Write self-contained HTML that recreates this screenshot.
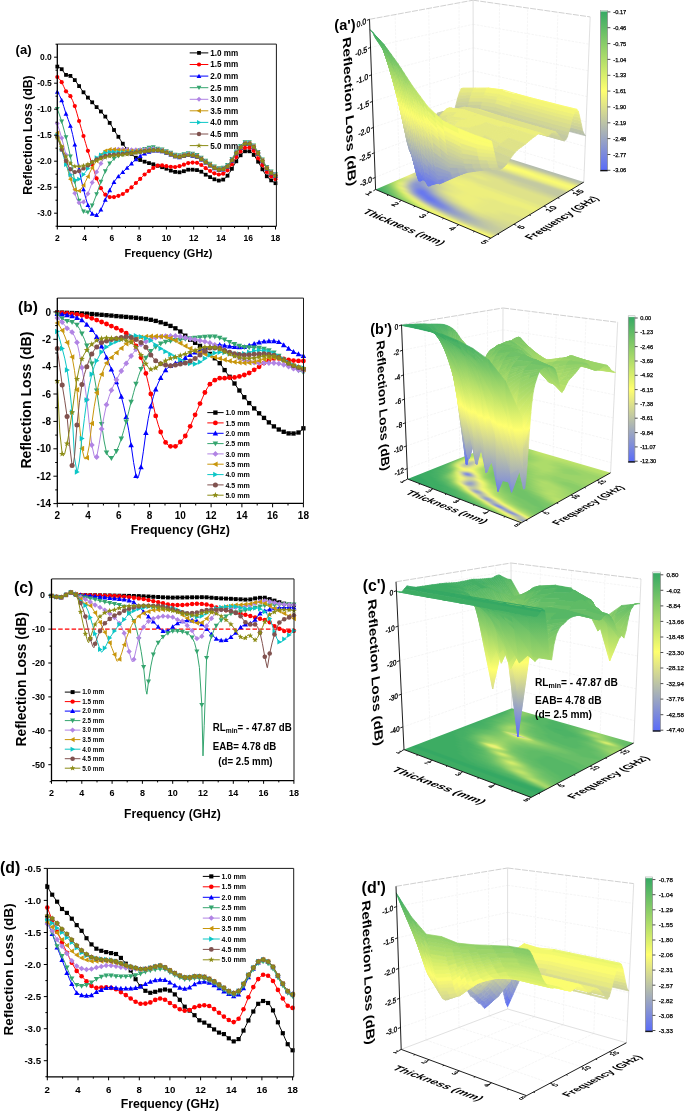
<!DOCTYPE html><html><head><meta charset="utf-8"><title>Reflection loss</title><style>html,body{margin:0;padding:0;background:#fff}#fig{position:relative;width:685px;height:1112px;overflow:hidden;background:#fff}.ly,.fl{position:absolute;left:0;top:0;display:block}.fl{transform-origin:0 0;overflow:hidden}.fl path{stroke:none!important}.c0{fill:#586afa;stroke:#586afa}.c1{fill:#5f70f4;stroke:#5f70f4}.c2{fill:#6677ee;stroke:#6677ee}.c3{fill:#6d7de8;stroke:#6d7de8}.c4{fill:#7483e2;stroke:#7483e2}.c5{fill:#7c8adc;stroke:#7c8adc}.c6{fill:#8390d6;stroke:#8390d6}.c7{fill:#8a96d0;stroke:#8a96d0}.c8{fill:#919dca;stroke:#919dca}.c9{fill:#98a3c4;stroke:#98a3c4}.c10{fill:#9fa9be;stroke:#9fa9be}.c11{fill:#a6b0b8;stroke:#a6b0b8}.c12{fill:#adb6b3;stroke:#adb6b3}.c13{fill:#b4bcad;stroke:#b4bcad}.c14{fill:#bbc3a7;stroke:#bbc3a7}.c15{fill:#c3c9a1;stroke:#c3c9a1}.c16{fill:#cacf9b;stroke:#cacf9b}.c17{fill:#d1d695;stroke:#d1d695}.c18{fill:#d8dc8f;stroke:#d8dc8f}.c19{fill:#dfe289;stroke:#dfe289}.c20{fill:#e6e983;stroke:#e6e983}.c21{fill:#edef7d;stroke:#edef7d}.c22{fill:#f4f577;stroke:#f4f577}.c23{fill:#fbfc71;stroke:#fbfc71}.c24{fill:#fbfd6e;stroke:#fbfd6e}.c25{fill:#f2f96d;stroke:#f2f96d}.c26{fill:#e9f66d;stroke:#e9f66d}.c27{fill:#e1f26d;stroke:#e1f26d}.c28{fill:#d8ee6c;stroke:#d8ee6c}.c29{fill:#cfeb6c;stroke:#cfeb6c}.c30{fill:#c7e76b;stroke:#c7e76b}.c31{fill:#bee36b;stroke:#bee36b}.c32{fill:#b6e06a;stroke:#b6e06a}.c33{fill:#addc6a;stroke:#addc6a}.c34{fill:#a4d86a;stroke:#a4d86a}.c35{fill:#9cd469;stroke:#9cd469}.c36{fill:#93d169;stroke:#93d169}.c37{fill:#8acd68;stroke:#8acd68}.c38{fill:#82c968;stroke:#82c968}.c39{fill:#79c667;stroke:#79c667}.c40{fill:#70c267;stroke:#70c267}.c41{fill:#68be67;stroke:#68be67}.c42{fill:#5fbb66;stroke:#5fbb66}.c43{fill:#57b766;stroke:#57b766}.c44{fill:#4eb365;stroke:#4eb365}.c45{fill:#45af65;stroke:#45af65}.c46{fill:#3dac64;stroke:#3dac64}.c47{fill:#34a864;stroke:#34a864}.v15_3{fill:url(#v15_3);stroke:url(#v15_3)}.v16_5{fill:url(#v16_5);stroke:url(#v16_5)}.v16_10{fill:url(#v16_10);stroke:url(#v16_10)}.v17_7{fill:url(#v17_7);stroke:url(#v17_7)}.v17_12{fill:url(#v17_12);stroke:url(#v17_12)}.v18_5{fill:url(#v18_5);stroke:url(#v18_5)}.v18_10{fill:url(#v18_10);stroke:url(#v18_10)}.v19_4{fill:url(#v19_4);stroke:url(#v19_4)}.v19_15{fill:url(#v19_15);stroke:url(#v19_15)}.v20_4{fill:url(#v20_4);stroke:url(#v20_4)}.v20_8{fill:url(#v20_8);stroke:url(#v20_8)}.v20_10{fill:url(#v20_10);stroke:url(#v20_10)}.v21_7{fill:url(#v21_7);stroke:url(#v21_7)}.v21_8{fill:url(#v21_8);stroke:url(#v21_8)}.v21_14{fill:url(#v21_14);stroke:url(#v21_14)}.v22_6{fill:url(#v22_6);stroke:url(#v22_6)}.v22_7{fill:url(#v22_7);stroke:url(#v22_7)}.v22_10{fill:url(#v22_10);stroke:url(#v22_10)}.v23_6{fill:url(#v23_6);stroke:url(#v23_6)}.v23_7{fill:url(#v23_7);stroke:url(#v23_7)}.v23_8{fill:url(#v23_8);stroke:url(#v23_8)}.v23_12{fill:url(#v23_12);stroke:url(#v23_12)}.v24_5{fill:url(#v24_5);stroke:url(#v24_5)}.v25_2{fill:url(#v25_2);stroke:url(#v25_2)}.v25_6{fill:url(#v25_6);stroke:url(#v25_6)}.v25_8{fill:url(#v25_8);stroke:url(#v25_8)}.v25_10{fill:url(#v25_10);stroke:url(#v25_10)}.v25_18{fill:url(#v25_18);stroke:url(#v25_18)}.v26_4{fill:url(#v26_4);stroke:url(#v26_4)}.v26_6{fill:url(#v26_6);stroke:url(#v26_6)}.v26_8{fill:url(#v26_8);stroke:url(#v26_8)}.v27_1{fill:url(#v27_1);stroke:url(#v27_1)}.v27_6{fill:url(#v27_6);stroke:url(#v27_6)}.v27_7{fill:url(#v27_7);stroke:url(#v27_7)}.v27_8{fill:url(#v27_8);stroke:url(#v27_8)}.v27_16{fill:url(#v27_16);stroke:url(#v27_16)}.v27_17{fill:url(#v27_17);stroke:url(#v27_17)}.v28_4{fill:url(#v28_4);stroke:url(#v28_4)}.v28_8{fill:url(#v28_8);stroke:url(#v28_8)}.v28_12{fill:url(#v28_12);stroke:url(#v28_12)}.v29_1{fill:url(#v29_1);stroke:url(#v29_1)}.v29_6{fill:url(#v29_6);stroke:url(#v29_6)}.v29_7{fill:url(#v29_7);stroke:url(#v29_7)}.v29_11{fill:url(#v29_11);stroke:url(#v29_11)}.v29_13{fill:url(#v29_13);stroke:url(#v29_13)}.v29_14{fill:url(#v29_14);stroke:url(#v29_14)}.v29_23{fill:url(#v29_23);stroke:url(#v29_23)}.v30_6{fill:url(#v30_6);stroke:url(#v30_6)}.v30_12{fill:url(#v30_12);stroke:url(#v30_12)}.v30_13{fill:url(#v30_13);stroke:url(#v30_13)}.v30_15{fill:url(#v30_15);stroke:url(#v30_15)}.v30_22{fill:url(#v30_22);stroke:url(#v30_22)}.v31_2{fill:url(#v31_2);stroke:url(#v31_2)}.v31_6{fill:url(#v31_6);stroke:url(#v31_6)}.v31_7{fill:url(#v31_7);stroke:url(#v31_7)}.v31_8{fill:url(#v31_8);stroke:url(#v31_8)}.v31_10{fill:url(#v31_10);stroke:url(#v31_10)}.v31_11{fill:url(#v31_11);stroke:url(#v31_11)}.v31_16{fill:url(#v31_16);stroke:url(#v31_16)}.v31_17{fill:url(#v31_17);stroke:url(#v31_17)}.v31_18{fill:url(#v31_18);stroke:url(#v31_18)}.v31_20{fill:url(#v31_20);stroke:url(#v31_20)}.v32_4{fill:url(#v32_4);stroke:url(#v32_4)}.v32_8{fill:url(#v32_8);stroke:url(#v32_8)}.v32_9{fill:url(#v32_9);stroke:url(#v32_9)}.v32_15{fill:url(#v32_15);stroke:url(#v32_15)}.v32_19{fill:url(#v32_19);stroke:url(#v32_19)}.v33_7{fill:url(#v33_7);stroke:url(#v33_7)}.v33_9{fill:url(#v33_9);stroke:url(#v33_9)}.v33_13{fill:url(#v33_13);stroke:url(#v33_13)}.v33_17{fill:url(#v33_17);stroke:url(#v33_17)}.v33_21{fill:url(#v33_21);stroke:url(#v33_21)}.v33_22{fill:url(#v33_22);stroke:url(#v33_22)}.v33_23{fill:url(#v33_23);stroke:url(#v33_23)}.v33_24{fill:url(#v33_24);stroke:url(#v33_24)}.v33_29{fill:url(#v33_29);stroke:url(#v33_29)}.v34_4{fill:url(#v34_4);stroke:url(#v34_4)}.v34_6{fill:url(#v34_6);stroke:url(#v34_6)}.v34_9{fill:url(#v34_9);stroke:url(#v34_9)}.v34_11{fill:url(#v34_11);stroke:url(#v34_11)}.v34_13{fill:url(#v34_13);stroke:url(#v34_13)}.v34_14{fill:url(#v34_14);stroke:url(#v34_14)}.v34_15{fill:url(#v34_15);stroke:url(#v34_15)}.v34_16{fill:url(#v34_16);stroke:url(#v34_16)}.v34_18{fill:url(#v34_18);stroke:url(#v34_18)}.v34_20{fill:url(#v34_20);stroke:url(#v34_20)}.v34_25{fill:url(#v34_25);stroke:url(#v34_25)}.v34_26{fill:url(#v34_26);stroke:url(#v34_26)}.v34_28{fill:url(#v34_28);stroke:url(#v34_28)}.v35_0{fill:url(#v35_0);stroke:url(#v35_0)}.v35_9{fill:url(#v35_9);stroke:url(#v35_9)}.v35_10{fill:url(#v35_10);stroke:url(#v35_10)}.v35_12{fill:url(#v35_12);stroke:url(#v35_12)}.v35_14{fill:url(#v35_14);stroke:url(#v35_14)}.v35_18{fill:url(#v35_18);stroke:url(#v35_18)}.v35_23{fill:url(#v35_23);stroke:url(#v35_23)}.v35_27{fill:url(#v35_27);stroke:url(#v35_27)}.v35_28{fill:url(#v35_28);stroke:url(#v35_28)}.v35_29{fill:url(#v35_29);stroke:url(#v35_29)}.v35_31{fill:url(#v35_31);stroke:url(#v35_31)}.v36_1{fill:url(#v36_1);stroke:url(#v36_1)}.v36_2{fill:url(#v36_2);stroke:url(#v36_2)}.v36_8{fill:url(#v36_8);stroke:url(#v36_8)}.v36_15{fill:url(#v36_15);stroke:url(#v36_15)}.v36_18{fill:url(#v36_18);stroke:url(#v36_18)}.v36_21{fill:url(#v36_21);stroke:url(#v36_21)}.v36_22{fill:url(#v36_22);stroke:url(#v36_22)}.v36_24{fill:url(#v36_24);stroke:url(#v36_24)}.v36_25{fill:url(#v36_25);stroke:url(#v36_25)}.v36_28{fill:url(#v36_28);stroke:url(#v36_28)}.v36_30{fill:url(#v36_30);stroke:url(#v36_30)}.v36_31{fill:url(#v36_31);stroke:url(#v36_31)}.v36_32{fill:url(#v36_32);stroke:url(#v36_32)}.v36_33{fill:url(#v36_33);stroke:url(#v36_33)}.v37_0{fill:url(#v37_0);stroke:url(#v37_0)}.v37_11{fill:url(#v37_11);stroke:url(#v37_11)}.v37_13{fill:url(#v37_13);stroke:url(#v37_13)}.v37_19{fill:url(#v37_19);stroke:url(#v37_19)}.v37_21{fill:url(#v37_21);stroke:url(#v37_21)}.v37_22{fill:url(#v37_22);stroke:url(#v37_22)}.v37_25{fill:url(#v37_25);stroke:url(#v37_25)}.v37_26{fill:url(#v37_26);stroke:url(#v37_26)}.v37_27{fill:url(#v37_27);stroke:url(#v37_27)}.v37_28{fill:url(#v37_28);stroke:url(#v37_28)}.v37_29{fill:url(#v37_29);stroke:url(#v37_29)}.v37_30{fill:url(#v37_30);stroke:url(#v37_30)}.v37_31{fill:url(#v37_31);stroke:url(#v37_31)}.v37_32{fill:url(#v37_32);stroke:url(#v37_32)}.v37_33{fill:url(#v37_33);stroke:url(#v37_33)}.v37_34{fill:url(#v37_34);stroke:url(#v37_34)}.v38_0{fill:url(#v38_0);stroke:url(#v38_0)}.v38_16{fill:url(#v38_16);stroke:url(#v38_16)}.v38_18{fill:url(#v38_18);stroke:url(#v38_18)}.v38_26{fill:url(#v38_26);stroke:url(#v38_26)}.v38_27{fill:url(#v38_27);stroke:url(#v38_27)}.v38_28{fill:url(#v38_28);stroke:url(#v38_28)}.v38_29{fill:url(#v38_29);stroke:url(#v38_29)}.v38_30{fill:url(#v38_30);stroke:url(#v38_30)}.v38_31{fill:url(#v38_31);stroke:url(#v38_31)}.v38_32{fill:url(#v38_32);stroke:url(#v38_32)}.v38_33{fill:url(#v38_33);stroke:url(#v38_33)}.v38_34{fill:url(#v38_34);stroke:url(#v38_34)}.v38_35{fill:url(#v38_35);stroke:url(#v38_35)}.v39_1{fill:url(#v39_1);stroke:url(#v39_1)}.v39_15{fill:url(#v39_15);stroke:url(#v39_15)}.v39_16{fill:url(#v39_16);stroke:url(#v39_16)}.v39_22{fill:url(#v39_22);stroke:url(#v39_22)}.v39_23{fill:url(#v39_23);stroke:url(#v39_23)}.v39_27{fill:url(#v39_27);stroke:url(#v39_27)}.v39_28{fill:url(#v39_28);stroke:url(#v39_28)}.v39_29{fill:url(#v39_29);stroke:url(#v39_29)}.v39_30{fill:url(#v39_30);stroke:url(#v39_30)}.v39_31{fill:url(#v39_31);stroke:url(#v39_31)}.v39_32{fill:url(#v39_32);stroke:url(#v39_32)}.v39_33{fill:url(#v39_33);stroke:url(#v39_33)}.v39_34{fill:url(#v39_34);stroke:url(#v39_34)}.v39_35{fill:url(#v39_35);stroke:url(#v39_35)}.v39_36{fill:url(#v39_36);stroke:url(#v39_36)}.v40_5{fill:url(#v40_5);stroke:url(#v40_5)}.v40_12{fill:url(#v40_12);stroke:url(#v40_12)}.v40_20{fill:url(#v40_20);stroke:url(#v40_20)}.v40_21{fill:url(#v40_21);stroke:url(#v40_21)}.v40_25{fill:url(#v40_25);stroke:url(#v40_25)}.v40_26{fill:url(#v40_26);stroke:url(#v40_26)}.v40_27{fill:url(#v40_27);stroke:url(#v40_27)}.v40_28{fill:url(#v40_28);stroke:url(#v40_28)}.v40_31{fill:url(#v40_31);stroke:url(#v40_31)}.v40_32{fill:url(#v40_32);stroke:url(#v40_32)}.v40_33{fill:url(#v40_33);stroke:url(#v40_33)}.v40_34{fill:url(#v40_34);stroke:url(#v40_34)}.v40_35{fill:url(#v40_35);stroke:url(#v40_35)}.v40_36{fill:url(#v40_36);stroke:url(#v40_36)}.v40_37{fill:url(#v40_37);stroke:url(#v40_37)}.v41_10{fill:url(#v41_10);stroke:url(#v41_10)}.v41_11{fill:url(#v41_11);stroke:url(#v41_11)}.v41_14{fill:url(#v41_14);stroke:url(#v41_14)}.v41_18{fill:url(#v41_18);stroke:url(#v41_18)}.v41_25{fill:url(#v41_25);stroke:url(#v41_25)}.v41_27{fill:url(#v41_27);stroke:url(#v41_27)}.v41_29{fill:url(#v41_29);stroke:url(#v41_29)}.v41_30{fill:url(#v41_30);stroke:url(#v41_30)}.v41_31{fill:url(#v41_31);stroke:url(#v41_31)}.v41_33{fill:url(#v41_33);stroke:url(#v41_33)}.v41_34{fill:url(#v41_34);stroke:url(#v41_34)}.v41_35{fill:url(#v41_35);stroke:url(#v41_35)}.v41_36{fill:url(#v41_36);stroke:url(#v41_36)}.v41_37{fill:url(#v41_37);stroke:url(#v41_37)}.v41_38{fill:url(#v41_38);stroke:url(#v41_38)}.v42_10{fill:url(#v42_10);stroke:url(#v42_10)}.v42_21{fill:url(#v42_21);stroke:url(#v42_21)}.v42_23{fill:url(#v42_23);stroke:url(#v42_23)}.v42_25{fill:url(#v42_25);stroke:url(#v42_25)}.v42_28{fill:url(#v42_28);stroke:url(#v42_28)}.v42_29{fill:url(#v42_29);stroke:url(#v42_29)}.v42_31{fill:url(#v42_31);stroke:url(#v42_31)}.v42_33{fill:url(#v42_33);stroke:url(#v42_33)}.v42_34{fill:url(#v42_34);stroke:url(#v42_34)}.v42_35{fill:url(#v42_35);stroke:url(#v42_35)}.v42_36{fill:url(#v42_36);stroke:url(#v42_36)}.v42_37{fill:url(#v42_37);stroke:url(#v42_37)}.v42_38{fill:url(#v42_38);stroke:url(#v42_38)}.v42_39{fill:url(#v42_39);stroke:url(#v42_39)}.v43_10{fill:url(#v43_10);stroke:url(#v43_10)}.v43_12{fill:url(#v43_12);stroke:url(#v43_12)}.v43_13{fill:url(#v43_13);stroke:url(#v43_13)}.v43_26{fill:url(#v43_26);stroke:url(#v43_26)}.v43_27{fill:url(#v43_27);stroke:url(#v43_27)}.v43_29{fill:url(#v43_29);stroke:url(#v43_29)}.v43_30{fill:url(#v43_30);stroke:url(#v43_30)}.v43_31{fill:url(#v43_31);stroke:url(#v43_31)}.v43_33{fill:url(#v43_33);stroke:url(#v43_33)}.v43_34{fill:url(#v43_34);stroke:url(#v43_34)}.v43_35{fill:url(#v43_35);stroke:url(#v43_35)}.v43_36{fill:url(#v43_36);stroke:url(#v43_36)}.v43_37{fill:url(#v43_37);stroke:url(#v43_37)}.v43_38{fill:url(#v43_38);stroke:url(#v43_38)}.v43_39{fill:url(#v43_39);stroke:url(#v43_39)}.v44_14{fill:url(#v44_14);stroke:url(#v44_14)}.v44_16{fill:url(#v44_16);stroke:url(#v44_16)}.v44_33{fill:url(#v44_33);stroke:url(#v44_33)}.v44_34{fill:url(#v44_34);stroke:url(#v44_34)}.v44_35{fill:url(#v44_35);stroke:url(#v44_35)}.v44_36{fill:url(#v44_36);stroke:url(#v44_36)}.v44_37{fill:url(#v44_37);stroke:url(#v44_37)}.v44_38{fill:url(#v44_38);stroke:url(#v44_38)}.v44_39{fill:url(#v44_39);stroke:url(#v44_39)}.v44_40{fill:url(#v44_40);stroke:url(#v44_40)}.v45_18{fill:url(#v45_18);stroke:url(#v45_18)}.v45_21{fill:url(#v45_21);stroke:url(#v45_21)}.v45_24{fill:url(#v45_24);stroke:url(#v45_24)}.v45_27{fill:url(#v45_27);stroke:url(#v45_27)}.v45_30{fill:url(#v45_30);stroke:url(#v45_30)}.v45_32{fill:url(#v45_32);stroke:url(#v45_32)}.v45_34{fill:url(#v45_34);stroke:url(#v45_34)}.v45_36{fill:url(#v45_36);stroke:url(#v45_36)}.v45_38{fill:url(#v45_38);stroke:url(#v45_38)}.v45_39{fill:url(#v45_39);stroke:url(#v45_39)}.v45_40{fill:url(#v45_40);stroke:url(#v45_40)}.v45_41{fill:url(#v45_41);stroke:url(#v45_41)}.v45_42{fill:url(#v45_42);stroke:url(#v45_42)}.v46_41{fill:url(#v46_41);stroke:url(#v46_41)}</style></head><body><div id="fig"><svg width="685" height="1112" viewBox="0 0 685 1112" class="ly"><path d="M370.5 47.4L473.1 24.3M473.1 24.3L589.1 44.2M371.5 74.8L473.2 47.8M473.2 47.8L588.1 70.7M372.5 101.4L473.2 70.8M473.2 70.8L587.1 96.6M373.4 127.4L473.3 93.3M473.3 93.3L586.1 121.8M374.3 152.8L473.3 115.3M473.3 115.3L585.2 146.4M375.2 177.5L473.3 136.9M473.3 136.9L584.2 170.5M498.5 155.2L499.5 4.0M525.2 163.6L527.7 8.0M553.6 172.6L557.9 12.3M399.5 179.2L395.1 14.6M431.0 165.6L428.7 8.4M459.8 153.2L459.0 2.8" stroke="#f1f1f1" stroke-width=".7" stroke-dasharray="2.5 1.2" fill="none"/>
<path d="M369.5 19.3L473.1 0.2M473.1 0.2L590.2 16.9" stroke="#c4c4c4" stroke-width=".8" stroke-dasharray="6 1.2" fill="none"/>
<path d="M473.3 147.3L473.1 0.2M583.8 182.1L590.2 16.9" stroke="#dcdcdc" stroke-width=".9" fill="none"/>
<path d="M402.5 350.2L502.9 329.8M502.9 329.8L616.5 347.1M403.5 374.9L502.9 351.0M502.9 351.0L615.4 371.2M404.5 399.1L502.8 371.9M502.8 371.9L614.3 394.8M405.4 422.8L502.7 392.4M502.7 392.4L613.2 417.9M406.3 446.0L502.6 412.5M502.6 412.5L612.1 440.5M407.2 468.6L502.6 432.2M502.6 432.2L611.1 462.7M527.0 448.4L528.8 311.2M553.1 456.0L556.4 314.7M580.9 464.1L586.0 318.4M429.0 470.5L424.6 321.0M459.8 458.2L457.6 315.5M487.9 447.1L487.5 310.6" stroke="#f1f1f1" stroke-width=".7" stroke-dasharray="2.5 1.2" fill="none"/>
<path d="M401.5 324.8L503.0 308.0M503.0 308.0L617.7 322.3" stroke="#c4c4c4" stroke-width=".8" stroke-dasharray="6 1.2" fill="none"/>
<path d="M502.5 441.3L503.0 308.0M610.6 472.8L617.7 322.3" stroke="#dcdcdc" stroke-width=".9" fill="none"/>
<path d="M396.4 590.7L511.0 570.7M511.0 570.7L640.6 587.7M398.1 626.1L511.2 601.2M511.2 601.2L639.1 622.3M399.8 660.6L511.4 630.9M511.4 630.9L637.6 656.0M401.4 694.2L511.5 660.1M511.5 660.1L636.1 688.8M402.9 726.9L511.7 688.6M511.7 688.6L634.7 720.8M539.4 716.2L540.3 566.6M568.9 724.6L571.6 570.5M600.2 733.5L605.1 574.6M430.4 739.5L424.4 577.2M465.2 726.2L461.6 571.1M497.0 714.0L495.3 565.6" stroke="#f1f1f1" stroke-width=".7" stroke-dasharray="2.5 1.2" fill="none"/>
<path d="M396.0 581.8L511.0 563.0M511.0 563.0L641.0 579.0" stroke="#c4c4c4" stroke-width=".8" stroke-dasharray="6 1.2" fill="none"/>
<path d="M511.8 708.4L511.0 563.0M633.7 743.0L641.0 579.0" stroke="#dcdcdc" stroke-width=".9" fill="none"/>
<path d="M396.7 906.5L507.6 885.3M507.6 885.3L632.8 903.3M397.7 937.8L507.6 912.3M507.6 912.3L631.4 933.9M398.7 968.4L507.6 938.7M507.6 938.7L630.0 963.7M399.6 998.3L507.6 964.6M507.6 964.6L628.7 992.9M400.5 1027.5L507.6 989.9M507.6 989.9L627.4 1021.4M534.6 1016.7L536.1 871.5M563.3 1024.8L566.5 875.3M593.8 1033.5L598.9 879.3M426.0 1040.0L422.2 882.0M459.0 1027.5L456.9 876.3M489.2 1016.0L488.4 871.1M429.2 1059.7L534.6 1016.7M459.3 1070.9L563.3 1024.8M491.6 1082.8L593.8 1033.5M426.0 1040.0L550.2 1083.2M459.0 1027.5L581.3 1066.7M489.2 1016.0L609.4 1051.8" stroke="#f1f1f1" stroke-width=".7" stroke-dasharray="2.5 1.2" fill="none"/>
<path d="M396.0 886.3L507.6 868.0M507.6 868.0L633.7 883.6" stroke="#c4c4c4" stroke-width=".8" stroke-dasharray="6 1.2" fill="none"/>
<path d="M507.6 1009.0L507.6 868.0M626.4 1042.8L633.7 883.6M401.2 1049.4L507.6 1009.0M507.6 1009.0L626.4 1042.8" stroke="#dcdcdc" stroke-width=".9" fill="none"/></svg><svg class="fl" width="200" height="64" viewBox="0 0 50 16" style="transform:matrix3d(0.88029,-0.08898,0,0.0008274,0.68296,0.21881,0,-0.0022760,0,0,1,0,375.600,189.500,0,1)"><filter id="fba" x="0" y="0" width="1" height="1"><feGaussianBlur stdDeviation="0.45 0.55"/></filter><g filter="url(#fba)" stroke="none"><path class="c1" d="M8 3.5h2v1h-2zM6 5.5h1v1h-1z"/><path class="c2" d="M7 3.5h1v1h-1zM7 4.5h1v1h-1zM7 5.5h1v1h-1z"/><path class="c3" d="M8 4.5h1v1h-1zM5 5.5h1v1h-1zM6 6.5h1v1h-1z"/><path class="c4" d="M10 3.5h1v1h-1zM6 4.5h1v1h-1zM5 6.5h1v1h-1zM5 7.5h1v1h-1z"/><path class="c5" d="M9 4.5h1v1h-1zM8 5.5h1v1h-1zM7 6.5h1v1h-1zM4 7.5h1v1h-1zM6 7.5h1v1h-1z"/><path class="c6" d="M11 1.5h3v1h-3zM9 2.5h3v1h-3zM6 3.5h1v1h-1zM4 6.5h1v1h-1zM5 8.5h1v1h-1z"/><path class="c7" d="M14 1.5h2v1h-2zM8 2.5h1v1h-1zM11 3.5h1v1h-1zM5 4.5h1v1h-1zM4 8.5h1v1h-1z"/><path class="c8" d="M10 1.5h1v1h-1zM16 1.5h1v1h-1zM12 2.5h1v1h-1zM10 4.5h1v1h-1zM4 5.5h1v1h-1zM6 8.5h1v1h-1zM4 9.5h1v1h-1z"/><path class="c9" d="M13 2.5h1v1h-1zM9 5.5h1v1h-1zM8 6.5h1v1h-1zM7 7.5h1v1h-1zM5 9.5h1v1h-1z"/><path class="c10" d="M9 1.5h1v1h-1zM17 1.5h1v1h-1zM7 2.5h1v1h-1zM14 2.5h1v1h-1zM12 3.5h1v1h-1zM3 7.5h1v1h-1zM3 8.5h1v1h-1zM3 9.5h1v1h-1zM4 10.5h2v1h-2z"/><path class="c11" d="M36 -2h2v2.5h-2zM49 -2h3v2.5h-3zM49 0.5h3v1h-3zM18 1.5h1v1h-1zM15 2.5h1v1h-1zM5 3.5h1v1h-1zM11 4.5h1v1h-1zM7 8.5h1v1h-1zM6 9.5h1v1h-1zM3 10.5h1v1h-1zM4 11.5h1v1h-1z"/><path class="c12" d="M35 -2h1v2.5h-1zM38 -2h1v2.5h-1zM48 -2h1v2.5h-1zM36 0.5h2v1h-2zM48 0.5h1v1h-1zM19 1.5h1v1h-1zM49 1.5h3v1h-3zM16 2.5h1v1h-1zM49 2.5h3v1h-3zM13 3.5h1v1h-1zM3 6.5h1v1h-1zM9 6.5h1v1h-1zM8 7.5h1v1h-1zM6 10.5h1v1h-1zM3 11.5h1v1h-1zM5 11.5h1v1h-1z"/><path class="c13" d="M33 -2h2v2.5h-2zM35 0.5h1v1h-1zM38 0.5h1v1h-1zM36 1.5h2v1h-2zM48 1.5h1v1h-1zM17 2.5h1v1h-1zM14 3.5h1v1h-1zM49 3.5h3v1h-3zM4 4.5h1v1h-1zM12 4.5h1v1h-1zM49 4.5h3v1h-3zM10 5.5h1v1h-1zM49 6.5h3v1h-3zM49 7.5h3v1h-3zM49 8.5h3v1h-3zM49 9.5h3v1h-3zM49 10.5h3v1h-3zM49 11.5h3v1h-3zM3 12.5h3v1h-3zM49 12.5h3v1h-3zM49 13.5h3v1h-3zM49 14.5h3v1h-3zM49 15.5h3v3.5h-3z"/><path class="c14" d="M26 -2h4v2.5h-4zM32 -2h1v2.5h-1zM39 -2h1v2.5h-1zM47 -2h1v2.5h-1zM16 0.5h2v1h-2zM34 0.5h1v1h-1zM39 0.5h1v1h-1zM47 0.5h1v1h-1zM8 1.5h1v1h-1zM20 1.5h1v1h-1zM35 1.5h1v1h-1zM38 1.5h1v1h-1zM6 2.5h1v1h-1zM36 2.5h3v1h-3zM48 2.5h1v1h-1zM15 3.5h1v1h-1zM48 3.5h1v1h-1zM48 4.5h1v1h-1zM49 5.5h3v1h-3zM48 7.5h1v1h-1zM8 8.5h1v1h-1zM48 8.5h1v1h-1zM2 9.5h1v1h-1zM7 9.5h1v1h-1zM48 9.5h1v1h-1zM2 10.5h1v1h-1zM48 10.5h1v1h-1zM2 11.5h1v1h-1zM6 11.5h1v1h-1zM48 11.5h1v1h-1zM48 12.5h1v1h-1zM3 13.5h2v1h-2zM48 13.5h1v1h-1zM48 14.5h1v1h-1zM48 15.5h1v3.5h-1z"/><path class="c15" d="M24 -2h2v2.5h-2zM30 -2h2v2.5h-2zM14 0.5h2v1h-2zM18 0.5h3v1h-3zM24 0.5h6v1h-6zM32 0.5h2v1h-2zM21 1.5h1v1h-1zM26 1.5h1v1h-1zM34 1.5h1v1h-1zM39 1.5h1v1h-1zM47 1.5h1v1h-1zM18 2.5h1v1h-1zM34 2.5h2v1h-2zM47 2.5h1v1h-1zM35 3.5h4v1h-4zM13 4.5h1v1h-1zM36 4.5h3v1h-3zM3 5.5h1v1h-1zM11 5.5h1v1h-1zM36 5.5h3v1h-3zM48 5.5h1v1h-1zM10 6.5h1v1h-1zM36 6.5h3v1h-3zM48 6.5h1v1h-1zM9 7.5h1v1h-1zM36 7.5h3v1h-3zM2 8.5h1v1h-1zM36 8.5h3v1h-3zM36 9.5h3v1h-3zM7 10.5h1v1h-1zM36 10.5h3v1h-3zM36 11.5h3v1h-3zM2 12.5h1v1h-1zM6 12.5h1v1h-1zM36 12.5h3v1h-3zM5 13.5h2v1h-2zM35 13.5h4v1h-4zM3 14.5h3v1h-3zM35 14.5h4v1h-4zM35 15.5h4v3.5h-4z"/><path class="c16" d="M21 -2h3v2.5h-3zM40 -2h1v2.5h-1zM46 -2h1v2.5h-1zM13 0.5h1v1h-1zM21 0.5h3v1h-3zM30 0.5h2v1h-2zM46 0.5h1v1h-1zM22 1.5h4v1h-4zM27 1.5h3v1h-3zM32 1.5h2v1h-2zM19 2.5h1v1h-1zM33 2.5h1v1h-1zM39 2.5h1v1h-1zM16 3.5h1v1h-1zM34 3.5h1v1h-1zM39 3.5h1v1h-1zM47 3.5h1v1h-1zM14 4.5h1v1h-1zM35 4.5h1v1h-1zM47 4.5h1v1h-1zM35 5.5h1v1h-1zM35 6.5h1v1h-1zM47 6.5h1v1h-1zM2 7.5h1v1h-1zM35 7.5h1v1h-1zM47 7.5h1v1h-1zM35 8.5h1v1h-1zM47 8.5h1v1h-1zM8 9.5h1v1h-1zM35 9.5h1v1h-1zM47 9.5h1v1h-1zM34 10.5h2v1h-2zM47 10.5h1v1h-1zM7 11.5h1v1h-1zM34 11.5h2v1h-2zM39 11.5h1v1h-1zM47 11.5h1v1h-1zM7 12.5h1v1h-1zM34 12.5h2v1h-2zM39 12.5h1v1h-1zM47 12.5h1v1h-1zM2 13.5h1v1h-1zM7 13.5h1v1h-1zM34 13.5h1v1h-1zM39 13.5h1v1h-1zM47 13.5h1v1h-1zM6 14.5h1v1h-1zM34 14.5h1v1h-1zM39 14.5h1v1h-1zM47 14.5h1v1h-1zM3 15.5h4v3.5h-4zM34 15.5h1v3.5h-1zM39 15.5h1v3.5h-1zM47 15.5h1v3.5h-1z"/><path class="c17" d="M19 -2h2v2.5h-2zM12 0.5h1v1h-1zM40 0.5h1v1h-1zM30 1.5h2v1h-2zM40 1.5h1v1h-1zM46 1.5h1v1h-1zM20 2.5h1v1h-1zM26 2.5h3v1h-3zM32 2.5h1v1h-1zM17 3.5h1v1h-1zM33 3.5h1v1h-1zM15 4.5h1v1h-1zM34 4.5h1v1h-1zM39 4.5h1v1h-1zM12 5.5h1v1h-1zM34 5.5h1v1h-1zM39 5.5h1v1h-1zM47 5.5h1v1h-1zM11 6.5h1v1h-1zM34 6.5h1v1h-1zM39 6.5h1v1h-1zM34 7.5h1v1h-1zM39 7.5h1v1h-1zM9 8.5h1v1h-1zM34 8.5h1v1h-1zM39 8.5h1v1h-1zM33 9.5h2v1h-2zM39 9.5h1v1h-1zM8 10.5h1v1h-1zM33 10.5h1v1h-1zM39 10.5h1v1h-1zM33 11.5h1v1h-1zM33 12.5h1v1h-1zM8 13.5h1v1h-1zM33 13.5h1v1h-1zM2 14.5h1v1h-1zM7 14.5h2v1h-2zM33 14.5h1v1h-1zM2 15.5h1v3.5h-1zM7 15.5h2v3.5h-2zM33 15.5h1v3.5h-1z"/><path class="c18" d="M18 -2h1v2.5h-1zM41 -2h1v2.5h-1zM45 -2h1v2.5h-1zM11 0.5h1v1h-1zM7 1.5h1v1h-1zM21 2.5h5v1h-5zM29 2.5h3v1h-3zM40 2.5h1v1h-1zM46 2.5h1v1h-1zM18 3.5h1v1h-1zM32 3.5h1v1h-1zM46 3.5h1v1h-1zM16 4.5h1v1h-1zM33 4.5h1v1h-1zM33 5.5h1v1h-1zM33 6.5h1v1h-1zM10 7.5h1v1h-1zM33 7.5h1v1h-1zM33 8.5h1v1h-1zM9 9.5h1v1h-1zM32 9.5h1v1h-1zM32 10.5h1v1h-1zM1 11.5h1v1h-1zM8 11.5h1v1h-1zM32 11.5h1v1h-1zM8 12.5h2v1h-2zM32 12.5h1v1h-1zM9 13.5h1v1h-1zM32 13.5h1v1h-1zM46 13.5h1v1h-1zM9 14.5h2v1h-2zM32 14.5h1v1h-1zM46 14.5h1v1h-1zM9 15.5h2v3.5h-2zM32 15.5h1v3.5h-1zM46 15.5h1v3.5h-1z"/><path class="c19" d="M17 -2h1v2.5h-1zM41 0.5h1v1h-1zM45 0.5h1v1h-1zM41 1.5h1v1h-1zM45 1.5h1v1h-1zM5 2.5h1v1h-1zM4 3.5h1v1h-1zM19 3.5h1v1h-1zM26 3.5h6v1h-6zM40 3.5h1v1h-1zM17 4.5h2v1h-2zM26 4.5h7v1h-7zM40 4.5h1v1h-1zM46 4.5h1v1h-1zM13 5.5h3v1h-3zM27 5.5h2v1h-2zM31 5.5h2v1h-2zM40 5.5h1v1h-1zM46 5.5h1v1h-1zM2 6.5h1v1h-1zM12 6.5h1v1h-1zM26 6.5h3v1h-3zM31 6.5h2v1h-2zM40 6.5h1v1h-1zM46 6.5h1v1h-1zM11 7.5h1v1h-1zM26 7.5h7v1h-7zM40 7.5h1v1h-1zM46 7.5h1v1h-1zM10 8.5h1v1h-1zM26 8.5h7v1h-7zM40 8.5h1v1h-1zM46 8.5h1v1h-1zM1 9.5h1v1h-1zM26 9.5h6v1h-6zM40 9.5h1v1h-1zM46 9.5h1v1h-1zM1 10.5h1v1h-1zM9 10.5h1v1h-1zM26 10.5h6v1h-6zM40 10.5h1v1h-1zM46 10.5h1v1h-1zM9 11.5h1v1h-1zM26 11.5h6v1h-6zM40 11.5h1v1h-1zM46 11.5h1v1h-1zM1 12.5h1v1h-1zM10 12.5h2v1h-2zM26 12.5h6v1h-6zM40 12.5h1v1h-1zM46 12.5h1v1h-1zM1 13.5h1v1h-1zM10 13.5h5v1h-5zM26 13.5h6v1h-6zM40 13.5h1v1h-1zM11 14.5h5v1h-5zM26 14.5h6v1h-6zM40 14.5h1v1h-1zM11 15.5h5v3.5h-5zM26 15.5h6v3.5h-6zM40 15.5h1v3.5h-1z"/><path class="c20" d="M16 -2h1v2.5h-1zM42 -2h3v2.5h-3zM10 0.5h1v1h-1zM42 0.5h1v1h-1zM41 2.5h1v1h-1zM45 2.5h1v1h-1zM20 3.5h2v1h-2zM23 3.5h3v1h-3zM3 4.5h1v1h-1zM19 4.5h1v1h-1zM24 4.5h2v1h-2zM16 5.5h3v1h-3zM25 5.5h2v1h-2zM29 5.5h2v1h-2zM13 6.5h5v1h-5zM25 6.5h1v1h-1zM29 6.5h2v1h-2zM12 7.5h1v1h-1zM24 7.5h2v1h-2zM11 8.5h1v1h-1zM24 8.5h2v1h-2zM10 9.5h1v1h-1zM17 9.5h1v1h-1zM24 9.5h2v1h-2zM10 10.5h10v1h-10zM24 10.5h2v1h-2zM10 11.5h10v1h-10zM24 11.5h2v1h-2zM12 12.5h8v1h-8zM24 12.5h2v1h-2zM15 13.5h6v1h-6zM24 13.5h2v1h-2zM1 14.5h1v1h-1zM16 14.5h5v1h-5zM24 14.5h2v1h-2zM1 15.5h1v3.5h-1zM16 15.5h5v3.5h-5zM24 15.5h2v3.5h-2z"/><path class="c21" d="M43 0.5h2v1h-2zM42 1.5h3v1h-3zM22 3.5h1v1h-1zM41 3.5h1v1h-1zM45 3.5h1v1h-1zM20 4.5h4v1h-4zM41 4.5h1v1h-1zM45 4.5h1v1h-1zM19 5.5h2v1h-2zM22 5.5h3v1h-3zM41 5.5h1v1h-1zM45 5.5h1v1h-1zM18 6.5h7v1h-7zM41 6.5h1v1h-1zM45 6.5h1v1h-1zM13 7.5h11v1h-11zM41 7.5h1v1h-1zM45 7.5h1v1h-1zM1 8.5h1v1h-1zM12 8.5h12v1h-12zM41 8.5h1v1h-1zM45 8.5h1v1h-1zM11 9.5h6v1h-6zM18 9.5h6v1h-6zM41 9.5h1v1h-1zM45 9.5h1v1h-1zM20 10.5h4v1h-4zM41 10.5h1v1h-1zM45 10.5h1v1h-1zM20 11.5h4v1h-4zM41 11.5h1v1h-1zM45 11.5h1v1h-1zM20 12.5h4v1h-4zM41 12.5h1v1h-1zM45 12.5h1v1h-1zM21 13.5h3v1h-3zM41 13.5h1v1h-1zM45 13.5h1v1h-1zM21 14.5h3v1h-3zM41 14.5h1v1h-1zM45 14.5h1v1h-1zM21 15.5h3v3.5h-3zM41 15.5h1v3.5h-1zM45 15.5h1v3.5h-1z"/><path class="c22" d="M15 -2h1v2.5h-1zM9 0.5h1v1h-1zM42 2.5h3v1h-3zM42 3.5h1v1h-1zM44 3.5h1v1h-1zM2 5.5h1v1h-1zM21 5.5h1v1h-1zM1 7.5h1v1h-1zM42 8.5h1v1h-1zM42 9.5h1v1h-1zM42 10.5h1v1h-1zM44 10.5h1v1h-1zM42 11.5h1v1h-1zM44 11.5h1v1h-1zM42 12.5h1v1h-1zM44 12.5h1v1h-1zM42 13.5h1v1h-1zM44 13.5h1v1h-1zM42 14.5h1v1h-1zM44 14.5h1v1h-1zM42 15.5h1v3.5h-1zM44 15.5h1v3.5h-1z"/><path class="c23" d="M6 1.5h1v1h-1zM43 3.5h1v1h-1zM42 4.5h3v1h-3zM42 5.5h3v1h-3zM42 6.5h3v1h-3zM42 7.5h3v1h-3zM43 8.5h2v1h-2zM43 9.5h2v1h-2zM43 10.5h1v1h-1zM-2 11.5h3v1h-3zM43 11.5h1v1h-1zM-2 12.5h3v1h-3zM43 12.5h1v1h-1zM-2 13.5h3v1h-3zM43 13.5h1v1h-1zM-2 14.5h3v1h-3zM43 14.5h1v1h-1zM-2 15.5h3v3.5h-3zM43 15.5h1v3.5h-1z"/><path class="c24" d="M14 -2h1v2.5h-1zM8 0.5h1v1h-1zM-2 9.5h3v1h-3zM-2 10.5h3v1h-3z"/><path class="c25" d="M4 2.5h1v1h-1zM1 6.5h1v1h-1zM-2 8.5h3v1h-3z"/><path class="c26" d="M13 -2h1v2.5h-1zM3 3.5h1v1h-1zM2 4.5h1v1h-1z"/><path class="c27" d="M7 0.5h1v1h-1zM5 1.5h1v1h-1zM1 5.5h1v1h-1zM-2 7.5h3v1h-3z"/><path class="c28" d="M12 -2h1v2.5h-1z"/><path class="c29" d="M-2 6.5h3v1h-3z"/><path class="c30" d="M11 -2h1v2.5h-1zM6 0.5h1v1h-1zM2 3.5h1v1h-1z"/><path class="c31" d="M3 2.5h1v1h-1zM1 4.5h1v1h-1z"/><path class="c32" d="M10 -2h1v2.5h-1zM4 1.5h1v1h-1zM-2 5.5h3v1h-3z"/><path class="c33" d="M9 -2h1v2.5h-1z"/><path class="c34" d="M5 0.5h1v1h-1zM2 2.5h1v1h-1zM1 3.5h1v1h-1z"/><path class="c35" d="M8 -2h1v2.5h-1zM-2 4.5h3v1h-3z"/><path class="c36" d="M7 -2h1v2.5h-1zM3 1.5h1v1h-1z"/><path class="c37" d="M4 0.5h1v1h-1zM1 2.5h1v1h-1z"/><path class="c38" d="M6 -2h1v2.5h-1zM2 1.5h1v1h-1zM-2 3.5h3v1h-3z"/><path class="c40" d="M5 -2h1v2.5h-1zM3 0.5h1v1h-1zM-2 2.5h3v1h-3z"/><path class="c41" d="M2 0.5h1v1h-1zM1 1.5h1v1h-1z"/><path class="c42" d="M4 -2h1v2.5h-1z"/><path class="c43" d="M3 -2h1v2.5h-1zM1 0.5h1v1h-1zM-2 1.5h3v1h-3z"/><path class="c44" d="M2 -2h1v2.5h-1z"/><path class="c45" d="M1 -2h1v2.5h-1zM-2 0.5h3v1h-3z"/><path class="c47" d="M-2 -2h3v2.5h-3z"/></g></svg>
<svg class="fl" width="400" height="128" viewBox="0 0 100 32" style="transform:matrix3d(0.44772,0.09045,0,0.0004187,0.31896,-0.22877,0,-0.0010921,0,0,1,0,407.600,479.000,0,1)"><filter id="fbb" x="0" y="0" width="1" height="1"><feGaussianBlur stdDeviation="0.5 0.6"/></filter><g filter="url(#fbb)" stroke="none"><path class="c1" d="M32 7.5h1v1h-1z"/><path class="c2" d="M33 7.5h1v1h-1z"/><path class="c3" d="M31 7.5h1v1h-1zM7 23.5h2v1h-2z"/><path class="c4" d="M6 27.5h1v1h-1z"/><path class="c5" d="M7 24.5h1v1h-1z"/><path class="c6" d="M34 7.5h1v1h-1zM21 11.5h2v1h-2zM15 15.5h1v1h-1zM11 19.5h1v1h-1zM6 26.5h1v1h-1zM5 27.5h1v1h-1z"/><path class="c7" d="M32 8.5h1v1h-1zM20 11.5h1v1h-1zM23 11.5h1v1h-1zM10 19.5h1v1h-1zM12 19.5h1v1h-1zM8 22.5h1v1h-1zM8 24.5h1v1h-1zM7 25.5h1v1h-1zM2 31.5h1v3.5h-1z"/><path class="c8" d="M30 7.5h1v1h-1zM31 8.5h1v1h-1zM14 15.5h1v1h-1zM16 15.5h1v1h-1zM6 28.5h1v1h-1z"/><path class="c9" d="M46 3.5h2v1h-2zM33 8.5h1v1h-1zM19 11.5h1v1h-1zM24 11.5h1v1h-1zM10 20.5h2v1h-2zM7 22.5h1v1h-1zM9 22.5h1v1h-1zM9 23.5h1v1h-1zM6 25.5h1v1h-1zM7 26.5h1v1h-1zM5 28.5h1v1h-1zM1 31.5h1v3.5h-1zM3 31.5h1v3.5h-1z"/><path class="c10" d="M44 3.5h2v1h-2zM48 3.5h2v1h-2zM32 6.5h2v1h-2zM15 16.5h1v1h-1zM12 18.5h1v1h-1zM9 21.5h1v1h-1zM5 26.5h1v1h-1z"/><path class="c11" d="M43 3.5h1v1h-1zM50 3.5h1v1h-1zM35 7.5h1v1h-1zM30 8.5h1v1h-1zM25 11.5h1v1h-1zM20 12.5h3v1h-3zM15 14.5h1v1h-1zM14 16.5h1v1h-1zM11 18.5h1v1h-1zM9 19.5h1v1h-1zM9 20.5h1v1h-1zM10 21.5h1v1h-1zM6 24.5h1v1h-1zM8 25.5h1v1h-1zM7 27.5h1v1h-1zM5 29.5h1v1h-1zM2 30.5h1v1h-1z"/><path class="c12" d="M51 3.5h1v1h-1zM31 6.5h1v1h-1zM29 7.5h1v1h-1zM34 8.5h1v1h-1zM22 10.5h1v1h-1zM19 12.5h1v1h-1zM23 12.5h1v1h-1zM16 14.5h1v1h-1zM13 15.5h1v1h-1zM17 15.5h1v1h-1zM13 16.5h1v1h-1zM16 16.5h1v1h-1zM12 20.5h1v1h-1zM8 21.5h1v1h-1zM3 30.5h1v1h-1zM4 31.5h1v3.5h-1z"/><path class="c13" d="M92 -2h6v2.5h-6zM42 3.5h1v1h-1zM52 3.5h1v1h-1zM34 6.5h1v1h-1zM21 10.5h1v1h-1zM23 10.5h2v1h-2zM18 11.5h1v1h-1zM26 11.5h1v1h-1zM12 17.5h3v1h-3zM10 18.5h1v1h-1zM13 18.5h1v1h-1zM13 19.5h1v1h-1zM11 21.5h1v1h-1zM10 22.5h1v1h-1zM6 23.5h1v1h-1zM9 24.5h1v1h-1zM4 29.5h1v1h-1zM6 29.5h1v1h-1zM4 30.5h1v1h-1z"/><path class="c14" d="M89 -2h3v2.5h-3zM98 -2h4v2.5h-4zM41 3.5h1v1h-1zM53 3.5h1v1h-1zM29 8.5h1v1h-1zM31 9.5h2v1h-2zM20 10.5h1v1h-1zM25 10.5h1v1h-1zM18 12.5h1v1h-1zM24 12.5h1v1h-1zM19 13.5h1v1h-1zM14 14.5h1v1h-1zM17 14.5h1v1h-1zM15 17.5h1v1h-1zM10 23.5h1v1h-1zM5 25.5h1v1h-1zM4 27.5h1v1h-1zM4 28.5h1v1h-1zM3 29.5h1v1h-1zM1 30.5h1v1h-1zM5 30.5h1v1h-1z"/><path class="c15" d="M87 -2h2v2.5h-2zM44 4.5h5v1h-5zM36 7.5h1v1h-1zM30 9.5h1v1h-1zM19 10.5h1v1h-1zM26 10.5h1v1h-1zM27 11.5h1v1h-1zM25 12.5h1v1h-1zM16 13.5h3v1h-3zM20 13.5h2v1h-2zM18 14.5h1v1h-1zM7 21.5h1v1h-1zM8 26.5h1v1h-1zM7 28.5h1v1h-1z"/><path class="c16" d="M85 -2h2v2.5h-2zM54 3.5h1v1h-1zM43 4.5h1v1h-1zM49 4.5h1v1h-1zM30 6.5h1v1h-1zM35 6.5h1v1h-1zM28 7.5h1v1h-1zM28 8.5h1v1h-1zM29 9.5h1v1h-1zM33 9.5h1v1h-1zM27 10.5h1v1h-1zM22 13.5h1v1h-1zM18 15.5h1v1h-1zM12 16.5h1v1h-1zM17 16.5h1v1h-1zM11 17.5h1v1h-1zM14 18.5h1v1h-1zM8 20.5h1v1h-1zM12 21.5h1v1h-1zM11 22.5h1v1h-1zM2 29.5h1v1h-1z"/><path class="c17" d="M84 -2h1v2.5h-1zM40 3.5h1v1h-1zM55 3.5h1v1h-1zM42 4.5h1v1h-1zM50 4.5h2v1h-2zM35 8.5h1v1h-1zM26 9.5h3v1h-3zM28 10.5h1v1h-1zM17 12.5h1v1h-1zM26 12.5h1v1h-1zM15 13.5h1v1h-1zM23 13.5h1v1h-1zM19 14.5h1v1h-1zM16 17.5h1v1h-1zM9 18.5h1v1h-1zM13 20.5h1v1h-1zM9 25.5h1v1h-1zM3 28.5h1v1h-1zM6 30.5h1v1h-1zM5 31.5h1v3.5h-1z"/><path class="c18" d="M82 -2h2v2.5h-2zM93 0.5h6v1h-6zM45 2.5h5v1h-5zM41 4.5h1v1h-1zM52 4.5h1v1h-1zM27 8.5h1v1h-1zM22 9.5h4v1h-4zM29 10.5h1v1h-1zM17 11.5h1v1h-1zM28 11.5h1v1h-1zM13 14.5h1v1h-1zM20 14.5h1v1h-1zM10 17.5h1v1h-1zM14 19.5h1v1h-1zM6 22.5h1v1h-1zM10 24.5h1v1h-1zM4 26.5h1v1h-1z"/><path class="c19" d="M81 -2h1v2.5h-1zM89 0.5h4v1h-4zM99 0.5h3v1h-3zM43 2.5h2v1h-2zM50 2.5h2v1h-2zM39 3.5h1v1h-1zM56 3.5h1v1h-1zM40 4.5h1v1h-1zM53 4.5h1v1h-1zM32 5.5h3v1h-3zM29 6.5h1v1h-1zM36 6.5h1v1h-1zM27 7.5h1v1h-1zM37 7.5h1v1h-1zM21 9.5h1v1h-1zM34 9.5h1v1h-1zM18 10.5h1v1h-1zM30 10.5h1v1h-1zM16 12.5h1v1h-1zM27 12.5h1v1h-1zM24 13.5h1v1h-1zM12 15.5h1v1h-1zM15 18.5h1v1h-1zM5 24.5h1v1h-1zM8 27.5h1v1h-1zM1 29.5h1v1h-1zM7 29.5h1v1h-1z"/><path class="c20" d="M79 -2h2v2.5h-2zM86 0.5h3v1h-3zM42 2.5h1v1h-1zM52 2.5h1v1h-1zM31 5.5h1v1h-1zM26 8.5h1v1h-1zM36 8.5h1v1h-1zM20 9.5h1v1h-1zM31 10.5h1v1h-1zM29 11.5h1v1h-1zM14 13.5h1v1h-1zM25 13.5h1v1h-1zM21 14.5h1v1h-1zM19 15.5h1v1h-1zM11 16.5h1v1h-1zM18 16.5h1v1h-1zM17 17.5h1v1h-1zM12 22.5h1v1h-1zM11 23.5h1v1h-1zM3 27.5h1v1h-1zM2 28.5h1v1h-1zM-2 31.5h3v3.5h-3z"/><path class="c21" d="M78 -2h1v2.5h-1zM83 0.5h3v1h-3zM53 2.5h1v1h-1zM57 3.5h1v1h-1zM39 4.5h1v1h-1zM54 4.5h1v1h-1zM35 5.5h1v1h-1zM41 5.5h8v1h-8zM37 6.5h1v1h-1zM25 8.5h1v1h-1zM32 10.5h1v1h-1zM22 14.5h1v1h-1zM16 18.5h1v1h-1zM8 19.5h1v1h-1zM14 20.5h1v1h-1zM13 21.5h1v1h-1zM4 25.5h1v1h-1zM10 25.5h1v1h-1zM9 26.5h1v1h-1zM8 28.5h1v1h-1zM6 31.5h1v3.5h-1z"/><path class="c22" d="M77 -2h1v2.5h-1zM81 0.5h2v1h-2zM41 2.5h1v1h-1zM54 2.5h1v1h-1zM58 3.5h1v1h-1zM38 4.5h1v1h-1zM55 4.5h1v1h-1zM36 5.5h5v1h-5zM49 5.5h2v1h-2zM28 6.5h1v1h-1zM38 6.5h1v1h-1zM26 7.5h1v1h-1zM38 7.5h1v1h-1zM24 8.5h1v1h-1zM19 9.5h1v1h-1zM35 9.5h1v1h-1zM15 12.5h1v1h-1zM28 12.5h1v1h-1zM26 13.5h1v1h-1zM23 14.5h1v1h-1zM20 15.5h1v1h-1zM9 17.5h1v1h-1zM7 20.5h1v1h-1z"/><path class="c23" d="M76 -2h1v2.5h-1zM78 0.5h3v1h-3zM93 1.5h6v1h-6zM55 2.5h1v1h-1zM38 3.5h1v1h-1zM56 4.5h1v1h-1zM51 5.5h1v1h-1zM39 6.5h1v1h-1zM23 8.5h1v1h-1zM37 8.5h1v1h-1zM17 10.5h1v1h-1zM33 10.5h1v1h-1zM16 11.5h1v1h-1zM30 11.5h1v1h-1zM13 13.5h1v1h-1zM19 16.5h1v1h-1zM18 17.5h1v1h-1zM15 19.5h1v1h-1zM6 21.5h1v1h-1zM5 23.5h1v1h-1zM11 24.5h1v1h-1zM3 26.5h1v1h-1zM-2 30.5h3v1h-3zM7 30.5h1v1h-1z"/><path class="c24" d="M75 -2h1v2.5h-1zM76 0.5h2v1h-2zM88 1.5h5v1h-5zM99 1.5h3v1h-3zM40 2.5h1v1h-1zM56 2.5h1v1h-1zM59 3.5h1v1h-1zM37 4.5h1v1h-1zM30 5.5h1v1h-1zM52 5.5h1v1h-1zM40 6.5h1v1h-1zM25 7.5h1v1h-1zM39 7.5h1v1h-1zM22 8.5h1v1h-1zM29 12.5h1v1h-1zM27 13.5h1v1h-1zM12 14.5h1v1h-1zM24 14.5h1v1h-1zM21 15.5h1v1h-1zM10 16.5h1v1h-1zM17 18.5h1v1h-1zM14 21.5h1v1h-1zM13 22.5h1v1h-1zM12 23.5h1v1h-1zM2 27.5h1v1h-1zM1 28.5h1v1h-1zM8 29.5h1v1h-1z"/><path class="c25" d="M74 -2h1v2.5h-1zM75 0.5h1v1h-1zM80 1.5h8v1h-8zM57 2.5h1v1h-1zM60 3.5h1v1h-1zM36 4.5h1v1h-1zM57 4.5h1v1h-1zM53 5.5h1v1h-1zM27 6.5h1v1h-1zM41 6.5h2v1h-2zM21 8.5h1v1h-1zM18 9.5h1v1h-1zM36 9.5h1v1h-1zM34 10.5h1v1h-1zM14 12.5h1v1h-1zM28 13.5h1v1h-1zM25 14.5h1v1h-1zM11 15.5h1v1h-1zM20 16.5h1v1h-1zM8 18.5h1v1h-1zM15 20.5h1v1h-1zM4 24.5h1v1h-1zM11 25.5h1v1h-1zM10 26.5h1v1h-1zM9 27.5h1v1h-1z"/><path class="c26" d="M73 -2h1v2.5h-1zM73 0.5h2v1h-2zM45 1.5h7v1h-7zM75 1.5h5v1h-5zM39 2.5h1v1h-1zM58 2.5h1v1h-1zM37 3.5h1v1h-1zM61 3.5h1v1h-1zM34 4.5h2v1h-2zM58 4.5h1v1h-1zM29 5.5h1v1h-1zM54 5.5h1v1h-1zM43 6.5h3v1h-3zM24 7.5h1v1h-1zM40 7.5h1v1h-1zM38 8.5h1v1h-1zM31 11.5h1v1h-1zM30 12.5h1v1h-1zM26 14.5h1v1h-1zM22 15.5h1v1h-1zM19 17.5h1v1h-1zM16 19.5h1v1h-1zM5 22.5h1v1h-1zM3 25.5h1v1h-1zM7 31.5h1v3.5h-1z"/><path class="c27" d="M71 -2h2v2.5h-2zM72 0.5h1v1h-1zM43 1.5h2v1h-2zM52 1.5h3v1h-3zM73 1.5h2v1h-2zM59 2.5h1v1h-1zM62 3.5h1v1h-1zM33 4.5h1v1h-1zM59 4.5h1v1h-1zM55 5.5h2v1h-2zM26 6.5h1v1h-1zM46 6.5h4v1h-4zM20 8.5h1v1h-1zM37 9.5h1v1h-1zM16 10.5h1v1h-1zM15 11.5h1v1h-1zM29 13.5h1v1h-1zM23 15.5h1v1h-1zM21 16.5h1v1h-1zM18 18.5h1v1h-1zM12 24.5h1v1h-1zM2 26.5h1v1h-1zM9 28.5h1v1h-1zM-2 29.5h3v1h-3zM8 30.5h1v1h-1z"/><path class="c28" d="M70 -2h1v2.5h-1zM70 0.5h2v1h-2zM42 1.5h1v1h-1zM55 1.5h1v1h-1zM71 1.5h2v1h-2zM38 2.5h1v1h-1zM60 2.5h1v1h-1zM71 2.5h11v1h-11zM94 2.5h8v1h-8zM63 3.5h3v1h-3zM32 4.5h1v1h-1zM60 4.5h1v1h-1zM28 5.5h1v1h-1zM57 5.5h1v1h-1zM50 6.5h2v1h-2zM23 7.5h1v1h-1zM41 7.5h1v1h-1zM39 8.5h1v1h-1zM17 9.5h1v1h-1zM35 10.5h1v1h-1zM32 11.5h1v1h-1zM31 12.5h1v1h-1zM12 13.5h1v1h-1zM11 14.5h1v1h-1zM27 14.5h1v1h-1zM9 16.5h1v1h-1zM22 16.5h1v1h-1zM20 17.5h1v1h-1zM7 19.5h1v1h-1zM6 20.5h1v1h-1zM16 20.5h1v1h-1zM15 21.5h1v1h-1zM14 22.5h1v1h-1zM13 23.5h1v1h-1zM11 26.5h1v1h-1zM10 27.5h1v1h-1z"/><path class="c29" d="M69 -2h1v2.5h-1zM69 0.5h1v1h-1zM41 1.5h1v1h-1zM56 1.5h2v1h-2zM68 1.5h3v1h-3zM61 2.5h3v1h-3zM66 2.5h5v1h-5zM82 2.5h12v1h-12zM36 3.5h1v1h-1zM66 3.5h10v1h-10zM31 4.5h1v1h-1zM61 4.5h1v1h-1zM58 5.5h1v1h-1zM25 6.5h1v1h-1zM52 6.5h1v1h-1zM42 7.5h1v1h-1zM19 8.5h1v1h-1zM40 8.5h1v1h-1zM38 9.5h1v1h-1zM13 12.5h1v1h-1zM30 13.5h1v1h-1zM28 14.5h1v1h-1zM10 15.5h1v1h-1zM24 15.5h1v1h-1zM23 16.5h1v1h-1zM8 17.5h1v1h-1zM21 17.5h1v1h-1zM19 18.5h1v1h-1zM17 19.5h1v1h-1zM5 21.5h1v1h-1zM4 23.5h1v1h-1zM12 25.5h1v1h-1zM1 27.5h1v1h-1zM9 29.5h1v1h-1z"/><path class="c30" d="M68 -2h1v2.5h-1zM68 0.5h1v1h-1zM58 1.5h2v1h-2zM66 1.5h2v1h-2zM37 2.5h1v1h-1zM64 2.5h2v1h-2zM76 3.5h3v1h-3zM62 4.5h2v1h-2zM27 5.5h1v1h-1zM59 5.5h1v1h-1zM24 6.5h1v1h-1zM53 6.5h2v1h-2zM22 7.5h1v1h-1zM43 7.5h1v1h-1zM41 8.5h1v1h-1zM15 10.5h1v1h-1zM36 10.5h1v1h-1zM33 11.5h1v1h-1zM99 11.5h3v1h-3zM32 12.5h1v1h-1zM99 12.5h3v1h-3zM99 13.5h3v1h-3zM25 15.5h1v1h-1zM22 17.5h1v1h-1zM20 18.5h1v1h-1zM17 20.5h1v1h-1zM16 21.5h1v1h-1zM15 22.5h1v1h-1zM3 24.5h1v1h-1zM13 24.5h1v1h-1zM2 25.5h1v1h-1zM-2 28.5h3v1h-3zM10 28.5h1v1h-1zM8 31.5h1v3.5h-1z"/><path class="c31" d="M67 -2h1v2.5h-1zM66 0.5h2v1h-2zM40 1.5h1v1h-1zM60 1.5h6v1h-6zM35 3.5h1v1h-1zM79 3.5h3v1h-3zM64 4.5h13v1h-13zM60 5.5h1v1h-1zM55 6.5h1v1h-1zM44 7.5h1v1h-1zM18 8.5h1v1h-1zM42 8.5h1v1h-1zM16 9.5h1v1h-1zM39 9.5h1v1h-1zM99 10.5h3v1h-3zM14 11.5h1v1h-1zM96 11.5h3v1h-3zM96 12.5h3v1h-3zM31 13.5h1v1h-1zM96 13.5h3v1h-3zM29 14.5h1v1h-1zM95 14.5h7v1h-7zM26 15.5h1v1h-1zM95 15.5h7v1h-7zM24 16.5h1v1h-1zM96 16.5h6v1h-6zM23 17.5h1v1h-1zM96 17.5h6v1h-6zM7 18.5h1v1h-1zM97 18.5h5v1h-5zM18 19.5h1v1h-1zM98 19.5h4v1h-4zM98 20.5h4v1h-4zM98 21.5h4v1h-4zM4 22.5h1v1h-1zM98 22.5h4v1h-4zM14 23.5h1v1h-1zM99 23.5h3v1h-3zM98 24.5h4v1h-4zM13 25.5h1v1h-1zM98 25.5h4v1h-4zM1 26.5h1v1h-1zM12 26.5h1v1h-1zM98 26.5h4v1h-4zM11 27.5h1v1h-1zM98 27.5h4v1h-4zM98 28.5h4v1h-4zM10 29.5h1v1h-1zM98 29.5h4v1h-4zM9 30.5h1v1h-1zM98 30.5h4v1h-4zM37 31.5h3v3.5h-3zM99 31.5h3v3.5h-3z"/><path class="c32" d="M66 -2h1v2.5h-1zM64 0.5h2v1h-2zM39 1.5h1v1h-1zM82 3.5h2v1h-2zM30 4.5h1v1h-1zM77 4.5h3v1h-3zM26 5.5h1v1h-1zM61 5.5h2v1h-2zM23 6.5h1v1h-1zM56 6.5h2v1h-2zM21 7.5h1v1h-1zM45 7.5h2v1h-2zM43 8.5h1v1h-1zM40 9.5h1v1h-1zM37 10.5h1v1h-1zM96 10.5h3v1h-3zM34 11.5h1v1h-1zM94 11.5h2v1h-2zM12 12.5h1v1h-1zM33 12.5h1v1h-1zM94 12.5h2v1h-2zM11 13.5h1v1h-1zM32 13.5h1v1h-1zM93 13.5h3v1h-3zM10 14.5h1v1h-1zM30 14.5h1v1h-1zM92 14.5h3v1h-3zM27 15.5h1v1h-1zM90 15.5h5v1h-5zM25 16.5h1v1h-1zM92 16.5h4v1h-4zM24 17.5h1v1h-1zM93 17.5h3v1h-3zM21 18.5h2v1h-2zM94 18.5h3v1h-3zM19 19.5h1v1h-1zM94 19.5h4v1h-4zM5 20.5h1v1h-1zM18 20.5h1v1h-1zM95 20.5h3v1h-3zM17 21.5h1v1h-1zM95 21.5h3v1h-3zM16 22.5h1v1h-1zM95 22.5h3v1h-3zM55 23.5h1v1h-1zM95 23.5h4v1h-4zM14 24.5h1v1h-1zM95 24.5h3v1h-3zM95 25.5h3v1h-3zM95 26.5h3v1h-3zM42 27.5h8v1h-8zM94 27.5h4v1h-4zM11 28.5h1v1h-1zM42 28.5h4v1h-4zM94 28.5h4v1h-4zM39 29.5h3v1h-3zM94 29.5h4v1h-4zM37 30.5h5v1h-5zM94 30.5h4v1h-4zM36 31.5h1v3.5h-1zM40 31.5h2v3.5h-2zM94 31.5h5v3.5h-5z"/><path class="c33" d="M65 -2h1v2.5h-1zM51 0.5h13v1h-13zM36 2.5h1v1h-1zM34 3.5h1v1h-1zM84 3.5h2v1h-2zM95 3.5h7v1h-7zM29 4.5h1v1h-1zM80 4.5h2v1h-2zM25 5.5h1v1h-1zM63 5.5h14v1h-14zM22 6.5h1v1h-1zM58 6.5h2v1h-2zM20 7.5h1v1h-1zM47 7.5h4v1h-4zM17 8.5h1v1h-1zM44 8.5h1v1h-1zM41 9.5h1v1h-1zM96 9.5h6v1h-6zM38 10.5h1v1h-1zM94 10.5h2v1h-2zM92 11.5h2v1h-2zM34 12.5h1v1h-1zM92 12.5h2v1h-2zM90 13.5h3v1h-3zM88 14.5h4v1h-4zM9 15.5h1v1h-1zM28 15.5h1v1h-1zM76 15.5h14v1h-14zM8 16.5h1v1h-1zM26 16.5h1v1h-1zM75 16.5h17v1h-17zM25 17.5h1v1h-1zM74 17.5h19v1h-19zM23 18.5h1v1h-1zM72 18.5h12v1h-12zM91 18.5h3v1h-3zM6 19.5h1v1h-1zM20 19.5h1v1h-1zM69 19.5h14v1h-14zM92 19.5h2v1h-2zM19 20.5h1v1h-1zM73 20.5h4v1h-4zM92 20.5h3v1h-3zM4 21.5h1v1h-1zM18 21.5h1v1h-1zM92 21.5h3v1h-3zM55 22.5h2v1h-2zM92 22.5h3v1h-3zM3 23.5h1v1h-1zM15 23.5h1v1h-1zM50 23.5h5v1h-5zM56 23.5h3v1h-3zM93 23.5h2v1h-2zM2 24.5h1v1h-1zM49 24.5h9v1h-9zM92 24.5h3v1h-3zM14 25.5h1v1h-1zM46 25.5h11v1h-11zM92 25.5h3v1h-3zM13 26.5h1v1h-1zM42 26.5h14v1h-14zM92 26.5h3v1h-3zM12 27.5h1v1h-1zM40 27.5h2v1h-2zM50 27.5h5v1h-5zM92 27.5h2v1h-2zM39 28.5h3v1h-3zM46 28.5h6v1h-6zM92 28.5h2v1h-2zM11 29.5h1v1h-1zM37 29.5h2v1h-2zM42 29.5h7v1h-7zM92 29.5h2v1h-2zM10 30.5h1v1h-1zM36 30.5h1v1h-1zM42 30.5h4v1h-4zM92 30.5h2v1h-2zM9 31.5h1v3.5h-1zM35 31.5h1v3.5h-1zM42 31.5h2v3.5h-2zM92 31.5h2v3.5h-2z"/><path class="c34" d="M63 -2h2v2.5h-2zM47 0.5h4v1h-4zM38 1.5h1v1h-1zM86 3.5h9v1h-9zM82 4.5h3v1h-3zM94 4.5h8v1h-8zM24 5.5h1v1h-1zM77 5.5h3v1h-3zM97 5.5h5v1h-5zM60 6.5h2v1h-2zM99 6.5h3v1h-3zM51 7.5h2v1h-2zM45 8.5h4v1h-4zM97 8.5h5v1h-5zM15 9.5h1v1h-1zM42 9.5h2v1h-2zM94 9.5h2v1h-2zM14 10.5h1v1h-1zM39 10.5h1v1h-1zM92 10.5h2v1h-2zM13 11.5h1v1h-1zM35 11.5h1v1h-1zM90 11.5h2v1h-2zM89 12.5h3v1h-3zM33 13.5h1v1h-1zM86 13.5h4v1h-4zM31 14.5h1v1h-1zM76 14.5h12v1h-12zM29 15.5h1v1h-1zM73 15.5h3v1h-3zM27 16.5h2v1h-2zM71 16.5h4v1h-4zM7 17.5h1v1h-1zM26 17.5h1v1h-1zM70 17.5h4v1h-4zM24 18.5h1v1h-1zM67 18.5h5v1h-5zM84 18.5h7v1h-7zM21 19.5h1v1h-1zM63 19.5h6v1h-6zM83 19.5h9v1h-9zM20 20.5h1v1h-1zM65 20.5h8v1h-8zM77 20.5h8v1h-8zM88 20.5h4v1h-4zM55 21.5h4v1h-4zM69 21.5h10v1h-10zM89 21.5h3v1h-3zM3 22.5h1v1h-1zM17 22.5h1v1h-1zM51 22.5h4v1h-4zM57 22.5h3v1h-3zM90 22.5h2v1h-2zM16 23.5h1v1h-1zM48 23.5h2v1h-2zM59 23.5h2v1h-2zM90 23.5h3v1h-3zM15 24.5h1v1h-1zM46 24.5h3v1h-3zM58 24.5h2v1h-2zM90 24.5h2v1h-2zM1 25.5h1v1h-1zM42 25.5h4v1h-4zM57 25.5h2v1h-2zM90 25.5h2v1h-2zM40 26.5h2v1h-2zM56 26.5h2v1h-2zM90 26.5h2v1h-2zM-2 27.5h3v1h-3zM39 27.5h1v1h-1zM55 27.5h2v1h-2zM89 27.5h3v1h-3zM12 28.5h1v1h-1zM37 28.5h2v1h-2zM52 28.5h4v1h-4zM89 28.5h3v1h-3zM36 29.5h1v1h-1zM49 29.5h5v1h-5zM76 29.5h1v1h-1zM89 29.5h3v1h-3zM35 30.5h1v1h-1zM46 30.5h5v1h-5zM74 30.5h7v1h-7zM89 30.5h3v1h-3zM34 31.5h1v3.5h-1zM44 31.5h5v3.5h-5zM73 31.5h10v3.5h-10zM89 31.5h3v3.5h-3z"/><path class="c35" d="M62 -2h1v2.5h-1zM44 0.5h3v1h-3zM37 1.5h1v1h-1zM35 2.5h1v1h-1zM33 3.5h1v1h-1zM28 4.5h1v1h-1zM85 4.5h9v1h-9zM23 5.5h1v1h-1zM80 5.5h3v1h-3zM93 5.5h4v1h-4zM21 6.5h1v1h-1zM62 6.5h3v1h-3zM66 6.5h11v1h-11zM95 6.5h4v1h-4zM19 7.5h1v1h-1zM53 7.5h2v1h-2zM97 7.5h5v1h-5zM16 8.5h1v1h-1zM49 8.5h3v1h-3zM94 8.5h3v1h-3zM44 9.5h2v1h-2zM92 9.5h2v1h-2zM40 10.5h2v1h-2zM90 10.5h2v1h-2zM36 11.5h1v1h-1zM88 11.5h2v1h-2zM11 12.5h1v1h-1zM35 12.5h1v1h-1zM85 12.5h4v1h-4zM10 13.5h1v1h-1zM34 13.5h1v1h-1zM75 13.5h11v1h-11zM9 14.5h1v1h-1zM32 14.5h1v1h-1zM72 14.5h4v1h-4zM30 15.5h1v1h-1zM70 15.5h3v1h-3zM29 16.5h1v1h-1zM68 16.5h3v1h-3zM27 17.5h1v1h-1zM66 17.5h4v1h-4zM6 18.5h1v1h-1zM25 18.5h1v1h-1zM63 18.5h4v1h-4zM22 19.5h2v1h-2zM59 19.5h4v1h-4zM4 20.5h1v1h-1zM21 20.5h1v1h-1zM55 20.5h10v1h-10zM85 20.5h3v1h-3zM19 21.5h2v1h-2zM51 21.5h4v1h-4zM59 21.5h10v1h-10zM79 21.5h10v1h-10zM18 22.5h1v1h-1zM48 22.5h3v1h-3zM60 22.5h21v1h-21zM86 22.5h4v1h-4zM2 23.5h1v1h-1zM17 23.5h1v1h-1zM45 23.5h3v1h-3zM61 23.5h3v1h-3zM70 23.5h7v1h-7zM88 23.5h2v1h-2zM16 24.5h1v1h-1zM43 24.5h3v1h-3zM60 24.5h2v1h-2zM70 24.5h8v1h-8zM87 24.5h3v1h-3zM15 25.5h1v1h-1zM40 25.5h2v1h-2zM59 25.5h2v1h-2zM70 25.5h9v1h-9zM86 25.5h4v1h-4zM14 26.5h1v1h-1zM39 26.5h1v1h-1zM58 26.5h2v1h-2zM71 26.5h10v1h-10zM85 26.5h5v1h-5zM13 27.5h1v1h-1zM37 27.5h2v1h-2zM57 27.5h2v1h-2zM71 27.5h18v1h-18zM13 28.5h1v1h-1zM36 28.5h1v1h-1zM56 28.5h2v1h-2zM70 28.5h19v1h-19zM12 29.5h1v1h-1zM35 29.5h1v1h-1zM54 29.5h3v1h-3zM70 29.5h6v1h-6zM77 29.5h12v1h-12zM11 30.5h1v1h-1zM34 30.5h1v1h-1zM51 30.5h4v1h-4zM69 30.5h5v1h-5zM81 30.5h8v1h-8zM10 31.5h1v3.5h-1zM49 31.5h4v3.5h-4zM69 31.5h4v3.5h-4zM83 31.5h6v3.5h-6z"/><path class="c36" d="M60 -2h2v2.5h-2zM42 0.5h2v1h-2zM34 2.5h1v1h-1zM27 4.5h1v1h-1zM22 5.5h1v1h-1zM83 5.5h10v1h-10zM20 6.5h1v1h-1zM65 6.5h1v1h-1zM77 6.5h4v1h-4zM93 6.5h2v1h-2zM55 7.5h4v1h-4zM95 7.5h2v1h-2zM52 8.5h3v1h-3zM93 8.5h1v1h-1zM14 9.5h1v1h-1zM46 9.5h5v1h-5zM90 9.5h2v1h-2zM13 10.5h1v1h-1zM42 10.5h2v1h-2zM88 10.5h2v1h-2zM12 11.5h1v1h-1zM37 11.5h2v1h-2zM85 11.5h3v1h-3zM36 12.5h1v1h-1zM75 12.5h10v1h-10zM35 13.5h1v1h-1zM72 13.5h3v1h-3zM33 14.5h1v1h-1zM69 14.5h3v1h-3zM31 15.5h1v1h-1zM68 15.5h2v1h-2zM30 16.5h1v1h-1zM65 16.5h3v1h-3zM28 17.5h2v1h-2zM62 17.5h4v1h-4zM26 18.5h2v1h-2zM58 18.5h5v1h-5zM5 19.5h1v1h-1zM24 19.5h1v1h-1zM55 19.5h4v1h-4zM22 20.5h2v1h-2zM52 20.5h3v1h-3zM3 21.5h1v1h-1zM21 21.5h2v1h-2zM49 21.5h2v1h-2zM19 22.5h2v1h-2zM45 22.5h3v1h-3zM81 22.5h5v1h-5zM18 23.5h1v1h-1zM43 23.5h2v1h-2zM64 23.5h6v1h-6zM77 23.5h11v1h-11zM1 24.5h1v1h-1zM17 24.5h1v1h-1zM40 24.5h3v1h-3zM62 24.5h8v1h-8zM78 24.5h9v1h-9zM16 25.5h1v1h-1zM39 25.5h1v1h-1zM61 25.5h9v1h-9zM79 25.5h7v1h-7zM-2 26.5h3v1h-3zM15 26.5h1v1h-1zM37 26.5h2v1h-2zM60 26.5h2v1h-2zM66 26.5h5v1h-5zM81 26.5h4v1h-4zM14 27.5h1v1h-1zM59 27.5h2v1h-2zM67 27.5h4v1h-4zM14 28.5h1v1h-1zM35 28.5h1v1h-1zM58 28.5h3v1h-3zM67 28.5h3v1h-3zM13 29.5h1v1h-1zM34 29.5h1v1h-1zM57 29.5h3v1h-3zM67 29.5h3v1h-3zM12 30.5h1v1h-1zM33 30.5h1v1h-1zM55 30.5h3v1h-3zM66 30.5h3v1h-3zM11 31.5h1v3.5h-1zM33 31.5h1v3.5h-1zM53 31.5h4v3.5h-4zM66 31.5h3v3.5h-3z"/><path class="c37" d="M58 -2h2v2.5h-2zM40 0.5h2v1h-2zM36 1.5h1v1h-1zM32 3.5h1v1h-1zM26 4.5h1v1h-1zM21 5.5h1v1h-1zM19 6.5h1v1h-1zM81 6.5h5v1h-5zM90 6.5h3v1h-3zM18 7.5h1v1h-1zM59 7.5h4v1h-4zM69 7.5h8v1h-8zM93 7.5h2v1h-2zM15 8.5h1v1h-1zM55 8.5h5v1h-5zM72 8.5h6v1h-6zM90 8.5h3v1h-3zM51 9.5h4v1h-4zM73 9.5h6v1h-6zM86 9.5h4v1h-4zM44 10.5h4v1h-4zM73 10.5h15v1h-15zM39 11.5h2v1h-2zM74 11.5h11v1h-11zM10 12.5h1v1h-1zM37 12.5h2v1h-2zM71 12.5h4v1h-4zM36 13.5h2v1h-2zM69 13.5h3v1h-3zM34 14.5h2v1h-2zM67 14.5h2v1h-2zM8 15.5h1v1h-1zM32 15.5h1v1h-1zM65 15.5h3v1h-3zM7 16.5h1v1h-1zM31 16.5h1v1h-1zM62 16.5h3v1h-3zM6 17.5h1v1h-1zM30 17.5h1v1h-1zM57 17.5h5v1h-5zM5 18.5h1v1h-1zM28 18.5h1v1h-1zM54 18.5h4v1h-4zM25 19.5h2v1h-2zM52 19.5h3v1h-3zM24 20.5h2v1h-2zM49 20.5h3v1h-3zM23 21.5h2v1h-2zM46 21.5h3v1h-3zM2 22.5h1v1h-1zM21 22.5h2v1h-2zM42 22.5h3v1h-3zM19 23.5h2v1h-2zM40 23.5h3v1h-3zM18 24.5h2v1h-2zM39 24.5h1v1h-1zM-2 25.5h3v1h-3zM17 25.5h2v1h-2zM37 25.5h2v1h-2zM16 26.5h1v1h-1zM36 26.5h1v1h-1zM62 26.5h4v1h-4zM15 27.5h1v1h-1zM36 27.5h1v1h-1zM61 27.5h6v1h-6zM15 28.5h1v1h-1zM34 28.5h1v1h-1zM61 28.5h6v1h-6zM14 29.5h1v1h-1zM33 29.5h1v1h-1zM60 29.5h7v1h-7zM13 30.5h1v1h-1zM32 30.5h1v1h-1zM58 30.5h8v1h-8zM12 31.5h1v3.5h-1zM32 31.5h1v3.5h-1zM57 31.5h9v3.5h-9z"/><path class="c38" d="M56 -2h2v2.5h-2zM39 0.5h1v1h-1zM35 1.5h1v1h-1zM33 2.5h1v1h-1zM31 3.5h1v1h-1zM24 4.5h2v1h-2zM20 5.5h1v1h-1zM86 6.5h4v1h-4zM17 7.5h1v1h-1zM63 7.5h6v1h-6zM77 7.5h5v1h-5zM90 7.5h3v1h-3zM60 8.5h12v1h-12zM78 8.5h12v1h-12zM13 9.5h1v1h-1zM55 9.5h6v1h-6zM68 9.5h5v1h-5zM79 9.5h7v1h-7zM12 10.5h1v1h-1zM48 10.5h6v1h-6zM69 10.5h4v1h-4zM41 11.5h3v1h-3zM70 11.5h4v1h-4zM39 12.5h3v1h-3zM68 12.5h3v1h-3zM9 13.5h1v1h-1zM38 13.5h2v1h-2zM66 13.5h3v1h-3zM36 14.5h2v1h-2zM63 14.5h4v1h-4zM33 15.5h2v1h-2zM61 15.5h4v1h-4zM32 16.5h2v1h-2zM56 16.5h6v1h-6zM31 17.5h2v1h-2zM52 17.5h5v1h-5zM29 18.5h2v1h-2zM51 18.5h3v1h-3zM4 19.5h1v1h-1zM27 19.5h2v1h-2zM49 19.5h3v1h-3zM3 20.5h1v1h-1zM26 20.5h2v1h-2zM46 20.5h3v1h-3zM2 21.5h1v1h-1zM25 21.5h2v1h-2zM42 21.5h4v1h-4zM23 22.5h3v1h-3zM40 22.5h2v1h-2zM1 23.5h1v1h-1zM21 23.5h2v1h-2zM39 23.5h1v1h-1zM20 24.5h2v1h-2zM37 24.5h2v1h-2zM19 25.5h2v1h-2zM36 25.5h1v1h-1zM17 26.5h3v1h-3zM35 26.5h1v1h-1zM16 27.5h2v1h-2zM34 27.5h2v1h-2zM16 28.5h1v1h-1zM33 28.5h1v1h-1zM15 29.5h2v1h-2zM31 29.5h2v1h-2zM14 30.5h2v1h-2zM31 30.5h1v1h-1zM13 31.5h2v3.5h-2zM30 31.5h2v3.5h-2z"/><path class="c39" d="M53 -2h3v2.5h-3zM38 0.5h1v1h-1zM34 1.5h1v1h-1zM32 2.5h1v1h-1zM23 4.5h1v1h-1zM19 5.5h1v1h-1zM18 6.5h1v1h-1zM16 7.5h1v1h-1zM82 7.5h8v1h-8zM14 8.5h1v1h-1zM61 9.5h7v1h-7zM54 10.5h15v1h-15zM11 11.5h1v1h-1zM44 11.5h9v1h-9zM67 11.5h3v1h-3zM42 12.5h10v1h-10zM64 12.5h4v1h-4zM40 13.5h5v1h-5zM55 13.5h11v1h-11zM8 14.5h1v1h-1zM38 14.5h3v1h-3zM54 14.5h9v1h-9zM7 15.5h1v1h-1zM35 15.5h3v1h-3zM54 15.5h7v1h-7zM6 16.5h1v1h-1zM34 16.5h4v1h-4zM51 16.5h5v1h-5zM5 17.5h1v1h-1zM33 17.5h3v1h-3zM49 17.5h3v1h-3zM4 18.5h1v1h-1zM31 18.5h3v1h-3zM47 18.5h4v1h-4zM3 19.5h1v1h-1zM29 19.5h3v1h-3zM47 19.5h2v1h-2zM28 20.5h3v1h-3zM41 20.5h5v1h-5zM27 21.5h3v1h-3zM38 21.5h4v1h-4zM1 22.5h1v1h-1zM26 22.5h2v1h-2zM37 22.5h3v1h-3zM23 23.5h4v1h-4zM37 23.5h2v1h-2zM-2 24.5h3v1h-3zM22 24.5h4v1h-4zM35 24.5h2v1h-2zM21 25.5h5v1h-5zM33 25.5h3v1h-3zM20 26.5h5v1h-5zM32 26.5h3v1h-3zM18 27.5h6v1h-6zM31 27.5h3v1h-3zM17 28.5h6v1h-6zM30 28.5h3v1h-3zM17 29.5h6v1h-6zM28 29.5h3v1h-3zM16 30.5h4v1h-4zM26 30.5h5v1h-5zM15 31.5h3v3.5h-3zM25 31.5h5v3.5h-5z"/><path class="c40" d="M52 -2h1v2.5h-1zM37 0.5h1v1h-1zM33 1.5h1v1h-1zM31 2.5h1v1h-1zM29 3.5h2v1h-2zM21 4.5h2v1h-2zM18 5.5h1v1h-1zM17 6.5h1v1h-1zM13 8.5h1v1h-1zM12 9.5h1v1h-1zM11 10.5h1v1h-1zM10 11.5h1v1h-1zM53 11.5h14v1h-14zM9 12.5h1v1h-1zM52 12.5h12v1h-12zM8 13.5h1v1h-1zM45 13.5h10v1h-10zM7 14.5h1v1h-1zM41 14.5h13v1h-13zM38 15.5h16v1h-16zM5 16.5h1v1h-1zM38 16.5h13v1h-13zM4 17.5h1v1h-1zM36 17.5h13v1h-13zM3 18.5h1v1h-1zM34 18.5h13v1h-13zM32 19.5h15v1h-15zM2 20.5h1v1h-1zM31 20.5h10v1h-10zM1 21.5h1v1h-1zM30 21.5h8v1h-8zM28 22.5h9v1h-9zM-2 23.5h3v1h-3zM27 23.5h10v1h-10zM26 24.5h9v1h-9zM26 25.5h7v1h-7zM25 26.5h7v1h-7zM24 27.5h7v1h-7zM23 28.5h7v1h-7zM23 29.5h5v1h-5zM20 30.5h6v1h-6zM18 31.5h7v3.5h-7z"/><path class="c41" d="M50 -2h2v2.5h-2zM36 0.5h1v1h-1zM32 1.5h1v1h-1zM30 2.5h1v1h-1zM27 3.5h2v1h-2zM20 4.5h1v1h-1zM17 5.5h1v1h-1zM16 6.5h1v1h-1zM15 7.5h1v1h-1zM12 8.5h1v1h-1zM11 9.5h1v1h-1zM10 10.5h1v1h-1zM8 12.5h1v1h-1zM6 15.5h1v1h-1zM4 16.5h1v1h-1zM3 17.5h1v1h-1zM2 19.5h1v1h-1zM1 20.5h1v1h-1zM-2 22.5h3v1h-3z"/><path class="c42" d="M48 -2h2v2.5h-2zM34 0.5h2v1h-2zM30 1.5h2v1h-2zM27 2.5h3v1h-3zM24 3.5h3v1h-3zM18 4.5h2v1h-2zM16 5.5h1v1h-1zM14 6.5h2v1h-2zM13 7.5h2v1h-2zM11 8.5h1v1h-1zM10 9.5h1v1h-1zM9 10.5h1v1h-1zM9 11.5h1v1h-1zM6 13.5h2v1h-2zM5 14.5h2v1h-2zM4 15.5h2v1h-2zM3 16.5h1v1h-1zM2 17.5h1v1h-1zM2 18.5h1v1h-1zM1 19.5h1v1h-1zM-2 21.5h3v1h-3z"/><path class="c43" d="M45 -2h3v2.5h-3zM32 0.5h2v1h-2zM27 1.5h3v1h-3zM23 2.5h4v1h-4zM20 3.5h4v1h-4zM16 4.5h2v1h-2zM14 5.5h2v1h-2zM13 6.5h1v1h-1zM12 7.5h1v1h-1zM10 8.5h1v1h-1zM9 9.5h1v1h-1zM8 10.5h1v1h-1zM8 11.5h1v1h-1zM6 12.5h2v1h-2zM4 13.5h2v1h-2zM3 14.5h2v1h-2zM3 15.5h1v1h-1zM2 16.5h1v1h-1zM1 17.5h1v1h-1zM1 18.5h1v1h-1zM-2 19.5h3v1h-3zM-2 20.5h3v1h-3z"/><path class="c44" d="M40 -2h5v2.5h-5zM28 0.5h4v1h-4zM22 1.5h5v1h-5zM19 2.5h4v1h-4zM17 3.5h3v1h-3zM14 4.5h2v1h-2zM12 5.5h2v1h-2zM11 6.5h2v1h-2zM10 7.5h2v1h-2zM9 8.5h1v1h-1zM8 9.5h1v1h-1zM6 10.5h2v1h-2zM4 11.5h4v1h-4zM3 12.5h3v1h-3zM2 13.5h2v1h-2zM2 14.5h1v1h-1zM1 15.5h2v1h-2zM1 16.5h1v1h-1zM-2 17.5h3v1h-3zM-2 18.5h3v1h-3z"/><path class="c45" d="M30 -2h10v2.5h-10zM20 0.5h8v1h-8zM16 1.5h6v1h-6zM14 2.5h5v1h-5zM13 3.5h4v1h-4zM11 4.5h3v1h-3zM10 5.5h2v1h-2zM8 6.5h3v1h-3zM8 7.5h2v1h-2zM5 8.5h4v1h-4zM3 9.5h5v1h-5zM2 10.5h4v1h-4zM1 11.5h3v1h-3zM1 12.5h2v1h-2zM1 13.5h1v1h-1zM-2 14.5h4v1h-4zM-2 15.5h3v1h-3zM-2 16.5h3v1h-3z"/><path class="c46" d="M12 -2h18v2.5h-18zM9 0.5h11v1h-11zM8 1.5h8v1h-8zM7 2.5h7v1h-7zM6 3.5h7v1h-7zM4 4.5h7v1h-7zM2 5.5h8v1h-8zM1 6.5h7v1h-7zM-2 7.5h10v1h-10zM-2 8.5h7v1h-7zM-2 9.5h5v1h-5zM-2 10.5h4v1h-4zM-2 11.5h3v1h-3zM-2 12.5h3v1h-3zM-2 13.5h3v1h-3z"/><path class="c47" d="M-2 -2h14v2.5h-14zM-2 0.5h11v1h-11zM-2 1.5h10v1h-10zM-2 2.5h9v1h-9zM-2 3.5h8v1h-8zM-2 4.5h6v1h-6zM-2 5.5h4v1h-4zM-2 6.5h3v1h-3z"/></g></svg>
<svg class="fl" width="400" height="128" viewBox="0 0 100 32" style="transform:matrix3d(0.47444,0.18063,0,0.0004005,0.41247,-0.49813,0,-0.0010930,0,0,1,0,404.000,749.600,0,1)"><filter id="fbc" x="0" y="0" width="1" height="1"><feGaussianBlur stdDeviation="0.5 0.6"/></filter><g filter="url(#fbc)" stroke="none"><path class="c0" d="M62 11.5h1v1h-1z"/><path class="c9" d="M62 10.5h1v1h-1zM62 12.5h1v1h-1z"/><path class="c17" d="M62 13.5h1v1h-1z"/><path class="c18" d="M39 11.5h1v1h-1z"/><path class="c19" d="M62 9.5h1v1h-1z"/><path class="c21" d="M61 11.5h1v1h-1z"/><path class="c22" d="M38 11.5h1v1h-1z"/><path class="c23" d="M63 11.5h1v1h-1zM39 12.5h1v1h-1z"/><path class="c24" d="M39 10.5h1v1h-1zM40 11.5h1v1h-1z"/><path class="c25" d="M61 12.5h1v1h-1z"/><path class="c26" d="M61 10.5h1v1h-1zM63 10.5h1v1h-1zM38 12.5h1v1h-1zM63 12.5h1v1h-1zM62 14.5h1v1h-1z"/><path class="c27" d="M38 10.5h1v1h-1zM33 15.5h1v1h-1zM27 19.5h1v1h-1zM88 27.5h2v1h-2z"/><path class="c28" d="M62 8.5h1v1h-1zM40 10.5h1v1h-1zM37 11.5h1v1h-1zM41 11.5h1v1h-1zM60 11.5h1v1h-1zM40 12.5h1v1h-1zM39 13.5h1v1h-1zM61 13.5h1v1h-1zM26 19.5h1v1h-1z"/><path class="c29" d="M39 9.5h1v1h-1zM32 15.5h1v1h-1zM34 15.5h1v1h-1zM28 19.5h1v1h-1z"/><path class="c30" d="M61 9.5h1v1h-1zM63 9.5h1v1h-1zM42 11.5h1v1h-1zM64 11.5h1v1h-1zM37 12.5h1v1h-1zM60 12.5h1v1h-1zM38 13.5h1v1h-1zM63 13.5h1v1h-1zM33 14.5h1v1h-1zM33 16.5h1v1h-1zM27 18.5h1v1h-1zM25 19.5h1v1h-1zM26 20.5h2v1h-2zM20 23.5h2v1h-2zM88 26.5h2v1h-2zM87 27.5h1v1h-1zM88 28.5h2v1h-2z"/><path class="c31" d="M37 10.5h1v1h-1zM41 10.5h1v1h-1zM60 10.5h1v1h-1zM59 11.5h1v1h-1zM41 12.5h1v1h-1zM40 13.5h1v1h-1zM60 13.5h1v1h-1zM34 14.5h1v1h-1zM61 14.5h1v1h-1zM31 15.5h1v1h-1zM32 16.5h1v1h-1zM26 18.5h1v1h-1zM28 18.5h1v1h-1zM29 19.5h1v1h-1zM25 20.5h1v1h-1zM28 20.5h1v1h-1zM17 27.5h1v1h-1zM90 27.5h1v1h-1z"/><path class="c32" d="M38 9.5h1v1h-1zM40 9.5h1v1h-1zM42 10.5h1v1h-1zM64 10.5h1v1h-1zM36 11.5h1v1h-1zM43 11.5h1v1h-1zM59 12.5h1v1h-1zM64 12.5h1v1h-1zM37 13.5h1v1h-1zM32 14.5h1v1h-1zM60 14.5h1v1h-1zM31 16.5h1v1h-1zM34 16.5h1v1h-1zM29 18.5h1v1h-1zM24 19.5h1v1h-1zM24 20.5h1v1h-1zM26 21.5h2v1h-2zM20 22.5h3v1h-3zM19 23.5h1v1h-1zM22 23.5h1v1h-1zM19 24.5h3v1h-3zM17 26.5h1v1h-1zM16 27.5h1v1h-1zM87 28.5h1v1h-1z"/><path class="c33" d="M69 7.5h4v1h-4zM63 8.5h1v1h-1zM41 9.5h1v1h-1zM60 9.5h1v1h-1zM64 9.5h1v1h-1zM43 10.5h1v1h-1zM59 10.5h1v1h-1zM44 11.5h1v1h-1zM58 11.5h1v1h-1zM65 11.5h1v1h-1zM36 12.5h1v1h-1zM42 12.5h1v1h-1zM33 13.5h2v1h-2zM36 13.5h1v1h-1zM59 13.5h1v1h-1zM35 14.5h1v1h-1zM39 14.5h1v1h-1zM59 14.5h1v1h-1zM63 14.5h1v1h-1zM35 15.5h1v1h-1zM27 17.5h2v1h-2zM31 17.5h3v1h-3zM25 18.5h1v1h-1zM30 18.5h1v1h-1zM23 19.5h1v1h-1zM30 19.5h1v1h-1zM23 20.5h1v1h-1zM29 20.5h1v1h-1zM21 21.5h5v1h-5zM28 21.5h1v1h-1zM19 22.5h1v1h-1zM23 22.5h1v1h-1zM23 23.5h1v1h-1zM93 23.5h3v1h-3zM22 24.5h1v1h-1zM19 25.5h2v1h-2zM89 25.5h1v1h-1zM18 26.5h1v1h-1zM87 26.5h1v1h-1zM90 26.5h1v1h-1zM18 27.5h1v1h-1zM16 28.5h2v1h-2zM88 29.5h1v1h-1zM15 30.5h1v1h-1zM15 31.5h1v3.5h-1z"/><path class="c34" d="M67 7.5h2v1h-2zM73 7.5h2v1h-2zM61 8.5h1v1h-1zM42 9.5h1v1h-1zM65 9.5h1v1h-1zM44 10.5h2v1h-2zM65 10.5h1v1h-1zM45 11.5h1v1h-1zM57 11.5h1v1h-1zM43 12.5h1v1h-1zM58 12.5h1v1h-1zM35 13.5h1v1h-1zM41 13.5h1v1h-1zM58 13.5h1v1h-1zM64 13.5h1v1h-1zM31 14.5h1v1h-1zM36 14.5h3v1h-3zM30 15.5h1v1h-1zM59 15.5h3v1h-3zM30 16.5h1v1h-1zM35 16.5h1v1h-1zM26 17.5h1v1h-1zM29 17.5h2v1h-2zM34 17.5h1v1h-1zM24 18.5h1v1h-1zM31 18.5h1v1h-1zM22 20.5h1v1h-1zM20 21.5h1v1h-1zM24 22.5h3v1h-3zM18 23.5h1v1h-1zM24 23.5h1v1h-1zM96 23.5h2v1h-2zM18 24.5h1v1h-1zM93 24.5h2v1h-2zM17 25.5h2v1h-2zM21 25.5h1v1h-1zM88 25.5h1v1h-1zM16 26.5h1v1h-1zM19 26.5h1v1h-1zM91 26.5h1v1h-1zM86 27.5h1v1h-1zM91 27.5h1v1h-1zM15 28.5h1v1h-1zM90 28.5h1v1h-1zM15 29.5h3v1h-3zM87 29.5h1v1h-1zM89 29.5h1v1h-1zM16 30.5h1v1h-1zM14 31.5h1v3.5h-1zM78 31.5h3v3.5h-3zM82 31.5h3v3.5h-3z"/><path class="c35" d="M70 6.5h2v1h-2zM65 7.5h2v1h-2zM75 7.5h1v1h-1zM39 8.5h1v1h-1zM45 8.5h1v1h-1zM64 8.5h9v1h-9zM37 9.5h1v1h-1zM43 9.5h4v1h-4zM59 9.5h1v1h-1zM66 9.5h2v1h-2zM36 10.5h1v1h-1zM46 10.5h2v1h-2zM58 10.5h1v1h-1zM66 10.5h1v1h-1zM35 11.5h1v1h-1zM46 11.5h3v1h-3zM55 11.5h2v1h-2zM66 11.5h1v1h-1zM35 12.5h1v1h-1zM44 12.5h2v1h-2zM57 12.5h1v1h-1zM65 12.5h1v1h-1zM32 13.5h1v1h-1zM42 13.5h1v1h-1zM57 13.5h1v1h-1zM40 14.5h1v1h-1zM58 14.5h1v1h-1zM36 15.5h1v1h-1zM58 15.5h1v1h-1zM62 15.5h1v1h-1zM28 16.5h2v1h-2zM59 16.5h3v1h-3zM25 17.5h1v1h-1zM23 18.5h1v1h-1zM32 18.5h2v1h-2zM22 19.5h1v1h-1zM31 19.5h1v1h-1zM21 20.5h1v1h-1zM30 20.5h1v1h-1zM19 21.5h1v1h-1zM29 21.5h1v1h-1zM27 22.5h1v1h-1zM93 22.5h3v1h-3zM25 23.5h1v1h-1zM92 23.5h1v1h-1zM98 23.5h1v1h-1zM17 24.5h1v1h-1zM23 24.5h1v1h-1zM92 24.5h1v1h-1zM95 24.5h2v1h-2zM22 25.5h1v1h-1zM90 25.5h4v1h-4zM20 26.5h1v1h-1zM15 27.5h1v1h-1zM19 27.5h1v1h-1zM18 28.5h1v1h-1zM86 28.5h1v1h-1zM86 29.5h1v1h-1zM14 30.5h1v1h-1zM78 30.5h3v1h-3zM82 30.5h4v1h-4zM16 31.5h1v3.5h-1zM76 31.5h2v3.5h-2zM81 31.5h1v3.5h-1zM85 31.5h1v3.5h-1z"/><path class="c36" d="M94 3.5h8v1h-8zM67 6.5h3v1h-3zM72 6.5h3v1h-3zM45 7.5h4v1h-4zM64 7.5h1v1h-1zM76 7.5h1v1h-1zM38 8.5h1v1h-1zM40 8.5h5v1h-5zM46 8.5h3v1h-3zM60 8.5h1v1h-1zM73 8.5h2v1h-2zM47 9.5h3v1h-3zM58 9.5h1v1h-1zM68 9.5h3v1h-3zM48 10.5h10v1h-10zM67 10.5h1v1h-1zM49 11.5h6v1h-6zM33 12.5h2v1h-2zM46 12.5h2v1h-2zM54 12.5h3v1h-3zM31 13.5h1v1h-1zM43 13.5h1v1h-1zM56 13.5h1v1h-1zM65 13.5h1v1h-1zM30 14.5h1v1h-1zM41 14.5h1v1h-1zM57 14.5h1v1h-1zM64 14.5h1v1h-1zM29 15.5h1v1h-1zM37 15.5h1v1h-1zM57 15.5h1v1h-1zM27 16.5h1v1h-1zM36 16.5h1v1h-1zM58 16.5h1v1h-1zM62 16.5h1v1h-1zM24 17.5h1v1h-1zM35 17.5h1v1h-1zM59 17.5h3v1h-3zM21 19.5h1v1h-1zM20 20.5h1v1h-1zM31 20.5h1v1h-1zM30 21.5h1v1h-1zM18 22.5h1v1h-1zM28 22.5h1v1h-1zM96 22.5h3v1h-3zM17 23.5h1v1h-1zM26 23.5h1v1h-1zM99 23.5h3v1h-3zM24 24.5h1v1h-1zM91 24.5h1v1h-1zM97 24.5h2v1h-2zM16 25.5h1v1h-1zM23 25.5h1v1h-1zM87 25.5h1v1h-1zM94 25.5h2v1h-2zM15 26.5h1v1h-1zM21 26.5h1v1h-1zM86 26.5h1v1h-1zM92 26.5h1v1h-1zM85 27.5h1v1h-1zM92 27.5h1v1h-1zM19 28.5h1v1h-1zM85 28.5h1v1h-1zM91 28.5h1v1h-1zM14 29.5h1v1h-1zM18 29.5h1v1h-1zM79 29.5h7v1h-7zM90 29.5h1v1h-1zM17 30.5h1v1h-1zM77 30.5h1v1h-1zM81 30.5h1v1h-1zM86 30.5h3v1h-3zM13 31.5h1v3.5h-1zM86 31.5h1v3.5h-1z"/><path class="c37" d="M92 3.5h2v1h-2zM65 6.5h2v1h-2zM75 6.5h2v1h-2zM44 7.5h1v1h-1zM49 7.5h2v1h-2zM63 7.5h1v1h-1zM77 7.5h2v1h-2zM49 8.5h3v1h-3zM59 8.5h1v1h-1zM75 8.5h2v1h-2zM36 9.5h1v1h-1zM50 9.5h8v1h-8zM71 9.5h3v1h-3zM35 10.5h1v1h-1zM68 10.5h2v1h-2zM67 11.5h1v1h-1zM48 12.5h6v1h-6zM66 12.5h1v1h-1zM44 13.5h3v1h-3zM52 13.5h4v1h-4zM42 14.5h1v1h-1zM55 14.5h2v1h-2zM56 15.5h1v1h-1zM63 15.5h1v1h-1zM26 16.5h1v1h-1zM57 16.5h1v1h-1zM63 16.5h1v1h-1zM23 17.5h1v1h-1zM58 17.5h1v1h-1zM62 17.5h1v1h-1zM22 18.5h1v1h-1zM34 18.5h1v1h-1zM59 18.5h3v1h-3zM32 19.5h1v1h-1zM19 20.5h1v1h-1zM18 21.5h1v1h-1zM93 21.5h5v1h-5zM29 22.5h1v1h-1zM92 22.5h1v1h-1zM99 22.5h3v1h-3zM27 23.5h1v1h-1zM91 23.5h1v1h-1zM16 24.5h1v1h-1zM25 24.5h2v1h-2zM89 24.5h2v1h-2zM99 24.5h3v1h-3zM24 25.5h1v1h-1zM96 25.5h2v1h-2zM22 26.5h1v1h-1zM93 26.5h2v1h-2zM20 27.5h1v1h-1zM14 28.5h1v1h-1zM79 28.5h6v1h-6zM92 28.5h1v1h-1zM19 29.5h1v1h-1zM78 29.5h1v1h-1zM91 29.5h1v1h-1zM18 30.5h1v1h-1zM76 30.5h1v1h-1zM89 30.5h1v1h-1zM17 31.5h1v3.5h-1zM74 31.5h2v3.5h-2z"/><path class="c38" d="M94 2.5h8v1h-8zM90 3.5h2v1h-2zM92 4.5h10v1h-10zM67 5.5h10v1h-10zM45 6.5h5v1h-5zM64 6.5h1v1h-1zM77 6.5h3v1h-3zM42 7.5h2v1h-2zM51 7.5h2v1h-2zM61 7.5h2v1h-2zM79 7.5h4v1h-4zM37 8.5h1v1h-1zM52 8.5h7v1h-7zM77 8.5h2v1h-2zM74 9.5h2v1h-2zM70 10.5h2v1h-2zM34 11.5h1v1h-1zM68 11.5h1v1h-1zM32 12.5h1v1h-1zM67 12.5h1v1h-1zM30 13.5h1v1h-1zM47 13.5h5v1h-5zM66 13.5h1v1h-1zM29 14.5h1v1h-1zM43 14.5h2v1h-2zM51 14.5h4v1h-4zM65 14.5h1v1h-1zM28 15.5h1v1h-1zM38 15.5h2v1h-2zM55 15.5h1v1h-1zM64 15.5h1v1h-1zM24 16.5h2v1h-2zM37 16.5h2v1h-2zM55 16.5h2v1h-2zM64 16.5h1v1h-1zM22 17.5h1v1h-1zM36 17.5h1v1h-1zM56 17.5h2v1h-2zM63 17.5h1v1h-1zM21 18.5h1v1h-1zM35 18.5h1v1h-1zM57 18.5h2v1h-2zM62 18.5h1v1h-1zM20 19.5h1v1h-1zM33 19.5h1v1h-1zM59 19.5h3v1h-3zM32 20.5h1v1h-1zM31 21.5h1v1h-1zM92 21.5h1v1h-1zM98 21.5h4v1h-4zM17 22.5h1v1h-1zM30 22.5h1v1h-1zM91 22.5h1v1h-1zM28 23.5h1v1h-1zM27 24.5h1v1h-1zM88 24.5h1v1h-1zM15 25.5h1v1h-1zM25 25.5h2v1h-2zM86 25.5h1v1h-1zM98 25.5h4v1h-4zM23 26.5h2v1h-2zM85 26.5h1v1h-1zM95 26.5h3v1h-3zM21 27.5h1v1h-1zM80 27.5h5v1h-5zM93 27.5h1v1h-1zM20 28.5h2v1h-2zM78 28.5h1v1h-1zM20 29.5h1v1h-1zM76 29.5h2v1h-2zM13 30.5h1v1h-1zM74 30.5h2v1h-2zM90 30.5h1v1h-1zM73 31.5h1v3.5h-1zM87 31.5h1v3.5h-1z"/><path class="c39" d="M91 2.5h3v1h-3zM86 3.5h4v1h-4zM89 4.5h3v1h-3zM65 5.5h2v1h-2zM77 5.5h7v1h-7zM95 5.5h7v1h-7zM43 6.5h2v1h-2zM50 6.5h2v1h-2zM62 6.5h2v1h-2zM80 6.5h4v1h-4zM41 7.5h1v1h-1zM53 7.5h8v1h-8zM83 7.5h1v1h-1zM79 8.5h4v1h-4zM35 9.5h1v1h-1zM76 9.5h3v1h-3zM34 10.5h1v1h-1zM72 10.5h3v1h-3zM33 11.5h1v1h-1zM69 11.5h2v1h-2zM31 12.5h1v1h-1zM68 12.5h2v1h-2zM67 13.5h1v1h-1zM28 14.5h1v1h-1zM45 14.5h6v1h-6zM66 14.5h1v1h-1zM26 15.5h2v1h-2zM40 15.5h2v1h-2zM51 15.5h4v1h-4zM65 15.5h1v1h-1zM23 16.5h1v1h-1zM39 16.5h1v1h-1zM53 16.5h2v1h-2zM21 17.5h1v1h-1zM37 17.5h2v1h-2zM54 17.5h2v1h-2zM64 17.5h1v1h-1zM20 18.5h1v1h-1zM36 18.5h1v1h-1zM55 18.5h2v1h-2zM63 18.5h2v1h-2zM19 19.5h1v1h-1zM34 19.5h1v1h-1zM56 19.5h3v1h-3zM62 19.5h2v1h-2zM18 20.5h1v1h-1zM33 20.5h1v1h-1zM57 20.5h6v1h-6zM94 20.5h8v1h-8zM17 21.5h1v1h-1zM32 21.5h1v1h-1zM58 21.5h5v1h-5zM31 22.5h1v1h-1zM60 22.5h1v1h-1zM16 23.5h1v1h-1zM29 23.5h1v1h-1zM90 23.5h1v1h-1zM15 24.5h1v1h-1zM28 24.5h1v1h-1zM87 24.5h1v1h-1zM27 25.5h1v1h-1zM85 25.5h1v1h-1zM25 26.5h1v1h-1zM80 26.5h5v1h-5zM98 26.5h4v1h-4zM14 27.5h1v1h-1zM22 27.5h2v1h-2zM79 27.5h1v1h-1zM94 27.5h3v1h-3zM22 28.5h1v1h-1zM77 28.5h1v1h-1zM93 28.5h1v1h-1zM13 29.5h1v1h-1zM21 29.5h1v1h-1zM75 29.5h1v1h-1zM92 29.5h1v1h-1zM19 30.5h2v1h-2zM73 30.5h1v1h-1zM91 30.5h1v1h-1zM18 31.5h1v3.5h-1zM71 31.5h2v3.5h-2zM88 31.5h1v3.5h-1z"/><path class="c40" d="M94 1.5h8v1h-8zM89 2.5h2v1h-2zM80 3.5h6v1h-6zM68 4.5h21v1h-21zM44 5.5h7v1h-7zM63 5.5h2v1h-2zM84 5.5h11v1h-11zM41 6.5h2v1h-2zM52 6.5h10v1h-10zM84 6.5h2v1h-2zM39 7.5h2v1h-2zM84 7.5h1v1h-1zM36 8.5h1v1h-1zM83 8.5h2v1h-2zM79 9.5h4v1h-4zM75 10.5h3v1h-3zM71 11.5h2v1h-2zM30 12.5h1v1h-1zM70 12.5h2v1h-2zM28 13.5h2v1h-2zM68 13.5h2v1h-2zM26 14.5h2v1h-2zM67 14.5h1v1h-1zM25 15.5h1v1h-1zM42 15.5h9v1h-9zM66 15.5h1v1h-1zM22 16.5h1v1h-1zM40 16.5h5v1h-5zM49 16.5h4v1h-4zM65 16.5h2v1h-2zM20 17.5h1v1h-1zM39 17.5h2v1h-2zM52 17.5h2v1h-2zM65 17.5h1v1h-1zM19 18.5h1v1h-1zM37 18.5h2v1h-2zM53 18.5h2v1h-2zM65 18.5h1v1h-1zM35 19.5h2v1h-2zM54 19.5h2v1h-2zM64 19.5h1v1h-1zM97 19.5h5v1h-5zM17 20.5h1v1h-1zM34 20.5h2v1h-2zM55 20.5h2v1h-2zM63 20.5h2v1h-2zM92 20.5h2v1h-2zM33 21.5h1v1h-1zM55 21.5h3v1h-3zM63 21.5h1v1h-1zM91 21.5h1v1h-1zM16 22.5h1v1h-1zM32 22.5h1v1h-1zM56 22.5h4v1h-4zM61 22.5h3v1h-3zM90 22.5h1v1h-1zM30 23.5h1v1h-1zM58 23.5h5v1h-5zM89 23.5h1v1h-1zM29 24.5h2v1h-2zM58 24.5h4v1h-4zM86 24.5h1v1h-1zM28 25.5h2v1h-2zM80 25.5h5v1h-5zM14 26.5h1v1h-1zM26 26.5h3v1h-3zM78 26.5h2v1h-2zM24 27.5h2v1h-2zM77 27.5h2v1h-2zM97 27.5h5v1h-5zM13 28.5h1v1h-1zM23 28.5h2v1h-2zM75 28.5h2v1h-2zM94 28.5h5v1h-5zM22 29.5h2v1h-2zM72 29.5h3v1h-3zM93 29.5h2v1h-2zM21 30.5h1v1h-1zM70 30.5h3v1h-3zM92 30.5h1v1h-1zM12 31.5h1v3.5h-1zM19 31.5h2v3.5h-2zM58 31.5h2v3.5h-2zM69 31.5h2v3.5h-2zM89 31.5h1v3.5h-1z"/><path class="c41" d="M91 1.5h3v1h-3zM81 2.5h8v1h-8zM74 3.5h6v1h-6zM65 4.5h3v1h-3zM42 5.5h2v1h-2zM51 5.5h12v1h-12zM40 6.5h1v1h-1zM86 6.5h16v1h-16zM38 7.5h1v1h-1zM85 7.5h2v1h-2zM35 8.5h1v1h-1zM85 8.5h1v1h-1zM34 9.5h1v1h-1zM83 9.5h2v1h-2zM33 10.5h1v1h-1zM78 10.5h5v1h-5zM32 11.5h1v1h-1zM73 11.5h5v1h-5zM29 12.5h1v1h-1zM72 12.5h3v1h-3zM27 13.5h1v1h-1zM70 13.5h3v1h-3zM24 14.5h2v1h-2zM68 14.5h3v1h-3zM23 15.5h2v1h-2zM67 15.5h1v1h-1zM20 16.5h2v1h-2zM45 16.5h4v1h-4zM67 16.5h1v1h-1zM19 17.5h1v1h-1zM41 17.5h11v1h-11zM66 17.5h2v1h-2zM18 18.5h1v1h-1zM39 18.5h5v1h-5zM50 18.5h3v1h-3zM66 18.5h1v1h-1zM96 18.5h6v1h-6zM18 19.5h1v1h-1zM37 19.5h3v1h-3zM52 19.5h2v1h-2zM65 19.5h1v1h-1zM94 19.5h3v1h-3zM36 20.5h2v1h-2zM52 20.5h3v1h-3zM65 20.5h1v1h-1zM91 20.5h1v1h-1zM16 21.5h1v1h-1zM34 21.5h3v1h-3zM53 21.5h2v1h-2zM64 21.5h2v1h-2zM90 21.5h1v1h-1zM15 22.5h1v1h-1zM33 22.5h2v1h-2zM53 22.5h3v1h-3zM64 22.5h1v1h-1zM89 22.5h1v1h-1zM15 23.5h1v1h-1zM31 23.5h2v1h-2zM54 23.5h4v1h-4zM63 23.5h2v1h-2zM88 23.5h1v1h-1zM31 24.5h1v1h-1zM53 24.5h5v1h-5zM62 24.5h3v1h-3zM80 24.5h6v1h-6zM14 25.5h1v1h-1zM30 25.5h2v1h-2zM53 25.5h11v1h-11zM78 25.5h2v1h-2zM29 26.5h2v1h-2zM53 26.5h10v1h-10zM76 26.5h2v1h-2zM13 27.5h1v1h-1zM26 27.5h3v1h-3zM53 27.5h8v1h-8zM75 27.5h2v1h-2zM25 28.5h3v1h-3zM53 28.5h9v1h-9zM70 28.5h5v1h-5zM99 28.5h3v1h-3zM12 29.5h1v1h-1zM24 29.5h3v1h-3zM52 29.5h11v1h-11zM68 29.5h4v1h-4zM95 29.5h7v1h-7zM12 30.5h1v1h-1zM22 30.5h3v1h-3zM52 30.5h12v1h-12zM67 30.5h3v1h-3zM93 30.5h9v1h-9zM21 31.5h2v3.5h-2zM51 31.5h7v3.5h-7zM60 31.5h9v3.5h-9zM90 31.5h2v3.5h-2z"/><path class="c42" d="M93 0.5h9v1h-9zM85 1.5h6v1h-6zM73 2.5h8v1h-8zM69 3.5h5v1h-5zM44 4.5h14v1h-14zM61 4.5h4v1h-4zM40 5.5h2v1h-2zM38 6.5h2v1h-2zM37 7.5h1v1h-1zM87 7.5h5v1h-5zM34 8.5h1v1h-1zM86 8.5h4v1h-4zM33 9.5h1v1h-1zM85 9.5h3v1h-3zM31 10.5h2v1h-2zM83 10.5h3v1h-3zM31 11.5h1v1h-1zM78 11.5h6v1h-6zM27 12.5h2v1h-2zM75 12.5h7v1h-7zM24 13.5h3v1h-3zM73 13.5h7v1h-7zM22 14.5h2v1h-2zM71 14.5h7v1h-7zM21 15.5h2v1h-2zM68 15.5h6v1h-6zM19 16.5h1v1h-1zM68 16.5h4v1h-4zM99 16.5h3v1h-3zM18 17.5h1v1h-1zM68 17.5h3v1h-3zM95 17.5h7v1h-7zM17 18.5h1v1h-1zM44 18.5h6v1h-6zM67 18.5h3v1h-3zM93 18.5h3v1h-3zM17 19.5h1v1h-1zM40 19.5h12v1h-12zM66 19.5h4v1h-4zM92 19.5h2v1h-2zM16 20.5h1v1h-1zM38 20.5h14v1h-14zM66 20.5h3v1h-3zM90 20.5h1v1h-1zM15 21.5h1v1h-1zM37 21.5h16v1h-16zM66 21.5h3v1h-3zM88 21.5h2v1h-2zM35 22.5h4v1h-4zM49 22.5h4v1h-4zM65 22.5h4v1h-4zM87 22.5h2v1h-2zM33 23.5h4v1h-4zM50 23.5h4v1h-4zM65 23.5h3v1h-3zM79 23.5h5v1h-5zM85 23.5h3v1h-3zM14 24.5h1v1h-1zM32 24.5h4v1h-4zM49 24.5h4v1h-4zM65 24.5h4v1h-4zM76 24.5h4v1h-4zM13 25.5h1v1h-1zM32 25.5h3v1h-3zM49 25.5h4v1h-4zM64 25.5h14v1h-14zM13 26.5h1v1h-1zM31 26.5h3v1h-3zM48 26.5h5v1h-5zM63 26.5h13v1h-13zM29 27.5h4v1h-4zM48 27.5h5v1h-5zM61 27.5h14v1h-14zM12 28.5h1v1h-1zM28 28.5h4v1h-4zM48 28.5h5v1h-5zM62 28.5h8v1h-8zM27 29.5h4v1h-4zM47 29.5h5v1h-5zM63 29.5h5v1h-5zM25 30.5h4v1h-4zM46 30.5h6v1h-6zM64 30.5h3v1h-3zM23 31.5h5v3.5h-5zM45 31.5h6v3.5h-6zM92 31.5h10v3.5h-10z"/><path class="c43" d="M99 -2h3v2.5h-3zM90 0.5h3v1h-3zM73 1.5h12v1h-12zM67 2.5h6v1h-6zM48 3.5h8v1h-8zM64 3.5h5v1h-5zM40 4.5h4v1h-4zM58 4.5h3v1h-3zM37 5.5h3v1h-3zM36 6.5h2v1h-2zM35 7.5h2v1h-2zM92 7.5h10v1h-10zM33 8.5h1v1h-1zM90 8.5h12v1h-12zM31 9.5h2v1h-2zM88 9.5h14v1h-14zM30 10.5h1v1h-1zM86 10.5h16v1h-16zM27 11.5h4v1h-4zM84 11.5h10v1h-10zM23 12.5h4v1h-4zM82 12.5h5v1h-5zM21 13.5h3v1h-3zM80 13.5h5v1h-5zM99 13.5h3v1h-3zM19 14.5h3v1h-3zM78 14.5h6v1h-6zM97 14.5h5v1h-5zM18 15.5h3v1h-3zM74 15.5h9v1h-9zM97 15.5h5v1h-5zM17 16.5h2v1h-2zM72 16.5h10v1h-10zM93 16.5h6v1h-6zM16 17.5h2v1h-2zM71 17.5h11v1h-11zM91 17.5h4v1h-4zM16 18.5h1v1h-1zM70 18.5h11v1h-11zM90 18.5h3v1h-3zM15 19.5h2v1h-2zM70 19.5h8v1h-8zM89 19.5h3v1h-3zM14 20.5h2v1h-2zM69 20.5h14v1h-14zM87 20.5h3v1h-3zM14 21.5h1v1h-1zM69 21.5h19v1h-19zM14 22.5h1v1h-1zM39 22.5h10v1h-10zM69 22.5h18v1h-18zM14 23.5h1v1h-1zM37 23.5h13v1h-13zM68 23.5h11v1h-11zM84 23.5h1v1h-1zM13 24.5h1v1h-1zM36 24.5h13v1h-13zM69 24.5h7v1h-7zM35 25.5h14v1h-14zM12 26.5h1v1h-1zM34 26.5h14v1h-14zM12 27.5h1v1h-1zM33 27.5h15v1h-15zM32 28.5h16v1h-16zM31 29.5h16v1h-16zM29 30.5h17v1h-17zM11 31.5h1v3.5h-1zM28 31.5h17v3.5h-17z"/><path class="c44" d="M93 -2h6v2.5h-6zM70 0.5h20v1h-20zM49 1.5h6v1h-6zM65 1.5h8v1h-8zM45 2.5h22v1h-22zM42 3.5h6v1h-6zM56 3.5h8v1h-8zM37 4.5h3v1h-3zM35 5.5h2v1h-2zM34 6.5h2v1h-2zM33 7.5h2v1h-2zM30 8.5h3v1h-3zM26 9.5h5v1h-5zM23 10.5h7v1h-7zM21 11.5h6v1h-6zM94 11.5h8v1h-8zM18 12.5h5v1h-5zM87 12.5h15v1h-15zM17 13.5h4v1h-4zM85 13.5h14v1h-14zM16 14.5h3v1h-3zM84 14.5h13v1h-13zM15 15.5h3v1h-3zM83 15.5h4v1h-4zM89 15.5h8v1h-8zM15 16.5h2v1h-2zM82 16.5h11v1h-11zM14 17.5h2v1h-2zM82 17.5h9v1h-9zM13 18.5h3v1h-3zM81 18.5h9v1h-9zM13 19.5h2v1h-2zM78 19.5h11v1h-11zM13 20.5h1v1h-1zM83 20.5h4v1h-4zM12 21.5h2v1h-2zM12 22.5h2v1h-2zM12 23.5h2v1h-2zM12 24.5h1v1h-1zM12 25.5h1v1h-1zM11 28.5h1v1h-1zM11 29.5h1v1h-1zM11 30.5h1v1h-1z"/><path class="c45" d="M66 -2h20v2.5h-20zM88 -2h5v2.5h-5zM41 0.5h29v1h-29zM38 1.5h11v1h-11zM55 1.5h10v1h-10zM36 2.5h9v1h-9zM34 3.5h8v1h-8zM31 4.5h6v1h-6zM28 5.5h7v1h-7zM25 6.5h9v1h-9zM23 7.5h10v1h-10zM20 8.5h10v1h-10zM17 9.5h9v1h-9zM16 10.5h7v1h-7zM15 11.5h6v1h-6zM14 12.5h4v1h-4zM13 13.5h4v1h-4zM13 14.5h3v1h-3zM12 15.5h3v1h-3zM87 15.5h2v1h-2zM12 16.5h3v1h-3zM12 17.5h2v1h-2zM12 18.5h1v1h-1zM12 19.5h1v1h-1zM11 20.5h2v1h-2zM11 21.5h1v1h-1zM11 22.5h1v1h-1zM11 23.5h1v1h-1zM11 24.5h1v1h-1zM11 25.5h1v1h-1zM11 26.5h1v1h-1zM11 27.5h1v1h-1z"/><path class="c46" d="M-2 -2h8v2.5h-8zM10 -2h56v2.5h-56zM86 -2h2v2.5h-2zM-2 0.5h8v1h-8zM10 0.5h31v1h-31zM-2 1.5h8v1h-8zM10 1.5h28v1h-28zM-2 2.5h8v1h-8zM10 2.5h26v1h-26zM-2 3.5h8v1h-8zM10 3.5h24v1h-24zM-2 4.5h8v1h-8zM10 4.5h21v1h-21zM-2 5.5h8v1h-8zM10 5.5h18v1h-18zM-2 6.5h8v1h-8zM10 6.5h15v1h-15zM-2 7.5h8v1h-8zM10 7.5h13v1h-13zM-2 8.5h8v1h-8zM10 8.5h10v1h-10zM-2 9.5h8v1h-8zM10 9.5h7v1h-7zM-2 10.5h8v1h-8zM10 10.5h6v1h-6zM-2 11.5h8v1h-8zM10 11.5h5v1h-5zM-2 12.5h8v1h-8zM10 12.5h4v1h-4zM-2 13.5h8v1h-8zM10 13.5h3v1h-3zM-2 14.5h8v1h-8zM10 14.5h3v1h-3zM-2 15.5h8v1h-8zM10 15.5h2v1h-2zM-2 16.5h8v1h-8zM10 16.5h2v1h-2zM-2 17.5h8v1h-8zM10 17.5h2v1h-2zM-2 18.5h8v1h-8zM10 18.5h2v1h-2zM-2 19.5h8v1h-8zM10 19.5h2v1h-2zM-2 20.5h8v1h-8zM10 20.5h1v1h-1zM-2 21.5h8v1h-8zM10 21.5h1v1h-1zM-2 22.5h8v1h-8zM10 22.5h1v1h-1zM-2 23.5h8v1h-8zM10 23.5h1v1h-1zM-2 24.5h8v1h-8zM10 24.5h1v1h-1zM-2 25.5h8v1h-8zM10 25.5h1v1h-1zM-2 26.5h8v1h-8zM10 26.5h1v1h-1zM-2 27.5h8v1h-8zM10 27.5h1v1h-1zM-2 28.5h8v1h-8zM10 28.5h1v1h-1zM-2 29.5h8v1h-8zM10 29.5h1v1h-1zM-2 30.5h8v1h-8zM10 30.5h1v1h-1zM-2 31.5h8v3.5h-8zM10 31.5h1v3.5h-1z"/><path class="c47" d="M6 -2h4v2.5h-4zM6 0.5h4v1h-4zM6 1.5h4v1h-4zM6 2.5h4v1h-4zM6 3.5h4v1h-4zM6 4.5h4v1h-4zM6 5.5h4v1h-4zM6 6.5h4v1h-4zM6 7.5h4v1h-4zM6 8.5h4v1h-4zM6 9.5h4v1h-4zM6 10.5h4v1h-4zM6 11.5h4v1h-4zM6 12.5h4v1h-4zM6 13.5h4v1h-4zM6 14.5h4v1h-4zM6 15.5h4v1h-4zM6 16.5h4v1h-4zM6 17.5h4v1h-4zM6 18.5h4v1h-4zM6 19.5h4v1h-4zM6 20.5h4v1h-4zM6 21.5h4v1h-4zM6 22.5h4v1h-4zM6 23.5h4v1h-4zM6 24.5h4v1h-4zM6 25.5h4v1h-4zM6 26.5h4v1h-4zM6 27.5h4v1h-4zM6 28.5h4v1h-4zM6 29.5h4v1h-4zM6 30.5h4v1h-4zM6 31.5h4v3.5h-4z"/></g></svg>
<svg width="685" height="1112" viewBox="0 0 685 1112" class="ly"><defs><linearGradient id="v15_3" x1="0" y1="0" x2="0" y2="1"><stop stop-color="#c3c9a1"/><stop offset="1" stop-color="#6d7de8"/></linearGradient><linearGradient id="v16_5" x1="0" y1="0" x2="0" y2="1"><stop stop-color="#cacf9b"/><stop offset="1" stop-color="#7c8adc"/></linearGradient><linearGradient id="v16_10" x1="0" y1="0" x2="0" y2="1"><stop stop-color="#cacf9b"/><stop offset="1" stop-color="#9fa9be"/></linearGradient><linearGradient id="v17_7" x1="0" y1="0" x2="0" y2="1"><stop stop-color="#d1d695"/><stop offset="1" stop-color="#8a96d0"/></linearGradient><linearGradient id="v17_12" x1="0" y1="0" x2="0" y2="1"><stop stop-color="#d1d695"/><stop offset="1" stop-color="#adb6b3"/></linearGradient><linearGradient id="v18_5" x1="0" y1="0" x2="0" y2="1"><stop stop-color="#d8dc8f"/><stop offset="1" stop-color="#7c8adc"/></linearGradient><linearGradient id="v18_10" x1="0" y1="0" x2="0" y2="1"><stop stop-color="#d8dc8f"/><stop offset="1" stop-color="#9fa9be"/></linearGradient><linearGradient id="v19_4" x1="0" y1="0" x2="0" y2="1"><stop stop-color="#dfe289"/><stop offset="1" stop-color="#7483e2"/></linearGradient><linearGradient id="v19_15" x1="0" y1="0" x2="0" y2="1"><stop stop-color="#dfe289"/><stop offset="1" stop-color="#c3c9a1"/></linearGradient><linearGradient id="v20_4" x1="0" y1="0" x2="0" y2="1"><stop stop-color="#e6e983"/><stop offset="1" stop-color="#7483e2"/></linearGradient><linearGradient id="v20_8" x1="0" y1="0" x2="0" y2="1"><stop stop-color="#e6e983"/><stop offset="1" stop-color="#919dca"/></linearGradient><linearGradient id="v20_10" x1="0" y1="0" x2="0" y2="1"><stop stop-color="#e6e983"/><stop offset="1" stop-color="#9fa9be"/></linearGradient><linearGradient id="v21_7" x1="0" y1="0" x2="0" y2="1"><stop stop-color="#edef7d"/><stop offset="1" stop-color="#8a96d0"/></linearGradient><linearGradient id="v21_8" x1="0" y1="0" x2="0" y2="1"><stop stop-color="#edef7d"/><stop offset="1" stop-color="#919dca"/></linearGradient><linearGradient id="v21_14" x1="0" y1="0" x2="0" y2="1"><stop stop-color="#edef7d"/><stop offset="1" stop-color="#bbc3a7"/></linearGradient><linearGradient id="v22_6" x1="0" y1="0" x2="0" y2="1"><stop stop-color="#f4f577"/><stop offset="1" stop-color="#8390d6"/></linearGradient><linearGradient id="v22_7" x1="0" y1="0" x2="0" y2="1"><stop stop-color="#f4f577"/><stop offset="1" stop-color="#8a96d0"/></linearGradient><linearGradient id="v22_10" x1="0" y1="0" x2="0" y2="1"><stop stop-color="#f4f577"/><stop offset="1" stop-color="#9fa9be"/></linearGradient><linearGradient id="v23_6" x1="0" y1="0" x2="0" y2="1"><stop stop-color="#fbfc71"/><stop offset="1" stop-color="#8390d6"/></linearGradient><linearGradient id="v23_7" x1="0" y1="0" x2="0" y2="1"><stop stop-color="#fbfc71"/><stop offset="1" stop-color="#8a96d0"/></linearGradient><linearGradient id="v23_8" x1="0" y1="0" x2="0" y2="1"><stop stop-color="#fbfc71"/><stop offset="1" stop-color="#919dca"/></linearGradient><linearGradient id="v23_12" x1="0" y1="0" x2="0" y2="1"><stop stop-color="#fbfc71"/><stop offset="1" stop-color="#adb6b3"/></linearGradient><linearGradient id="v24_5" x1="0" y1="0" x2="0" y2="1"><stop stop-color="#fbfd6e"/><stop offset="0.03" stop-color="#ffff6e"/><stop offset="1" stop-color="#7c8adc"/></linearGradient><linearGradient id="v25_2" x1="0" y1="0" x2="0" y2="1"><stop stop-color="#f2f96d"/><stop offset="0.07" stop-color="#ffff6e"/><stop offset="1" stop-color="#6677ee"/></linearGradient><linearGradient id="v25_6" x1="0" y1="0" x2="0" y2="1"><stop stop-color="#f2f96d"/><stop offset="0.08" stop-color="#ffff6e"/><stop offset="1" stop-color="#8390d6"/></linearGradient><linearGradient id="v25_8" x1="0" y1="0" x2="0" y2="1"><stop stop-color="#f2f96d"/><stop offset="0.09" stop-color="#ffff6e"/><stop offset="1" stop-color="#919dca"/></linearGradient><linearGradient id="v25_10" x1="0" y1="0" x2="0" y2="1"><stop stop-color="#f2f96d"/><stop offset="0.10" stop-color="#ffff6e"/><stop offset="1" stop-color="#9fa9be"/></linearGradient><linearGradient id="v25_18" x1="0" y1="0" x2="0" y2="1"><stop stop-color="#f2f96d"/><stop offset="0.21" stop-color="#ffff6e"/><stop offset="1" stop-color="#d8dc8f"/></linearGradient><linearGradient id="v26_4" x1="0" y1="0" x2="0" y2="1"><stop stop-color="#e9f66d"/><stop offset="0.11" stop-color="#ffff6e"/><stop offset="1" stop-color="#7483e2"/></linearGradient><linearGradient id="v26_6" x1="0" y1="0" x2="0" y2="1"><stop stop-color="#e9f66d"/><stop offset="0.12" stop-color="#ffff6e"/><stop offset="1" stop-color="#8390d6"/></linearGradient><linearGradient id="v26_8" x1="0" y1="0" x2="0" y2="1"><stop stop-color="#e9f66d"/><stop offset="0.14" stop-color="#ffff6e"/><stop offset="1" stop-color="#919dca"/></linearGradient><linearGradient id="v27_1" x1="0" y1="0" x2="0" y2="1"><stop stop-color="#e1f26d"/><stop offset="0.13" stop-color="#ffff6e"/><stop offset="1" stop-color="#5f70f4"/></linearGradient><linearGradient id="v27_6" x1="0" y1="0" x2="0" y2="1"><stop stop-color="#e1f26d"/><stop offset="0.17" stop-color="#ffff6e"/><stop offset="1" stop-color="#8390d6"/></linearGradient><linearGradient id="v27_7" x1="0" y1="0" x2="0" y2="1"><stop stop-color="#e1f26d"/><stop offset="0.17" stop-color="#ffff6e"/><stop offset="1" stop-color="#8a96d0"/></linearGradient><linearGradient id="v27_8" x1="0" y1="0" x2="0" y2="1"><stop stop-color="#e1f26d"/><stop offset="0.18" stop-color="#ffff6e"/><stop offset="1" stop-color="#919dca"/></linearGradient><linearGradient id="v27_16" x1="0" y1="0" x2="0" y2="1"><stop stop-color="#e1f26d"/><stop offset="0.32" stop-color="#ffff6e"/><stop offset="1" stop-color="#cacf9b"/></linearGradient><linearGradient id="v27_17" x1="0" y1="0" x2="0" y2="1"><stop stop-color="#e1f26d"/><stop offset="0.35" stop-color="#ffff6e"/><stop offset="1" stop-color="#d1d695"/></linearGradient><linearGradient id="v28_4" x1="0" y1="0" x2="0" y2="1"><stop stop-color="#d8ee6c"/><stop offset="0.19" stop-color="#ffff6e"/><stop offset="1" stop-color="#7483e2"/></linearGradient><linearGradient id="v28_8" x1="0" y1="0" x2="0" y2="1"><stop stop-color="#d8ee6c"/><stop offset="0.23" stop-color="#ffff6e"/><stop offset="1" stop-color="#919dca"/></linearGradient><linearGradient id="v28_12" x1="0" y1="0" x2="0" y2="1"><stop stop-color="#d8ee6c"/><stop offset="0.28" stop-color="#ffff6e"/><stop offset="1" stop-color="#adb6b3"/></linearGradient><linearGradient id="v29_1" x1="0" y1="0" x2="0" y2="1"><stop stop-color="#cfeb6c"/><stop offset="0.20" stop-color="#ffff6e"/><stop offset="1" stop-color="#5f70f4"/></linearGradient><linearGradient id="v29_6" x1="0" y1="0" x2="0" y2="1"><stop stop-color="#cfeb6c"/><stop offset="0.24" stop-color="#ffff6e"/><stop offset="1" stop-color="#8390d6"/></linearGradient><linearGradient id="v29_7" x1="0" y1="0" x2="0" y2="1"><stop stop-color="#cfeb6c"/><stop offset="0.25" stop-color="#ffff6e"/><stop offset="1" stop-color="#8a96d0"/></linearGradient><linearGradient id="v29_11" x1="0" y1="0" x2="0" y2="1"><stop stop-color="#cfeb6c"/><stop offset="0.31" stop-color="#ffff6e"/><stop offset="1" stop-color="#a6b0b8"/></linearGradient><linearGradient id="v29_13" x1="0" y1="0" x2="0" y2="1"><stop stop-color="#cfeb6c"/><stop offset="0.34" stop-color="#ffff6e"/><stop offset="1" stop-color="#b4bcad"/></linearGradient><linearGradient id="v29_14" x1="0" y1="0" x2="0" y2="1"><stop stop-color="#cfeb6c"/><stop offset="0.37" stop-color="#ffff6e"/><stop offset="1" stop-color="#bbc3a7"/></linearGradient><linearGradient id="v29_23" x1="0" y1="0" x2="0" y2="1"><stop stop-color="#cfeb6c"/><stop offset="0.92" stop-color="#ffff6e"/><stop offset="1" stop-color="#fbfc71"/></linearGradient><linearGradient id="v30_6" x1="0" y1="0" x2="0" y2="1"><stop stop-color="#c7e76b"/><stop offset="0.27" stop-color="#ffff6e"/><stop offset="1" stop-color="#8390d6"/></linearGradient><linearGradient id="v30_12" x1="0" y1="0" x2="0" y2="1"><stop stop-color="#c7e76b"/><stop offset="0.36" stop-color="#ffff6e"/><stop offset="1" stop-color="#adb6b3"/></linearGradient><linearGradient id="v30_13" x1="0" y1="0" x2="0" y2="1"><stop stop-color="#c7e76b"/><stop offset="0.38" stop-color="#ffff6e"/><stop offset="1" stop-color="#b4bcad"/></linearGradient><linearGradient id="v30_15" x1="0" y1="0" x2="0" y2="1"><stop stop-color="#c7e76b"/><stop offset="0.43" stop-color="#ffff6e"/><stop offset="1" stop-color="#c3c9a1"/></linearGradient><linearGradient id="v30_22" x1="0" y1="0" x2="0" y2="1"><stop stop-color="#c7e76b"/><stop offset="0.81" stop-color="#ffff6e"/><stop offset="1" stop-color="#f4f577"/></linearGradient><linearGradient id="v31_2" x1="0" y1="0" x2="0" y2="1"><stop stop-color="#bee36b"/><stop offset="0.26" stop-color="#ffff6e"/><stop offset="1" stop-color="#6677ee"/></linearGradient><linearGradient id="v31_6" x1="0" y1="0" x2="0" y2="1"><stop stop-color="#bee36b"/><stop offset="0.30" stop-color="#ffff6e"/><stop offset="1" stop-color="#8390d6"/></linearGradient><linearGradient id="v31_7" x1="0" y1="0" x2="0" y2="1"><stop stop-color="#bee36b"/><stop offset="0.31" stop-color="#ffff6e"/><stop offset="1" stop-color="#8a96d0"/></linearGradient><linearGradient id="v31_8" x1="0" y1="0" x2="0" y2="1"><stop stop-color="#bee36b"/><stop offset="0.33" stop-color="#ffff6e"/><stop offset="1" stop-color="#919dca"/></linearGradient><linearGradient id="v31_10" x1="0" y1="0" x2="0" y2="1"><stop stop-color="#bee36b"/><stop offset="0.36" stop-color="#ffff6e"/><stop offset="1" stop-color="#9fa9be"/></linearGradient><linearGradient id="v31_11" x1="0" y1="0" x2="0" y2="1"><stop stop-color="#bee36b"/><stop offset="0.38" stop-color="#ffff6e"/><stop offset="1" stop-color="#a6b0b8"/></linearGradient><linearGradient id="v31_16" x1="0" y1="0" x2="0" y2="1"><stop stop-color="#bee36b"/><stop offset="0.50" stop-color="#ffff6e"/><stop offset="1" stop-color="#cacf9b"/></linearGradient><linearGradient id="v31_17" x1="0" y1="0" x2="0" y2="1"><stop stop-color="#bee36b"/><stop offset="0.54" stop-color="#ffff6e"/><stop offset="1" stop-color="#d1d695"/></linearGradient><linearGradient id="v31_18" x1="0" y1="0" x2="0" y2="1"><stop stop-color="#bee36b"/><stop offset="0.58" stop-color="#ffff6e"/><stop offset="1" stop-color="#d8dc8f"/></linearGradient><linearGradient id="v31_20" x1="0" y1="0" x2="0" y2="1"><stop stop-color="#bee36b"/><stop offset="0.68" stop-color="#ffff6e"/><stop offset="1" stop-color="#e6e983"/></linearGradient><linearGradient id="v32_4" x1="0" y1="0" x2="0" y2="1"><stop stop-color="#b6e06a"/><stop offset="0.30" stop-color="#ffff6e"/><stop offset="1" stop-color="#7483e2"/></linearGradient><linearGradient id="v32_8" x1="0" y1="0" x2="0" y2="1"><stop stop-color="#b6e06a"/><stop offset="0.35" stop-color="#ffff6e"/><stop offset="1" stop-color="#919dca"/></linearGradient><linearGradient id="v32_9" x1="0" y1="0" x2="0" y2="1"><stop stop-color="#b6e06a"/><stop offset="0.37" stop-color="#ffff6e"/><stop offset="1" stop-color="#98a3c4"/></linearGradient><linearGradient id="v32_15" x1="0" y1="0" x2="0" y2="1"><stop stop-color="#b6e06a"/><stop offset="0.50" stop-color="#ffff6e"/><stop offset="1" stop-color="#c3c9a1"/></linearGradient><linearGradient id="v32_19" x1="0" y1="0" x2="0" y2="1"><stop stop-color="#b6e06a"/><stop offset="0.65" stop-color="#ffff6e"/><stop offset="1" stop-color="#dfe289"/></linearGradient><linearGradient id="v33_7" x1="0" y1="0" x2="0" y2="1"><stop stop-color="#addc6a"/><stop offset="0.37" stop-color="#ffff6e"/><stop offset="1" stop-color="#8a96d0"/></linearGradient><linearGradient id="v33_9" x1="0" y1="0" x2="0" y2="1"><stop stop-color="#addc6a"/><stop offset="0.40" stop-color="#ffff6e"/><stop offset="1" stop-color="#98a3c4"/></linearGradient><linearGradient id="v33_13" x1="0" y1="0" x2="0" y2="1"><stop stop-color="#addc6a"/><stop offset="0.47" stop-color="#ffff6e"/><stop offset="1" stop-color="#b4bcad"/></linearGradient><linearGradient id="v33_17" x1="0" y1="0" x2="0" y2="1"><stop stop-color="#addc6a"/><stop offset="0.59" stop-color="#ffff6e"/><stop offset="1" stop-color="#d1d695"/></linearGradient><linearGradient id="v33_21" x1="0" y1="0" x2="0" y2="1"><stop stop-color="#addc6a"/><stop offset="0.79" stop-color="#ffff6e"/><stop offset="1" stop-color="#edef7d"/></linearGradient><linearGradient id="v33_22" x1="0" y1="0" x2="0" y2="1"><stop stop-color="#addc6a"/><stop offset="0.86" stop-color="#ffff6e"/><stop offset="1" stop-color="#f4f577"/></linearGradient><linearGradient id="v33_23" x1="0" y1="0" x2="0" y2="1"><stop stop-color="#addc6a"/><stop offset="0.95" stop-color="#ffff6e"/><stop offset="1" stop-color="#fbfc71"/></linearGradient><linearGradient id="v33_24" x1="0" y1="0" x2="0" y2="1"><stop stop-color="#addc6a"/><stop offset="1" stop-color="#fbfd6e"/></linearGradient><linearGradient id="v33_29" x1="0" y1="0" x2="0" y2="1"><stop stop-color="#addc6a"/><stop offset="1" stop-color="#cfeb6c"/></linearGradient><linearGradient id="v34_4" x1="0" y1="0" x2="0" y2="1"><stop stop-color="#a4d86a"/><stop offset="0.35" stop-color="#ffff6e"/><stop offset="1" stop-color="#7483e2"/></linearGradient><linearGradient id="v34_6" x1="0" y1="0" x2="0" y2="1"><stop stop-color="#a4d86a"/><stop offset="0.38" stop-color="#ffff6e"/><stop offset="1" stop-color="#8390d6"/></linearGradient><linearGradient id="v34_9" x1="0" y1="0" x2="0" y2="1"><stop stop-color="#a4d86a"/><stop offset="0.42" stop-color="#ffff6e"/><stop offset="1" stop-color="#98a3c4"/></linearGradient><linearGradient id="v34_11" x1="0" y1="0" x2="0" y2="1"><stop stop-color="#a4d86a"/><stop offset="0.46" stop-color="#ffff6e"/><stop offset="1" stop-color="#a6b0b8"/></linearGradient><linearGradient id="v34_13" x1="0" y1="0" x2="0" y2="1"><stop stop-color="#a4d86a"/><stop offset="0.50" stop-color="#ffff6e"/><stop offset="1" stop-color="#b4bcad"/></linearGradient><linearGradient id="v34_14" x1="0" y1="0" x2="0" y2="1"><stop stop-color="#a4d86a"/><stop offset="0.53" stop-color="#ffff6e"/><stop offset="1" stop-color="#bbc3a7"/></linearGradient><linearGradient id="v34_15" x1="0" y1="0" x2="0" y2="1"><stop stop-color="#a4d86a"/><stop offset="0.55" stop-color="#ffff6e"/><stop offset="1" stop-color="#c3c9a1"/></linearGradient><linearGradient id="v34_16" x1="0" y1="0" x2="0" y2="1"><stop stop-color="#a4d86a"/><stop offset="0.58" stop-color="#ffff6e"/><stop offset="1" stop-color="#cacf9b"/></linearGradient><linearGradient id="v34_18" x1="0" y1="0" x2="0" y2="1"><stop stop-color="#a4d86a"/><stop offset="0.66" stop-color="#ffff6e"/><stop offset="1" stop-color="#d8dc8f"/></linearGradient><linearGradient id="v34_20" x1="0" y1="0" x2="0" y2="1"><stop stop-color="#a4d86a"/><stop offset="0.75" stop-color="#ffff6e"/><stop offset="1" stop-color="#e6e983"/></linearGradient><linearGradient id="v34_25" x1="0" y1="0" x2="0" y2="1"><stop stop-color="#a4d86a"/><stop offset="1" stop-color="#f2f96d"/></linearGradient><linearGradient id="v34_26" x1="0" y1="0" x2="0" y2="1"><stop stop-color="#a4d86a"/><stop offset="1" stop-color="#e9f66d"/></linearGradient><linearGradient id="v34_28" x1="0" y1="0" x2="0" y2="1"><stop stop-color="#a4d86a"/><stop offset="1" stop-color="#d8ee6c"/></linearGradient><linearGradient id="v35_0" x1="0" y1="0" x2="0" y2="1"><stop stop-color="#9cd469"/><stop offset="0.33" stop-color="#ffff6e"/><stop offset="1" stop-color="#586afa"/></linearGradient><linearGradient id="v35_9" x1="0" y1="0" x2="0" y2="1"><stop stop-color="#9cd469"/><stop offset="0.44" stop-color="#ffff6e"/><stop offset="1" stop-color="#98a3c4"/></linearGradient><linearGradient id="v35_10" x1="0" y1="0" x2="0" y2="1"><stop stop-color="#9cd469"/><stop offset="0.46" stop-color="#ffff6e"/><stop offset="1" stop-color="#9fa9be"/></linearGradient><linearGradient id="v35_12" x1="0" y1="0" x2="0" y2="1"><stop stop-color="#9cd469"/><stop offset="0.50" stop-color="#ffff6e"/><stop offset="1" stop-color="#adb6b3"/></linearGradient><linearGradient id="v35_14" x1="0" y1="0" x2="0" y2="1"><stop stop-color="#9cd469"/><stop offset="0.55" stop-color="#ffff6e"/><stop offset="1" stop-color="#bbc3a7"/></linearGradient><linearGradient id="v35_18" x1="0" y1="0" x2="0" y2="1"><stop stop-color="#9cd469"/><stop offset="0.68" stop-color="#ffff6e"/><stop offset="1" stop-color="#d8dc8f"/></linearGradient><linearGradient id="v35_23" x1="0" y1="0" x2="0" y2="1"><stop stop-color="#9cd469"/><stop offset="0.96" stop-color="#ffff6e"/><stop offset="1" stop-color="#fbfc71"/></linearGradient><linearGradient id="v35_27" x1="0" y1="0" x2="0" y2="1"><stop stop-color="#9cd469"/><stop offset="1" stop-color="#e1f26d"/></linearGradient><linearGradient id="v35_28" x1="0" y1="0" x2="0" y2="1"><stop stop-color="#9cd469"/><stop offset="1" stop-color="#d8ee6c"/></linearGradient><linearGradient id="v35_29" x1="0" y1="0" x2="0" y2="1"><stop stop-color="#9cd469"/><stop offset="1" stop-color="#cfeb6c"/></linearGradient><linearGradient id="v35_31" x1="0" y1="0" x2="0" y2="1"><stop stop-color="#9cd469"/><stop offset="1" stop-color="#bee36b"/></linearGradient><linearGradient id="v36_1" x1="0" y1="0" x2="0" y2="1"><stop stop-color="#93d169"/><stop offset="0.36" stop-color="#ffff6e"/><stop offset="1" stop-color="#5f70f4"/></linearGradient><linearGradient id="v36_2" x1="0" y1="0" x2="0" y2="1"><stop stop-color="#93d169"/><stop offset="0.37" stop-color="#ffff6e"/><stop offset="1" stop-color="#6677ee"/></linearGradient><linearGradient id="v36_8" x1="0" y1="0" x2="0" y2="1"><stop stop-color="#93d169"/><stop offset="0.45" stop-color="#ffff6e"/><stop offset="1" stop-color="#919dca"/></linearGradient><linearGradient id="v36_15" x1="0" y1="0" x2="0" y2="1"><stop stop-color="#93d169"/><stop offset="0.60" stop-color="#ffff6e"/><stop offset="1" stop-color="#c3c9a1"/></linearGradient><linearGradient id="v36_18" x1="0" y1="0" x2="0" y2="1"><stop stop-color="#93d169"/><stop offset="0.69" stop-color="#ffff6e"/><stop offset="1" stop-color="#d8dc8f"/></linearGradient><linearGradient id="v36_21" x1="0" y1="0" x2="0" y2="1"><stop stop-color="#93d169"/><stop offset="0.83" stop-color="#ffff6e"/><stop offset="1" stop-color="#edef7d"/></linearGradient><linearGradient id="v36_22" x1="0" y1="0" x2="0" y2="1"><stop stop-color="#93d169"/><stop offset="0.89" stop-color="#ffff6e"/><stop offset="1" stop-color="#f4f577"/></linearGradient><linearGradient id="v36_24" x1="0" y1="0" x2="0" y2="1"><stop stop-color="#93d169"/><stop offset="1" stop-color="#fbfd6e"/></linearGradient><linearGradient id="v36_25" x1="0" y1="0" x2="0" y2="1"><stop stop-color="#93d169"/><stop offset="1" stop-color="#f2f96d"/></linearGradient><linearGradient id="v36_28" x1="0" y1="0" x2="0" y2="1"><stop stop-color="#93d169"/><stop offset="1" stop-color="#d8ee6c"/></linearGradient><linearGradient id="v36_30" x1="0" y1="0" x2="0" y2="1"><stop stop-color="#93d169"/><stop offset="1" stop-color="#c7e76b"/></linearGradient><linearGradient id="v36_31" x1="0" y1="0" x2="0" y2="1"><stop stop-color="#93d169"/><stop offset="1" stop-color="#bee36b"/></linearGradient><linearGradient id="v36_32" x1="0" y1="0" x2="0" y2="1"><stop stop-color="#93d169"/><stop offset="1" stop-color="#b6e06a"/></linearGradient><linearGradient id="v36_33" x1="0" y1="0" x2="0" y2="1"><stop stop-color="#93d169"/><stop offset="1" stop-color="#addc6a"/></linearGradient><linearGradient id="v37_0" x1="0" y1="0" x2="0" y2="1"><stop stop-color="#8acd68"/><stop offset="0.36" stop-color="#ffff6e"/><stop offset="1" stop-color="#586afa"/></linearGradient><linearGradient id="v37_11" x1="0" y1="0" x2="0" y2="1"><stop stop-color="#8acd68"/><stop offset="0.52" stop-color="#ffff6e"/><stop offset="1" stop-color="#a6b0b8"/></linearGradient><linearGradient id="v37_13" x1="0" y1="0" x2="0" y2="1"><stop stop-color="#8acd68"/><stop offset="0.56" stop-color="#ffff6e"/><stop offset="1" stop-color="#b4bcad"/></linearGradient><linearGradient id="v37_19" x1="0" y1="0" x2="0" y2="1"><stop stop-color="#8acd68"/><stop offset="0.75" stop-color="#ffff6e"/><stop offset="1" stop-color="#dfe289"/></linearGradient><linearGradient id="v37_21" x1="0" y1="0" x2="0" y2="1"><stop stop-color="#8acd68"/><stop offset="0.84" stop-color="#ffff6e"/><stop offset="1" stop-color="#edef7d"/></linearGradient><linearGradient id="v37_22" x1="0" y1="0" x2="0" y2="1"><stop stop-color="#8acd68"/><stop offset="0.90" stop-color="#ffff6e"/><stop offset="1" stop-color="#f4f577"/></linearGradient><linearGradient id="v37_25" x1="0" y1="0" x2="0" y2="1"><stop stop-color="#8acd68"/><stop offset="1" stop-color="#f2f96d"/></linearGradient><linearGradient id="v37_26" x1="0" y1="0" x2="0" y2="1"><stop stop-color="#8acd68"/><stop offset="1" stop-color="#e9f66d"/></linearGradient><linearGradient id="v37_27" x1="0" y1="0" x2="0" y2="1"><stop stop-color="#8acd68"/><stop offset="1" stop-color="#e1f26d"/></linearGradient><linearGradient id="v37_28" x1="0" y1="0" x2="0" y2="1"><stop stop-color="#8acd68"/><stop offset="1" stop-color="#d8ee6c"/></linearGradient><linearGradient id="v37_29" x1="0" y1="0" x2="0" y2="1"><stop stop-color="#8acd68"/><stop offset="1" stop-color="#cfeb6c"/></linearGradient><linearGradient id="v37_30" x1="0" y1="0" x2="0" y2="1"><stop stop-color="#8acd68"/><stop offset="1" stop-color="#c7e76b"/></linearGradient><linearGradient id="v37_31" x1="0" y1="0" x2="0" y2="1"><stop stop-color="#8acd68"/><stop offset="1" stop-color="#bee36b"/></linearGradient><linearGradient id="v37_32" x1="0" y1="0" x2="0" y2="1"><stop stop-color="#8acd68"/><stop offset="1" stop-color="#b6e06a"/></linearGradient><linearGradient id="v37_33" x1="0" y1="0" x2="0" y2="1"><stop stop-color="#8acd68"/><stop offset="1" stop-color="#addc6a"/></linearGradient><linearGradient id="v37_34" x1="0" y1="0" x2="0" y2="1"><stop stop-color="#8acd68"/><stop offset="1" stop-color="#a4d86a"/></linearGradient><linearGradient id="v38_0" x1="0" y1="0" x2="0" y2="1"><stop stop-color="#82c968"/><stop offset="0.38" stop-color="#ffff6e"/><stop offset="1" stop-color="#586afa"/></linearGradient><linearGradient id="v38_16" x1="0" y1="0" x2="0" y2="1"><stop stop-color="#82c968"/><stop offset="0.66" stop-color="#ffff6e"/><stop offset="1" stop-color="#cacf9b"/></linearGradient><linearGradient id="v38_18" x1="0" y1="0" x2="0" y2="1"><stop stop-color="#82c968"/><stop offset="0.72" stop-color="#ffff6e"/><stop offset="1" stop-color="#d8dc8f"/></linearGradient><linearGradient id="v38_26" x1="0" y1="0" x2="0" y2="1"><stop stop-color="#82c968"/><stop offset="1" stop-color="#e9f66d"/></linearGradient><linearGradient id="v38_27" x1="0" y1="0" x2="0" y2="1"><stop stop-color="#82c968"/><stop offset="1" stop-color="#e1f26d"/></linearGradient><linearGradient id="v38_28" x1="0" y1="0" x2="0" y2="1"><stop stop-color="#82c968"/><stop offset="1" stop-color="#d8ee6c"/></linearGradient><linearGradient id="v38_29" x1="0" y1="0" x2="0" y2="1"><stop stop-color="#82c968"/><stop offset="1" stop-color="#cfeb6c"/></linearGradient><linearGradient id="v38_30" x1="0" y1="0" x2="0" y2="1"><stop stop-color="#82c968"/><stop offset="1" stop-color="#c7e76b"/></linearGradient><linearGradient id="v38_31" x1="0" y1="0" x2="0" y2="1"><stop stop-color="#82c968"/><stop offset="1" stop-color="#bee36b"/></linearGradient><linearGradient id="v38_32" x1="0" y1="0" x2="0" y2="1"><stop stop-color="#82c968"/><stop offset="1" stop-color="#b6e06a"/></linearGradient><linearGradient id="v38_33" x1="0" y1="0" x2="0" y2="1"><stop stop-color="#82c968"/><stop offset="1" stop-color="#addc6a"/></linearGradient><linearGradient id="v38_34" x1="0" y1="0" x2="0" y2="1"><stop stop-color="#82c968"/><stop offset="1" stop-color="#a4d86a"/></linearGradient><linearGradient id="v38_35" x1="0" y1="0" x2="0" y2="1"><stop stop-color="#82c968"/><stop offset="1" stop-color="#9cd469"/></linearGradient><linearGradient id="v39_1" x1="0" y1="0" x2="0" y2="1"><stop stop-color="#79c667"/><stop offset="0.41" stop-color="#ffff6e"/><stop offset="1" stop-color="#5f70f4"/></linearGradient><linearGradient id="v39_15" x1="0" y1="0" x2="0" y2="1"><stop stop-color="#79c667"/><stop offset="0.65" stop-color="#ffff6e"/><stop offset="1" stop-color="#c3c9a1"/></linearGradient><linearGradient id="v39_16" x1="0" y1="0" x2="0" y2="1"><stop stop-color="#79c667"/><stop offset="0.67" stop-color="#ffff6e"/><stop offset="1" stop-color="#cacf9b"/></linearGradient><linearGradient id="v39_22" x1="0" y1="0" x2="0" y2="1"><stop stop-color="#79c667"/><stop offset="0.91" stop-color="#ffff6e"/><stop offset="1" stop-color="#f4f577"/></linearGradient><linearGradient id="v39_23" x1="0" y1="0" x2="0" y2="1"><stop stop-color="#79c667"/><stop offset="0.97" stop-color="#ffff6e"/><stop offset="1" stop-color="#fbfc71"/></linearGradient><linearGradient id="v39_27" x1="0" y1="0" x2="0" y2="1"><stop stop-color="#79c667"/><stop offset="1" stop-color="#e1f26d"/></linearGradient><linearGradient id="v39_28" x1="0" y1="0" x2="0" y2="1"><stop stop-color="#79c667"/><stop offset="1" stop-color="#d8ee6c"/></linearGradient><linearGradient id="v39_29" x1="0" y1="0" x2="0" y2="1"><stop stop-color="#79c667"/><stop offset="1" stop-color="#cfeb6c"/></linearGradient><linearGradient id="v39_30" x1="0" y1="0" x2="0" y2="1"><stop stop-color="#79c667"/><stop offset="1" stop-color="#c7e76b"/></linearGradient><linearGradient id="v39_31" x1="0" y1="0" x2="0" y2="1"><stop stop-color="#79c667"/><stop offset="1" stop-color="#bee36b"/></linearGradient><linearGradient id="v39_32" x1="0" y1="0" x2="0" y2="1"><stop stop-color="#79c667"/><stop offset="1" stop-color="#b6e06a"/></linearGradient><linearGradient id="v39_33" x1="0" y1="0" x2="0" y2="1"><stop stop-color="#79c667"/><stop offset="1" stop-color="#addc6a"/></linearGradient><linearGradient id="v39_34" x1="0" y1="0" x2="0" y2="1"><stop stop-color="#79c667"/><stop offset="1" stop-color="#a4d86a"/></linearGradient><linearGradient id="v39_35" x1="0" y1="0" x2="0" y2="1"><stop stop-color="#79c667"/><stop offset="1" stop-color="#9cd469"/></linearGradient><linearGradient id="v39_36" x1="0" y1="0" x2="0" y2="1"><stop stop-color="#79c667"/><stop offset="1" stop-color="#93d169"/></linearGradient><linearGradient id="v40_5" x1="0" y1="0" x2="0" y2="1"><stop stop-color="#70c267"/><stop offset="0.47" stop-color="#ffff6e"/><stop offset="1" stop-color="#7c8adc"/></linearGradient><linearGradient id="v40_12" x1="0" y1="0" x2="0" y2="1"><stop stop-color="#70c267"/><stop offset="0.59" stop-color="#ffff6e"/><stop offset="1" stop-color="#adb6b3"/></linearGradient><linearGradient id="v40_20" x1="0" y1="0" x2="0" y2="1"><stop stop-color="#70c267"/><stop offset="0.82" stop-color="#ffff6e"/><stop offset="1" stop-color="#e6e983"/></linearGradient><linearGradient id="v40_21" x1="0" y1="0" x2="0" y2="1"><stop stop-color="#70c267"/><stop offset="0.87" stop-color="#ffff6e"/><stop offset="1" stop-color="#edef7d"/></linearGradient><linearGradient id="v40_25" x1="0" y1="0" x2="0" y2="1"><stop stop-color="#70c267"/><stop offset="1" stop-color="#f2f96d"/></linearGradient><linearGradient id="v40_26" x1="0" y1="0" x2="0" y2="1"><stop stop-color="#70c267"/><stop offset="1" stop-color="#e9f66d"/></linearGradient><linearGradient id="v40_27" x1="0" y1="0" x2="0" y2="1"><stop stop-color="#70c267"/><stop offset="1" stop-color="#e1f26d"/></linearGradient><linearGradient id="v40_28" x1="0" y1="0" x2="0" y2="1"><stop stop-color="#70c267"/><stop offset="1" stop-color="#d8ee6c"/></linearGradient><linearGradient id="v40_31" x1="0" y1="0" x2="0" y2="1"><stop stop-color="#70c267"/><stop offset="1" stop-color="#bee36b"/></linearGradient><linearGradient id="v40_32" x1="0" y1="0" x2="0" y2="1"><stop stop-color="#70c267"/><stop offset="1" stop-color="#b6e06a"/></linearGradient><linearGradient id="v40_33" x1="0" y1="0" x2="0" y2="1"><stop stop-color="#70c267"/><stop offset="1" stop-color="#addc6a"/></linearGradient><linearGradient id="v40_34" x1="0" y1="0" x2="0" y2="1"><stop stop-color="#70c267"/><stop offset="1" stop-color="#a4d86a"/></linearGradient><linearGradient id="v40_35" x1="0" y1="0" x2="0" y2="1"><stop stop-color="#70c267"/><stop offset="1" stop-color="#9cd469"/></linearGradient><linearGradient id="v40_36" x1="0" y1="0" x2="0" y2="1"><stop stop-color="#70c267"/><stop offset="1" stop-color="#93d169"/></linearGradient><linearGradient id="v40_37" x1="0" y1="0" x2="0" y2="1"><stop stop-color="#70c267"/><stop offset="1" stop-color="#8acd68"/></linearGradient><linearGradient id="v41_10" x1="0" y1="0" x2="0" y2="1"><stop stop-color="#68be67"/><stop offset="0.56" stop-color="#ffff6e"/><stop offset="1" stop-color="#9fa9be"/></linearGradient><linearGradient id="v41_11" x1="0" y1="0" x2="0" y2="1"><stop stop-color="#68be67"/><stop offset="0.58" stop-color="#ffff6e"/><stop offset="1" stop-color="#a6b0b8"/></linearGradient><linearGradient id="v41_14" x1="0" y1="0" x2="0" y2="1"><stop stop-color="#68be67"/><stop offset="0.65" stop-color="#ffff6e"/><stop offset="1" stop-color="#bbc3a7"/></linearGradient><linearGradient id="v41_18" x1="0" y1="0" x2="0" y2="1"><stop stop-color="#68be67"/><stop offset="0.76" stop-color="#ffff6e"/><stop offset="1" stop-color="#d8dc8f"/></linearGradient><linearGradient id="v41_25" x1="0" y1="0" x2="0" y2="1"><stop stop-color="#68be67"/><stop offset="1" stop-color="#f2f96d"/></linearGradient><linearGradient id="v41_27" x1="0" y1="0" x2="0" y2="1"><stop stop-color="#68be67"/><stop offset="1" stop-color="#e1f26d"/></linearGradient><linearGradient id="v41_29" x1="0" y1="0" x2="0" y2="1"><stop stop-color="#68be67"/><stop offset="1" stop-color="#cfeb6c"/></linearGradient><linearGradient id="v41_30" x1="0" y1="0" x2="0" y2="1"><stop stop-color="#68be67"/><stop offset="1" stop-color="#c7e76b"/></linearGradient><linearGradient id="v41_31" x1="0" y1="0" x2="0" y2="1"><stop stop-color="#68be67"/><stop offset="1" stop-color="#bee36b"/></linearGradient><linearGradient id="v41_33" x1="0" y1="0" x2="0" y2="1"><stop stop-color="#68be67"/><stop offset="1" stop-color="#addc6a"/></linearGradient><linearGradient id="v41_34" x1="0" y1="0" x2="0" y2="1"><stop stop-color="#68be67"/><stop offset="1" stop-color="#a4d86a"/></linearGradient><linearGradient id="v41_35" x1="0" y1="0" x2="0" y2="1"><stop stop-color="#68be67"/><stop offset="1" stop-color="#9cd469"/></linearGradient><linearGradient id="v41_36" x1="0" y1="0" x2="0" y2="1"><stop stop-color="#68be67"/><stop offset="1" stop-color="#93d169"/></linearGradient><linearGradient id="v41_37" x1="0" y1="0" x2="0" y2="1"><stop stop-color="#68be67"/><stop offset="1" stop-color="#8acd68"/></linearGradient><linearGradient id="v41_38" x1="0" y1="0" x2="0" y2="1"><stop stop-color="#68be67"/><stop offset="1" stop-color="#82c968"/></linearGradient><linearGradient id="v42_10" x1="0" y1="0" x2="0" y2="1"><stop stop-color="#5fbb66"/><stop offset="0.58" stop-color="#ffff6e"/><stop offset="1" stop-color="#9fa9be"/></linearGradient><linearGradient id="v42_21" x1="0" y1="0" x2="0" y2="1"><stop stop-color="#5fbb66"/><stop offset="0.88" stop-color="#ffff6e"/><stop offset="1" stop-color="#edef7d"/></linearGradient><linearGradient id="v42_23" x1="0" y1="0" x2="0" y2="1"><stop stop-color="#5fbb66"/><stop offset="0.97" stop-color="#ffff6e"/><stop offset="1" stop-color="#fbfc71"/></linearGradient><linearGradient id="v42_25" x1="0" y1="0" x2="0" y2="1"><stop stop-color="#5fbb66"/><stop offset="1" stop-color="#f2f96d"/></linearGradient><linearGradient id="v42_28" x1="0" y1="0" x2="0" y2="1"><stop stop-color="#5fbb66"/><stop offset="1" stop-color="#d8ee6c"/></linearGradient><linearGradient id="v42_29" x1="0" y1="0" x2="0" y2="1"><stop stop-color="#5fbb66"/><stop offset="1" stop-color="#cfeb6c"/></linearGradient><linearGradient id="v42_31" x1="0" y1="0" x2="0" y2="1"><stop stop-color="#5fbb66"/><stop offset="1" stop-color="#bee36b"/></linearGradient><linearGradient id="v42_33" x1="0" y1="0" x2="0" y2="1"><stop stop-color="#5fbb66"/><stop offset="1" stop-color="#addc6a"/></linearGradient><linearGradient id="v42_34" x1="0" y1="0" x2="0" y2="1"><stop stop-color="#5fbb66"/><stop offset="1" stop-color="#a4d86a"/></linearGradient><linearGradient id="v42_35" x1="0" y1="0" x2="0" y2="1"><stop stop-color="#5fbb66"/><stop offset="1" stop-color="#9cd469"/></linearGradient><linearGradient id="v42_36" x1="0" y1="0" x2="0" y2="1"><stop stop-color="#5fbb66"/><stop offset="1" stop-color="#93d169"/></linearGradient><linearGradient id="v42_37" x1="0" y1="0" x2="0" y2="1"><stop stop-color="#5fbb66"/><stop offset="1" stop-color="#8acd68"/></linearGradient><linearGradient id="v42_38" x1="0" y1="0" x2="0" y2="1"><stop stop-color="#5fbb66"/><stop offset="1" stop-color="#82c968"/></linearGradient><linearGradient id="v42_39" x1="0" y1="0" x2="0" y2="1"><stop stop-color="#5fbb66"/><stop offset="1" stop-color="#79c667"/></linearGradient><linearGradient id="v43_10" x1="0" y1="0" x2="0" y2="1"><stop stop-color="#57b766"/><stop offset="0.59" stop-color="#ffff6e"/><stop offset="1" stop-color="#9fa9be"/></linearGradient><linearGradient id="v43_12" x1="0" y1="0" x2="0" y2="1"><stop stop-color="#57b766"/><stop offset="0.63" stop-color="#ffff6e"/><stop offset="1" stop-color="#adb6b3"/></linearGradient><linearGradient id="v43_13" x1="0" y1="0" x2="0" y2="1"><stop stop-color="#57b766"/><stop offset="0.65" stop-color="#ffff6e"/><stop offset="1" stop-color="#b4bcad"/></linearGradient><linearGradient id="v43_26" x1="0" y1="0" x2="0" y2="1"><stop stop-color="#57b766"/><stop offset="1" stop-color="#e9f66d"/></linearGradient><linearGradient id="v43_27" x1="0" y1="0" x2="0" y2="1"><stop stop-color="#57b766"/><stop offset="1" stop-color="#e1f26d"/></linearGradient><linearGradient id="v43_29" x1="0" y1="0" x2="0" y2="1"><stop stop-color="#57b766"/><stop offset="1" stop-color="#cfeb6c"/></linearGradient><linearGradient id="v43_30" x1="0" y1="0" x2="0" y2="1"><stop stop-color="#57b766"/><stop offset="1" stop-color="#c7e76b"/></linearGradient><linearGradient id="v43_31" x1="0" y1="0" x2="0" y2="1"><stop stop-color="#57b766"/><stop offset="1" stop-color="#bee36b"/></linearGradient><linearGradient id="v43_33" x1="0" y1="0" x2="0" y2="1"><stop stop-color="#57b766"/><stop offset="1" stop-color="#addc6a"/></linearGradient><linearGradient id="v43_34" x1="0" y1="0" x2="0" y2="1"><stop stop-color="#57b766"/><stop offset="1" stop-color="#a4d86a"/></linearGradient><linearGradient id="v43_35" x1="0" y1="0" x2="0" y2="1"><stop stop-color="#57b766"/><stop offset="1" stop-color="#9cd469"/></linearGradient><linearGradient id="v43_36" x1="0" y1="0" x2="0" y2="1"><stop stop-color="#57b766"/><stop offset="1" stop-color="#93d169"/></linearGradient><linearGradient id="v43_37" x1="0" y1="0" x2="0" y2="1"><stop stop-color="#57b766"/><stop offset="1" stop-color="#8acd68"/></linearGradient><linearGradient id="v43_38" x1="0" y1="0" x2="0" y2="1"><stop stop-color="#57b766"/><stop offset="1" stop-color="#82c968"/></linearGradient><linearGradient id="v43_39" x1="0" y1="0" x2="0" y2="1"><stop stop-color="#57b766"/><stop offset="1" stop-color="#79c667"/></linearGradient><linearGradient id="v44_14" x1="0" y1="0" x2="0" y2="1"><stop stop-color="#4eb365"/><stop offset="0.68" stop-color="#ffff6e"/><stop offset="1" stop-color="#bbc3a7"/></linearGradient><linearGradient id="v44_16" x1="0" y1="0" x2="0" y2="1"><stop stop-color="#4eb365"/><stop offset="0.73" stop-color="#ffff6e"/><stop offset="1" stop-color="#cacf9b"/></linearGradient><linearGradient id="v44_33" x1="0" y1="0" x2="0" y2="1"><stop stop-color="#4eb365"/><stop offset="1" stop-color="#addc6a"/></linearGradient><linearGradient id="v44_34" x1="0" y1="0" x2="0" y2="1"><stop stop-color="#4eb365"/><stop offset="1" stop-color="#a4d86a"/></linearGradient><linearGradient id="v44_35" x1="0" y1="0" x2="0" y2="1"><stop stop-color="#4eb365"/><stop offset="1" stop-color="#9cd469"/></linearGradient><linearGradient id="v44_36" x1="0" y1="0" x2="0" y2="1"><stop stop-color="#4eb365"/><stop offset="1" stop-color="#93d169"/></linearGradient><linearGradient id="v44_37" x1="0" y1="0" x2="0" y2="1"><stop stop-color="#4eb365"/><stop offset="1" stop-color="#8acd68"/></linearGradient><linearGradient id="v44_38" x1="0" y1="0" x2="0" y2="1"><stop stop-color="#4eb365"/><stop offset="1" stop-color="#82c968"/></linearGradient><linearGradient id="v44_39" x1="0" y1="0" x2="0" y2="1"><stop stop-color="#4eb365"/><stop offset="1" stop-color="#79c667"/></linearGradient><linearGradient id="v44_40" x1="0" y1="0" x2="0" y2="1"><stop stop-color="#4eb365"/><stop offset="1" stop-color="#70c267"/></linearGradient><linearGradient id="v45_18" x1="0" y1="0" x2="0" y2="1"><stop stop-color="#45af65"/><stop offset="0.80" stop-color="#ffff6e"/><stop offset="1" stop-color="#d8dc8f"/></linearGradient><linearGradient id="v45_21" x1="0" y1="0" x2="0" y2="1"><stop stop-color="#45af65"/><stop offset="0.90" stop-color="#ffff6e"/><stop offset="1" stop-color="#edef7d"/></linearGradient><linearGradient id="v45_24" x1="0" y1="0" x2="0" y2="1"><stop stop-color="#45af65"/><stop offset="1" stop-color="#fbfd6e"/></linearGradient><linearGradient id="v45_27" x1="0" y1="0" x2="0" y2="1"><stop stop-color="#45af65"/><stop offset="1" stop-color="#e1f26d"/></linearGradient><linearGradient id="v45_30" x1="0" y1="0" x2="0" y2="1"><stop stop-color="#45af65"/><stop offset="1" stop-color="#c7e76b"/></linearGradient><linearGradient id="v45_32" x1="0" y1="0" x2="0" y2="1"><stop stop-color="#45af65"/><stop offset="1" stop-color="#b6e06a"/></linearGradient><linearGradient id="v45_34" x1="0" y1="0" x2="0" y2="1"><stop stop-color="#45af65"/><stop offset="1" stop-color="#a4d86a"/></linearGradient><linearGradient id="v45_36" x1="0" y1="0" x2="0" y2="1"><stop stop-color="#45af65"/><stop offset="1" stop-color="#93d169"/></linearGradient><linearGradient id="v45_38" x1="0" y1="0" x2="0" y2="1"><stop stop-color="#45af65"/><stop offset="1" stop-color="#82c968"/></linearGradient><linearGradient id="v45_39" x1="0" y1="0" x2="0" y2="1"><stop stop-color="#45af65"/><stop offset="1" stop-color="#79c667"/></linearGradient><linearGradient id="v45_40" x1="0" y1="0" x2="0" y2="1"><stop stop-color="#45af65"/><stop offset="1" stop-color="#70c267"/></linearGradient><linearGradient id="v45_41" x1="0" y1="0" x2="0" y2="1"><stop stop-color="#45af65"/><stop offset="1" stop-color="#68be67"/></linearGradient><linearGradient id="v45_42" x1="0" y1="0" x2="0" y2="1"><stop stop-color="#45af65"/><stop offset="1" stop-color="#5fbb66"/></linearGradient><linearGradient id="v46_41" x1="0" y1="0" x2="0" y2="1"><stop stop-color="#3dac64"/><stop offset="1" stop-color="#68be67"/></linearGradient></defs><defs><filter id="bls" x="-2%" y="-2%" width="104%" height="104%"><feGaussianBlur stdDeviation="0.65"/></filter></defs>
<g id="qa"><g filter="url(#bls)"><g stroke-width=".7" stroke-linejoin="round"><path class="c11" d="M471.6 110.2l12.5 0 1.7 1.8-12.5 0z"/><path class="c13" d="M469.8 107.4l12.6-.3 1.7 3.1-12.5 0z"/><path class="c14" d="M469 104.7l12.6-.3 .8 2.7-12.6 .3z"/><path class="c15" d="M468.1 102l12.6-.2 .9 2.6-12.6 .3z"/><path class="c16" d="M467.2 99l12.6 .1 .9 2.7-12.6 .2z"/><path class="c17" d="M466.3 96.1l12.7 .3 .8 2.7-12.6-.1z"/><path class="c18" d="M465.4 93.4l12.7 0 .9 3-12.7-.3z"/><path class="c19" d="M464.5 90.8l12.7-.4 .9 3-12.7 0z"/><path class="c20" d="M462.7 88.2l12.7 0 1.8 2.2-12.7 .4z"/><path class="c21" d="M460.8 88.8l13 .1 1.8-.7-13 0z"/><path class="c20" d="M459.2 92.9l12.7-.1 1.8-3.9-12.7-.1z"/><path class="c19" d="M458.3 95.9l12.7-.3 .9-2.8-12.7 .1z"/><path class="c18" d="M457.4 98.8l12.7-.4 .9-2.8-12.7 .3z"/><path class="c17" d="M456.5 102.4l12.7-.4 .9-3.6-12.7 .4z"/><path class="c16" d="M455.6 106l12.7-.5 .9-3.5-12.7 .4z"/><path class="c15" d="M454.7 109.3l6.4-.4 .9-3.1-6.4 .2z"/><path class="c14" d="M453.9 112.7l6.3-.6 .9-3.2-6.4 .4z"/><path class="c15" d="M461.1 108.9l6.3-.4 .9-3-6.3 .3z"/><path class="c14" d="M460.2 112.1l6.3-.6 .9-3-6.3 .4z"/><path class="c13" d="M452.1 116.8l6.3-.8 1.8-3.9-6.3 .6zM458.4 116l6.3-.8 1.8-3.7-6.3 .6z"/><path class="c12" d="M450.2 118.3l6.4-.9 1.8-1.4-6.3 .8z"/><path class="c13" d="M456.6 117.4l6.3-.9 1.8-1.3-6.3 .8z"/><path class="c12" d="M448.4 117.8l6.3-.8 1.9 .4-6.4 .9z"/><path class="c13" d="M454.7 117l6.3-.8 1.9 .3-6.3 .9z"/><path class="c12" d="M446.5 116.6l6.3-.9 1.9 1.3-6.3 .8z"/><path class="c13" d="M452.8 115.7l6.4-.9 1.8 1.4-6.3 .8zM444.6 115.1l6.4-1 1.8 1.6-6.3 .9z"/><path class="c14" d="M451 114.1l6.3-1.1 1.9 1.8-6.4 .9zM442.7 113.2l6.4-1.2 1.9 2.1-6.4 1z"/><path class="c15" d="M449.1 112l6.3-1.2 1.9 2.2-6.3 1.1zM440.8 112.4l6.3-1.4 2 1-6.4 1.2z"/><path class="c16" d="M447.1 111l6.4-1.5 1.9 1.3-6.3 1.2z"/><path class="c15" d="M438.9 112.7l6.3-1.4 1.9-.3-6.3 1.4z"/><path class="c16" d="M445.2 111.3l6.4-1.4 1.9-.4-6.4 1.5z"/><path class="c15" d="M437 113.4l6.3-1.1 1.9-1-6.3 1.4z"/><path class="c16" d="M443.3 112.3l6.4-1.2 1.9-1.2-6.4 1.4z"/><path class="c15" d="M435.1 115.4l6.3-1.1 1.9-2-6.3 1.1z"/><path class="c16" d="M441.4 114.3l6.4-1 1.9-2.2-6.4 1.2z"/><path class="c14" d="M433.1 117.1l6.4-.9 1.9-1.9-6.3 1.1z"/><path class="c15" d="M439.5 116.2l6.3-.9 2-2-6.4 1z"/><path class="c14" d="M431.2 117.5l6.4-.4 1.9-.9-6.4 .9z"/><path class="c15" d="M437.6 117.1l6.3-.3 1.9-1.5-6.3 .9zM429.2 116.9l12.7 .4 2-.5-12.7 .7zM427.2 115.9l12.8 1.6 1.9-.2-12.7-.4zM425.1 115.2l13 2.2 2 .1-13-1.6z"/><path class="c16" d="M423 114.6l13.1 3.9 2-1.1-13-2.2zM421 114l13.1 7.3 2-2.8-13.1-3.9zM419.1 113.6l6.5 5.7 2-1.7-6.5-3.6z"/><path class="c15" d="M425.6 119.3l6.4 5.6 2-3.7-6.4-3.6z"/><path class="c16" d="M417 113l4.4 5.3 2-.9-4.3-3.8z"/><path class="c15" d="M421.4 118.3l4.3 5.3 2-2.4-4.3-3.8z"/><path class="c14" d="M425.7 123.6l4.4 5.3 1.9-4-4.3-3.7z"/><path class="c17" d="M414.9 112.1l3.3 5.4 2.1-.5-3.3-4z"/><path class="c15" d="M418.2 117.5l3.3 5.4 2-2-3.2-3.9z"/><path class="c14" d="M421.5 122.9l3.3 5.4 2-3.4-3.3-4z"/><path class="c13" d="M424.8 128.3l3.3 5.4 2-4.8-3.3-4z"/><path class="c17" d="M412.8 110.7l2.7 5.5 2.1 .2-2.7-4.3z"/><path class="c16" d="M415.5 116.2l2.6 5.6 2.1-1.1-2.6-4.3z"/><path class="c15" d="M418.1 121.8l2.7 5.5 2-2.2-2.6-4.4z"/><path class="c13" d="M420.8 127.3l2.7 5.6 2-3.5-2.7-4.3z"/><path class="c12" d="M423.5 132.9l2.6 5.5 2-4.7-2.6-4.3z"/><path class="c18" d="M410.7 107.8l2.7 7.1 2.1 1.3-2.7-5.5z"/><path class="c16" d="M413.4 114.9l2.7 7.1 2-.2-2.6-5.6z"/><path class="c14" d="M416.1 122l2.6 7.1 2.1-1.8-2.7-5.5z"/><path class="c12" d="M418.7 129.1l2.7 7.1 2.1-3.3-2.7-5.6z"/><path class="c11" d="M421.4 136.2l2.7 7.1 2-4.9-2.6-5.5z"/><path class="c19" d="M408.5 104.3l2.7 8.6 2.2 2-2.7-7.1z"/><path class="c17" d="M411.2 112.9l2.7 8.6 2.2 .5-2.7-7.1z"/><path class="c14" d="M413.9 121.5l2.8 8.6 2-1-2.6-7.1z"/><path class="c12" d="M416.7 130.1l2.7 8.6 2-2.5-2.7-7.1z"/><path class="c10" d="M419.4 138.7l2.7 8.6 2-4-2.7-7.1z"/><path class="c20" d="M407.4 101.9l2.7 9.4 1.1 1.6-2.7-8.6z"/><path class="c21" d="M406.2 99.4l2.8 10.4 1.1 1.5-2.7-9.4z"/><path class="c17" d="M410.1 111.3l2.8 9.5 1 .7-2.7-8.6z"/><path class="c18" d="M409 109.8l2.8 10.3 1.1 .7-2.8-9.5z"/><path class="c15" d="M412.9 120.8l2.7 9.4 1.1-.1-2.8-8.6zM411.8 120.1l2.8 10.3 1-.2-2.7-9.4z"/><path class="c12" d="M415.6 130.2l2.8 9.5 1-1-2.7-8.6zM414.6 130.4l2.7 10.3 1.1-1-2.8-9.5z"/><path class="c9" d="M418.4 139.7l2.7 9.5 1-1.9-2.7-8.6zM417.3 140.7l2.8 10.3 1-1.8-2.7-9.5z"/><path class="c22" d="M405.1 96.4l2.8 11.2 1.1 2.2-2.8-10.4z"/><path class="c23" d="M404 93.4l2.8 12 1.1 2.2-2.8-11.2z"/><path class="c18" d="M407.9 107.6l2.8 11.2 1.1 1.3-2.8-10.3z"/><path class="c19" d="M406.8 105.4l2.8 12.1 1.1 1.3-2.8-11.2z"/><path class="c15" d="M410.7 118.8l2.8 11.1 1.1 .5-2.8-10.3zM409.6 117.5l2.8 12 1.1 .4-2.8-11.1z"/><path class="c12" d="M413.5 129.9l2.8 11.2 1-.4-2.7-10.3zM412.4 129.5l2.8 12 1.1-.4-2.8-11.2z"/><path class="c8" d="M416.3 141.1l2.8 11.2 1-1.3-2.8-10.3zM415.2 141.5l2.8 12.1 1.1-1.3-2.8-11.2z"/><path class="c24" d="M402.8 90.4l2.8 12.9 1.2 2.1-2.8-12zM401.6 87.5l2.9 13.6 1.1 2.2-2.8-12.9z"/><path class="c20" d="M405.6 103.3l2.9 12.8 1.1 1.4-2.8-12.1zM404.5 101.1l2.9 13.6 1.1 1.4-2.9-12.8z"/><path class="c16" d="M408.5 116.1l2.8 12.8 1.1 .6-2.8-12zM407.4 114.7l2.8 13.7 1.1 .5-2.8-12.8z"/><path class="c12" d="M411.3 128.9l2.9 12.9 1-.3-2.8-12zM410.2 128.4l2.9 13.6 1.1-.2-2.9-12.9z"/><path class="c8" d="M414.2 141.8l2.8 12.8 1-1-2.8-12.1zM413.1 142l2.9 13.6 1-1-2.8-12.8z"/><path class="c25" d="M400.5 84.3l2.9 14.4 1.1 2.4-2.9-13.6z"/><path class="c26" d="M399.3 81.1l2.9 15.1 1.2 2.5-2.9-14.4z"/><path class="c21" d="M403.4 98.7l2.8 14.3 1.2 1.7-2.9-13.6z"/><path class="c22" d="M402.2 96.2l2.9 15.1 1.1 1.7-2.8-14.3z"/><path class="c17" d="M406.2 113l2.9 14.4 1.1 1-2.8-13.7zM405.1 111.3l2.9 15 1.1 1.1-2.9-14.4z"/><path class="c12" d="M409.1 127.4l2.9 14.3 1.1 .3-2.9-13.6z"/><path class="c13" d="M408 126.3l2.9 15.1 1.1 .3-2.9-14.3z"/><path class="c8" d="M412 141.7l2.9 14.4 1.1-.5-2.9-13.6zM410.9 141.4l2.9 15.1 1.1-.4-2.9-14.4z"/><path class="c27" d="M398.1 78.3l2.9 15.5 1.2 2.4-2.9-15.1z"/><path class="c28" d="M396.9 75.5l3 15.9 1.1 2.4-2.9-15.5z"/><path class="c23" d="M401 93.8l3 15.5 1.1 2-2.9-15.1zM399.9 91.4l2.9 16 1.2 1.9-3-15.5z"/><path class="c18" d="M404 109.3l2.9 15.5 1.1 1.5-2.9-15z"/><path class="c19" d="M402.8 107.4l3 15.9 1.1 1.5-2.9-15.5z"/><path class="c13" d="M406.9 124.8l2.9 15.5 1.1 1.1-2.9-15.1z"/><path class="c14" d="M405.8 123.3l2.9 15.9 1.1 1.1-2.9-15.5z"/><path class="c9" d="M409.8 140.3l3 15.5 1 .7-2.9-15.1zM408.7 139.2l3 16 1.1 .6-3-15.5z"/><path class="c29" d="M395.8 73.3l2.9 15.8 1.2 2.3-3-15.9z"/><path class="c30" d="M394.6 71l2.9 15.8 1.2 2.3-2.9-15.8z"/><path class="c24" d="M398.7 89.1l3 15.9 1.1 2.4-2.9-16z"/><path class="c25" d="M397.5 86.8l3 15.8 1.2 2.4-3-15.9z"/><path class="c19" d="M401.7 105l2.9 15.8 1.2 2.5-3-15.9z"/><path class="c20" d="M400.5 102.6l3 15.7 1.1 2.5-2.9-15.8z"/><path class="c15" d="M404.6 120.8l3 15.9 1.1 2.5-2.9-15.9z"/><path class="c16" d="M403.5 118.3l2.9 15.8 1.2 2.6-3-15.9z"/><path class="c10" d="M407.6 136.7l2.9 15.8 1.2 2.7-3-16z"/><path class="c11" d="M406.4 134.1l3 15.8 1.1 2.6-2.9-15.8z"/><path class="c31" d="M393.4 69.1l3 15.3 1.1 2.4-2.9-15.8z"/><path class="c32" d="M392.2 67.2l3 14.8 1.2 2.4-3-15.3z"/><path class="c26" d="M396.4 84.4l2.9 15.3 1.2 2.9-3-15.8z"/><path class="c27" d="M395.2 82l2.9 14.8 1.2 2.9-2.9-15.3z"/><path class="c21" d="M399.3 99.7l3 15.3 1.2 3.3-3-15.7z"/><path class="c22" d="M398.1 96.8l3 14.8 1.2 3.4-3-15.3z"/><path class="c17" d="M402.3 115l2.9 15.3 1.2 3.8-2.9-15.8z"/><path class="c18" d="M401.1 111.6l3 14.9 1.1 3.8-2.9-15.3z"/><path class="c12" d="M405.2 130.3l3 15.3 1.2 4.3-3-15.8z"/><path class="c13" d="M404.1 126.5l2.9 14.8 1.2 4.3-3-15.3z"/><path class="c32" d="M391.4 65.7l3 14.3 .8 2-3-14.8z"/><path class="c33" d="M390.6 64.3l3 13.7 .8 2-3-14.3zM389.8 62.8l3 13.2 .8 2-3-13.7z"/><path class="c28" d="M394.4 80l2.9 14.3 .8 2.5-2.9-14.8z"/><path class="c29" d="M393.6 78l2.9 13.8 .8 2.5-2.9-14.3zM392.8 76l2.9 13.2 .8 2.6-2.9-13.8z"/><path class="c23" d="M397.3 94.3l3 14.3 .8 3-3-14.8z"/><path class="c24" d="M396.5 91.8l3 13.7 .8 3.1-3-14.3z"/><path class="c25" d="M395.7 89.2l2.9 13.2 .9 3.1-3-13.7z"/><path class="c19" d="M400.3 108.6l2.9 14.3 .9 3.6-3-14.9z"/><path class="c20" d="M399.5 105.5l2.9 13.8 .8 3.6-2.9-14.3z"/><path class="c21" d="M398.6 102.4l3 13.3 .8 3.6-2.9-13.8z"/><path class="c15" d="M403.2 122.9l3 14.2 .8 4.2-2.9-14.8z"/><path class="c16" d="M402.4 119.3l3 13.7 .8 4.1-3-14.2z"/><path class="c17" d="M401.6 115.7l2.9 13.2 .9 4.1-3-13.7z"/><path class="c34" d="M389 61.4l3 12.6 .8 2-3-13.2z"/><path class="c35" d="M388.2 60l2.9 12 .9 2-3-12.6zM387.4 58.6l2.9 11.4 .8 2-2.9-12z"/><path class="c30" d="M392 74l2.9 12.7 .8 2.5-2.9-13.2z"/><path class="c31" d="M391.1 72l3 12.1 .8 2.6-2.9-12.7z"/><path class="c32" d="M390.3 70l2.9 11.5 .9 2.6-3-12.1z"/><path class="c26" d="M394.9 86.7l2.9 12.6 .8 3.1-2.9-13.2z"/><path class="c27" d="M394.1 84.1l2.9 12.1 .8 3.1-2.9-12.6z"/><path class="c28" d="M393.2 81.5l2.9 11.5 .9 3.2-2.9-12.1z"/><path class="c23" d="M397.8 99.3l2.9 12.6 .9 3.8-3-13.3z"/><path class="c24" d="M397 96.2l2.9 12 .8 3.7-2.9-12.6z"/><path class="c25" d="M396.1 93l3 11.5 .8 3.7-2.9-12z"/><path class="c19" d="M400.7 111.9l3 12.7 .8 4.3-2.9-13.2z"/><path class="c20" d="M399.9 108.2l2.9 12.1 .9 4.3-3-12.7z"/><path class="c21" d="M399.1 104.5l2.9 11.5 .8 4.3-2.9-12.1z"/><path class="c36" d="M386.6 56.9l2.9 10.9 .8 2.2-2.9-11.4zM385.8 55.3l2.9 10.3 .8 2.2-2.9-10.9z"/><path class="c37" d="M385 53.7l2.8 9.6 .9 2.3-2.9-10.3z"/><path class="c33" d="M389.5 67.8l2.9 10.9 .8 2.8-2.9-11.5zM388.7 65.6l2.9 10.2 .8 2.9-2.9-10.9z"/><path class="c34" d="M387.8 63.3l2.9 9.7 .9 2.8-2.9-10.2z"/><path class="c29" d="M392.4 78.7l2.9 10.9 .8 3.4-2.9-11.5z"/><path class="c30" d="M391.6 75.8l2.8 10.3 .9 3.5-2.9-10.9z"/><path class="c31" d="M390.7 73l2.9 9.6 .8 3.5-2.8-10.3z"/><path class="c26" d="M395.3 89.6l2.9 10.8 .9 4.1-3-11.5z"/><path class="c27" d="M394.4 86.1l2.9 10.3 .9 4-2.9-10.8z"/><path class="c29" d="M393.6 82.6l2.9 9.7 .8 4.1-2.9-10.3z"/><path class="c23" d="M398.2 100.4l2.9 10.9 .9 4.7-2.9-11.5z"/><path class="c24" d="M397.3 96.4l2.9 10.2 .9 4.7-2.9-10.9z"/><path class="c26" d="M396.5 92.3l2.8 9.7 .9 4.6-2.9-10.2z"/><path class="c38" d="M384.1 51.7l2.9 9.1 .8 2.5-2.8-9.6z"/><path class="c39" d="M383.3 49.7l2.8 8.5 .9 2.6-2.9-9.1zM382.5 47.7l2.8 8 .8 2.5-2.8-8.5z"/><path class="c35" d="M387 60.8l2.9 9.1 .8 3.1-2.9-9.7z"/><path class="c36" d="M386.1 58.2l2.9 8.5 .9 3.2-2.9-9.1z"/><path class="c37" d="M385.3 55.7l2.8 7.9 .9 3.1-2.9-8.5z"/><path class="c33" d="M389.9 69.9l2.8 9 .9 3.7-2.9-9.6z"/><path class="c34" d="M389 66.7l2.8 8.5 .9 3.7-2.8-9z"/><path class="c35" d="M388.1 63.6l2.9 7.9 .8 3.7-2.8-8.5z"/><path class="c30" d="M392.7 78.9l2.9 9.1 .9 4.3-2.9-9.7z"/><path class="c31" d="M391.8 75.2l2.9 8.5 .9 4.3-2.9-9.1z"/><path class="c32" d="M391 71.5l2.8 7.9 .9 4.3-2.9-8.5z"/><path class="c27" d="M395.6 88l2.8 9.1 .9 4.9-2.8-9.7z"/><path class="c29" d="M394.7 83.7l2.9 8.5 .8 4.9-2.8-9.1z"/><path class="c30" d="M393.8 79.4l2.9 8 .9 4.8-2.9-8.5z"/><path class="c40" d="M381.6 45.8l2.8 7.3 .9 2.6-2.8-8z"/><path class="c41" d="M380.8 43.9l2.8 6.7 .8 2.5-2.8-7.3zM379.9 42l2.8 6.1 .9 2.5-2.8-6.7z"/><path class="c38" d="M384.4 53.1l2.9 7.4 .8 3.1-2.8-7.9z"/><path class="c39" d="M383.6 50.6l2.8 6.7 .9 3.2-2.9-7.4z"/><path class="c40" d="M382.7 48.1l2.8 6.1 .9 3.1-2.8-6.7z"/><path class="c36" d="M387.3 60.5l2.8 7.3 .9 3.7-2.9-7.9z"/><path class="c37" d="M386.4 57.3l2.8 6.7 .9 3.8-2.8-7.3z"/><path class="c38" d="M385.5 54.2l2.8 6.1 .9 3.7-2.8-6.7z"/><path class="c34" d="M390.1 67.8l2.8 7.3 .9 4.3-2.8-7.9z"/><path class="c35" d="M389.2 64l2.8 6.8 .9 4.3-2.8-7.3z"/><path class="c36" d="M388.3 60.3l2.8 6.1 .9 4.4-2.8-6.8z"/><path class="c32" d="M392.9 75.1l2.8 7.3 1 5-2.9-8z"/><path class="c33" d="M392 70.8l2.8 6.7 .9 4.9-2.8-7.3z"/><path class="c35" d="M391.1 66.4l2.8 6.1 .9 5-2.8-6.7z"/><path class="c42" d="M378.7 40l2.8 5.6 1.2 2.5-2.8-6.1z"/><path class="c43" d="M377.4 38.1l2.8 4.9 1.3 2.6-2.8-5.6z"/><path class="c41" d="M381.5 45.6l2.7 5.5 1.3 3.1-2.8-6.1z"/><path class="c42" d="M380.2 43l2.8 5 1.2 3.1-2.7-5.5z"/><path class="c39" d="M384.2 51.1l2.8 5.5 1.3 3.7-2.8-6.1z"/><path class="c40" d="M383 48l2.7 4.9 1.3 3.7-2.8-5.5z"/><path class="c38" d="M387 56.6l2.8 5.5 1.3 4.3-2.8-6.1z"/><path class="c39" d="M385.7 52.9l2.8 4.9 1.3 4.3-2.8-5.5z"/><path class="c36" d="M389.8 62.1l2.8 5.6 1.3 4.8-2.8-6.1z"/><path class="c37" d="M388.5 57.8l2.8 5 1.3 4.9-2.8-5.6z"/><path class="c43" d="M375 37.5l3.5 5.1 2.4 1.7-3.5-6.2z"/><path class="c42" d="M378.5 42.6l3.4 5.2 2.5 2.6-3.5-6.1z"/><path class="c40" d="M381.9 47.8l3.4 5.1 2.5 3.7-3.4-6.2z"/><path class="c39" d="M385.3 52.9l3.5 5.2 2.5 4.7-3.5-6.2z"/><path class="c44" d="M373.7 34.7l3.4 4.7 1.4 3.2-3.5-5.1z"/><path class="c45" d="M372.4 31.9l3.4 4.2 1.3 3.3-3.4-4.7z"/><path class="c43" d="M377.1 39.4l3.5 4.7 1.3 3.7-3.4-5.2z"/><path class="c44" d="M375.8 36.1l3.5 4.3 1.3 3.7-3.5-4.7z"/><path class="c42" d="M380.6 44.1l3.4 4.7 1.3 4.1-3.4-5.1z"/><path class="c43" d="M379.3 40.4l3.4 4.2 1.3 4.2-3.4-4.7z"/><path class="c40" d="M384 48.8l3.5 4.7 1.3 4.6-3.5-5.2z"/><path class="c42" d="M382.7 44.6l3.4 4.3 1.4 4.6-3.5-4.7z"/><path class="c46" d="M371.1 30.7l4.6 5.2 1.3 1.6-4.6-5.6zM369.9 29.5l4.5 4.8 1.3 1.6-4.6-5.2z"/><path class="c44" d="M375.7 35.9l4.6 5.2 1.2 2.1-4.5-5.7z"/><path class="c45" d="M374.4 34.3l4.6 4.7 1.3 2.1-4.6-5.2z"/><path class="c43" d="M380.3 41.1l4.5 5.2 1.3 2.6-4.6-5.7z"/><path class="c44" d="M379 39l4.5 4.8 1.3 2.5-4.5-5.2z"/><path class="c13" d="M484.1 110.2l13 .8 1.7 1.8-13-.8z"/><path class="c14" d="M482.4 107.1l13 .6 1.7 3.3-13-.8z"/><path class="c15" d="M481.6 104.4l13 .3 .8 3-13-.6z"/><path class="c16" d="M480.7 101.8l13-.1 .9 3-13-.3z"/><path class="c17" d="M479.8 99.1l13.1-.4 .8 3-13 .1z"/><path class="c18" d="M479 96.4l13-.7 .9 3-13.1 .4z"/><path class="c19" d="M478.1 93.4l13.1-.3 .8 2.6-13 .7z"/><path class="c21" d="M477.2 90.4l13.1 0 .9 2.7-13.1 .3z"/><path class="c22" d="M475.4 88.2l13.2-.1 1.7 2.3-13.1 0zM473.5 88.9l13.4-.1 1.8-.7-13.4 .1z"/><path class="c21" d="M471.9 92.8l13.1-.1 1.8-3.9-13.1 .1z"/><path class="c20" d="M471 95.6l13.1 0 .9-2.9-13.1 .1zM470.1 98.4l13.1 0 .9-2.8-13.1 0z"/><path class="c19" d="M469.2 102l13.1 .1 .9-3.7-13.1 0z"/><path class="c17" d="M468.3 105.5l13.1 .3 .9-3.7-13.1-.1z"/><path class="c16" d="M467.4 108.5l13.1 .4 .9-3.1-13.1-.3z"/><path class="c15" d="M466.5 111.5l13.1 .5 .9-3.1-13.1-.4z"/><path class="c14" d="M464.7 115.2l13.1 0 1.8-3.2-13.1-.5zM462.9 116.5l13.1-.3 1.8-1-13.1 0zM461 116.2l13.1-.9 1.9 .9-13.1 .3zM459.2 114.8l6.5-.5 1.9 1.5-6.6 .4z"/><path class="c15" d="M465.7 114.3l6.6-.6 1.8 1.6-6.5 .5zM457.3 113l6.6-.7 1.8 2-6.5 .5z"/><path class="c16" d="M463.9 112.3l6.5-.6 1.9 2-6.6 .6zM455.4 110.8l6.6-.7 1.9 2.2-6.6 .7z"/><path class="c17" d="M462 110.1l6.5-.6 1.9 2.2-6.5 .6zM453.5 109.5l6.6-.9 1.9 1.5-6.6 .7z"/><path class="c18" d="M460.1 108.6l6.5-.9 1.9 1.8-6.5 .6z"/><path class="c17" d="M451.6 109.9l6.6-1.3 1.9 0-6.6 .9z"/><path class="c18" d="M458.2 108.6l6.5-1.3 1.9 .4-6.5 .9z"/><path class="c17" d="M449.7 111.1l6.6-1.8 1.9-.7-6.6 1.3z"/><path class="c18" d="M456.3 109.3l6.5-1.9 1.9-.1-6.5 1.3z"/><path class="c17" d="M447.8 113.3l6.5-2.2 2-1.8-6.6 1.8z"/><path class="c18" d="M454.3 111.1l6.6-2.1 1.9-1.6-6.5 1.9z"/><path class="c17" d="M445.8 115.3l6.6-2.3 1.9-1.9-6.5 2.2z"/><path class="c18" d="M452.4 113l6.6-2.3 1.9-1.7-6.6 2.1z"/><path class="c16" d="M443.9 116.8l4.4-2 1.9-1-4.4 1.5z"/><path class="c17" d="M448.3 114.8l4.4-2 1.9-.5-4.4 1.5z"/><path class="c18" d="M452.7 112.8l4.3-2 2-.1-4.4 1.6z"/><path class="c16" d="M441.9 117.3l4.4-2.5 2 0-4.4 2z"/><path class="c17" d="M446.3 114.8l4.4-2.5 2 .5-4.4 2z"/><path class="c18" d="M450.7 112.3l4.4-2.5 1.9 1-4.3 2z"/><path class="c16" d="M440 117.5l4.3-2.9 2 .2-4.4 2.5z"/><path class="c18" d="M444.3 114.6l4.4-2.9 2 .6-4.4 2.5z"/><path class="c19" d="M448.7 111.7l4.4-2.9 2 1-4.4 2.5z"/><path class="c17" d="M438 117.4l4.4-3.1 1.9 .3-4.3 2.9z"/><path class="c18" d="M442.4 114.3l4.3-3.1 2 .5-4.4 2.9z"/><path class="c19" d="M446.7 111.2l4.4-3.1 2 .7-4.4 2.9z"/><path class="c17" d="M436 118.5l4.4-3.5 2-.7-4.4 3.1z"/><path class="c18" d="M440.4 115l4.3-3.5 2-.3-4.3 3.1z"/><path class="c20" d="M444.7 111.5l4.4-3.5 2 .1-4.4 3.1z"/><path class="c16" d="M434 121.2l3.3-3.1 2-2.2-3.3 2.6z"/><path class="c17" d="M437.3 118.1l3.3-3.1 1.9-1.8-3.2 2.7z"/><path class="c19" d="M440.6 115l3.2-3.2 2-1.2-3.3 2.6z"/><path class="c20" d="M443.8 111.8l3.3-3.1 2-.7-3.3 2.6z"/><path class="c15" d="M432 124.9l3.3-3.5 2-3.3-3.3 3.1z"/><path class="c17" d="M435.3 121.4l3.3-3.6 2-2.8-3.3 3.1z"/><path class="c18" d="M438.6 117.8l3.2-3.6 2-2.4-3.2 3.2z"/><path class="c20" d="M441.8 114.2l3.3-3.6 2-1.9-3.3 3.1z"/><path class="c14" d="M430.1 128.9l2.6-3.2 1.9-3.6-2.6 2.8z"/><path class="c16" d="M432.7 125.7l2.6-3.2 2-3.3-2.7 2.9z"/><path class="c17" d="M435.3 122.5l2.6-3.1 2-3.1-2.6 2.9z"/><path class="c18" d="M437.9 119.4l2.6-3.2 2-2.7-2.6 2.8z"/><path class="c19" d="M440.5 116.2l2.6-3.2 2-2.4-2.6 2.9z"/><path class="c13" d="M428.1 133.7l2.6-3.5 2-4.5-2.6 3.2z"/><path class="c14" d="M430.7 130.2l2.6-3.5 2-4.2-2.6 3.2z"/><path class="c16" d="M433.3 126.7l2.6-3.5 2-3.8-2.6 3.1z"/><path class="c17" d="M435.9 123.2l2.6-3.5 2-3.5-2.6 3.2z"/><path class="c19" d="M438.5 119.7l2.6-3.5 2-3.2-2.6 3.2z"/><path class="c12" d="M426.1 138.4l2.6-3.6 2-4.6-2.6 3.5z"/><path class="c13" d="M428.7 134.8l2.6-3.7 2-4.4-2.6 3.5z"/><path class="c15" d="M431.3 131.1l2.6-3.6 2-4.3-2.6 3.5z"/><path class="c16" d="M433.9 127.5l2.5-3.6 2.1-4.2-2.6 3.5z"/><path class="c18" d="M436.4 123.9l2.6-3.7 2.1-4-2.6 3.5z"/><path class="c10" d="M424.1 143.3l2.6-3.7 2-4.8-2.6 3.6z"/><path class="c12" d="M426.7 139.6l2.6-3.7 2-4.8-2.6 3.7z"/><path class="c13" d="M429.3 135.9l2.6-3.6 2-4.8-2.6 3.6z"/><path class="c15" d="M431.9 132.3l2.5-3.7 2-4.7-2.5 3.6z"/><path class="c16" d="M434.4 128.6l2.6-3.7 2-4.7-2.6 3.7z"/><path class="c9" d="M422.1 147.3l2.6-3.5 2-4.2-2.6 3.7z"/><path class="c11" d="M424.7 143.8l2.6-3.5 2-4.4-2.6 3.7z"/><path class="c12" d="M427.3 140.3l2.5-3.4 2.1-4.6-2.6 3.6z"/><path class="c14" d="M429.8 136.9l2.6-3.5 2-4.8-2.5 3.7z"/><path class="c15" d="M432.4 133.4l2.6-3.5 2-5-2.6 3.7z"/><path class="c8" d="M420.1 151l2.6-3.2 2-4-2.6 3.5z"/><path class="c10" d="M422.7 147.8l2.5-3.3 2.1-4.2-2.6 3.5z"/><path class="c11" d="M425.2 144.5l2.6-3.2 2-4.4-2.5 3.4z"/><path class="c12" d="M427.8 141.3l2.6-3.2 2-4.7-2.6 3.5z"/><path class="c14" d="M430.4 138.1l2.6-3.3 2-4.9-2.6 3.5z"/><path class="c7" d="M418 153.6l2.6-2.8 2.1-3-2.6 3.2z"/><path class="c9" d="M420.6 150.8l2.6-2.8 2-3.5-2.5 3.3z"/><path class="c10" d="M423.2 148l2.6-2.8 2-3.9-2.6 3.2z"/><path class="c11" d="M425.8 145.2l2.6-2.8 2-4.3-2.6 3.2z"/><path class="c13" d="M428.4 142.4l2.5-2.8 2.1-4.8-2.6 3.3z"/><path class="c7" d="M417 154.6l3.2-3 1.1-1.5-3.3 3.5zM416 155.6l3.2-2.4 1-1.6-3.2 3z"/><path class="c8" d="M420.2 151.6l3.3-2.9 1-2.1-3.2 3.5zM419.2 153.2l3.2-2.4 1.1-2.1-3.3 2.9z"/><path class="c10" d="M423.5 148.7l3.2-3 1-2.6-3.2 3.5z"/><path class="c9" d="M422.4 150.8l3.3-2.4 1-2.7-3.2 3z"/><path class="c11" d="M426.7 145.7l3.2-2.9 1-3.2-3.2 3.5zM425.7 148.4l3.2-2.4 1-3.2-3.2 2.9z"/><path class="c7" d="M414.9 156.1l4.3-2 1.1-1.7-4.3 3.2z"/><path class="c6" d="M413.8 156.5l4.4-.6 1-1.8-4.3 2z"/><path class="c8" d="M419.2 154.1l4.4-1.9 1-3-4.3 3.2z"/><path class="c7" d="M418.2 155.9l4.4-.6 1-3.1-4.4 1.9z"/><path class="c9" d="M423.6 152.2l4.3-1.9 1-4.3-4.3 3.2z"/><path class="c8" d="M422.6 155.3l4.3-.6 1-4.4-4.3 1.9z"/><path class="c7" d="M412.8 155.8l6.6 1.9 1-2.1-6.6 .9z"/><path class="c6" d="M411.7 155.2l6.6 4.7 1.1-2.2-6.6-1.9z"/><path class="c7" d="M419.4 157.7l6.5 1.9 1-4.9-6.5 .9z"/><path class="c6" d="M418.3 159.9l6.7 4.7 .9-5-6.5-1.9z"/><path class="c7" d="M410.5 152.5l2.7 3.5 1.1 1-2.6-1.8z"/><path class="c8" d="M409.4 149.9l2.7 5 1.1 1.1-2.7-3.5z"/><path class="c6" d="M413.2 156l2.7 3.4 1.1-.5-2.7-1.9z"/><path class="c7" d="M412.1 154.9l2.7 5 1.1-.5-2.7-3.4z"/><path class="c6" d="M415.9 159.4l2.7 3.4 1-2-2.6-1.9zM414.8 159.9l2.8 5 1-2.1-2.7-3.4z"/><path class="c5" d="M418.6 162.8l2.7 3.5 1-3.6-2.7-1.9zM417.6 164.9l2.7 5 1-3.6-2.7-3.5zM421.3 166.3l2.7 3.4 1-5.1-2.7-1.9z"/><path class="c3" d="M420.3 169.9l2.7 5 1-5.2-2.7-3.4z"/><path class="c9" d="M408.2 145.6l2.8 6.4 1.1 2.9-2.7-5z"/><path class="c10" d="M407 141.3l2.8 7.9 1.2 2.8-2.8-6.4z"/><path class="c7" d="M411 152l2.7 6.5 1.1 1.4-2.7-5z"/><path class="c8" d="M409.8 149.2l2.8 8 1.1 1.3-2.7-6.5z"/><path class="c6" d="M413.7 158.5l2.8 6.5 1.1-.1-2.8-5zM412.6 157.2l2.8 7.9 1.1-.1-2.8-6.5z"/><path class="c4" d="M416.5 165l2.7 6.4 1.1-1.5-2.7-5zM415.4 165.1l2.8 7.9 1-1.6-2.7-6.4z"/><path class="c2" d="M419.2 171.4l2.8 6.5 1-3-2.7-5zM418.2 173l2.8 8 1-3.1-2.8-6.5z"/><path class="c11" d="M406.2 137.1l2.8 8.8 .8 3.3-2.8-7.9z"/><path class="c13" d="M405.4 133l2.8 9.6 .8 3.3-2.8-8.8z"/><path class="c14" d="M404.5 128.9l2.9 10.3 .8 3.4-2.8-9.6z"/><path class="c9" d="M409 145.9l2.8 8.7 .8 2.6-2.8-8z"/><path class="c10" d="M408.2 142.6l2.8 9.5 .8 2.5-2.8-8.7z"/><path class="c11" d="M407.4 139.2l2.8 10.4 .8 2.5-2.8-9.5z"/><path class="c7" d="M411.8 154.6l2.8 8.8 .8 1.7-2.8-7.9zM411 152.1l2.8 9.6 .8 1.7-2.8-8.8z"/><path class="c8" d="M410.2 149.6l2.9 10.4 .7 1.7-2.8-9.6z"/><path class="c4" d="M414.6 163.4l2.8 8.7 .8 .9-2.8-7.9z"/><path class="c5" d="M413.8 161.7l2.9 9.5 .7 .9-2.8-8.7zM413.1 160l2.8 10.3 .8 .9-2.9-9.5z"/><path class="c2" d="M417.4 172.1l2.8 8.8 .8 .1-2.8-8zM416.7 171.2l2.8 9.6 .7 .1-2.8-8.8zM415.9 170.3l2.9 10.4 .7 .1-2.8-9.6z"/><path class="c15" d="M403.7 124.6l2.8 10.7 .9 3.9-2.9-10.3z"/><path class="c17" d="M402.8 120.3l2.9 11.1 .8 3.9-2.8-10.7z"/><path class="c18" d="M402 116l2.9 11.5 .8 3.9-2.9-11.1z"/><path class="c12" d="M406.5 135.3l2.9 10.8 .8 3.5-2.8-10.4z"/><path class="c13" d="M405.7 131.4l2.9 11.1 .8 3.6-2.9-10.8z"/><path class="c15" d="M404.9 127.5l2.9 11.5 .8 3.5-2.9-11.1z"/><path class="c9" d="M409.4 146.1l2.9 10.7 .8 3.2-2.9-10.4z"/><path class="c10" d="M408.6 142.5l2.9 11.1 .8 3.2-2.9-10.7z"/><path class="c11" d="M407.8 139l2.9 11.5 .8 3.1-2.9-11.1z"/><path class="c6" d="M412.3 156.8l2.8 10.7 .8 2.8-2.8-10.3z"/><path class="c7" d="M411.5 153.6l2.9 11.1 .7 2.8-2.8-10.7z"/><path class="c8" d="M410.7 150.5l2.9 11.5 .8 2.7-2.9-11.1z"/><path class="c3" d="M415.1 167.5l2.9 10.8 .8 2.4-2.9-10.4z"/><path class="c4" d="M414.4 164.7l2.8 11.2 .8 2.4-2.9-10.8z"/><path class="c5" d="M413.6 162l2.9 11.5 .7 2.4-2.8-11.2z"/><path class="c19" d="M401.3 112.5l2.9 11.5 .7 3.5-2.9-11.5z"/><path class="c21" d="M400.7 109l2.9 11.4 .6 3.6-2.9-11.5z"/><path class="c22" d="M400 105.5l2.9 11.4 .7 3.5-2.9-11.4z"/><path class="c23" d="M399.3 102l3 11.4 .6 3.5-2.9-11.4z"/><path class="c16" d="M404.2 124l2.9 11.4 .7 3.6-2.9-11.5z"/><path class="c17" d="M403.6 120.4l2.9 11.5 .6 3.5-2.9-11.4z"/><path class="c18" d="M402.9 116.9l2.9 11.5 .7 3.5-2.9-11.5z"/><path class="c20" d="M402.3 113.4l2.9 11.4 .6 3.6-2.9-11.5z"/><path class="c13" d="M407.1 135.4l2.9 11.5 .7 3.6-2.9-11.5z"/><path class="c14" d="M406.5 131.9l2.9 11.5 .6 3.5-2.9-11.5z"/><path class="c15" d="M405.8 128.4l2.9 11.4 .7 3.6-2.9-11.5z"/><path class="c16" d="M405.2 124.8l2.9 11.5 .6 3.5-2.9-11.4z"/><path class="c9" d="M410 146.9l2.9 11.5 .7 3.6-2.9-11.5z"/><path class="c10" d="M409.4 143.4l2.9 11.4 .6 3.6-2.9-11.5z"/><path class="c12" d="M408.7 139.8l3 11.5 .6 3.5-2.9-11.4z"/><path class="c13" d="M408.1 136.3l2.9 11.4 .7 3.6-3-11.5z"/><path class="c6" d="M412.9 158.4l2.9 11.5 .7 3.6-2.9-11.5z"/><path class="c7" d="M412.3 154.8l2.9 11.5 .6 3.6-2.9-11.5z"/><path class="c8" d="M411.7 151.3l2.9 11.4 .6 3.6-2.9-11.5z"/><path class="c10" d="M411 147.7l3 11.4 .6 3.6-2.9-11.4z"/><path class="c24" d="M398.7 98.3l2.9 11.2 .7 3.9-3-11.4z"/><path class="c25" d="M398 94.7l2.9 11 .7 3.8-2.9-11.2z"/><path class="c26" d="M397.3 91l3 10.8 .6 3.9-2.9-11z"/><path class="c28" d="M396.7 87.4l2.9 10.6 .7 3.8-3-10.8z"/><path class="c21" d="M401.6 109.5l2.9 11.3 .7 4-2.9-11.4z"/><path class="c22" d="M400.9 105.7l3 11 .6 4.1-2.9-11.3z"/><path class="c23" d="M400.3 101.8l2.9 10.9 .7 4-3-11z"/><path class="c25" d="M399.6 98l2.9 10.6 .7 4.1-2.9-10.9z"/><path class="c17" d="M404.5 120.8l2.9 11.2 .7 4.3-2.9-11.5z"/><path class="c19" d="M403.9 116.7l2.9 11.1 .6 4.2-2.9-11.2z"/><path class="c20" d="M403.2 112.7l2.9 10.8 .7 4.3-2.9-11.1z"/><path class="c22" d="M402.5 108.6l3 10.7 .6 4.2-2.9-10.8z"/><path class="c14" d="M407.4 132l3 11.3 .6 4.4-2.9-11.4z"/><path class="c16" d="M406.8 127.8l2.9 11 .7 4.5-3-11.3z"/><path class="c17" d="M406.1 123.5l2.9 10.9 .7 4.4-2.9-11z"/><path class="c18" d="M405.5 119.3l2.9 10.6 .6 4.5-2.9-10.9z"/><path class="c11" d="M410.4 143.3l2.9 11.2 .7 4.6-3-11.4z"/><path class="c12" d="M409.7 138.8l2.9 11.1 .7 4.6-2.9-11.2z"/><path class="c14" d="M409 134.4l3 10.8 .6 4.7-2.9-11.1z"/><path class="c15" d="M408.4 129.9l2.9 10.7 .7 4.6-3-10.8z"/><path class="c29" d="M396.1 84.4l2.9 10.3 .6 3.3-2.9-10.6z"/><path class="c30" d="M395.6 81.4l2.9 9.9 .5 3.4-2.9-10.3z"/><path class="c31" d="M395 78.5l2.9 9.5 .6 3.3-2.9-9.9z"/><path class="c32" d="M394.5 75.5l2.9 9.1 .5 3.4-2.9-9.5z"/><path class="c33" d="M393.9 72.5l2.9 8.8 .6 3.3-2.9-9.1z"/><path class="c26" d="M399 94.7l3 10.2 .5 3.7-2.9-10.6z"/><path class="c27" d="M398.5 91.3l2.9 9.9 .6 3.7-3-10.2z"/><path class="c28" d="M397.9 88l3 9.5 .5 3.7-2.9-9.9z"/><path class="c29" d="M397.4 84.6l2.9 9.1 .6 3.8-3-9.5z"/><path class="c30" d="M396.8 81.3l2.9 8.7 .6 3.7-2.9-9.1z"/><path class="c23" d="M402 104.9l2.9 10.3 .6 4.1-3-10.7z"/><path class="c24" d="M401.4 101.2l2.9 9.9 .6 4.1-2.9-10.3z"/><path class="c25" d="M400.9 97.5l2.9 9.5 .5 4.1-2.9-9.9z"/><path class="c27" d="M400.3 93.7l2.9 9.2 .6 4.1-2.9-9.5z"/><path class="c28" d="M399.7 90l3 8.8 .5 4.1-2.9-9.2z"/><path class="c20" d="M404.9 115.2l2.9 10.3 .6 4.4-2.9-10.6z"/><path class="c21" d="M404.3 111.1l3 9.9 .5 4.5-2.9-10.3z"/><path class="c23" d="M403.8 107l2.9 9.5 .6 4.5-3-9.9z"/><path class="c24" d="M403.2 102.9l2.9 9.1 .6 4.5-2.9-9.5z"/><path class="c25" d="M402.7 98.8l2.9 8.7 .5 4.5-2.9-9.1z"/><path class="c17" d="M407.8 125.5l2.9 10.2 .6 4.9-2.9-10.7z"/><path class="c18" d="M407.3 121l2.9 9.8 .5 4.9-2.9-10.2z"/><path class="c20" d="M406.7 116.5l2.9 9.5 .6 4.8-2.9-9.8z"/><path class="c21" d="M406.1 112l2.9 9.1 .6 4.9-2.9-9.5z"/><path class="c23" d="M405.6 107.5l2.9 8.7 .5 4.9-2.9-9.1z"/><path class="c34" d="M393.3 70.1l2.9 8.3 .6 2.9-2.9-8.8z"/><path class="c35" d="M392.6 67.7l2.9 7.8 .7 2.9-2.9-8.3zM392 65.2l2.8 7.4 .7 2.9-2.9-7.8z"/><path class="c36" d="M391.3 62.8l2.9 6.9 .6 2.9-2.8-7.4z"/><path class="c31" d="M396.2 78.4l2.9 8.3 .6 3.3-2.9-8.7z"/><path class="c32" d="M395.5 75.5l2.9 7.9 .7 3.3-2.9-8.3z"/><path class="c33" d="M394.8 72.6l2.9 7.4 .7 3.4-2.9-7.9z"/><path class="c34" d="M394.2 69.7l2.9 7 .6 3.3-2.9-7.4z"/><path class="c29" d="M399.1 86.7l2.9 8.3 .7 3.8-3-8.8z"/><path class="c30" d="M398.4 83.4l2.9 7.8 .7 3.8-2.9-8.3z"/><path class="c31" d="M397.7 80l2.9 7.5 .7 3.7-2.9-7.8z"/><path class="c32" d="M397.1 76.7l2.9 7 .6 3.8-2.9-7.5z"/><path class="c27" d="M402 95l2.9 8.3 .7 4.2-2.9-8.7z"/><path class="c28" d="M401.3 91.2l2.9 7.9 .7 4.2-2.9-8.3z"/><path class="c29" d="M400.6 87.5l2.9 7.4 .7 4.2-2.9-7.9z"/><path class="c30" d="M400 83.7l2.8 7 .7 4.2-2.9-7.4z"/><path class="c24" d="M404.9 103.3l2.9 8.3 .7 4.6-2.9-8.7z"/><path class="c26" d="M404.2 99.1l2.9 7.8 .7 4.7-2.9-8.3z"/><path class="c27" d="M403.5 94.9l2.9 7.4 .7 4.6-2.9-7.8z"/><path class="c29" d="M402.8 90.7l2.9 6.9 .7 4.7-2.9-7.4z"/><path class="c37" d="M390.5 61.2l2.8 6.5 .9 2-2.9-6.9z"/><path class="c38" d="M389.6 59.7l2.9 5.9 .8 2.1-2.8-6.5zM388.8 58.1l2.8 5.5 .9 2-2.9-5.9z"/><path class="c35" d="M393.3 67.7l2.9 6.5 .9 2.5-2.9-7z"/><path class="c36" d="M392.5 65.6l2.9 6 .8 2.6-2.9-6.5z"/><path class="c37" d="M391.6 63.6l2.9 5.5 .9 2.5-2.9-6z"/><path class="c33" d="M396.2 74.2l2.9 6.4 .9 3.1-2.9-7z"/><path class="c34" d="M395.4 71.6l2.8 6 .9 3-2.9-6.4z"/><path class="c35" d="M394.5 69.1l2.9 5.5 .8 3-2.8-6z"/><path class="c32" d="M399.1 80.6l2.9 6.5 .8 3.6-2.8-7z"/><path class="c33" d="M398.2 77.6l2.9 6 .9 3.5-2.9-6.5z"/><path class="c34" d="M397.4 74.6l2.8 5.4 .9 3.6-2.9-6z"/><path class="c30" d="M402 87.1l2.8 6.5 .9 4-2.9-6.9z"/><path class="c31" d="M401.1 83.6l2.9 6 .8 4-2.8-6.5z"/><path class="c32" d="M400.2 80l2.9 5.5 .9 4.1-2.9-6z"/><path class="c39" d="M387.9 55l2.9 5.2 .8 3.4-2.8-5.5z"/><path class="c40" d="M387 52l2.9 4.8 .9 3.4-2.9-5.2z"/><path class="c41" d="M386.1 48.9l2.9 4.6 .9 3.3-2.9-4.8z"/><path class="c38" d="M390.8 60.2l2.8 5.2 .9 3.7-2.9-5.5z"/><path class="c39" d="M389.9 56.8l2.8 4.9 .9 3.7-2.8-5.2z"/><path class="c40" d="M389 53.5l2.8 4.6 .9 3.6-2.8-4.9z"/><path class="c36" d="M393.6 65.4l2.9 5.2 .9 4-2.9-5.5z"/><path class="c37" d="M392.7 61.7l2.9 4.9 .9 4-2.9-5.2z"/><path class="c39" d="M391.8 58.1l2.9 4.5 .9 4-2.9-4.9z"/><path class="c35" d="M396.5 70.6l2.8 5.2 .9 4.2-2.8-5.4z"/><path class="c36" d="M395.6 66.6l2.8 4.9 .9 4.3-2.8-5.2z"/><path class="c37" d="M394.7 62.6l2.8 4.6 .9 4.3-2.8-4.9z"/><path class="c33" d="M399.3 75.8l2.9 5.2 .9 4.5-2.9-5.5z"/><path class="c35" d="M398.4 71.5l2.9 4.9 .9 4.6-2.9-5.2z"/><path class="c36" d="M397.5 67.2l2.9 4.6 .9 4.6-2.9-4.9z"/><path class="c42" d="M384.8 46.3l3.6 5.3 1.3 3-3.6-5.7z"/><path class="c43" d="M383.5 43.8l3.6 4.9 1.3 2.9-3.6-5.3z"/><path class="c40" d="M388.4 51.6l3.5 5.3 1.3 3.4-3.5-5.7z"/><path class="c41" d="M387.1 48.7l3.5 4.8 1.3 3.4-3.5-5.3z"/><path class="c39" d="M391.9 56.9l3.6 5.3 1.3 3.9-3.6-5.8z"/><path class="c40" d="M390.6 53.5l3.6 4.9 1.3 3.8-3.6-5.3z"/><path class="c38" d="M395.5 62.2l3.5 5.3 1.4 4.3-3.6-5.7z"/><path class="c39" d="M394.2 58.4l3.5 4.9 1.3 4.2-3.5-5.3z"/><path class="c13" d="M497.1 111l13.4 1.9 1.6 1.9-13.3-2z"/><path class="c14" d="M495.4 107.7l13.4 1.9 1.7 3.3-13.4-1.9z"/><path class="c16" d="M494.6 104.7l13.4 1.9 .8 3-13.4-1.9z"/><path class="c17" d="M493.7 101.7l13.5 1.8 .8 3.1-13.4-1.9z"/><path class="c18" d="M492.9 98.7l13.5 1.8 .8 3-13.5-1.8z"/><path class="c19" d="M492 95.7l13.5 1.7 .9 3.1-13.5-1.8z"/><path class="c20" d="M491.2 93.1l13.5 1.6 .8 2.7-13.5-1.7z"/><path class="c21" d="M490.3 90.4l13.6 1.7 .8 2.6-13.5-1.6z"/><path class="c22" d="M488.6 88.1l13.5 1.7 1.8 2.3-13.6-1.7z"/><path class="c23" d="M486.6 88.7l13.9 1.7 1.8-.6-13.9-1.7z"/><path class="c22" d="M485 92.7l13.6 1.7 1.8-4-13.6-1.6z"/><path class="c21" d="M484.1 95.6l13.6 1.7 .9-2.9-13.6-1.7z"/><path class="c20" d="M483.2 98.4l13.6 1.8 .9-2.9-13.6-1.7z"/><path class="c19" d="M482.3 102.1l13.6 1.9 .9-3.8-13.6-1.8z"/><path class="c18" d="M481.4 105.8l13.5 1.9 1-3.7-13.6-1.9z"/><path class="c17" d="M480.5 108.9l13.5 2 .9-3.2-13.5-1.9z"/><path class="c16" d="M479.6 112l13.5 2 .9-3.1-13.5-2z"/><path class="c15" d="M477.8 115.2l13.5 2.1 1.8-3.3-13.5-2zM475.8 116.2l13.8 2.2 1.8-1.1-13.8-2.2zM474 115.3l13.8 2.2 1.8 .9-13.8-2.2z"/><path class="c16" d="M472.3 113.7l13.5 2.1 1.9 1.7-13.6-2.2z"/><path class="c17" d="M470.4 111.7l13.6 2 1.8 2.1-13.5-2.1z"/><path class="c18" d="M468.5 109.5l13.7 2.1 1.8 2.1-13.6-2zM466.6 107.7l13.7 2 1.9 1.9-13.7-2.1z"/><path class="c19" d="M464.6 107.2l13.9 2.1 1.9 .5-13.9-2.1zM462.7 107.4l13.9 2.1 1.9-.2-13.9-2.1zM460.8 109l13.9 2.1 1.9-1.6-13.9-2.1zM458.8 110.7l14 2.2 1.9-1.8-13.9-2.2zM456.9 110.8l14 2.2 1.9-.1-14-2.2zM454.9 109.8l14 2.1 2 1.1-14-2.2z"/><path class="c20" d="M453 108.8l14 2.2 1.9 1-14-2.2zM451 108.1l14 2.1 2 .8-14-2.2z"/><path class="c21" d="M449 108l14 2.2 2 0-14-2.1zM446.9 108.7l14.1 .7 2 .8-14-2.2zM445.1 110.6l13.7 0 2-1.3-13.7-.6zM443.1 113l13.7-.4 2-2-13.7 0z"/><path class="c20" d="M441.1 116.2l6.8-.8 2-2.6-6.8 .2zM447.9 115.4l6.9-.8 2-2-6.9 .2z"/><path class="c19" d="M439 120.2l6.9-1.6 2-3.2-6.8 .8z"/><path class="c20" d="M445.9 118.6l6.8-1.7 2.1-2.3-6.9 .8z"/><path class="c18" d="M437 124.9l4.6-2 2-3.8-4.6 1.1z"/><path class="c19" d="M441.6 122.9l4.5-2 2.1-2.9-4.6 1.1z"/><path class="c20" d="M446.1 120.9l4.6-2.1 2-1.9-4.5 1.1z"/><path class="c16" d="M435 129.9l4.5-3.1 2.1-3.9-4.6 2z"/><path class="c18" d="M439.5 126.8l4.6-3.1 2-2.8-4.5 2z"/><path class="c19" d="M444.1 123.7l4.5-3.2 2.1-1.7-4.6 2.1z"/><path class="c15" d="M433 134.8l3.4-3.1 2-4.1-3.4 2.3z"/><path class="c16" d="M436.4 131.7l3.3-3.2 2.1-3.3-3.4 2.4z"/><path class="c18" d="M439.7 128.5l3.4-3.2 2.1-2.4-3.4 2.3z"/><path class="c19" d="M443.1 125.3l3.4-3.1 2.1-1.7-3.4 2.4z"/><path class="c14" d="M430.9 139.6l3.4-3.8 2.1-4.1-3.4 3.1z"/><path class="c15" d="M434.3 135.8l3.4-3.9 2-3.4-3.3 3.2z"/><path class="c17" d="M437.7 131.9l3.4-3.9 2-2.7-3.4 3.2z"/><path class="c18" d="M441.1 128l3.3-3.8 2.1-2-3.4 3.1z"/><path class="c13" d="M429.9 142.8l2.7-3.4 1-2.9-2.7 3.1z"/><path class="c12" d="M428.9 146l2.7-3.7 1-2.9-2.7 3.4z"/><path class="c14" d="M432.6 139.4l2.7-3.3 1-2.6-2.7 3z"/><path class="c13" d="M431.6 142.3l2.7-3.6 1-2.6-2.7 3.3z"/><path class="c15" d="M435.3 136.1l2.7-3.4 1-2.3-2.7 3.1zM434.3 138.7l2.7-3.7 1-2.3-2.7 3.4z"/><path class="c17" d="M438 132.7l2.7-3.4 1-2-2.7 3.1z"/><path class="c16" d="M437 135l2.7-3.6 1-2.1-2.7 3.4z"/><path class="c18" d="M440.7 129.3l2.7-3.3 1-1.8-2.7 3.1zM439.7 131.4l2.7-3.7 1-1.7-2.7 3.3z"/><path class="c11" d="M427.9 150.3l2.7-3.9 1-4.1-2.7 3.7z"/><path class="c10" d="M426.9 154.7l2.7-4.3 1-4-2.7 3.9z"/><path class="c12" d="M430.6 146.4l2.7-4 1-3.7-2.7 3.6z"/><path class="c11" d="M429.6 150.4l2.7-4.3 1-3.7-2.7 4z"/><path class="c14" d="M433.3 142.4l2.7-4 1-3.4-2.7 3.7z"/><path class="c13" d="M432.3 146.1l2.6-4.3 1.1-3.4-2.7 4z"/><path class="c15" d="M436 138.4l2.6-3.9 1.1-3.1-2.7 3.6z"/><path class="c14" d="M434.9 141.8l2.7-4.3 1-3-2.6 3.9z"/><path class="c17" d="M438.6 134.5l2.7-4 1.1-2.8-2.7 3.7z"/><path class="c16" d="M437.6 137.5l2.7-4.2 1-2.8-2.7 4z"/><path class="c8" d="M425.9 159.6l2.7-4.4 1-4.8-2.7 4.3z"/><path class="c7" d="M425 164.6l2.6-4.5 1-4.9-2.7 4.4z"/><path class="c10" d="M428.6 155.2l2.7-4.4 1-4.7-2.7 4.3z"/><path class="c9" d="M427.6 160.1l2.7-4.6 1-4.7-2.7 4.4z"/><path class="c12" d="M431.3 150.8l2.6-4.4 1-4.6-2.6 4.3z"/><path class="c10" d="M430.3 155.5l2.6-4.5 1-4.6-2.6 4.4z"/><path class="c13" d="M433.9 146.4l2.7-4.4 1-4.5-2.7 4.3z"/><path class="c12" d="M432.9 151l2.7-4.6 1-4.4-2.7 4.4z"/><path class="c15" d="M436.6 142l2.7-4.4 1-4.3-2.7 4.2z"/><path class="c14" d="M435.6 146.4l2.6-4.5 1.1-4.3-2.7 4.4z"/><path class="c6" d="M424.3 168l2.7-4.5 .6-3.4-2.6 4.5z"/><path class="c5" d="M423.7 171.4l2.6-4.4 .7-3.5-2.7 4.5z"/><path class="c3" d="M423 174.9l2.6-4.4 .7-3.5-2.6 4.4z"/><path class="c7" d="M427 163.5l2.6-4.4 .7-3.6-2.7 4.6z"/><path class="c6" d="M426.3 167l2.7-4.4 .6-3.5-2.6 4.4z"/><path class="c5" d="M425.6 170.5l2.7-4.3 .7-3.6-2.7 4.4z"/><path class="c9" d="M429.6 159.1l2.7-4.5 .6-3.6-2.6 4.5z"/><path class="c8" d="M429 162.6l2.6-4.4 .7-3.6-2.7 4.5z"/><path class="c7" d="M428.3 166.2l2.6-4.4 .7-3.6-2.6 4.4z"/><path class="c11" d="M432.3 154.6l2.6-4.5 .7-3.7-2.7 4.6z"/><path class="c10" d="M431.6 158.2l2.7-4.4 .6-3.7-2.6 4.5z"/><path class="c9" d="M430.9 161.8l2.7-4.3 .7-3.7-2.7 4.4z"/><path class="c13" d="M434.9 150.1l2.7-4.5 .6-3.7-2.6 4.5z"/><path class="c12" d="M434.3 153.8l2.6-4.4 .7-3.8-2.7 4.5z"/><path class="c10" d="M433.6 157.5l2.6-4.4 .7-3.7-2.6 4.4z"/><path class="c3" d="M422.3 176.9l2.7-3.9 .6-2.5-2.6 4.4z"/><path class="c2" d="M421.6 178.9l2.7-3.4 .7-2.5-2.7 3.9z"/><path class="c1" d="M421 181l2.6-3 .7-2.5-2.7 3.4z"/><path class="c4" d="M425 173l2.6-3.9 .7-2.9-2.7 4.3zM424.3 175.5l2.6-3.5 .7-2.9-2.6 3.9z"/><path class="c3" d="M423.6 178l2.7-3 .6-3-2.6 3.5z"/><path class="c6" d="M427.6 169.1l2.7-3.9 .6-3.4-2.6 4.4z"/><path class="c5" d="M426.9 172l2.7-3.4 .7-3.4-2.7 3.9z"/><path class="c4" d="M426.3 175l2.6-3 .7-3.4-2.7 3.4z"/><path class="c8" d="M430.3 165.2l2.6-3.9 .7-3.8-2.7 4.3z"/><path class="c7" d="M429.6 168.6l2.7-3.4 .6-3.9-2.6 3.9z"/><path class="c6" d="M428.9 172l2.7-3 .7-3.8-2.7 3.4z"/><path class="c9" d="M432.9 161.3l2.7-3.9 .6-4.3-2.6 4.4z"/><path class="c8" d="M432.3 165.2l2.6-3.5 .7-4.3-2.7 3.9z"/><path class="c7" d="M431.6 169l2.7-3 .6-4.3-2.6 3.5z"/><path class="c1" d="M420.2 180.9l2.7-2.2 .7-.7-2.6 3zM419.5 180.8l2.7-1.4 .7-.7-2.7 2.2zM418.8 180.7l2.7-.5 .7-.8-2.7 1.4z"/><path class="c2" d="M422.9 178.7l2.7-2.2 .7-1.5-2.7 3zM422.2 179.4l2.7-1.3 .7-1.6-2.7 2.2zM421.5 180.2l2.7-.6 .7-1.5-2.7 1.3z"/><path class="c3" d="M425.6 176.5l2.7-2.2 .6-2.3-2.6 3zM424.9 178.1l2.7-1.4 .7-2.4-2.7 2.2z"/><path class="c2" d="M424.2 179.6l2.7-.5 .7-2.4-2.7 1.4z"/><path class="c5" d="M428.3 174.3l2.6-2.1 .7-3.2-2.7 3z"/><path class="c4" d="M427.6 176.7l2.6-1.4 .7-3.1-2.6 2.1z"/><path class="c3" d="M426.9 179.1l2.7-.6 .6-3.2-2.6 1.4z"/><path class="c6" d="M430.9 172.2l2.7-2.2 .7-4-2.7 3z"/><path class="c5" d="M430.2 175.3l2.7-1.3 .7-4-2.7 2.2z"/><path class="c4" d="M429.6 178.5l2.7-.5 .6-4-2.7 1.3z"/><path class="c2" d="M417.6 177.1l6.8 2.4 1.1-.2-6.7 1.4z"/><path class="c3" d="M416.5 173.5l6.8 6.1 1.1-.1-6.8-2.4zM424.4 179.5l6.8 2.3 1.1-3.8-6.8 1.3z"/><path class="c2" d="M423.3 179.6l6.9 6.1 1-3.9-6.8-2.3z"/><path class="c4" d="M415.8 169.9l2.8 3.2 .6 2.8-2.7-2.4z"/><path class="c5" d="M415.2 166.3l2.8 3.9 .6 2.9-2.8-3.2z"/><path class="c6" d="M414.6 162.7l2.8 4.6 .6 2.9-2.8-3.9z"/><path class="c7" d="M414 159.1l2.8 5.4 .6 2.8-2.8-4.6z"/><path class="c3" d="M418.6 173.1l2.8 3.1 .6 2.2-2.8-2.5z"/><path class="c4" d="M418 170.2l2.8 3.9 .6 2.1-2.8-3.1z"/><path class="c5" d="M417.4 167.3l2.8 4.7 .6 2.1-2.8-3.9z"/><path class="c6" d="M416.8 164.5l2.8 5.3 .6 2.2-2.8-4.7z"/><path class="c3" d="M421.4 176.2l2.7 3.2 .6 1.4-2.7-2.4zM420.8 174.1l2.8 3.9 .5 1.4-2.7-3.2z"/><path class="c4" d="M420.2 172l2.8 4.6 .6 1.4-2.8-3.9z"/><path class="c5" d="M419.6 169.8l2.8 5.4 .6 1.4-2.8-4.6z"/><path class="c2" d="M424.1 179.4l2.8 3.2 .6 .7-2.8-2.5z"/><path class="c3" d="M423.6 178l2.7 3.9 .6 .7-2.8-3.2zM423 176.6l2.8 4.6 .5 .7-2.7-3.9zM422.4 175.2l2.8 5.3 .6 .7-2.8-4.6z"/><path class="c2" d="M426.9 182.6l2.8 3.2 .5-.1-2.7-2.4zM426.3 181.9l2.8 3.9 .6 0-2.8-3.2zM425.8 181.2l2.8 4.6 .5 0-2.8-3.9zM425.2 180.5l2.8 5.4 .6-.1-2.8-4.6z"/><path class="c8" d="M413.3 154.5l2.8 5.8 .7 4.2-2.8-5.4z"/><path class="c10" d="M412.6 149.9l2.9 6.2 .6 4.2-2.8-5.8z"/><path class="c11" d="M412 145.2l2.8 6.7 .7 4.2-2.9-6.2z"/><path class="c13" d="M411.3 140.6l2.9 7.1 .6 4.2-2.8-6.7z"/><path class="c7" d="M416.1 160.3l2.9 5.8 .6 3.7-2.8-5.3z"/><path class="c8" d="M415.5 156.1l2.8 6.3 .7 3.7-2.9-5.8z"/><path class="c10" d="M414.8 151.9l2.9 6.7 .6 3.8-2.8-6.3z"/><path class="c11" d="M414.2 147.7l2.9 7.2 .6 3.7-2.9-6.7z"/><path class="c6" d="M419 166.1l2.8 5.8 .6 3.3-2.8-5.4z"/><path class="c7" d="M418.3 162.4l2.9 6.2 .6 3.3-2.8-5.8z"/><path class="c8" d="M417.7 158.6l2.8 6.7 .7 3.3-2.9-6.2z"/><path class="c9" d="M417.1 154.9l2.8 7.1 .6 3.3-2.8-6.7z"/><path class="c4" d="M421.8 171.9l2.8 5.8 .6 2.8-2.8-5.3z"/><path class="c5" d="M421.2 168.6l2.8 6.3 .6 2.8-2.8-5.8z"/><path class="c6" d="M420.5 165.3l2.9 6.7 .6 2.9-2.8-6.3z"/><path class="c7" d="M419.9 162l2.9 7.2 .6 2.8-2.9-6.7z"/><path class="c3" d="M424.6 177.7l2.8 5.8 .6 2.4-2.8-5.4z"/><path class="c4" d="M424 174.9l2.8 6.2 .6 2.4-2.8-5.8zM423.4 172l2.9 6.7 .5 2.4-2.8-6.2z"/><path class="c5" d="M422.8 169.2l2.9 7.2 .6 2.3-2.9-6.7z"/><path class="c14" d="M410.7 135.7l2.9 7.4 .6 4.6-2.9-7.1z"/><path class="c16" d="M410.2 130.8l2.9 7.7 .5 4.6-2.9-7.4z"/><path class="c17" d="M409.6 126l2.9 7.9 .6 4.6-2.9-7.7z"/><path class="c19" d="M409 121.1l3 8.2 .5 4.6-2.9-7.9z"/><path class="c21" d="M408.5 116.2l2.9 8.5 .6 4.6-3-8.2z"/><path class="c12" d="M413.6 143.1l2.9 7.5 .6 4.3-2.9-7.2z"/><path class="c14" d="M413.1 138.5l2.9 7.7 .5 4.4-2.9-7.5z"/><path class="c15" d="M412.5 133.9l2.9 8 .6 4.3-2.9-7.7z"/><path class="c17" d="M412 129.3l2.9 8.2 .5 4.4-2.9-8z"/><path class="c18" d="M411.4 124.7l2.9 8.5 .6 4.3-2.9-8.2z"/><path class="c10" d="M416.5 150.6l2.9 7.4 .5 4-2.8-7.1z"/><path class="c12" d="M416 146.2l2.9 7.7 .5 4.1-2.9-7.4z"/><path class="c13" d="M415.4 141.9l2.9 7.9 .6 4.1-2.9-7.7z"/><path class="c15" d="M414.9 137.5l2.9 8.2 .5 4.1-2.9-7.9z"/><path class="c16" d="M414.3 133.2l3 8.5 .5 4-2.9-8.2z"/><path class="c8" d="M419.4 158l2.9 7.4 .5 3.8-2.9-7.2z"/><path class="c10" d="M418.9 153.9l2.8 7.7 .6 3.8-2.9-7.4z"/><path class="c11" d="M418.3 149.8l2.9 8 .5 3.8-2.8-7.7z"/><path class="c12" d="M417.8 145.7l2.9 8.3 .5 3.8-2.9-8z"/><path class="c14" d="M417.3 141.7l2.9 8.4 .5 3.9-2.9-8.3z"/><path class="c6" d="M422.3 165.4l2.9 7.4 .5 3.6-2.9-7.2z"/><path class="c8" d="M421.7 161.6l2.9 7.7 .6 3.5-2.9-7.4z"/><path class="c9" d="M421.2 157.8l2.9 7.9 .5 3.6-2.9-7.7z"/><path class="c10" d="M420.7 154l2.9 8.2 .5 3.5-2.9-7.9z"/><path class="c11" d="M420.2 150.1l2.9 8.5 .5 3.6-2.9-8.2z"/><path class="c22" d="M407.9 112.5l3 8.2 .5 4-2.9-8.5z"/><path class="c23" d="M407.4 108.8l2.9 8 .6 3.9-3-8.2z"/><path class="c24" d="M406.8 105.1l3 7.7 .5 4-2.9-8z"/><path class="c26" d="M406.3 101.4l2.9 7.4 .6 4-3-7.7z"/><path class="c27" d="M405.7 97.6l3 7.3 .5 3.9-2.9-7.4z"/><path class="c20" d="M410.9 120.7l2.9 8.3 .5 4.2-2.9-8.5z"/><path class="c21" d="M410.3 116.8l2.9 8 .6 4.2-2.9-8.3z"/><path class="c22" d="M409.8 112.8l2.9 7.7 .5 4.3-2.9-8z"/><path class="c23" d="M409.2 108.8l2.9 7.5 .6 4.2-2.9-7.7z"/><path class="c25" d="M408.7 104.9l2.9 7.2 .5 4.2-2.9-7.5z"/><path class="c17" d="M413.8 129l2.9 8.2 .6 4.5-3-8.5z"/><path class="c19" d="M413.2 124.8l3 7.9 .5 4.5-2.9-8.2z"/><path class="c20" d="M412.7 120.5l2.9 7.8 .6 4.4-3-7.9z"/><path class="c21" d="M412.1 116.3l3 7.5 .5 4.5-2.9-7.8z"/><path class="c23" d="M411.6 112.1l2.9 7.2 .6 4.5-3-7.5z"/><path class="c15" d="M416.7 137.2l2.9 8.2 .6 4.7-2.9-8.4z"/><path class="c16" d="M416.2 132.7l2.9 8 .5 4.7-2.9-8.2z"/><path class="c18" d="M415.6 128.3l2.9 7.7 .6 4.7-2.9-8z"/><path class="c19" d="M415.1 123.8l2.9 7.5 .5 4.7-2.9-7.7z"/><path class="c21" d="M414.5 119.3l2.9 7.3 .6 4.7-2.9-7.5z"/><path class="c13" d="M419.6 145.4l3 8.3 .5 4.9-2.9-8.5z"/><path class="c14" d="M419.1 140.7l2.9 8 .6 5-3-8.3z"/><path class="c16" d="M418.5 136l3 7.7 .5 5-2.9-8z"/><path class="c17" d="M418 131.3l2.9 7.5 .6 4.9-3-7.7z"/><path class="c19" d="M417.4 126.6l3 7.2 .5 5-2.9-7.5z"/><path class="c28" d="M405.1 94.6l2.9 6.9 .7 3.4-3-7.3z"/><path class="c29" d="M404.4 91.6l2.9 6.5 .7 3.4-2.9-6.9z"/><path class="c30" d="M403.7 88.6l3 6.1 .6 3.4-2.9-6.5z"/><path class="c31" d="M403.1 85.5l2.9 5.8 .7 3.4-3-6.1z"/><path class="c26" d="M408 101.5l2.9 6.9 .7 3.7-2.9-7.2z"/><path class="c27" d="M407.3 98.1l3 6.5 .6 3.8-2.9-6.9z"/><path class="c28" d="M406.7 94.7l2.9 6.2 .7 3.7-3-6.5z"/><path class="c29" d="M406 91.3l2.9 5.9 .7 3.7-2.9-6.2z"/><path class="c24" d="M410.9 108.4l2.9 6.9 .7 4-2.9-7.2z"/><path class="c25" d="M410.3 104.6l2.9 6.6 .6 4.1-2.9-6.9z"/><path class="c27" d="M409.6 100.9l2.9 6.2 .7 4.1-2.9-6.6z"/><path class="c28" d="M408.9 97.2l2.9 5.8 .7 4.1-2.9-6.2z"/><path class="c22" d="M413.8 115.3l3 6.8 .6 4.5-2.9-7.3z"/><path class="c24" d="M413.2 111.2l2.9 6.5 .7 4.4-3-6.8z"/><path class="c25" d="M412.5 107.1l2.9 6.1 .7 4.5-2.9-6.5z"/><path class="c26" d="M411.8 103l3 5.8 .6 4.4-2.9-6.1z"/><path class="c20" d="M416.8 122.1l2.9 6.9 .7 4.8-3-7.2z"/><path class="c22" d="M416.1 117.7l2.9 6.5 .7 4.8-2.9-6.9z"/><path class="c23" d="M415.4 113.2l3 6.2 .6 4.8-2.9-6.5z"/><path class="c25" d="M414.8 108.8l2.9 5.8 .7 4.8-3-6.2z"/><path class="c32" d="M402.4 82.1l2.9 5.7 .7 3.5-2.9-5.8z"/><path class="c33" d="M401.7 78.7l2.9 5.6 .7 3.5-2.9-5.7z"/><path class="c34" d="M401 75.2l3 5.5 .6 3.6-2.9-5.6z"/><path class="c35" d="M400.4 71.8l2.9 5.4 .7 3.5-3-5.5z"/><path class="c30" d="M405.3 87.8l2.9 5.7 .7 3.7-2.9-5.9z"/><path class="c32" d="M404.6 84.3l3 5.5 .6 3.7-2.9-5.7z"/><path class="c33" d="M404 80.7l2.9 5.5 .7 3.6-3-5.5z"/><path class="c34" d="M403.3 77.2l2.9 5.3 .7 3.7-2.9-5.5z"/><path class="c29" d="M408.2 93.5l3 5.7 .6 3.8-2.9-5.8z"/><path class="c30" d="M407.6 89.8l2.9 5.6 .7 3.8-3-5.7z"/><path class="c31" d="M406.9 86.2l2.9 5.5 .7 3.7-2.9-5.6z"/><path class="c32" d="M406.2 82.5l2.9 5.4 .7 3.8-2.9-5.5z"/><path class="c28" d="M411.2 99.2l2.9 5.7 .7 3.9-3-5.8z"/><path class="c29" d="M410.5 95.4l2.9 5.6 .7 3.9-2.9-5.7z"/><path class="c30" d="M409.8 91.7l3 5.4 .6 3.9-2.9-5.6z"/><path class="c31" d="M409.1 87.9l3 5.4 .7 3.8-3-5.4z"/><path class="c26" d="M414.1 104.9l2.9 5.7 .7 4-2.9-5.8z"/><path class="c27" d="M413.4 101l2.9 5.6 .7 4-2.9-5.7z"/><path class="c28" d="M412.8 97.1l2.9 5.5 .6 4-2.9-5.6z"/><path class="c30" d="M412.1 93.3l2.9 5.3 .7 4-2.9-5.5z"/><path class="c36" d="M399.5 69l2.9 5 .9 3.2-2.9-5.4z"/><path class="c37" d="M398.6 66.1l2.9 4.8 .9 3.1-2.9-5z"/><path class="c38" d="M397.7 63.3l3 4.5 .8 3.1-2.9-4.8z"/><path class="c35" d="M402.4 74l2.9 5.1 .9 3.4-2.9-5.3z"/><path class="c36" d="M401.5 70.9l3 4.8 .8 3.4-2.9-5.1z"/><path class="c37" d="M400.7 67.8l2.9 4.5 .9 3.4-3-4.8z"/><path class="c34" d="M405.3 79.1l3 5.1 .8 3.7-2.9-5.4z"/><path class="c35" d="M404.5 75.7l2.9 4.8 .9 3.7-3-5.1z"/><path class="c36" d="M403.6 72.3l2.9 4.5 .9 3.7-2.9-4.8z"/><path class="c32" d="M408.3 84.2l2.9 5.1 .9 4-3-5.4z"/><path class="c33" d="M407.4 80.5l2.9 4.7 .9 4.1-2.9-5.1z"/><path class="c35" d="M406.5 76.8l2.9 4.4 .9 4-2.9-4.7z"/><path class="c31" d="M411.2 89.3l2.9 5 .9 4.3-2.9-5.3z"/><path class="c32" d="M410.3 85.2l2.9 4.8 .9 4.3-2.9-5z"/><path class="c33" d="M409.4 81.2l3 4.5 .8 4.3-2.9-4.8z"/><path class="c13" d="M510.3 112.9l14.1 4.4 1.6 1.9-14-4.5z"/><path class="c15" d="M508.8 109.6l13.9 4.3 1.6 3.4-13.8-4.4z"/><path class="c16" d="M508 106.6l13.9 4.2 .8 3.1-13.9-4.3z"/><path class="c17" d="M507.2 103.5l13.9 4.3 .8 3-13.9-4.2z"/><path class="c18" d="M506.4 100.5l13.9 4.2 .8 3.1-13.9-4.3z"/><path class="c19" d="M505.5 97.4l14 4.2 .8 3.1-13.9-4.2z"/><path class="c21" d="M504.7 94.7l13.9 4.2 .9 2.7-14-4.2z"/><path class="c22" d="M503.9 92.1l13.9 4.1 .8 2.7-13.9-4.2z"/><path class="c23" d="M502 89.7l14.3 4.2 1.7 2.4-14.3-4.3zM500.2 90.4l14.3 4.2 1.8-.7-14.3-4.2z"/><path class="c22" d="M498.6 94.4l14 4.3 1.8-4.2-14-4.1z"/><path class="c21" d="M497.7 97.3l14 4.3 .9-2.9-14-4.3zM496.8 100.2l14 4.3 .9-2.9-14-4.3z"/><path class="c20" d="M495.9 104l13.9 4.3 1-3.8-14-4.3z"/><path class="c18" d="M494.9 107.7l14 4.5 .9-3.9-13.9-4.3z"/><path class="c17" d="M494 110.9l14 4.4 .9-3.1-14-4.5z"/><path class="c16" d="M493.1 114l14 4.5 .9-3.2-14-4.4zM491.1 117.3l14.3 4.7 1.8-3.4-14.2-4.7z"/><path class="c15" d="M489.3 118.4l14.3 4.7 1.8-1.2-14.2-4.7zM487.5 117.4l14.3 4.7 1.8 1-14.3-4.8z"/><path class="c16" d="M485.7 115.8l14.3 4.7 1.8 1.7-14.3-4.8z"/><path class="c17" d="M483.9 113.7l14.3 4.7 1.8 2.1-14.3-4.7z"/><path class="c18" d="M482 111.5l14.4 4.7 1.8 2.2-14.3-4.7z"/><path class="c19" d="M480.1 109.7l14.4 4.7 1.9 1.8-14.4-4.7zM478.3 109.3l14.4 4.7 1.8 .4-14.4-4.7z"/><path class="c20" d="M476.4 109.5l14.4 4.7 1.9-.2-14.4-4.8z"/><path class="c19" d="M474.4 111l14.5 4.8 1.9-1.6-14.4-4.8zM472.5 112.9l14.4 4.8 2-1.9-14.4-4.8zM470.6 112.9l14.4 4.8 2-.1-14.5-4.8zM468.6 111.9l14.5 4.8 1.9 1-14.4-4.8z"/><path class="c20" d="M466.7 110.9l14.5 4.9 1.9 .9-14.5-4.8z"/><path class="c21" d="M464.7 110.2l14.5 4.8 2 .8-14.5-4.9zM462.7 110.1l14.5 4.9 2 0-14.5-4.8zM460.7 109.3l14.5 5.7 2 0-14.5-4.9zM458.7 110.6l14.5 5.4 2-1-14.5-5.7zM456.7 112.6l14.5 4.6 2-1.2-14.5-5.5zM454.6 114.6l14.6 3.7 2-1.2-14.5-4.6zM452.6 116.9l14.5 2.2 2.1-.8-14.6-3.7z"/><path class="c20" d="M450.5 118.8l14.6 1.1 2.1-.8-14.6-2.2zM448.6 120.5l14.3-.2 2-.5-14.2-1zM446.5 122.2l7.2-.7 2-1.1-7.1 .1z"/><path class="c21" d="M453.7 121.5l7.1-.6 2.1-.6-7.2 .1z"/><path class="c20" d="M444.4 124.2l7.2-1.2 2.1-1.5-7.2 .7zM451.6 123l7.1-1.3 2.1-.8-7.1 .6z"/><path class="c19" d="M442.4 127.7l7.1-2.2 2.1-2.5-7.2 1.2z"/><path class="c20" d="M449.5 125.5l7.1-2.2 2.1-1.6-7.1 1.3z"/><path class="c18" d="M440.3 133.3l4.7-2.4 2.1-4.6-4.7 1.4z"/><path class="c19" d="M445 130.9l4.7-2.3 2.1-3.8-4.7 1.5z"/><path class="c20" d="M449.7 128.6l4.8-2.3 2.1-3-4.8 1.5z"/><path class="c17" d="M439.3 137.6l4.7-2.9 1-3.8-4.7 2.4z"/><path class="c15" d="M438.2 141.9l4.8-3.4 1-3.8-4.7 2.9z"/><path class="c18" d="M444 134.7l4.7-2.9 1-3.2-4.7 2.3z"/><path class="c17" d="M443 138.5l4.7-3.5 1-3.2-4.7 2.9z"/><path class="c19" d="M448.7 131.8l4.7-2.9 1.1-2.6-4.8 2.3z"/><path class="c18" d="M447.7 135l4.7-3.4 1-2.7-4.7 2.9z"/><path class="c14" d="M437.6 145.6l3.5-2.8 .7-3.5-3.6 2.6z"/><path class="c13" d="M436.9 149.4l3.5-3.1 .7-3.5-3.5 2.8z"/><path class="c12" d="M436.2 153.1l3.5-3.4 .7-3.4-3.5 3.1z"/><path class="c15" d="M441.1 142.8l3.5-2.8 .7-3.2-3.5 2.5z"/><path class="c14" d="M440.4 146.3l3.5-3.1 .7-3.2-3.5 2.8z"/><path class="c13" d="M439.7 149.7l3.6-3.3 .6-3.2-3.5 3.1z"/><path class="c17" d="M444.6 140l3.6-2.9 .6-2.9-3.5 2.6z"/><path class="c16" d="M443.9 143.2l3.6-3.2 .7-2.9-3.6 2.9z"/><path class="c15" d="M443.3 146.4l3.5-3.4 .7-3-3.6 3.2z"/><path class="c18" d="M448.2 137.1l3.5-2.8 .7-2.7-3.6 2.6z"/><path class="c17" d="M447.5 140l3.5-3.1 .7-2.6-3.5 2.8z"/><path class="c16" d="M446.8 143l3.5-3.4 .7-2.7-3.5 3.1z"/><path class="c11" d="M435.6 157.4l2.8-2.9 .6-4.1-2.8 2.7z"/><path class="c10" d="M434.9 161.7l2.8-3.1 .7-4.1-2.8 2.9z"/><path class="c8" d="M434.3 166l2.7-3.4 .7-4-2.8 3.1z"/><path class="c12" d="M438.4 154.5l2.8-2.9 .7-3.9-2.9 2.7z"/><path class="c11" d="M437.7 158.6l2.8-3.2 .7-3.8-2.8 2.9z"/><path class="c10" d="M437 162.6l2.8-3.3 .7-3.9-2.8 3.2z"/><path class="c13" d="M441.2 151.6l2.8-3 .7-3.6-2.8 2.7z"/><path class="c12" d="M440.5 155.4l2.8-3.1 .7-3.7-2.8 3z"/><path class="c11" d="M439.8 159.3l2.8-3.4 .7-3.6-2.8 3.1z"/><path class="c14" d="M444 148.6l2.8-2.9 .7-3.4-2.8 2.7z"/><path class="c13" d="M443.3 152.3l2.8-3.2 .7-3.4-2.8 2.9z"/><path class="c12" d="M442.6 155.9l2.8-3.3 .7-3.5-2.8 3.2z"/><path class="c15" d="M446.8 145.7l2.8-2.9 .7-3.2-2.8 2.7zM446.1 149.1l2.8-3.1 .7-3.2-2.8 2.9z"/><path class="c14" d="M445.4 152.6l2.8-3.4 .7-3.2-2.8 3.1z"/><path class="c7" d="M433.6 170l2.8-3.4 .6-4-2.7 3.4z"/><path class="c6" d="M432.9 174l2.8-3.5 .7-3.9-2.8 3.4z"/><path class="c5" d="M432.3 178l2.7-3.5 .7-4-2.8 3.5z"/><path class="c8" d="M436.4 166.6l2.8-3.4 .6-3.9-2.8 3.3z"/><path class="c7" d="M435.7 170.5l2.8-3.4 .7-3.9-2.8 3.4z"/><path class="c6" d="M435 174.5l2.8-3.5 .7-3.9-2.8 3.4z"/><path class="c10" d="M439.2 163.2l2.8-3.4 .6-3.9-2.8 3.4z"/><path class="c9" d="M438.5 167.1l2.8-3.4 .7-3.9-2.8 3.4z"/><path class="c8" d="M437.8 171l2.8-3.4 .7-3.9-2.8 3.4z"/><path class="c11" d="M442 159.8l2.7-3.4 .7-3.8-2.8 3.3z"/><path class="c10" d="M441.3 163.7l2.8-3.5 .6-3.8-2.7 3.4z"/><path class="c9" d="M440.6 167.6l2.8-3.5 .7-3.9-2.8 3.5z"/><path class="c13" d="M444.7 156.4l2.8-3.4 .7-3.8-2.8 3.4z"/><path class="c11" d="M444.1 160.2l2.7-3.4 .7-3.8-2.8 3.4z"/><path class="c10" d="M443.4 164.1l2.8-3.5 .6-3.8-2.7 3.4z"/><path class="c4" d="M431.6 180.6l2.8-3.2 .6-2.9-2.7 3.5z"/><path class="c3" d="M430.9 183.1l2.8-2.8 .7-2.9-2.8 3.2z"/><path class="c2" d="M430.2 185.7l2.8-2.6 .7-2.8-2.8 2.8z"/><path class="c5" d="M434.4 177.4l2.7-3.2 .7-3.2-2.8 3.5z"/><path class="c4" d="M433.7 180.3l2.8-2.9 .6-3.2-2.7 3.2z"/><path class="c3" d="M433 183.1l2.8-2.6 .7-3.1-2.8 2.9z"/><path class="c7" d="M437.1 174.2l2.8-3.2 .7-3.4-2.8 3.4z"/><path class="c6" d="M436.5 177.4l2.7-2.9 .7-3.5-2.8 3.2z"/><path class="c5" d="M435.8 180.5l2.7-2.6 .7-3.4-2.7 2.9z"/><path class="c8" d="M439.9 171l2.8-3.2 .7-3.7-2.8 3.5z"/><path class="c7" d="M439.2 174.5l2.8-2.9 .7-3.8-2.8 3.2z"/><path class="c6" d="M438.5 177.9l2.8-2.6 .7-3.7-2.8 2.9z"/><path class="c9" d="M442.7 167.8l2.8-3.1 .7-4.1-2.8 3.5z"/><path class="c8" d="M442 171.6l2.8-2.9 .7-4-2.8 3.1z"/><path class="c7" d="M441.3 175.3l2.8-2.6 .7-4-2.8 2.9z"/><path class="c2" d="M429.1 185.8l3.5-2.1 1.1-1.2-3.5 3.2zM428 185.9l3.5-1 1.1-1.2-3.5 2.1z"/><path class="c3" d="M432.6 183.7l3.5-2.1 1.1-2.4-3.5 3.3zM431.5 184.9l3.5-1 1.1-2.3-3.5 2.1z"/><path class="c5" d="M436.1 181.6l3.5-2.2 1-3.4-3.4 3.2z"/><path class="c4" d="M435 183.9l3.5-1 1.1-3.5-3.5 2.2z"/><path class="c6" d="M439.6 179.4l3.5-2.1 1-4.6-3.5 3.3z"/><path class="c5" d="M438.5 182.9l3.5-1 1.1-4.6-3.5 2.1z"/><path class="c3" d="M427.2 182.7l7.1-.1 .7 1.3-7 2zM426.5 179.5l7 1.8 .8 1.3-7.1 .1z"/><path class="c4" d="M425.7 176.4l7.1 3.7 .7 1.2-7-1.8zM434.3 182.6l7-.1 .7-.6-7 2zM433.5 181.3l7.1 1.9 .7-.7-7 .1zM432.8 180.1l7 3.7 .8-.6-7.1-1.9z"/><path class="c5" d="M425 171.9l4.8 3.3 .6 3.6-4.7-2.4z"/><path class="c7" d="M424.4 167.5l4.8 4 .6 3.7-4.8-3.3z"/><path class="c8" d="M423.7 163.1l4.8 4.7 .7 3.7-4.8-4z"/><path class="c10" d="M423.1 158.6l4.8 5.5 .6 3.7-4.8-4.7z"/><path class="c5" d="M429.8 175.2l4.7 3.2 .6 2.9-4.7-2.5z"/><path class="c6" d="M429.2 171.5l4.7 4 .6 2.9-4.7-3.2z"/><path class="c7" d="M428.5 167.8l4.8 4.8 .6 2.9-4.7-4z"/><path class="c8" d="M427.9 164.1l4.8 5.6 .6 2.9-4.8-4.8z"/><path class="c5" d="M434.5 178.4l4.8 3.3 .5 2.1-4.7-2.5z"/><path class="c6" d="M433.9 175.5l4.8 4 .6 2.2-4.8-3.3z"/><path class="c7" d="M433.3 172.6l4.8 4.8 .6 2.1-4.8-4zM432.7 169.7l4.8 5.5 .6 2.2-4.8-4.8z"/><path class="c11" d="M422.6 153.7l3.6 4.5 .5 4.6-3.6-4.2z"/><path class="c13" d="M422 148.7l3.6 4.9 .6 4.6-3.6-4.5z"/><path class="c14" d="M421.5 143.7l3.6 5.3 .5 4.6-3.6-4.9z"/><path class="c16" d="M420.9 138.8l3.7 5.5 .5 4.7-3.6-5.3z"/><path class="c17" d="M420.4 133.8l3.6 5.9 .6 4.6-3.7-5.5z"/><path class="c10" d="M426.2 158.2l3.6 4.5 .5 4.2-3.6-4.1z"/><path class="c12" d="M425.6 153.6l3.7 4.8 .5 4.3-3.6-4.5z"/><path class="c13" d="M425.1 149l3.6 5.2 .6 4.2-3.7-4.8z"/><path class="c14" d="M424.6 144.3l3.6 5.6 .5 4.3-3.6-5.2z"/><path class="c16" d="M424 139.7l3.7 6 .5 4.2-3.6-5.6z"/><path class="c9" d="M429.8 162.7l3.6 4.5 .5 3.9-3.6-4.2z"/><path class="c11" d="M429.3 158.4l3.6 4.9 .5 3.9-3.6-4.5z"/><path class="c12" d="M428.7 154.2l3.7 5.2 .5 3.9-3.6-4.9z"/><path class="c13" d="M428.2 149.9l3.7 5.6 .5 3.9-3.7-5.2z"/><path class="c14" d="M427.7 145.7l3.7 5.9 .5 3.9-3.7-5.6z"/><path class="c8" d="M433.4 167.2l3.6 4.5 .5 3.5-3.6-4.1z"/><path class="c9" d="M432.9 163.3l3.6 4.8 .5 3.6-3.6-4.5z"/><path class="c11" d="M432.4 159.4l3.6 5.2 .5 3.5-3.6-4.8z"/><path class="c12" d="M431.9 155.5l3.6 5.6 .5 3.5-3.6-5.2z"/><path class="c13" d="M431.4 151.6l3.6 5.9 .5 3.6-3.6-5.6z"/><path class="c19" d="M419.7 129l3.7 5.9 .6 4.8-3.6-5.9z"/><path class="c20" d="M419 124.2l3.7 5.8 .7 4.9-3.7-5.9z"/><path class="c22" d="M418.4 119.4l3.6 5.8 .7 4.8-3.7-5.8z"/><path class="c23" d="M417.7 114.6l3.7 5.8 .6 4.8-3.6-5.8z"/><path class="c17" d="M423.4 134.9l3.6 5.9 .7 4.9-3.7-6z"/><path class="c19" d="M422.7 130l3.7 5.9 .6 4.9-3.6-5.9z"/><path class="c20" d="M422 125.2l3.7 5.8 .7 4.9-3.7-5.9z"/><path class="c22" d="M421.4 120.4l3.7 5.7 .6 4.9-3.7-5.8z"/><path class="c16" d="M427 140.8l3.7 5.9 .7 4.9-3.7-5.9z"/><path class="c17" d="M426.4 135.9l3.7 5.8 .6 5-3.7-5.9z"/><path class="c19" d="M425.7 131l3.7 5.8 .7 4.9-3.7-5.8z"/><path class="c21" d="M425.1 126.1l3.7 5.8 .6 4.9-3.7-5.8z"/><path class="c14" d="M430.7 146.7l3.7 5.9 .6 4.9-3.6-5.9z"/><path class="c16" d="M430.1 141.7l3.6 5.9 .7 5-3.7-5.9z"/><path class="c18" d="M429.4 136.8l3.7 5.8 .6 5-3.6-5.9z"/><path class="c19" d="M428.8 131.9l3.7 5.7 .6 5-3.7-5.8z"/><path class="c25" d="M417 110.6l3.7 5.7 .7 4.1-3.7-5.8z"/><path class="c26" d="M416.3 106.6l3.8 5.7 .6 4-3.7-5.7z"/><path class="c27" d="M415.7 102.6l3.7 5.6 .7 4.1-3.8-5.7z"/><path class="c28" d="M415 98.6l3.7 5.6 .7 4-3.7-5.6z"/><path class="c23" d="M420.7 116.3l3.7 5.7 .7 4.1-3.7-5.7z"/><path class="c25" d="M420.1 112.3l3.7 5.6 .6 4.1-3.7-5.7z"/><path class="c26" d="M419.4 108.2l3.7 5.6 .7 4.1-3.7-5.6z"/><path class="c27" d="M418.7 104.2l3.7 5.5 .7 4.1-3.7-5.6z"/><path class="c22" d="M424.4 122l3.7 5.7 .7 4.2-3.7-5.8z"/><path class="c23" d="M423.8 117.9l3.7 5.7 .6 4.1-3.7-5.7z"/><path class="c24" d="M423.1 113.8l3.7 5.6 .7 4.2-3.7-5.7z"/><path class="c26" d="M422.4 109.7l3.8 5.6 .6 4.1-3.7-5.6z"/><path class="c21" d="M428.1 127.7l3.7 5.7 .7 4.2-3.7-5.7z"/><path class="c22" d="M427.5 123.6l3.7 5.6 .6 4.2-3.7-5.7z"/><path class="c23" d="M426.8 119.4l3.7 5.6 .7 4.2-3.7-5.6z"/><path class="c24" d="M426.2 115.3l3.7 5.5 .6 4.2-3.7-5.6z"/><path class="c30" d="M414.1 94.3l3.7 5.4 .9 4.5-3.7-5.6z"/><path class="c31" d="M413.2 90l3.8 5.2 .8 4.5-3.7-5.4z"/><path class="c32" d="M412.4 85.7l3.7 5.1 .9 4.4-3.8-5.2z"/><path class="c28" d="M417.8 99.7l3.8 5.4 .8 4.6-3.7-5.5z"/><path class="c30" d="M417 95.2l3.7 5.3 .9 4.6-3.8-5.4z"/><path class="c31" d="M416.1 90.8l3.7 5 .9 4.7-3.7-5.3z"/><path class="c27" d="M421.6 105.1l3.7 5.4 .9 4.8-3.8-5.6z"/><path class="c29" d="M420.7 100.5l3.7 5.2 .9 4.8-3.7-5.4z"/><path class="c30" d="M419.8 95.8l3.8 5.1 .8 4.8-3.7-5.2z"/><path class="c26" d="M425.3 110.5l3.7 5.3 .9 5-3.7-5.5z"/><path class="c27" d="M424.4 105.7l3.8 5.2 .8 4.9-3.7-5.3z"/><path class="c29" d="M423.6 100.9l3.7 5 .9 5-3.8-5.2z"/><path class="c13" d="M524.1 117.2l14.6 4.2 1.5 1.9-14.4-4.2z"/><path class="c14" d="M522.7 113.9l14.2 4.1 1.6 3.4-14.2-4.1z"/><path class="c16" d="M521.9 110.8l14.3 4.1 .7 3.1-14.2-4.1z"/><path class="c17" d="M521.1 107.8l14.3 4 .8 3.1-14.3-4.1z"/><path class="c18" d="M520.3 104.7l14.3 4 .8 3.1-14.3-4z"/><path class="c19" d="M519.5 101.6l14.3 4 .8 3.1-14.3-4z"/><path class="c20" d="M518.6 98.9l14.4 3.9 .8 2.8-14.3-4z"/><path class="c21" d="M517.8 96.2l14.4 3.9 .8 2.7-14.4-3.9z"/><path class="c22" d="M516 93.8l14.7 4 1.7 2.3-14.7-3.9z"/><path class="c23" d="M514.2 94.5l14.8 4 1.7-.7-14.7-4z"/><path class="c22" d="M512.4 98.7l14.8 4 1.8-4.3-14.7-3.9z"/><path class="c21" d="M511.7 101.6l14.4 4 1-3-14.5-3.9z"/><path class="c20" d="M510.8 104.5l14.4 4.1 .9-3-14.4-4z"/><path class="c19" d="M509.8 108.3l14.5 4.2 .9-3.9-14.4-4.1z"/><path class="c18" d="M508.9 112.2l14.4 4.1 1-3.8-14.5-4.2z"/><path class="c17" d="M508 115.3l14.4 4.3 .9-3.3-14.4-4.1z"/><path class="c16" d="M507.1 118.5l14.4 4.3 .9-3.2-14.4-4.3z"/><path class="c15" d="M505.1 121.9l14.7 4.4 1.8-3.5-14.7-4.3zM503.3 123l14.7 4.5 1.8-1.2-14.7-4.5zM501.5 122.1l14.8 4.4 1.7 1-14.7-4.5z"/><path class="c16" d="M499.7 120.4l14.8 4.5 1.8 1.7-14.8-4.5z"/><path class="c17" d="M497.9 118.3l14.8 4.5 1.8 2.1-14.8-4.5z"/><path class="c18" d="M496.1 116.1l14.8 4.5 1.8 2.2-14.8-4.5zM494.2 114.3l14.9 4.4 1.8 1.9-14.8-4.5z"/><path class="c19" d="M492.4 113.9l14.8 4.4 1.9 .4-14.9-4.4zM490.5 114.1l14.9 4.5 1.8-.3-14.8-4.4zM488.6 115.7l14.9 4.6 1.9-1.7-14.9-4.5zM486.7 117.6l14.9 4.6 1.9-2-14.9-4.5zM484.7 117.6l15 4.6 1.9-.1-14.9-4.5zM482.8 116.6l15 4.6 1.9 1-15-4.6z"/><path class="c20" d="M480.9 115.7l15 4.6 1.9 .9-15-4.6zM478.9 114.9l15 4.6 1.9 .8-14.9-4.6z"/><path class="c21" d="M476.9 114.9l15.1 4.6 1.9 0-15-4.6zM474.9 114.9l15.1 5.3 2-.7-15.1-4.6zM472.9 115.9l15.1 5.3 2-1-15-5.3zM470.9 117.1l15.1 5.3 2-1.2-15-5.3zM468.9 118.2l15.1 5.3 2-1.1-15.1-5.4zM466.9 119l15 5.5 2.1-1-15.1-5.3zM464.8 119.8l15.1 5.5 2-.9-15-5.4zM462.7 120.2l15.1 5.7 2.1-.6-15.1-5.5zM460.6 120.9l15.2 5.6 2-.6-15.1-5.7zM458.5 121.7l15.2 5.3 2.1-.6-15.1-5.6zM456.4 123.3l15.2 4 2.1-.3-15.1-5.3zM454.3 126.3l15.2 1.9 2.1-.9-15.1-4z"/><path class="c20" d="M452.4 131.6l7.4-.6 2.1-3.8-7.4-.9zM459.8 131l7.4-.7 2.1-2.2-7.4-.9z"/><path class="c19" d="M451.3 135.6l7.4-1.4 1.1-3.2-7.4 .6z"/><path class="c18" d="M450.3 139.6l7.4-2.2 1-3.2-7.4 1.4z"/><path class="c20" d="M458.7 134.2l7.4-1.4 1.1-2.5-7.4 .7z"/><path class="c19" d="M457.7 137.4l7.4-2.1 1-2.5-7.4 1.4z"/><path class="c16" d="M449.2 144.4l5-1.8 1-4.4-4.9 1.4z"/><path class="c15" d="M448.2 149.2l4.9-2.2 1.1-4.4-5 1.8z"/><path class="c17" d="M454.2 142.6l4.9-1.9 1-4-4.9 1.5z"/><path class="c16" d="M453.1 147l4.9-2.2 1.1-4.1-4.9 1.9z"/><path class="c18" d="M459.1 140.7l4.9-1.8 1.1-3.6-5 1.4z"/><path class="c17" d="M458 144.8l4.9-2.3 1.1-3.6-4.9 1.8z"/><path class="c14" d="M447.5 153l4.9-2.6 .7-3.4-4.9 2.2z"/><path class="c13" d="M446.8 156.8l4.9-2.9 .7-3.5-4.9 2.6z"/><path class="c12" d="M446.2 160.6l4.8-3.3 .7-3.4-4.9 2.9z"/><path class="c15" d="M452.4 150.4l4.9-2.6 .7-3-4.9 2.2z"/><path class="c14" d="M451.7 153.9l4.9-3 .7-3.1-4.9 2.6z"/><path class="c13" d="M451 157.3l4.9-3.3 .7-3.1-4.9 3z"/><path class="c16" d="M457.3 147.8l4.9-2.5 .7-2.8-4.9 2.3zM456.6 150.9l4.9-2.9 .7-2.7-4.9 2.5z"/><path class="c15" d="M455.9 154l4.9-3.3 .7-2.7-4.9 2.9z"/><path class="c11" d="M445.5 164.7l3.6-2.7 .7-3.9-3.6 2.5z"/><path class="c9" d="M444.8 168.7l3.6-2.8 .7-3.9-3.6 2.7z"/><path class="c8" d="M444.1 172.7l3.6-3 .7-3.8-3.6 2.8z"/><path class="c12" d="M449.1 162l3.7-2.6 .7-3.7-3.7 2.4z"/><path class="c11" d="M448.4 165.9l3.7-2.9 .7-3.6-3.7 2.6z"/><path class="c10" d="M447.7 169.7l3.7-3 .7-3.7-3.7 2.9z"/><path class="c13" d="M452.8 159.4l3.6-2.7 .8-3.5-3.7 2.5z"/><path class="c12" d="M452.1 163l3.6-2.8 .7-3.5-3.6 2.7z"/><path class="c11" d="M451.4 166.7l3.6-3 .7-3.5-3.6 2.8z"/><path class="c14" d="M456.4 156.7l3.7-2.6 .7-3.4-3.6 2.5z"/><path class="c13" d="M455.7 160.2l3.7-2.8 .7-3.3-3.7 2.6z"/><path class="c12" d="M455 163.7l3.7-3 .7-3.3-3.7 2.8z"/><path class="c7" d="M443.1 177.3l3.6-2.9 1-4.7-3.6 3z"/><path class="c6" d="M442 181.9l3.7-2.8 1-4.7-3.6 2.9z"/><path class="c8" d="M446.7 174.4l3.6-2.9 1.1-4.8-3.7 3z"/><path class="c7" d="M445.7 179.1l3.6-2.8 1-4.8-3.6 2.9z"/><path class="c10" d="M450.3 171.5l3.7-2.9 1-4.9-3.6 3z"/><path class="c8" d="M449.3 176.3l3.6-2.8 1.1-4.9-3.7 2.9z"/><path class="c11" d="M454 168.6l3.6-2.9 1.1-5-3.7 3z"/><path class="c10" d="M452.9 173.5l3.7-2.9 1-4.9-3.6 2.9z"/><path class="c5" d="M440.9 182.8l3.7-2.2 1.1-1.5-3.7 2.8zM439.8 183.8l3.7-1.6 1.1-1.6-3.7 2.2z"/><path class="c6" d="M444.6 180.6l3.6-2.2 1.1-2.1-3.6 2.8zM443.5 182.2l3.6-1.7 1.1-2.1-3.6 2.2z"/><path class="c7" d="M448.2 178.4l3.7-2.2 1-2.7-3.6 2.8zM447.1 180.5l3.7-1.6 1.1-2.7-3.7 2.2z"/><path class="c9" d="M451.9 176.2l3.6-2.2 1.1-3.4-3.7 2.9z"/><path class="c8" d="M450.8 178.9l3.6-1.6 1.1-3.3-3.6 2.2z"/><path class="c5" d="M438.7 179.5l4.9-.8 1.1 2.9-4.9 2.2z"/><path class="c7" d="M437.5 175.2l4.9 .7 1.2 2.8-4.9 .8zM443.6 178.7l4.8-.7 1.2 1.5-4.9 2.1zM442.4 175.9l4.9 .6 1.1 1.5-4.8 .7z"/><path class="c8" d="M448.4 178l4.9-.8 1.1 .1-4.8 2.2zM447.3 176.5l4.9 .6 1.1 .1-4.9 .8zM436.9 170.8l14.7 3.9 .6 2.4-14.7-1.9z"/><path class="c9" d="M436.3 166.4l14.8 5.8 .5 2.5-14.7-3.9z"/><path class="c11" d="M435.7 162l14.8 7.8 .6 2.4-14.8-5.8z"/><path class="c12" d="M435 157.5l14.9 9.8 .6 2.5-14.8-7.8z"/><path class="c13" d="M434.4 152.6l7.4 5.3 .7 4.5-7.5-4.9z"/><path class="c15" d="M433.7 147.6l7.5 5.7 .6 4.6-7.4-5.3z"/><path class="c16" d="M433.1 142.6l7.5 6.2 .6 4.5-7.5-5.7z"/><path class="c18" d="M432.5 137.6l7.5 6.7 .6 4.5-7.5-6.2z"/><path class="c13" d="M441.8 157.9l7.5 5.3 .6 4.1-7.4-4.9z"/><path class="c14" d="M441.2 153.3l7.5 5.8 .6 4.1-7.5-5.3z"/><path class="c15" d="M440.6 148.8l7.5 6.2 .6 4.1-7.5-5.8z"/><path class="c17" d="M440 144.3l7.5 6.6 .6 4.1-7.5-6.2z"/><path class="c19" d="M431.8 133.4l7.5 6.8 .7 4.1-7.5-6.7z"/><path class="c21" d="M431.2 129.2l7.5 6.9 .6 4.1-7.5-6.8z"/><path class="c22" d="M430.5 125l7.6 7 .6 4.1-7.5-6.9z"/><path class="c23" d="M429.9 120.8l7.6 7.1 .6 4.1-7.6-7z"/><path class="c18" d="M439.3 140.2l7.6 6.7 .6 4-7.5-6.6z"/><path class="c19" d="M438.7 136.1l7.6 6.8 .6 4-7.6-6.7z"/><path class="c21" d="M438.1 132l7.6 7 .6 3.9-7.6-6.8z"/><path class="c22" d="M437.5 127.9l7.5 7.1 .7 4-7.6-7z"/><path class="c25" d="M429 115.8l7.6 7.2 .9 4.9-7.6-7.1z"/><path class="c26" d="M428.2 110.9l7.6 7.2 .8 4.9-7.6-7.2z"/><path class="c28" d="M427.3 105.9l7.6 7.4 .9 4.8-7.6-7.2z"/><path class="c23" d="M436.6 123l7.6 7.2 .8 4.8-7.5-7.1z"/><path class="c25" d="M435.8 118.1l7.6 7.3 .8 4.8-7.6-7.2z"/><path class="c26" d="M434.9 113.3l7.7 7.3 .8 4.8-7.6-7.3z"/><path class="c13" d="M538.4 121.3l14.9 4.2 1.6 1.9-14.9-4.2z"/><path class="c14" d="M536.9 118l14.8 4.1 1.5 3.4-14.7-4.1z"/><path class="c16" d="M536.2 114.9l14.7 4 .8 3.2-14.8-4.1z"/><path class="c17" d="M535.4 111.8l14.8 4 .7 3.1-14.7-4z"/><path class="c18" d="M534.6 108.7l14.8 3.9 .8 3.2-14.8-4z"/><path class="c19" d="M533.8 105.6l14.9 3.9 .7 3.1-14.8-3.9z"/><path class="c20" d="M533 102.8l14.9 3.9 .8 2.8-14.9-3.9z"/><path class="c21" d="M532.2 100.1l14.9 3.8 .8 2.8-14.9-3.9z"/><path class="c22" d="M530.4 97.7l15.3 3.9 1.6 2.4-15.2-4z"/><path class="c23" d="M528.7 98.4l15.3 3.9 1.7-.7-15.3-3.9z"/><path class="c22" d="M526.9 102.6l15.2 4 1.9-4.3-15.3-4z"/><path class="c21" d="M526.1 105.6l15 4 .9-3.1-14.9-3.9z"/><path class="c20" d="M525.2 108.6l15 4 .9-3-15-4z"/><path class="c19" d="M524.3 112.5l14.9 4.1 1-4-15-4z"/><path class="c18" d="M523.3 116.3l15 4.2 .9-3.9-14.9-4.1z"/><path class="c17" d="M522.4 119.6l14.9 4.2 1-3.3-15-4.2z"/><path class="c16" d="M521.5 122.8l14.9 4.3 .9-3.3-14.9-4.2z"/><path class="c15" d="M519.5 126.2l15.2 4.5 1.8-3.6-15.1-4.3zM517.7 127.4l15.2 4.5 1.8-1.3-15.2-4.4zM516 126.5l15.2 4.4 1.7 .9-15.2-4.4z"/><path class="c16" d="M514.2 124.8l15.3 4.5 1.7 1.6-15.2-4.4zM512.4 122.7l15.3 4.4 1.8 2.2-15.3-4.5z"/><path class="c17" d="M510.6 120.5l15.4 4.4 1.7 2.3-15.3-4.5z"/><path class="c18" d="M508.8 118.6l15.4 4.5 1.7 1.8-15.3-4.4z"/><path class="c19" d="M507 118.2l15.3 4.5 1.9 .4-15.4-4.4zM505.1 118.5l15.4 4.5 1.8-.3-15.3-4.5zM503.2 120.2l15.4 4.5 1.9-1.8-15.4-4.4zM501.3 122.1l15.4 4.5 1.9-2-15.4-4.5zM499.4 122.1l15.4 4.6 1.9-.1-15.4-4.6zM497.5 121.1l15.5 4.6 1.8 1-15.4-4.6z"/><path class="c20" d="M495.6 120.2l15.5 4.6 1.9 .9-15.5-4.6zM493.6 119.4l15.6 4.6 1.9 .8-15.5-4.6z"/><path class="c21" d="M491.7 119.4l15.5 4.6 2 0-15.6-4.6zM489.7 120.1l15.6 4.7 1.9-.8-15.5-4.6zM487.7 121.1l15.6 4.9 2-1.2-15.6-4.7zM485.7 122.3l15.6 5.2 2-1.5-15.6-4.9z"/><path class="c20" d="M483.7 123.4l15.6 5.4 2-1.3-15.6-5.2zM481.7 124.3l15.6 5.8 2-1.3-15.6-5.4zM479.6 125.2l15.6 6 2.1-1.1-15.6-5.8zM477.6 125.8l15.6 6.5 2-1.1-15.6-6zM475.5 126.3l15.6 6.9 2.1-1-15.6-6.4zM473.4 126.9l15.7 7.1 2-.8-15.6-6.9zM471.3 127.2l15.7 7.5 2.1-.8-15.7-7zM469.2 128.1l15.7 7.5 2.1-.9-15.7-7.5zM467.1 130.3l15.7 7.1 2.1-1.8-15.7-7.6zM464.9 135.3l15.7 4.9 2.2-2.8-15.7-7.2z"/><path class="c19" d="M464 138.9l15.4 3.3 1.1-2.1-15.4-4.8z"/><path class="c18" d="M462.9 142.5l15.5 1.7 1-2-15.4-3.3z"/><path class="c17" d="M461.9 146.6l7.7 .3 1-3.5-7.7-.9z"/><path class="c16" d="M460.8 150.7l7.7-.2 1.1-3.6-7.7-.3z"/><path class="c18" d="M469.6 146.9l7.7 .4 1.1-3.1-7.8-.8z"/><path class="c17" d="M468.5 150.5l7.7-.2 1.1-3-7.7-.4z"/><path class="c15" d="M459.8 155.7l7.6-.8 1.1-4.4-7.7 .2z"/><path class="c14" d="M458.7 160.7l7.7-1.5 1-4.3-7.6 .8z"/><path class="c16" d="M467.4 154.9l7.7-.9 1.1-3.7-7.7 .2z"/><path class="c15" d="M466.4 159.2l7.6-1.4 1.1-3.8-7.7 .9z"/><path class="c12" d="M457.6 165.7l5.1-1.5 1.1-4.5-5.1 1z"/><path class="c11" d="M456.6 170.6l5.1-1.9 1-4.5-5.1 1.5z"/><path class="c13" d="M462.7 164.2l5.1-1.5 1.1-4-5.1 1z"/><path class="c12" d="M461.7 168.7l5.1-2 1-4-5.1 1.5z"/><path class="c14" d="M467.8 162.7l5.1-1.4 1.1-3.5-5.1 .9z"/><path class="c13" d="M466.8 166.7l5.1-1.9 1-3.5-5.1 1.4z"/><path class="c10" d="M455.5 174l5.1-2.1 1.1-3.2-5.1 1.9z"/><path class="c9" d="M454.4 177.3l5.1-2.2 1.1-3.2-5.1 2.1z"/><path class="c11" d="M460.6 171.9l5.1-2.1 1.1-3.1-5.1 2z"/><path class="c10" d="M459.5 175.1l5.1-2.2 1.1-3.1-5.1 2.1z"/><path class="c12" d="M465.7 169.8l5.1-2 1.1-3-5.1 1.9z"/><path class="c11" d="M464.6 172.9l5.1-2.1 1.1-3-5.1 2z"/><path class="c9" d="M452.2 177.1l5.1-1.6 2.2-.4-5.1 2.2z"/><path class="c10" d="M457.3 175.5l5.1-1.6 2.2-1-5.1 2.2z"/><path class="c11" d="M462.4 173.9l5.1-1.6 2.2-1.5-5.1 2.1z"/><path class="c10" d="M451.4 173.9l7.7-1.5 .7 2.3-7.6 2.4z"/><path class="c11" d="M450.7 170.6l7.6-.5 .8 2.3-7.7 1.5zM449.9 167.3l7.7 .5 .7 2.3-7.6 .5zM459.1 172.4l7.6-1.4 .8 1.3-7.7 2.4z"/><path class="c12" d="M458.3 170.1l7.7-.5 .7 1.4-7.6 1.4zM457.6 167.8l7.7 .4 .7 1.4-7.7 .5z"/><path class="c13" d="M449.3 163.2l15.4 2.6 .6 2.4-15.4-.9z"/><path class="c14" d="M448.7 159.1l15.4 4.2 .6 2.5-15.4-2.6z"/><path class="c15" d="M448.1 155l15.4 5.9 .6 2.4-15.4-4.2z"/><path class="c16" d="M447.5 150.9l15.5 7.5 .5 2.5-15.4-5.9z"/><path class="c17" d="M446.9 146.9l15.5 7.6 .6 3.9-15.5-7.5z"/><path class="c18" d="M446.3 142.9l15.5 7.8 .6 3.8-15.5-7.6z"/><path class="c19" d="M445.7 139l15.5 7.8 .6 3.9-15.5-7.8z"/><path class="c21" d="M445 135l15.6 7.9 .6 3.9-15.5-7.8z"/><path class="c22" d="M444.2 130.2l15.6 7.9 .8 4.8-15.6-7.9z"/><path class="c23" d="M443.4 125.4l15.7 7.8 .7 4.9-15.6-7.9z"/><path class="c25" d="M442.6 120.6l15.7 7.8 .8 4.8-15.7-7.8z"/><path class="c13" d="M553.1 125.4l15.4 4.3 1.5 1.9-15.4-4.3z"/><path class="c14" d="M551.7 122.1l15.2 4.2 1.5 3.4-15.2-4.2z"/><path class="c16" d="M550.9 118.9l15.3 4.2 .7 3.2-15.2-4.2z"/><path class="c17" d="M550.2 115.8l15.3 4.1 .7 3.2-15.3-4.2z"/><path class="c18" d="M549.4 112.6l15.3 4.1 .8 3.2-15.3-4.1z"/><path class="c19" d="M548.7 109.5l15.3 4 .7 3.2-15.3-4.1z"/><path class="c20" d="M547.9 106.7l15.4 4 .7 2.8-15.3-4z"/><path class="c21" d="M547.1 103.9l15.5 4 .7 2.8-15.4-4z"/><path class="c22" d="M545.4 101.5l15.7 4 1.6 2.4-15.7-4z"/><path class="c23" d="M543.7 102.2l15.7 4.1 1.7-.7-15.7-4.1z"/><path class="c22" d="M541.9 106.5l15.7 4.2 1.8-4.4-15.7-4.1z"/><path class="c21" d="M541.1 109.6l15.4 4.1 1-3.1-15.5-4.1z"/><path class="c20" d="M540.2 112.6l15.4 4.2 .9-3.1-15.4-4.1z"/><path class="c19" d="M539.2 116.6l15.4 4.2 1-4-15.4-4.2z"/><path class="c18" d="M538.3 120.5l15.4 4.3 .9-4-15.4-4.2z"/><path class="c17" d="M537.3 123.8l15.4 4.4 1-3.4-15.4-4.3z"/><path class="c16" d="M536.4 127.1l15.4 4.4 .9-3.3-15.4-4.4z"/><path class="c15" d="M534.4 130.6l15.7 4.6 1.8-3.6-15.6-4.6zM532.7 131.8l15.7 4.6 1.7-1.3-15.7-4.6zM530.9 130.8l15.8 4.7 1.7 .9-15.7-4.6z"/><path class="c16" d="M529.2 129.2l15.8 4.6 1.7 1.7-15.8-4.6zM527.4 127.1l15.8 4.6 1.7 2.1-15.7-4.6z"/><path class="c17" d="M525.7 124.8l15.8 4.6 1.7 2.3-15.8-4.6z"/><path class="c18" d="M523.9 123l15.9 4.6 1.7 1.9-15.8-4.6z"/><path class="c19" d="M522.1 122.6l15.9 4.6 1.8 .4-15.9-4.6zM520.2 122.9l15.9 4.6 1.9-.3-15.9-4.6zM518.3 124.6l16 4.7 1.9-1.8-16-4.7zM516.4 126.5l16 4.8 1.9-2.1-16-4.6zM514.5 126.6l16 4.8 1.9-.2-16-4.7zM512.7 125.6l16 4.8 1.8 1-16-4.8z"/><path class="c20" d="M510.8 124.7l16 4.7 1.9 1-16-4.8zM508.9 124l16 4.7 1.9 .7-16-4.7z"/><path class="c21" d="M506.9 123.9l16.1 4.8 1.9 0-16-4.8zM505 124.7l16.1 4.9 1.9-.9-16.1-4.8zM503 125.9l16.1 4.9 2-1.2-16.1-4.9z"/><path class="c20" d="M501 127.4l16.1 4.9 2-1.6-16.1-4.8zM499 128.7l16.1 5.1 2.1-1.5-16.2-4.9zM497 130l16.1 5.3 2.1-1.5-16.2-5.1zM494.9 131.1l16.2 5.7 2.1-1.5-16.2-5.3zM492.9 132.2l16.2 6.1 2-1.5-16.1-5.7zM490.9 133.1l16.1 6.6 2.1-1.5-16.2-6.1zM488.8 133.8l16.2 7.2 2.1-1.4-16.2-6.5zM486.7 134.6l16.2 7.8 2.1-1.4-16.2-7.2zM484.6 135.5l16.2 8.4 2.1-1.5-16.2-7.8z"/><path class="c19" d="M482.5 137.3l16.2 8.3 2.1-1.7-16.2-8.5zM480.5 140.1l16 8.2 2.1-2.8-16-8.1z"/><path class="c18" d="M478.4 144.2l15.9 6.9 2.2-2.8-16-8.2z"/><path class="c17" d="M476.2 150.3l16 4.7 2.1-3.9-15.9-6.9zM475.1 154l16 3.2 1.1-2.2-16-4.7z"/><path class="c16" d="M474 157.8l16 1.5 1.1-2.1-16-3.2z"/><path class="c15" d="M472.9 161.3l8 .1 1.1-2.9-8-.7z"/><path class="c14" d="M471.9 164.8l7.9-.5 1.1-2.9-8-.1z"/><path class="c15" d="M480.9 161.4l8 .2 1.1-2.3-8-.8zM479.8 164.3l8-.5 1.1-2.2-8-.2z"/><path class="c13" d="M469.7 170.8l8-1.6 2.1-4.9-7.9 .5z"/><path class="c14" d="M477.7 169.2l7.9-1.5 2.2-3.9-8 .5z"/><path class="c12" d="M467.5 172.3l8-1.2 2.2-1.9-8 1.6z"/><path class="c13" d="M475.5 171.1l8-1.2 2.1-2.2-7.9 1.5zM465.3 168.2l8-.2 2.2 3.1-8 1.2z"/><path class="c14" d="M473.3 168l8-.2 2.2 2.1-8 1.2zM464.1 163.3l8 .2 1.2 4.5-8 .2z"/><path class="c16" d="M463 158.4l8 .7 1.1 4.4-8-.2z"/><path class="c15" d="M472.1 163.5l8.1 .3 1.1 4-8 .2z"/><path class="c16" d="M471 159.1l8.1 .6 1.1 4.1-8.1-.3z"/><path class="c17" d="M462.2 153.2l16.1 2.7 .8 3.8-16.1-1.3z"/><path class="c19" d="M461.4 148.1l16.2 3.9 .7 3.9-16.1-2.7z"/><path class="c20" d="M460.6 142.9l16.2 5.3 .8 3.8-16.2-3.9z"/><path class="c22" d="M459.8 138.1l16.3 5.7 .7 4.4-16.2-5.3z"/><path class="c23" d="M459.1 133.2l16.2 6.2 .8 4.4-16.3-5.7z"/><path class="c24" d="M458.3 128.4l16.3 6.6 .7 4.4-16.2-6.2z"/><path class="c13" d="M568.2 129.6l16 4.3 1.5 1.9-15.9-4.2z"/><path class="c14" d="M566.9 126.3l15.7 4.1 1.5 3.5-15.7-4.2z"/><path class="c16" d="M566.2 123.1l15.8 4.1 .6 3.2-15.7-4.1z"/><path class="c17" d="M565.5 119.9l15.8 4 .7 3.3-15.8-4.1z"/><path class="c18" d="M564.7 116.7l15.9 4 .7 3.2-15.8-4z"/><path class="c19" d="M564 113.5l15.9 4 .7 3.2-15.9-4z"/><path class="c20" d="M563.3 110.7l15.9 3.9 .7 2.9-15.9-4z"/><path class="c21" d="M562.6 107.9l15.9 3.9 .7 2.8-15.9-3.9z"/><path class="c22" d="M560.8 105.5l16.3 3.9 1.5 2.5-16.2-4z"/><path class="c23" d="M559.1 106.2l16.3 4 1.7-.8-16.3-3.9z"/><path class="c22" d="M557.3 110.6l16.3 4.1 1.8-4.5-16.3-4z"/><path class="c21" d="M556.5 113.7l16 4.1 1-3.2-16-4z"/><path class="c20" d="M555.6 116.8l16 4.1 .9-3.1-16-4.1z"/><path class="c19" d="M554.6 120.8l16 4.2 1-4.1-16-4.1z"/><path class="c18" d="M553.7 124.8l16 4.3 .9-4.1-16-4.2z"/><path class="c17" d="M552.7 128.2l16 4.3 1-3.4-16-4.3z"/><path class="c16" d="M551.8 131.5l15.9 4.4 1-3.4-16-4.3z"/><path class="c15" d="M549.8 135.1l16.3 4.5 1.8-3.7-16.2-4.4zM548.1 136.3l16.2 4.6 1.8-1.3-16.3-4.6zM546.4 135.4l16.3 4.6 1.6 .9-16.2-4.6z"/><path class="c16" d="M544.7 133.7l16.3 4.6 1.7 1.7-16.3-4.6zM543 131.6l16.3 4.5 1.7 2.2-16.3-4.6z"/><path class="c17" d="M541.2 129.4l16.5 4.5 1.6 2.3-16.4-4.6z"/><path class="c18" d="M539.5 127.5l16.4 4.5 1.7 1.9-16.4-4.5z"/><path class="c19" d="M537.7 127.1l16.5 4.6 1.7 .3-16.4-4.5zM535.9 127.4l16.5 4.6 1.8-.3-16.5-4.6zM534 129.2l16.5 4.6 1.9-1.8-16.5-4.6zM532.1 131.2l16.5 4.6 1.9-2-16.5-4.7zM530.3 131.3l16.5 4.7 1.9-.2-16.6-4.7zM528.4 130.3l16.6 4.7 1.8 1-16.5-4.7z"/><path class="c20" d="M526.5 129.3l16.7 4.7 1.8 1-16.6-4.7zM524.7 128.6l16.6 4.7 1.9 .7-16.7-4.7z"/><path class="c21" d="M522.7 128.6l16.7 4.8 1.9-.1-16.6-4.7zM520.8 129.5l16.7 5 1.9-1.2-16.7-4.7zM518.8 130.7l16.8 5.2 1.9-1.4-16.7-5z"/><path class="c20" d="M516.9 132.2l16.7 5.2 2-1.5-16.8-5.3zM514.9 133.7l16.7 5.2 2-1.6-16.7-5.1zM512.9 135.2l16.7 5.4 2-1.7-16.7-5.2zM510.8 136.7l16.8 5.6 2-1.7-16.7-5.4zM508.8 138.2l16.8 5.8 2-1.7-16.7-5.6z"/><path class="c19" d="M506.8 139.6l16.8 5.9 2-1.6-16.8-5.8zM504.7 140.9l16.8 6.1 2.1-1.5-16.8-6zM502.6 142.3l16.9 6.1 2-1.5-16.8-6zM500.6 143.8l16.8 6.3 2.1-1.7-16.8-6.1zM498.5 145.5l16.8 6.8 2.1-2.2-16.8-6.4z"/><path class="c18" d="M496.3 148.3l16.9 6.5 2.1-2.6-16.8-6.7zM494.2 151.1l16.9 6.6 2.1-2.9-16.8-6.5z"/><path class="c17" d="M492 155l16.9 5.6 2.2-2.9-16.9-6.6zM489.9 159.3l16.9 4.7 2.2-3.4-16.9-5.7z"/><path class="c16" d="M487.7 163.8l16.9 2.7 2.2-2.6-16.9-4.6z"/><path class="c15" d="M485.6 167.7l16.7 .6 2.2-1.8-16.7-2.7z"/><path class="c14" d="M483.5 169.9l8.3-.3 2.2-1.6-8.4-.3z"/><path class="c15" d="M491.8 169.6l8.3-.2 2.2-1.1-8.3-.3zM481.3 167.8l8.3-.3 2.2 2.1-8.3 .3z"/><path class="c16" d="M489.6 167.5l8.4-.3 2.1 2.2-8.3 .2zM480.2 163.8l8.3 0 1.1 3.7-8.3 .3z"/><path class="c17" d="M479.1 159.7l8.3 .4 1.1 3.7-8.3 0zM488.5 163.8l8.4 .1 1.1 3.3-8.4 .3z"/><path class="c18" d="M487.4 160.1l8.4 .4 1.1 3.4-8.4-.1z"/><path class="c19" d="M478.3 155.9l16.8 1.3 .7 3.3-16.7-.8z"/><path class="c20" d="M477.6 152l16.8 1.9 .7 3.3-16.8-1.3z"/><path class="c21" d="M476.8 148.2l16.9 2.4 .7 3.3-16.8-1.9z"/><path class="c22" d="M476.1 143.8l16.9 3.6 .7 3.2-16.9-2.4z"/><path class="c23" d="M475.3 139.4l16.9 4.8 .8 3.2-16.9-3.6z"/><path class="c24" d="M474.6 135l16.9 6 .7 3.2-16.9-4.8z"/></g></g>
<path d="M369.5 19.3L375.6 189.5M375.6 189.5L490.8 238.2M490.8 238.2L583.8 182.1M369.5 19.3L366.9 20.4M370.5 47.4L368.0 48.5M371.5 74.8L369.0 75.9M372.5 101.4L369.9 102.5M373.4 127.4L370.9 128.5M374.3 152.8L371.8 153.9M375.2 177.5L372.6 178.6M375.6 189.5L373.4 190.8M401.4 200.4L399.2 201.8M429.1 212.1L426.9 213.5M458.8 224.7L456.6 226.0M490.8 238.2L488.6 239.5M388.3 194.9L387.0 195.7M415.0 206.2L413.7 207.0M443.7 218.3L442.4 219.1M474.5 231.3L473.2 232.1M513.9 224.3L516.3 225.3M544.0 206.1L546.4 207.2M571.2 189.7L573.6 190.7M497.6 234.1L499.0 234.7M529.4 215.0L530.7 215.6M557.9 197.7L559.3 198.3" stroke="#111" stroke-width=".95" fill="none"/>
<text font-family="Liberation Sans, sans-serif" stroke="#000" stroke-width=".45" font-size="10" text-anchor="end" transform="matrix(0.680 -0.294 0.029 0.818 366.3 23.7)">0.0</text>
<text font-family="Liberation Sans, sans-serif" stroke="#000" stroke-width=".45" font-size="10" text-anchor="end" transform="matrix(0.680 -0.294 0.029 0.818 367.3 51.8)">-0.5</text>
<text font-family="Liberation Sans, sans-serif" stroke="#000" stroke-width=".45" font-size="10" text-anchor="end" transform="matrix(0.680 -0.294 0.029 0.818 368.3 79.1)">-1.0</text>
<text font-family="Liberation Sans, sans-serif" stroke="#000" stroke-width=".45" font-size="10" text-anchor="end" transform="matrix(0.680 -0.294 0.029 0.818 369.3 105.8)">-1.5</text>
<text font-family="Liberation Sans, sans-serif" stroke="#000" stroke-width=".45" font-size="10" text-anchor="end" transform="matrix(0.680 -0.294 0.029 0.818 370.2 131.8)">-2.0</text>
<text font-family="Liberation Sans, sans-serif" stroke="#000" stroke-width=".45" font-size="10" text-anchor="end" transform="matrix(0.680 -0.294 0.029 0.818 371.1 157.1)">-2.5</text>
<text font-family="Liberation Sans, sans-serif" stroke="#000" stroke-width=".45" font-size="10" text-anchor="end" transform="matrix(0.680 -0.294 0.029 0.818 372.0 181.9)">-3.0</text>
<text font-family="Liberation Sans, sans-serif" stroke="#000" stroke-width=".45" font-size="10" text-anchor="middle" transform="matrix(0.774 0.327 -0.683 0.412 367.0 194.7)">1</text>
<text font-family="Liberation Sans, sans-serif" stroke="#000" stroke-width=".45" font-size="10" text-anchor="middle" transform="matrix(0.774 0.327 -0.683 0.412 392.8 205.6)">2</text>
<text font-family="Liberation Sans, sans-serif" stroke="#000" stroke-width=".45" font-size="10" text-anchor="middle" transform="matrix(0.774 0.327 -0.683 0.412 420.5 217.3)">3</text>
<text font-family="Liberation Sans, sans-serif" stroke="#000" stroke-width=".45" font-size="10" text-anchor="middle" transform="matrix(0.774 0.327 -0.683 0.412 450.2 229.9)">4</text>
<text font-family="Liberation Sans, sans-serif" stroke="#000" stroke-width=".45" font-size="10" text-anchor="middle" transform="matrix(0.774 0.327 -0.683 0.412 482.2 243.4)">5</text>
<text font-family="Liberation Sans, sans-serif" stroke="#000" stroke-width=".45" font-size="10" text-anchor="middle" transform="matrix(0.719 -0.434 0.735 0.311 523.4 228.3)">5</text>
<text font-family="Liberation Sans, sans-serif" stroke="#000" stroke-width=".45" font-size="10" text-anchor="middle" transform="matrix(0.719 -0.434 0.735 0.311 553.5 210.1)">10</text>
<text font-family="Liberation Sans, sans-serif" stroke="#000" stroke-width=".45" font-size="10" text-anchor="middle" transform="matrix(0.719 -0.434 0.735 0.311 580.6 193.7)">15</text>
<text font-family="Liberation Sans, sans-serif" font-weight="bold" font-size="10" text-anchor="middle" transform="matrix(0.055 1.529 -1.164 0.290 345.5 112.5)">Reflection Loss (dB)</text>
<text font-family="Liberation Sans, sans-serif" font-weight="bold" font-size="10" text-anchor="middle" transform="matrix(1.032 0.436 -0.942 0.568 400.9 229.1)">Thickness (mm)</text>
<text font-family="Liberation Sans, sans-serif" font-weight="bold" font-size="10" text-anchor="middle" transform="matrix(0.856 -0.517 1.059 0.448 565.3 219.4)">Frequency (GHz)</text>
<text font-family="Liberation Sans, sans-serif" font-weight="bold" font-size="14.6" x="334.3" y="29.7">(a')</text>
<linearGradient id="cga" x1="0" y1="0" x2="0" y2="1"><stop offset="0" stop-color="#34a864"/><stop offset=".5" stop-color="#ffff6e"/><stop offset="1" stop-color="#586afa"/></linearGradient>
<rect x="600.4" y="10.4" width="7.2" height="160.7" fill="url(#cga)" stroke="#8c8c8c" stroke-width=".7"/>
<rect x="600.4" y="10.4" width="7.2" height="1.1" fill="#e8f4ec"/><rect x="600.4" y="169.9" width="7.2" height="1.2" fill="#111"/>
<g font-family="Liberation Sans, sans-serif" font-size="5.7" fill="#000" stroke="#000" stroke-width=".25">
<text x="613.3" y="14.0">-0.17</text>
<text x="613.3" y="29.8">-0.46</text>
<text x="613.3" y="45.6">-0.75</text>
<text x="613.3" y="61.5">-1.04</text>
<text x="613.3" y="77.3">-1.33</text>
<text x="613.3" y="93.2">-1.61</text>
<text x="613.3" y="109.0">-1.90</text>
<text x="613.3" y="124.8">-2.19</text>
<text x="613.3" y="140.7">-2.48</text>
<text x="613.3" y="156.5">-2.77</text>
<text x="613.3" y="172.4">-3.06</text>
</g>
<path d="M607.6 11.9h2.8M607.6 27.7h2.8M607.6 43.6h2.8M607.6 59.4h2.8M607.6 75.3h2.8M607.6 91.1h2.8M607.6 106.9h2.8M607.6 122.8h2.8M607.6 138.6h2.8M607.6 154.5h2.8M607.6 170.3h2.8" stroke="#222" stroke-width=".8"/>
</g>
<g id="qb"><g filter="url(#bls)"><g stroke-width=".7" stroke-linejoin="round"><path class="v33_13" d="M501 401.2l12.7-52.2 1.7-.3-12.7 48.9z"/><path class="v33_13" d="M499.3 402.5l12.7-53.3 1.7-.2-12.7 52.3z"/><path class="v34_13" d="M497.6 403l12.7-53.9 1.7 .1-12.7 53.3z"/><path class="v34_13" d="M495.9 402.4l12.7-53.7 1.7 .4-12.7 53.9z"/><path class="v34_14" d="M494.2 401.2l12.7-52.5 1.7 0-12.7 53.7z"/><path class="v34_14" d="M492.5 399.5l12.6-50.2 1.8-.6-12.7 52.5z"/><path class="v34_15" d="M490.8 397l12.6-46 1.7-1.7-12.6 50.2z"/><path class="v34_16" d="M489 394.1l12.6-40.4 1.8-2.7-12.6 46z"/><path class="v33_17" d="M487.2 391.2l12.6-34 1.8-3.5-12.6 40.4z"/><path class="v32_19" d="M485.4 388l12.7-28 1.7-2.8-12.5 34z"/><path class="v31_20" d="M483.6 384.4l12.7-21.4 1.8-3-12.6 28z"/><path class="v30_22" d="M481.8 380.3l12.7-15.2 1.8-2.1-12.6 21.4z"/><path class="v29_23" d="M479.9 375.5l12.8-8.7 1.8-1.7-12.7 15.2z"/><path class="c27" d="M478.2 370.4l6.3-1.1 1.8 1.8-6.2 4.3z"/><path class="c28" d="M484.5 369.3l6.3-1.2 1.8-1.2-6.3 4.2zM476.2 365.5l12.9 3.4 1.8-.8-12.8 2.4z"/><path class="c30" d="M474.4 360.6l6.4 4.6 1.8 2-6.3-1.6z"/><path class="c29" d="M480.8 365.2l6.3 4.5 1.8-.8-6.3-1.7z"/><path class="v33_29" d="M472.4 355.4l12.9 14.9 1.9-.5-12.9-9.3z"/><path class="v34_28" d="M470.5 351.9l13 20.6 1.9-2.2-13-14.9z"/><path class="v35_27" d="M468.6 348.7l13 27.6 1.9-3.8-13-20.6z"/><path class="v36_24" d="M466.6 345.7l13.1 37.9 1.9-7.3-13-27.6z"/><path class="v37_21" d="M464.6 342.9l13.3 50.2 1.9-9.5-13.2-37.9z"/><path class="v38_18" d="M462.7 340.8l13.4 61.9 1.8-9.6-13.2-50.2z"/><path class="v39_15" d="M460.7 338.6l13.6 73.9 1.8-9.8-13.4-61.9z"/><path class="v40_12" d="M458.7 335.6l13.7 85.3 1.9-8.4-13.6-73.9z"/><path class="v41_11" d="M456.6 332.4l14 93.9 1.8-5.4-13.7-85.3z"/><path class="v42_10" d="M454.6 330.1l14.1 100.4 1.9-4.2-14-93.9z"/><path class="v42_10" d="M452.5 328.4l14.3 102.8 1.9-.7-14.1-100.4z"/><path class="v43_10" d="M450.4 327.1l14.4 101.6 2 2.5-14.3-102.8z"/><path class="v43_12" d="M449.4 326.5l14.4 99 1 3.2-14.4-101.6z"/><path class="v43_13" d="M448.3 326l14.4 95 1.1 4.5-14.4-99z"/><path class="v44_14" d="M447.3 325.6l14.3 89.8 1.1 5.6-14.4-95z"/><path class="v44_16" d="M446.2 325.2l14.3 83.4 1.1 6.8-14.3-89.8z"/><path class="v45_18" d="M445.2 324.9l14.2 75.2 1.1 8.5-14.3-83.4z"/><path class="v45_21" d="M444.1 324.6l14.2 66.4 1.1 9.1-14.2-75.2z"/><path class="v45_24" d="M443.1 324.4l14 57.8 1.2 8.8-14.2-66.4z"/><path class="v45_27" d="M442 324.3l13.9 49.8 1.2 8.1-14-57.8z"/><path class="v45_30" d="M440.9 324.2l13.9 42.8 1.1 7.1-13.9-49.8z"/><path class="v45_32" d="M439.9 324.1l13.7 36.8 1.2 6.1-13.9-42.8z"/><path class="v45_34" d="M438.8 324.1l13.7 31.7 1.1 5.1-13.7-36.8z"/><path class="v45_36" d="M437.7 324l13.7 27.3 1.1 4.5-13.7-31.7z"/><path class="v45_38" d="M436.6 324l13.6 23.1 1.2 4.2-13.7-27.3z"/><path class="v45_39" d="M435.6 324l13.5 20 1.1 3.1-13.6-23.1z"/><path class="v45_40" d="M434.5 324l13.5 18.2 1.1 1.7-13.5-19.9z"/><path class="v45_41" d="M433.4 324l13.5 16.9 1.1 1.3-13.5-18.2z"/><path class="v45_42" d="M432.3 324l13.5 15.9 1.1 1-13.5-16.9z"/><path class="v45_42" d="M431.2 324l13.5 14.9 1.1 1-13.5-15.9z"/><path class="c45" d="M430.2 324.1l6.7 6.9 1.1 .4-6.7-7.3z"/><path class="c43" d="M436.9 331l6.6 6.9 1.1 .9-6.6-7.4z"/><path class="c45" d="M429.1 324.1l6.6 6.5 1.2 .4-6.7-6.9z"/><path class="c43" d="M435.7 330.6l6.7 6.6 1.1 .7-6.6-6.9z"/><path class="c45" d="M428 324.1l6.6 6.2 1.1 .3-6.6-6.5z"/><path class="c43" d="M434.6 330.3l6.7 6.2 1.1 .7-6.7-6.6z"/><path class="c45" d="M426.9 324.1l6.6 5.8 1.1 .4-6.6-6.2z"/><path class="c44" d="M433.5 329.9l6.7 5.8 1.1 .8-6.7-6.2z"/><path class="c45" d="M425.8 324l6.6 5.5 1.1 .4-6.6-5.8z"/><path class="c44" d="M432.4 329.5l6.6 5.5 1.2 .7-6.7-5.8z"/><path class="c45" d="M424.7 324l6.6 5.2 1.1 .3-6.6-5.5z"/><path class="c44" d="M431.3 329.2l6.6 5.1 1.1 .7-6.6-5.5z"/><path class="c46" d="M423.5 324l6.7 4.8 1.1 .4-6.6-5.2z"/><path class="c44" d="M430.2 328.8l6.6 4.8 1.1 .7-6.6-5.1z"/><path class="c46" d="M422.4 324.1l6.6 4.4 1.2 .3-6.7-4.8z"/><path class="c45" d="M429 328.5l6.7 4.4 1.1 .7-6.6-4.8z"/><path class="c46" d="M421.3 324.1l6.6 4 1.1 .4-6.6-4.4z"/><path class="c45" d="M427.9 328.1l6.6 4.1 1.2 .7-6.7-4.4zM420 324l13.5 7.6 1.1 .7-13.4-8.3z"/><path class="c46" d="M418.9 324.1l13.5 6.8 1.1 .7-13.5-7.6zM417.7 324.1l13.5 6.2 1.2 .6-13.5-6.9zM416.6 324.2l13.5 5.6 1.1 .5-13.5-6.2zM415.4 324.2l13.5 5 1.2 .6-13.5-5.6zM414.3 324.3l13.4 4.4 1.2 .5-13.5-5zM413.1 324.4l13.5 3.9 1.1 .4-13.4-4.4zM412 324.5l13.4 3.6 1.2 .2-13.5-3.9zM410.8 324.5l13.4 3.4 1.2 .2-13.4-3.7z"/><path class="c47" d="M409.7 324.6l13.4 3.1 1.1 .2-13.4-3.4zM408.5 324.7l13.4 3 1.2 0-13.4-3.1zM407.3 324.8l13.4 2.9 1.2 0-13.4-3zM406.1 324.9l13.4 2.8 1.2 0-13.4-2.9zM404.9 325l13.5 2.7 1.1 0-13.4-2.8zM403.8 325.1l13.4 2.7 1.2-.1-13.5-2.7zM402.6 325.3l13.4 2.6 1.2-.1-13.4-2.7zM401.4 325.4l13.4 2.7 1.2-.2-13.4-2.6z"/><path class="c34" d="M513.6 349.2l13.3-3.2 1.6 .9-13.3 2zM512 349.3l6.5-2.3 1.7 .6-6.5 1.6z"/><path class="c35" d="M518.5 347l6.5-2.4 1.7 1.4-6.5 1.6z"/><path class="c34" d="M510.3 349.2l6.5-3.4 1.7 1.2-6.5 2.3z"/><path class="c36" d="M516.8 345.8l6.6-3.5 1.6 2.3-6.5 2.4z"/><path class="v38_34" d="M508.4 348.9l13.4-9.2 1.7 2.5-13.3 7.1z"/><path class="v39_34" d="M506.7 349l13.4-11.4 1.7 2.2-13.3 9.2z"/><path class="v39_34" d="M505 349.5l13.3-12.3 1.8 .4-13.4 11.4z"/><path class="v39_34" d="M503.2 351.2l13.4-13.5 1.7-.5-13.3 12.3z"/><path class="v39_33" d="M501.5 354l13.3-15.6 1.8-.7-13.4 13.5z"/><path class="v38_32" d="M499.7 357.4l13.3-17.9 1.8-1.1-13.3 15.6z"/><path class="v39_31" d="M497.9 360.3l13.3-19.3 1.8-1.5-13.3 17.9z"/><path class="v38_30" d="M496.1 363.3l13.3-20.4 1.8-1.9-13.3 19.3z"/><path class="v38_29" d="M494.3 365.3l13.3-20.7 1.8-1.7-13.3 20.4z"/><path class="v37_29" d="M492.5 367l13.3-21.8 1.8-.6-13.3 20.7z"/><path class="v37_29" d="M490.7 368.2l13.2-23 1.9 0-13.3 21.8z"/><path class="v37_29" d="M488.9 369l13.2-23.8 1.9 0-13.3 23.1z"/><path class="v38_29" d="M487 369.8l13.2-24.7 1.9 .1-13.2 23.8z"/><path class="v38_29" d="M485.2 370.3l13.2-25.5 1.9 .3-13.3 24.8z"/><path class="v38_28" d="M483.3 372.5l13.2-26.7 1.9-1-13.2 25.5z"/><path class="v38_27" d="M481.5 376.3l13.1-28.6 1.9-1.9-13.2 26.7z"/><path class="v37_25" d="M479.6 383.6l13.1-34.2 1.9-1.7-13.1 28.6z"/><path class="v36_22" d="M477.8 393.1l13-41.7 1.9-2-13.1 34.2z"/><path class="v36_18" d="M476 402.7l12.9-49.2 1.9-2.1-13 41.7z"/><path class="v36_15" d="M474.2 412.5l12.7-56.5 2-2.5-12.9 49.2z"/><path class="v35_12" d="M472.4 420.9l12.6-61.7 1.9-3.2-12.7 56.5z"/><path class="v34_11" d="M470.5 426.3l12.6-63.9 1.9-3.2-12.6 61.7z"/><path class="v33_9" d="M468.7 430.5l12.4-65.7 2-2.4-12.6 63.9z"/><path class="v33_9" d="M466.7 431.2l12.4-63.8 2-2.6-12.4 65.7z"/><path class="v32_9" d="M464.7 428.7l12.5-57 2-4.3-12.5 63.8z"/><path class="v31_11" d="M463.7 425.5l12.5-50.6 1-3.2-12.5 57z"/><path class="v30_12" d="M462.7 421l12.6-42 .9-4.1-12.5 50.6z"/><path class="v29_14" d="M461.6 415.4l12.7-31.8 1-4.6-12.6 42z"/><path class="v27_16" d="M460.4 408.5l13-19.3 .9-5.6-12.7 31.8z"/><path class="v25_18" d="M459.2 400l13.3-3.9 .9-6.8-13 19.2z"/><path class="c22" d="M458.8 395.4l6.6 2.4 .5 .3-6.5 1.9z"/><path class="c23" d="M458.2 390.9l6.7 6.7 .5 .2-6.6-2.4z"/><path class="c22" d="M465.4 397.8l6.5 2.5 .5-4.2-6.5 2zM464.9 397.6l6.6 6.8 .4-4.1-6.5-2.5z"/><path class="v27_17" d="M457 382l13.7 33 .9-10.5-13.5-13.8z"/><path class="v30_13" d="M455.8 373.8l14 53.6 .9-12.4-13.7-33.1z"/><path class="v32_8" d="M454.7 366.7l14.3 76.2 .8-15.5-13.9-53.6z"/><path class="v34_4" d="M453.6 360.6l14.5 95.7 .9-13.4-14.3-76.2z"/><path class="v36_1" d="M452.4 355.5l14.8 108.8 .9-8-14.5-95.7z"/><path class="v36_2" d="M451.3 351l14.9 113.2 1 .1-14.8-108.8z"/><path class="v39_1" d="M450.1 346.8l15 106.8 1.1 10.6-14.9-113.2z"/><path class="v40_5" d="M449 343.7l14.9 96 1.2 13.9-15-106.8z"/><path class="v41_10" d="M447.9 341.9l14.8 85.8 1.2 12-14.9-96z"/><path class="v41_14" d="M446.8 340.6l14.7 76.3 1.2 10.8-14.8-85.8z"/><path class="v41_18" d="M445.7 339.6l14.6 68.2 1.2 9.1-14.7-76.3z"/><path class="v42_21" d="M444.6 338.6l14.5 61.5 1.2 7.7-14.6-68.2z"/><path class="v42_23" d="M443.5 337.8l14.5 56 1.1 6.3-14.5-61.5z"/><path class="v42_25" d="M442.4 337l14.4 51.1 1.2 5.7-14.5-56z"/><path class="v43_27" d="M441.2 336.3l14.4 46.4 1.2 5.4-14.4-51.1z"/><path class="v43_29" d="M440.1 335.6l14.4 41.8 1.1 5.3-14.4-46.4z"/><path class="v43_31" d="M439 334.9l14.3 37.3 1.2 5.2-14.4-41.8z"/><path class="v44_33" d="M437.9 334.1l14.2 33.1 1.2 5-14.3-37.3z"/><path class="v44_34" d="M436.7 333.4l14.2 28.9 1.2 4.9-14.2-33.1z"/><path class="v44_36" d="M435.6 332.7l14.1 24.9 1.2 4.7-14.2-28.9z"/><path class="v44_37" d="M434.4 332.1l14.1 21.1 1.2 4.4-14.1-24.9z"/><path class="v45_39" d="M433.3 331.4l14 17.9 1.2 3.9-14.1-21.1z"/><path class="v45_40" d="M432.1 330.8l14.1 15.4 1.1 3.1-14-17.9z"/><path class="v45_41" d="M431 330.2l14 13.2 1.2 2.8-14.1-15.4z"/><path class="c45" d="M429.9 329.7l6.9 5.6 1.2 1.5-6.9-6.5z"/><path class="c43" d="M436.8 335.3l6.9 5.6 1.2 2.4-6.9-6.5z"/><path class="c45" d="M428.8 329.1l6.8 4.9 1.2 1.3-6.9-5.6z"/><path class="c44" d="M435.6 334l6.9 4.8 1.2 2.1-6.9-5.6z"/><path class="c45" d="M427.6 328.7l6.9 4 1.1 1.3-6.8-4.9z"/><path class="c44" d="M434.5 332.7l6.8 4 1.2 2.1-6.9-4.8z"/><path class="c45" d="M426.3 328.2l14 7 1.1 1.6-13.9-8.2z"/><path class="c46" d="M425.1 328l14 6.1 1.2 1.1-14-7zM424 327.8l13.9 5.5 1.2 .8-14-6.1zM422.8 327.6l13.9 5.1 1.2 .6-13.9-5.5zM421.6 327.6l14 4.7 1.1 .4-13.9-5.1zM420.4 327.6l14 4.3 1.2 .4-14-4.7zM419.3 327.6l13.9 4 1.2 .3-14-4.3zM418.1 327.6l13.9 3.8 1.2 .2-13.9-4zM416.9 327.7l13.9 3.5 1.2 .2-13.9-3.8z"/><path class="c47" d="M415.7 327.8l13.9 3.4 1.2 0-13.9-3.5zM414.5 328l13.9 3.3 1.2-.1-13.9-3.4z"/><path class="c34" d="M526.7 346l4.4 5.2 1.7 .9-4.4-5.2z"/><path class="c33" d="M531.1 351.2l4.4 5.1 1.6 1.1-4.3-5.3z"/><path class="c31" d="M535.5 356.3l4.4 5.1 1.6 1.2-4.4-5.2z"/><path class="c35" d="M525 344.6l4.4 4.9 1.7 1.7-4.4-5.2z"/><path class="c33" d="M529.4 349.5l4.4 5 1.7 1.8-4.4-5.1z"/><path class="c32" d="M533.8 354.5l4.4 5 1.7 1.9-4.4-5.1z"/><path class="v37_32" d="M523.3 342.2l13.4 14.6 1.6 2.8-13.4-15.1z"/><path class="v38_33" d="M521.6 339.7l13.5 14.4 1.6 2.7-13.4-14.6z"/><path class="v39_34" d="M519.9 337.6l13.5 14 1.7 2.5-13.5-14.4z"/><path class="v39_35" d="M518.1 337.2l13.6 12.2 1.7 2.2-13.5-14z"/><path class="c38" d="M516.5 337.8l6.7 5 1.7 .5-6.7-6z"/><path class="c37" d="M523.2 342.8l6.7 5 1.7 1.5-6.7-6z"/><path class="c38" d="M514.7 338.5l6.7 4.2 1.8 .1-6.7-5z"/><path class="c37" d="M521.4 342.7l6.8 4.3 1.7 .8-6.7-5z"/><path class="c38" d="M512.9 339.6l6.8 3.5 1.7-.4-6.7-4.2z"/><path class="c37" d="M519.7 343.1l6.7 3.5 1.8 .4-6.8-4.3z"/><path class="c38" d="M511 341.1l13.8 5.7 1.8-.2-13.8-7.1z"/><path class="c37" d="M509.2 343l13.8 4.1 1.8-.3-13.8-5.7zM507.4 344.7l13.9 2.6 1.7-.3-13.8-4.1zM505.6 345.3l13.9 1.4 1.8 .5-13.9-2.5zM503.7 345.3l14 .4 1.8 1-13.9-1.4z"/><path class="c38" d="M501.9 345.4l13.9-1.2 1.9 1.5-14-.3zM500 345.2l14-2.6 1.8 1.6-13.9 1.2z"/><path class="c39" d="M498.3 344.9l13.7-3.4 1.9 1.1-13.7 2.6z"/><path class="c38" d="M496.4 346l6.9-2.5 1.9-.3-6.9 1.7z"/><path class="c39" d="M503.3 343.5l6.9-2.6 1.8 .6-6.8 1.7z"/><path class="c38" d="M494.6 347.8l6.8-3.2 1.9-1.1-6.9 2.5z"/><path class="c39" d="M501.4 344.6l6.9-3.2 1.9-.5-6.9 2.6z"/><path class="c38" d="M492.7 349.6l6.8-3.9 1.9-1.1-6.8 3.2z"/><path class="c39" d="M499.5 345.7l6.9-3.9 1.9-.4-6.9 3.2z"/><path class="c37" d="M490.7 351.5l6.9-4.4 1.9-1.4-6.8 3.9z"/><path class="c39" d="M497.6 347.1l6.9-4.4 1.9-.9-6.9 3.9z"/><path class="c37" d="M488.8 353.7l4.6-3.4 1.9-1.7-4.6 2.9z"/><path class="c38" d="M493.4 350.3l4.6-3.3 1.9-1.4-4.6 3z"/><path class="c39" d="M498 347l4.5-3.3 2-1-4.6 2.9z"/><path class="v39_36" d="M486.8 356.3l13.9-11.8 2-.9-14 10.2z"/><path class="v39_35" d="M484.9 359.4l13.9-14 1.9-.9-13.9 11.8z"/><path class="v39_34" d="M482.9 362.7l13.9-16.3 2-1-13.9 14z"/><path class="v39_33" d="M481 365.1l13.8-17.7 2-1-13.9 16.3z"/><path class="v39_32" d="M479 367.7l13.8-19.2 2-1.1-13.8 17.7z"/><path class="v39_31" d="M477.1 372l13.7-22.2 2-1.3-13.8 19.2z"/><path class="v38_31" d="M476.1 375.2l13.7-24.4 1-1-13.7 22.2z"/><path class="v38_29" d="M475.2 379.2l13.6-27.3 1-1.1-13.7 24.4z"/><path class="v37_28" d="M474.2 383.9l13.6-30.5 1-1.5-13.6 27.3z"/><path class="v37_26" d="M473.3 389.5l13.5-34.3 1-1.8-13.6 30.5z"/><path class="v36_24" d="M472.4 396.3l13.4-39.1 1-2-13.5 34.3z"/><path class="v36_21" d="M471.4 404.5l13.4-45 1-2.3-13.5 39.1z"/><path class="v35_18" d="M470.6 415l13.2-52.6 1-2.9-13.4 45z"/><path class="v35_14" d="M469.7 427.4l13.1-61.4 1-3.6-13.2 52.6z"/><path class="v34_9" d="M468.9 442.9l12.9-72.1 1-4.8-13.1 61.4z"/><path class="v32_4" d="M468.1 456.3l12.7-79.7 1-5.8-12.9 72.1z"/><path class="v28_4" d="M467.2 464.3l12.6-81.2 1-6.5-12.7 79.7z"/><path class="v29_1" d="M466.2 464.2l12.7-73.9 .9-7.2-12.6 81.2z"/><path class="v27_1" d="M465 453.6l12.9-55.3 1-8-12.7 73.9z"/><path class="v24_5" d="M463.8 439.7l13.2-33 .9-8.4-12.9 55.3z"/><path class="v22_10" d="M462.5 427.7l13.6-12 .9-9-13.2 33z"/><path class="v19_15" d="M461.3 416.6l13.9 8.1 .9-9-13.6 12z"/><path class="v21_14" d="M460.2 407.6l14 25.2 1-8.1-13.9-8.1z"/><path class="v23_12" d="M459 399.9l14.2 40.2 1-7.3-14-25.2z"/><path class="v25_10" d="M457.9 393.5l14.3 52.9 1-6.3-14.2-40.2z"/><path class="v27_8" d="M456.7 387.8l14.6 63.7 1-5.1-14.4-52.9z"/><path class="v29_7" d="M455.6 382.4l14.7 73.3 1-4.2-14.6-63.7z"/><path class="v30_6" d="M454.4 377.1l14.9 81.2 1-2.6-14.7-73.3z"/><path class="v31_8" d="M453.2 371.9l15 85.6 1.1 .8-14.9-81.2z"/><path class="v31_10" d="M452 366.9l15.1 87.4 1.1 3.2-15-85.6z"/><path class="v36_8" d="M450.8 362l15.2 82.7 1.1 9.6-15.1-87.4z"/><path class="v37_11" d="M449.6 357.4l15.1 73.2 1.3 14.1-15.2-82.7z"/><path class="v39_16" d="M448.4 353l15 63.2 1.3 14.4-15.1-73.2z"/><path class="v40_20" d="M447.2 349.1l14.9 52.6 1.3 14.5-15-63.2z"/><path class="v41_25" d="M446 345.9l14.8 43 1.3 12.8-14.9-52.6z"/><path class="v42_29" d="M444.8 343.2l14.7 34.6 1.3 11.1-14.8-43z"/><path class="v43_33" d="M443.6 340.8l14.7 28.1 1.2 8.9-14.7-34.6z"/><path class="v43_35" d="M442.4 338.7l14.6 22.8 1.3 7.4-14.7-28.1z"/><path class="v44_38" d="M441.2 336.6l14.6 19.1 1.2 5.8-14.6-22.8z"/><path class="v45_39" d="M440 335l14.6 15.8 1.2 4.9-14.6-19.1z"/><path class="v45_41" d="M438.8 334l14.6 12.1 1.2 4.7-14.6-15.8z"/><path class="c45" d="M437.8 333.2l7.1 4.8 1.2 2.1-7.2-6z"/><path class="c43" d="M444.9 338l7.1 4.8 1.2 3.2-7.1-5.9z"/><path class="c45" d="M436.6 332.6l7.1 4.3 1.2 1.1-7.1-4.8z"/><path class="c44" d="M443.7 336.9l7.1 4.4 1.2 1.5-7.1-4.8z"/><path class="c45" d="M435.3 332.1l14.5 8.5 1.2 .8-14.5-8.9zM434.1 331.8l14.5 8.5 1.2 .2-14.5-8.4zM432.9 331.5l14.5 8.6 1.2 .2-14.5-8.5zM431.7 331.3l14.6 8.1 1.2 .7-14.6-8.6z"/><path class="c46" d="M430.5 331.1l14.6 7 1.2 1.3-14.6-8.1zM429.3 331.1l14.5 5.3 1.3 1.7-14.6-7zM428.2 331.2l14.4 3.1 1.2 2.1-14.5-5.3z"/><path class="c31" d="M539.7 361.4l14.1 2.3 1.6 .1-14-1.2zM538.1 359.4l14.1 3.7 1.6 .6-14.1-2.3z"/><path class="c32" d="M536.5 356.7l14.1 5 1.6 1.4-14.1-3.6z"/><path class="c33" d="M534.8 354l14.1 6.8 1.6 1-14-5.1z"/><path class="c34" d="M533.3 351.5l6.9 4.4 1.7 1.5-6.9-3.4z"/><path class="c33" d="M540.2 355.9l6.9 4.4 1.7 .5-6.9-3.4z"/><path class="c35" d="M531.6 349.3l6.9 5.5 1.7 1.1-6.9-4.4z"/><path class="c33" d="M538.5 354.8l6.9 5.4 1.7 .1-6.9-4.4z"/><path class="c35" d="M529.9 347.8l6.9 6.5 1.7 .5-6.9-5.5z"/><path class="c34" d="M536.8 354.3l6.9 6.4 1.7-.5-6.9-5.4z"/><path class="c36" d="M528.2 347l6.9 7.1 1.7 .2-6.9-6.5z"/><path class="c34" d="M535.1 354.1l6.9 7.1 1.7-.5-6.9-6.4z"/><path class="v36_33" d="M526.3 346.5l14 15.3 1.8-.5-14-14.5z"/><path class="v37_33" d="M524.6 346.6l14 15.4 1.7-.2-14-15.3z"/><path class="v37_34" d="M522.8 346.9l14.1 14.6 1.7 .5-14-15.4z"/><path class="v37_34" d="M521 347.1l14.1 13.6 1.8 .8-14.1-14.6z"/><path class="c36" d="M519.3 346.7l7 6.3 1.8 .9-7-6.7z"/><path class="c35" d="M526.3 353l7 6.3 1.7 1.3-6.9-6.7z"/><path class="c37" d="M517.5 345.7l7 6 1.8 1.3-7-6.3z"/><path class="c35" d="M524.5 351.7l7 6.1 1.8 1.5-7-6.3z"/><path class="c37" d="M515.7 344.2l7 5.9 1.8 1.6-7-6z"/><path class="c36" d="M522.7 350.1l7 5.9 1.8 1.8-7-6.1z"/><path class="c38" d="M513.9 342.6l7 5.7 1.8 1.8-7-5.9z"/><path class="c37" d="M520.9 348.3l7 5.8 1.8 1.9-7-5.9z"/><path class="c39" d="M512 341.5l7.1 5.3 1.8 1.5-7-5.7z"/><path class="c37" d="M519.1 346.8l7 5.3 1.8 2-7-5.8z"/><path class="c39" d="M510.2 340.9l7 4.7 1.9 1.2-7.1-5.3z"/><path class="c38" d="M517.2 345.6l7.1 4.7 1.8 1.8-7-5.3z"/><path class="c40" d="M508.3 341.4l7.1 3.8 1.8 .4-7-4.7z"/><path class="c39" d="M515.4 345.2l7 3.9 1.9 1.2-7.1-4.7zM506.2 341.8l14.5 6.7 1.9 .6-14.5-7.8zM504.3 342.6l14.5 5.4 1.9 .5-14.5-6.8zM502.4 343.6l14.5 4.1 1.9 .3-14.5-5.4z"/><path class="c40" d="M500.5 344.6l14.5 2.8 1.9 .3-14.5-4.1zM498.5 345.5l14.6 1.3 1.9 .6-14.5-2.8zM496.6 346.5l14.6-.3 1.9 .6-14.6-1.3zM494.6 347.6l14.6-1.5 2 0-14.6 .4zM492.6 348.7l14.6-2.1 2-.5-14.6 1.5z"/><path class="c39" d="M490.6 350l14.6-2.8 2-.6-14.6 2.1zM489.6 350.9l14.6-3.4 1-.3-14.6 2.8zM488.8 352l7.1-1.9 1-.9-7.1 1.7z"/><path class="c40" d="M495.9 350.1l7.2-2 1-.5-7.2 1.6z"/><path class="c38" d="M487.8 353.5l7.1-2.3 1-1.1-7.1 1.9z"/><path class="c40" d="M494.9 351.2l7.2-2.4 1-.7-7.2 2z"/><path class="c38" d="M486.8 355.3l7.1-2.9 1-1.2-7.1 2.3z"/><path class="c39" d="M493.9 352.4l7.2-2.9 1-.7-7.2 2.4z"/><path class="c38" d="M485.8 357.3l7.1-3.4 1-1.5-7.1 2.9z"/><path class="c39" d="M492.9 353.9l7.2-3.5 1-.9-7.2 2.9z"/><path class="c37" d="M484.7 359.6l7.2-4.1 1-1.6-7.1 3.4z"/><path class="c39" d="M491.9 355.5l7.2-4.1 1-1-7.2 3.5z"/><path class="v39_36" d="M483.6 362.6l14.6-10 1-1.3-14.6 8.4z"/><path class="v38_35" d="M482.6 366.3l14.5-12.3 1.1-1.5-14.6 10.1z"/><path class="v38_33" d="M481.7 371.1l14.4-15.7 1-1.5-14.5 12.3z"/><path class="v38_32" d="M480.7 376.8l14.4-19.7 1-1.7-14.5 15.6z"/><path class="v37_30" d="M479.7 383.4l14.3-24 1.1-2.3-14.4 19.7z"/><path class="v37_28" d="M478.8 390.6l14.2-28.5 1-2.7-14.3 23.9z"/><path class="v36_25" d="M477.8 398.5l14.2-33.2 1-3.2-14.2 28.5z"/><path class="v35_23" d="M476.9 407l14-38.2 1.1-3.5-14.2 33.2z"/><path class="v34_20" d="M475.9 415.9l14-43.4 1-3.7-14 38.2z"/><path class="v33_17" d="M475 424.7l13.9-48.5 1-3.7-14 43.4z"/><path class="v32_15" d="M474.1 432.9l13.7-53 1.1-3.7-13.9 48.5z"/><path class="v30_13" d="M473.1 440.1l13.7-56.3 1-3.9-13.7 53z"/><path class="v28_12" d="M472.2 446.4l13.6-58.4 1-4.2-13.7 56.3z"/><path class="c11" d="M471.2 451.3l3.4-14.7 1-4.9-3.4 14.6z"/><path class="c16" d="M474.6 436.6l3.4-14.7 1-4.7-3.4 14.5z"/><path class="c21" d="M478 421.9l3.4-14.6 1-4.7-3.4 14.6z"/><path class="c26" d="M481.4 407.3l3.3-14.7 1.1-4.5-3.4 14.5z"/><path class="c10" d="M470.3 455.5l3.3-14.5 1-4.4-3.4 14.7z"/><path class="c15" d="M473.6 441l3.4-14.6 1-4.5-3.4 14.7z"/><path class="c20" d="M477 426.4l3.3-14.5 1.1-4.6-3.4 14.6z"/><path class="c25" d="M480.3 411.9l3.4-14.6 1-4.7-3.3 14.7z"/><path class="v27_6" d="M469.2 458.3l13.5-55.8 1-5.3-13.5 58.5z"/><path class="v25_6" d="M468.2 457.5l13.5-48.8 1-6.2-13.5 55.8z"/><path class="v23_7" d="M467.1 454.3l13.6-38 1-7.6-13.5 48.8z"/><path class="v21_8" d="M465.8 444.7l14-17.9 1-10.5-13.7 38z"/><path class="v17_12" d="M464.5 430.3l14.4 8.5 .9-12-13.9 17.9z"/><path class="v20_10" d="M463.3 415.9l14.6 36.9 1-14-14.4-8.5z"/><path class="v25_6" d="M462 401.4l15 62.9 .9-11.5-14.6-36.9z"/><path class="v29_6" d="M460.7 388.6l15.2 75 1.1 .7-15-62.9z"/><path class="v33_7" d="M459.4 377.5l15.3 77.2 1.2 8.9-15.2-75z"/><path class="v35_10" d="M458.2 368.6l15.3 67.9 1.2 18.2-15.3-77.2z"/><path class="v38_16" d="M456.9 361.3l15.2 53.5 1.4 21.7-15.4-67.9z"/><path class="v39_23" d="M455.7 355.4l15.1 44 1.3 15.4-15.2-53.5z"/><path class="v41_27" d="M454.4 350.5l15.2 35.4 1.2 13.5-15.2-44z"/><path class="v42_31" d="M453.2 345.9l15.1 26.7 1.2 13.3-15.1-35.4z"/><path class="v43_35" d="M451.9 342.6l15.1 19.8 1.2 10.2-15-26.7z"/><path class="v44_38" d="M450.7 341.2l15.1 15.4 1.2 5.9-15.1-19.8z"/><path class="c43" d="M449.7 340.5l7.4 6.2 1.2 2.2-7.5-7.6z"/><path class="c42" d="M457.1 346.7l7.4 6.2 1.2 3.6-7.4-7.6z"/><path class="c44" d="M448.5 340.2l7.4 5.5 1.2 1-7.4-6.2z"/><path class="c42" d="M455.9 345.7l7.4 5.5 1.2 1.7-7.4-6.2z"/><path class="c44" d="M447.3 340l7.4 4.8 1.2 .9-7.4-5.5z"/><path class="c43" d="M454.7 344.8l7.4 4.9 1.2 1.5-7.4-5.5z"/><path class="c44" d="M446.1 339.3l14.8 7.6 1.2 2.8-14.8-9.7zM444.8 338l15 6.1 1.2 2.9-15-7.8z"/><path class="c45" d="M443.6 336.3l15 5.7 1.2 2.1-15-6.1z"/><path class="c46" d="M442.3 334.2l15.1 6.2 1.2 1.7-15-5.8z"/><path class="c31" d="M553.5 363.7l14.6 .7 1.6 .9-14.6-1.5zM551.9 363l14.6 .2 1.6 1.2-14.6-.7z"/><path class="c32" d="M550.3 361.7l14.6-.1 1.6 1.6-14.6-.2z"/><path class="c33" d="M548.6 360.8l14.7-1.1 1.6 1.9-14.6 .1zM546.9 360.3l14.8-1.7 1.6 1.1-14.7 1.1zM545.3 360.3l14.7-2 1.7 .3-14.8 1.7zM543.5 360.7l14.8-1.6 1.7-.8-14.7 2zM541.8 361.2l14.8-.6 1.7-1.5-14.8 1.6zM540.1 361.7l14.8 .7 1.7-1.8-14.8 .6zM538.3 361.9l14.8 2.1 1.8-1.6-14.8-.8zM536.6 361.4l14.8 3.7 1.7-1.1-14.7-2.2zM534.9 360.5l14.7 5.4 1.8-.8-14.8-3.7zM533.1 359.3l14.7 6.8 1.8-.2-14.7-5.4z"/><path class="c34" d="M531.4 357.7l14.7 8.4 1.7 0-14.7-6.8z"/><path class="c35" d="M529.7 356l7.2 4.9 1.8 1-7.2-4.1z"/><path class="c34" d="M536.9 360.9l7.3 4.8 1.7 .4-7.2-4.2z"/><path class="c35" d="M527.9 354.1l7.3 5.5 1.7 1.3-7.2-4.9z"/><path class="c34" d="M535.2 359.6l7.2 5.5 1.8 .6-7.3-4.8z"/><path class="c36" d="M526.1 352.1l7.3 6.3 1.8 1.2-7.3-5.5z"/><path class="c35" d="M533.4 358.4l7.2 6.2 1.8 .5-7.2-5.5z"/><path class="c37" d="M524.3 350.3l7.2 6.8 1.9 1.3-7.3-6.3z"/><path class="c35" d="M531.5 357.1l7.3 6.8 1.8 .7-7.2-6.2z"/><path class="c37" d="M522.4 349.1l7.3 7 1.8 1-7.2-6.8z"/><path class="c35" d="M529.7 356.1l7.3 7 1.8 .8-7.3-6.8z"/><path class="c38" d="M520.6 348.4l7.3 6.9 1.8 .8-7.3-7z"/><path class="c36" d="M527.9 355.3l7.2 6.8 1.9 1-7.3-7z"/><path class="c38" d="M518.7 348l7.3 6.6 1.9 .7-7.3-6.9z"/><path class="c36" d="M526 354.6l7.3 6.7 1.8 .8-7.2-6.8z"/><path class="c38" d="M516.8 347.6l7.3 6.4 1.9 .6-7.3-6.6z"/><path class="c37" d="M524.1 354l7.3 6.4 1.9 .9-7.3-6.7z"/><path class="c39" d="M514.9 347.3l7.3 5.8 1.9 .9-7.3-6.4z"/><path class="c37" d="M522.2 353.1l7.4 5.7 1.8 1.6-7.3-6.4z"/><path class="c39" d="M513 346.8l7.3 5 1.9 1.3-7.3-5.8z"/><path class="c38" d="M520.3 351.8l7.4 5.1 1.9 1.9-7.4-5.7z"/><path class="c39" d="M511 346.2l7.4 4.3 1.9 1.3-7.3-5z"/><path class="c38" d="M518.4 350.5l7.4 4.3 1.9 2.1-7.4-5.1z"/><path class="c39" d="M508.9 346.1l15.1 6.8 1.9 2-15-8.8z"/><path class="c40" d="M506.9 346.6l15.2 4.7 1.9 1.6-15.1-6.8zM505 347.2l15.1 3.2 2 .9-15.2-4.7zM504 347.5l15.1 3 1-.1-15.1-3.2zM502.9 348.1l15.3 2.6 1-.2-15.2-3zM501.9 348.8l15.3 2 1-.2-15.2-2.5zM500.9 349.5l15.3 1.5 1-.2-15.3-2zM499.9 350.4l15.3 .8 1-.2-15.3-1.5zM498.9 351.4l15.2 0 1.1-.2-15.3-.8zM497.9 352.7l15.2-1 1-.3-15.2 0zM496.9 354.1l15.2-2 1-.4-15.2 .9z"/><path class="c39" d="M495.9 355.5l15.2-2.8 1-.6-15.2 2zM495 357.2l14.9-3.9 1.1-.6-15 2.8z"/><path class="c38" d="M494 359.5l7.4-2.7 1.1-1.5-7.5 1.9z"/><path class="c39" d="M501.4 356.8l7.5-2.7 1-.8-7.4 2z"/><path class="c38" d="M492.9 362.3l7.5-3.6 1-1.9-7.4 2.7z"/><path class="c39" d="M500.4 358.7l7.5-3.6 1-1-7.5 2.7z"/><path class="c37" d="M491.9 365.5l7.5-4.6 1-2.2-7.5 3.6z"/><path class="c39" d="M499.4 360.9l7.4-4.5 1.1-1.3-7.5 3.6z"/><path class="v39_35" d="M490.8 369.1l15.1-11.2 1.1-1.6-15.2 9.2z"/><path class="v38_35" d="M489.7 372.7l15.2-13.3 1-1.5-15.2 11.2z"/><path class="v38_34" d="M488.7 376.4l15.1-15.4 1.1-1.6-15.2 13.3z"/><path class="v37_33" d="M487.7 380.2l15.1-16.9 1-2.3-15.1 15.4z"/><path class="v36_32" d="M486.7 384.1l15-18.3 1.1-2.5-15.1 16.9z"/><path class="v36_30" d="M485.7 388.2l15-20 1-2.4-15 18.3z"/><path class="v35_29" d="M484.7 392.7l14.9-22.1 1.1-2.4-15 20z"/><path class="v35_28" d="M483.6 397.5l14.9-24.5 1.1-2.4-15 22.1z"/><path class="v34_26" d="M482.6 402.8l14.9-27.2 1-2.6-14.9 24.4z"/><path class="v33_24" d="M481.6 409l14.8-30.7 1.1-2.8-14.9 27.3z"/><path class="v33_22" d="M480.6 416.6l14.8-35 1-3.3-14.8 30.7z"/><path class="v32_19" d="M479.7 427.1l14.6-40.6 1-4.9-14.7 35z"/><path class="v30_15" d="M478.8 438.9l14.4-46.1 1.1-6.3-14.6 40.6z"/><path class="v29_11" d="M477.8 452.8l14.4-52.1 1-7.9-14.5 46.1z"/><path class="v26_8" d="M476.9 464.3l14.3-53.7 1-9.9-14.4 52.1z"/><path class="v23_8" d="M475.8 463.6l14.4-39.5 1-13.5-14.3 53.7z"/><path class="v20_8" d="M474.6 454.6l14.7-14.7 .9-15.8-14.4 39.5z"/><path class="v16_10" d="M473.3 436.2l15 23.9 1-20.2-14.7 14.7z"/><path class="v23_6" d="M472 414.5l15.3 57 1-11.4-15-23.9z"/><path class="v27_6" d="M470.8 399.1l15.4 73.6 1.1-1.2-15.3-57z"/><path class="v31_6" d="M469.5 385.6l15.6 78.7 1.1 8.4-15.5-73.6z"/><path class="v35_9" d="M468.2 372.4l15.6 70.5 1.3 21.4-15.6-78.7z"/><path class="v38_16" d="M466.9 362.2l15.6 49 1.3 31.7-15.7-70.5z"/><path class="v40_25" d="M465.6 356.4l15.6 36.6 1.3 18.2-15.6-49z"/><path class="v41_31" d="M464.4 352.8l15.6 27.5 1.2 12.7-15.6-36.6z"/><path class="v42_34" d="M463.2 351.1l15.6 21.6 1.2 7.6-15.6-27.5z"/><path class="v42_37" d="M462 349.5l15.6 17.2 1.2 6-15.6-21.6z"/><path class="v43_38" d="M460.8 346.8l15.6 13.7 1.2 6.2-15.6-17.1z"/><path class="c43" d="M459.7 344.1l7.7 5.6 1.2 4-7.7-6.8z"/><path class="c42" d="M467.4 349.7l7.7 5.6 1.2 5.1-7.7-6.7z"/><path class="c44" d="M458.5 342l7.7 4.7 1.2 3-7.7-5.6z"/><path class="c43" d="M466.2 346.7l7.6 4.6 1.3 4-7.7-5.6z"/><path class="c44" d="M457.3 340.3l15.3 8 1.2 3-15.3-9.3z"/><path class="c31" d="M567.8 364.4l15.1 2.1 1.6 .3-15.1-1.5z"/><path class="c32" d="M566.2 363.1l15.1 2.4 1.6 1-15.1-2.1zM564.6 361.6l15.2 1.9 1.5 2-15.1-2.3z"/><path class="c33" d="M563 359.7l15.2 1.6 1.6 2.2-15.2-1.9z"/><path class="c34" d="M561.4 358.6l15.2 .5 1.6 2.2-15.2-1.6z"/><path class="c35" d="M559.7 358.3l15.4-1 1.5 1.9-15.2-.6zM558 359.2l15.4-3 1.7 1.1-15.4 1z"/><path class="c34" d="M556.5 360.6l7.5-2.4 1.7-.5-7.5 1.4z"/><path class="c36" d="M564 358.2l7.6-2.4 1.7 .4-7.6 1.5z"/><path class="c34" d="M554.7 362.4l7.6-3.2 1.7-1-7.5 2.4z"/><path class="c36" d="M562.3 359.2l7.6-3.2 1.7-.2-7.6 2.4z"/><path class="c34" d="M553 364l7.6-3.6 1.7-1.2-7.6 3.2z"/><path class="c35" d="M560.6 360.4l7.6-3.6 1.7-.8-7.6 3.2z"/><path class="c34" d="M551.2 365.1l7.6-3.2 1.8-1.5-7.6 3.6z"/><path class="c35" d="M558.8 361.9l7.6-3.2 1.8-1.9-7.6 3.6z"/><path class="c33" d="M549.5 365.8l7.6-2.6 1.7-1.3-7.6 3.2z"/><path class="c35" d="M557.1 363.2l7.6-2.7 1.7-1.8-7.6 3.2z"/><path class="c33" d="M547.7 366.1l7.6-2.4 1.8-.5-7.6 2.6z"/><path class="c35" d="M555.3 363.7l7.6-2.4 1.8-.8-7.6 2.7z"/><path class="c33" d="M545.9 366.1l7.6-2.2 1.8-.2-7.6 2.4z"/><path class="c35" d="M553.5 363.9l7.7-2.1 1.7-.5-7.6 2.4z"/><path class="c34" d="M544.2 365.7l7.6-2 1.7 .2-7.6 2.2z"/><path class="c35" d="M551.8 363.7l7.6-2.1 1.8 .2-7.7 2.1z"/><path class="c34" d="M542.4 365.1l7.6-1.8 1.8 .4-7.6 2z"/><path class="c35" d="M550 363.3l7.6-1.9 1.8 .2-7.6 2.1z"/><path class="c34" d="M540.6 364.6l7.6-1.5 1.8 .2-7.6 1.8z"/><path class="c35" d="M548.2 363.1l7.7-1.5 1.7-.2-7.6 1.9zM538.6 363.9l15.6-1.1 1.8-1.2-15.5 3zM536.8 363.1l15.5 2.1 1.9-2.4-15.6 1.1zM535 362.1l15.4 7 1.9-3.9-15.5-2.2zM533.3 361.3l7.5 5.8 1.9-1.6-7.6-3.4z"/><path class="c34" d="M540.8 367.1l7.6 5.7 1.9-3.8-7.6-3.5z"/><path class="c35" d="M531.4 360.4l7.6 7.2 1.8-.5-7.5-5.8z"/><path class="c34" d="M539 367.6l7.5 7.3 1.9-2.1-7.6-5.7z"/><path class="v36_33" d="M529.5 358.7l15.2 16.5 1.9-.2-15.3-14.8z"/><path class="c36" d="M527.7 356.9l5 5.9 1.9 1.4-5-5.4z"/><path class="c35" d="M532.7 362.8l5.1 5.8 1.8 1.1-5-5.5z"/><path class="c34" d="M537.8 368.6l5 5.9 1.8 .6-5-5.4z"/><path class="c37" d="M525.8 354.8l5 6 1.9 2-5-5.9z"/><path class="c36" d="M530.8 360.8l5.1 6.1 1.9 1.7-5.1-5.8z"/><path class="c34" d="M535.9 366.9l5 6.1 1.9 1.5-5-5.9z"/><path class="c38" d="M523.9 352.9l5 6 1.9 1.9-5-6z"/><path class="c36" d="M528.9 358.9l5.1 6 1.9 2-5.1-6.1z"/><path class="c35" d="M534 364.9l5.1 5.9 1.8 2.2-5-6.1z"/><path class="c39" d="M522 351.2l5 5.9 1.9 1.8-5-6z"/><path class="c37" d="M527 357.1l5.1 6 1.9 1.8-5.1-6z"/><path class="c36" d="M532.1 363.1l5.1 5.9 1.9 1.8-5.1-5.9z"/><path class="c39" d="M520 350.4l5.1 5.5 1.9 1.2-5-5.9z"/><path class="c38" d="M525.1 355.9l5.1 5.5 1.9 1.7-5.1-6z"/><path class="c36" d="M530.2 361.4l5.1 5.6 1.9 2-5.1-5.9z"/><path class="v40_36" d="M518.9 350.4l15.5 15.6 1 1.1-15.5-16.9z"/><path class="c39" d="M518 350.6l7.7 7.1 1 .5-7.7-7.7z"/><path class="c37" d="M525.7 357.7l7.7 7 .9 1.2-7.6-7.7z"/><path class="c39" d="M517 350.8l7.7 6.3 1 .6-7.7-7.1z"/><path class="c38" d="M524.7 357.1l7.7 6.3 1 1.3-7.7-7z"/><path class="c40" d="M516 351l7.7 5.5 1 .6-7.7-6.3z"/><path class="c38" d="M523.7 356.5l7.7 5.5 1 1.4-7.7-6.3z"/><path class="c40" d="M515 351.2l7.7 4.4 1 .9-7.7-5.5z"/><path class="c39" d="M522.7 355.6l7.8 4.4 .9 2-7.7-5.5zM513.9 351.4l15.7 6.9 1 1.7-15.7-8.9z"/><path class="c40" d="M512.8 351.6l15.8 5.7 1 1-15.7-6.9zM511.8 352.1l15.8 4.5 1 .7-15.8-5.7zM510.8 352.7l15.8 3.3 1 .6-15.8-4.5zM509.8 353.3l15.8 2.3 1 .4-15.8-3.3zM508.8 354.1l15.8 1.2 1 .3-15.8-2.3zM507.7 355.1l15.9 .1 1 .1-15.8-1.2zM506.7 356.4l15.9-.8 1-.4-15.9-.1zM505.6 358l16-1.9 1-.5-15.9 .8z"/><path class="c39" d="M504.6 359.5l15.9-2.7 1-.7-15.9 1.9zM503.7 361.1l15.6-3.4 1.1-.9-15.6 2.7z"/><path class="c38" d="M502.7 363.4l7.8-2.2 1-1.8-7.8 1.7z"/><path class="c39" d="M510.5 361.2l7.8-2.1 1-1.4-7.8 1.7z"/><path class="c38" d="M501.6 366l7.8-2.7 1.1-2.1-7.8 2.2z"/><path class="c39" d="M509.4 363.3l7.8-2.7 1.1-1.5-7.8 2.1z"/><path class="c37" d="M500.6 368.3l7.8-3.3 1-1.7-7.8 2.7z"/><path class="c38" d="M508.4 365l7.8-3.2 1-1.2-7.8 2.7z"/><path class="c37" d="M499.5 370.7l7.8-3.9 1.1-1.8-7.8 3.3z"/><path class="c38" d="M507.3 366.8l7.8-3.8 1.1-1.2-7.8 3.2z"/><path class="c36" d="M498.5 373.1l7.8-4.4 1-1.9-7.8 3.9z"/><path class="c38" d="M506.3 368.7l7.8-4.4 1-1.3-7.8 3.8z"/><path class="c36" d="M497.4 375.7l7.8-4.9 1.1-2.1-7.8 4.4z"/><path class="c37" d="M505.2 370.8l7.8-5 1.1-1.5-7.8 4.4z"/><path class="c35" d="M496.3 378.4l5.2-3.6 1.1-2.4-5.2 3.3z"/><path class="c36" d="M501.5 374.8l5.2-3.7 1.1-2-5.2 3.3z"/><path class="c37" d="M506.7 371.1l5.2-3.6 1.1-1.7-5.2 3.3z"/><path class="v37_34" d="M495.2 381.8l15.8-12.4 1-2-15.8 11.1z"/><path class="v36_32" d="M494.1 386.7l15.8-14.8 1.1-2.5-15.8 12.4z"/><path class="v36_30" d="M493.1 393.1l15.7-18 1.1-3.2-15.8 14.8z"/><path class="v35_28" d="M492.1 401l15.6-21.9 1.1-4.1-15.7 18.1z"/><path class="v34_25" d="M491.1 410.9l15.5-26.8 1.1-5-15.7 21.8z"/><path class="v33_21" d="M490.1 424.4l15.4-34.3 1.1-6-15.6 26.8z"/><path class="v31_17" d="M489.1 440.1l15.4-42.2 1-7.8-15.5 34.2z"/><path class="v29_11" d="M488.2 460.1l15.2-51.1 1-11.2-15.3 42.3z"/><path class="v25_8" d="M487.2 471.5l15.1-48.3 1-14.2-15.1 51.1z"/><path class="v21_7" d="M486.1 472.7l15.2-31.8 1-17.7-15.1 48.3z"/><path class="v17_7" d="M484.9 464.2l15.4-4.2 .9-19.1-15.1 31.8z"/><path class="v16_5" d="M483.7 442.7l15.5 38.3 1.1-21.1-15.4 4.3z"/><path class="v25_2" d="M482.4 410.9l15.7 80.5 1.1-10.4-15.5-38.3z"/><path class="v31_2" d="M481.1 392.8l15.9 86.3 1.1 12.3-15.7-80.5z"/><path class="v34_6" d="M479.9 380.1l15.9 57.2 1.2 41.8-15.9-86.3z"/><path class="v37_19" d="M478.7 372.4l16 41.9 1.1 23-15.9-57.2z"/><path class="v38_26" d="M477.4 366.4l16.1 31 1.1 16.9-16-41.9z"/><path class="v40_31" d="M476.2 360.3l16.1 25.7 1.2 11.4-16.1-31z"/><path class="v42_34" d="M475 355.1l16.1 21.7 1.2 9.2-16.1-25.7z"/><path class="v43_37" d="M473.8 351.2l16.1 16.7 1.2 8.9-16.1-21.6z"/><path class="v44_39" d="M472.5 348.2l16.3 11.7 1.1 8-16.2-16.7z"/><path class="c31" d="M582.6 366.5l15.5 3.2 1.6 .6-15.5-3.6z"/><path class="c32" d="M581 365.5l15.6 3.2 1.5 1-15.5-3.2zM579.5 363.4l15.6 3.6 1.5 1.7-15.6-3.2z"/><path class="c33" d="M577.9 361.2l15.7 3.6 1.5 2.3-15.6-3.6z"/><path class="c34" d="M576.4 359.1l15.6 3.7 1.6 2-15.7-3.5z"/><path class="c35" d="M574.8 357.3l15.7 4.3 1.5 1.3-15.7-3.8zM573.1 356.2l15.7 5 1.7 .4-15.7-4.3z"/><path class="c36" d="M571.5 355.8l15.7 5.5 1.6-.1-15.7-5zM569.8 355.9l15.7 6.1 1.7-.7-15.7-5.5zM568.1 356.8l15.7 6 1.7-.8-15.7-6.1zM566.3 358.6l15.8 5.2 1.7-1-15.7-6z"/><path class="c35" d="M564.5 360.5l15.9 4 1.7-.8-15.8-5.1zM562.8 361.3l15.9 3.3 1.7-.2-15.9-4zM561 361.8l16 2.5 1.7 .3-15.9-3.3zM559.3 361.6l16 2 1.7 .7-16-2.5z"/><path class="c36" d="M557.5 361.4l16.1 .9 1.7 1.3-16-2zM555.7 361.6l16.1-.6 1.8 1.4-16.1-1zM553.9 362.8l16.2-1.7 1.7-.1-16.1 .6zM552 365.2l16.3-3.5 1.8-.7-16.2 1.8z"/><path class="c35" d="M550.3 369l7.9-1.9 1.9-3.7-7.9 1.8z"/><path class="c36" d="M558.2 367.1l8-1.9 1.9-3.5-8 1.7z"/><path class="c34" d="M548.4 372.8l7.9-1.8 1.9-3.9-7.9 1.9z"/><path class="c35" d="M556.3 371l8-1.8 1.9-4-8 1.9z"/><path class="c33" d="M546.5 374.9l7.9-.9 1.9-3-7.9 1.8z"/><path class="c34" d="M554.4 374l8-1 1.9-3.8-8 1.8z"/><path class="c33" d="M544.5 375.1l16.1 .9 1.9-3-16.2 1.9zM542.6 374.4l16.1 4 1.9-2.4-16.1-.9zM540.8 372.9l16 7.2 1.9-1.7-16.1-4z"/><path class="c34" d="M539.1 370.8l7.8 5.4 1.9 .3-7.9-3.5z"/><path class="c33" d="M546.9 376.2l7.9 5.3 1.9-1.5-7.9-3.5z"/><path class="c34" d="M537.2 369l7.8 6.9 1.9 .3-7.8-5.4z"/><path class="c33" d="M545 375.9l7.9 6.9 1.9-1.3-7.9-5.3z"/><path class="c35" d="M535.3 367l7.8 7.9 1.9 1-7.8-6.9z"/><path class="c33" d="M543.1 374.9l7.9 7.9 1.9 0-7.9-6.9z"/><path class="c35" d="M534.3 365.9l5.3 5.6 .9 .8-5.2-5.3z"/><path class="c34" d="M539.6 371.5l5.2 5.5 .9 .5-5.2-5.2z"/><path class="c33" d="M544.8 377l5.2 5.6 1 .2-5.3-5.3z"/><path class="c36" d="M533.4 364.7l5.2 5.9 1 .9-5.3-5.6z"/><path class="c34" d="M538.6 370.6l5.2 5.8 1 .6-5.2-5.5z"/><path class="c33" d="M543.8 376.4l5.3 5.8 .9 .4-5.2-5.6z"/><path class="v37_33" d="M532.3 363.3l15.9 18.2 1 .9-15.9-17.8z"/><path class="v38_33" d="M531.3 361.8l16 18.3 .9 1.4-15.9-18.2z"/><path class="v38_33" d="M530.4 359.9l16 18.1 .9 2.1-16-18.2z"/><path class="v39_34" d="M529.4 358.1l16.1 17.1 .9 2.8-16-18.1z"/><path class="v39_35" d="M528.4 357.2l16.1 14.5 .9 3.5-16-17.1z"/><path class="c39" d="M527.5 356.5l8 5.9 1 2-8-7.1z"/><path class="c37" d="M535.5 362.4l8 5.8 .9 3.4-7.9-7.2z"/><path class="c39" d="M526.5 356l8 5 1 1.4-8-5.9z"/><path class="c38" d="M534.5 361l8 4.9 1 2.3-8-5.8z"/><path class="c40" d="M525.5 355.6l8 4.3 1 1.1-8-5z"/><path class="c39" d="M533.5 359.9l8.1 4.2 .9 1.8-8-4.9zM524.3 355.2l16.4 7.7 1 1.3-16.3-8.7z"/><path class="c40" d="M523.3 355.2l16.4 6.8 1 .9-16.4-7.7zM522.3 355.6l16.5 5.6 .9 .8-16.4-6.8zM521.3 356.1l16.4 4.5 1.1 .6-16.5-5.6zM520.2 356.8l16.5 3.5 1.1 .3-16.5-4.5zM519.2 357.7l16.5 2.5 1 .1-16.5-3.5zM518.1 359.1l16.6 1.8 1-.7-16.5-2.5zM517.1 360.6l16.5 1.1 1.1-.9-16.6-1.8z"/><path class="c39" d="M516 361.8l16.6 .7 1-.8-16.5-1.2zM515 363l16.6 .2 1-.7-16.6-.7zM513.9 364.3l16.6-.3 1.1-.8-16.6-.2zM512.9 365.8l16.6-1 1-.8-16.6 .3zM511.8 367.5l16.6-1.8 1-.9-16.6 1z"/><path class="c38" d="M510.7 369.5l16.6-2.8 1.1-1-16.6 1.8z"/><path class="c37" d="M509.8 372l8.2-2.2 1-1.7-8.1 1.4z"/><path class="c38" d="M518 369.8l8.1-2.1 1.1-1-8.2 1.4z"/><path class="c37" d="M508.7 375.2l8.2-3.2 1.1-2.2-8.2 2.2z"/><path class="c38" d="M516.9 372l8.1-3.2 1.1-1.1-8.1 2.1z"/><path class="c36" d="M507.6 379.2l8.2-4.1 1.1-3.1-8.2 3.2z"/><path class="c37" d="M515.8 375.1l8.2-4.1 1-2.2-8.1 3.2z"/><path class="v37_34" d="M506.4 384.3l16.6-10.4 1.1-3-16.6 8.3z"/><path class="v37_32" d="M505.4 390.3l16.5-12.9 1.1-3.5-16.6 10.3z"/><path class="v36_30" d="M504.3 398.1l16.5-16.4 1.1-4.4-16.6 13z"/><path class="v35_27" d="M503.2 409.3l16.5-21.7 1-6-16.4 16.5z"/><path class="v33_23" d="M502.2 423.4l16.3-28.5 1.1-7.4-16.4 21.7z"/><path class="v31_18" d="M501.1 441.2l16.3-38.4 1.1-8-16.4 28.6z"/><path class="v29_13" d="M500.1 460.1l16.1-46.8 1.1-10.5-16.2 38.4z"/><path class="v26_6" d="M499.1 481l16-50.2 1.1-17.5-16.1 46.8z"/><path class="v20_4" d="M498 491.4l15.9-38.4 1.1-22.2-16 50.2z"/><path class="v15_3" d="M496.8 479l16 4 1.1-30-15.9 38.4z"/><path class="v19_4" d="M495.7 437l15.9 55.2 1.2-9.2-15.9-3.9z"/><path class="v26_4" d="M494.5 414l16.1 59.5 1 18.7-15.9-55.2z"/><path class="v31_10" d="M493.4 397.1l16.2 49.9 1 26.5-16.1-59.5z"/><path class="v34_18" d="M492.2 385.7l16.3 45.9 1.1 15.4-16.3-49.9z"/><path class="v37_22" d="M491 376.5l16.5 40.6 1 14.5-16.4-45.9z"/><path class="v39_27" d="M489.8 367.7l16.6 32.2 1 17.2-16.5-40.6z"/><path class="v42_31" d="M488.5 359.7l16.8 21.2 1 19-16.6-32.2z"/><path class="c31" d="M597.8 369.7l16.2 2.4 1.5 .3-16.1-2.2z"/><path class="c32" d="M596.3 368.6l16.2 2.7 1.5 .8-16.2-2.4zM594.8 367l16.2 2.8 1.5 1.5-16.2-2.7z"/><path class="c33" d="M593.3 364.7l16.2 3 1.5 2.2-16.2-2.9z"/><path class="c34" d="M591.7 362.8l16.3 3.3 1.5 1.7-16.2-3.1z"/><path class="c35" d="M590.2 361.6l16.3 3.6 1.5 .9-16.3-3.3zM588.6 361.1l16.2 4.5 1.7-.4-16.3-3.6zM586.9 361.2l16.3 5 1.6-.6-16.2-4.5zM585.2 361.9l16.3 5.8 1.7-1.5-16.3-5zM583.5 362.7l16.3 6.4 1.7-1.4-16.3-5.9zM581.8 363.6l16.3 6.3 1.7-.8-16.3-6.4zM580.1 364.4l16.3 6.1 1.7-.6-16.3-6.3zM578.4 364.5l16.4 5.8 1.6 .2-16.3-6.1zM576.7 364.2l16.4 5.3 1.7 .8-16.4-5.8zM575 363.5l16.5 4.8 1.6 1.2-16.4-5.3z"/><path class="c36" d="M573.3 362.3l16.5 4.2 1.7 1.8-16.5-4.8zM571.5 360.9l16.7 3.8 1.6 1.8-16.5-4.2z"/><path class="c37" d="M569.8 361.1l16.7 2.3 1.7 1.3-16.7-3.8zM568 361.7l16.7 2.2 1.8-.5-16.7-2.4zM566.1 365.2l16.8-.7 1.8-.6-16.7-2.2z"/><path class="c36" d="M564.3 369.2l16.6-3 1.9-1.7-16.6 .7z"/><path class="c35" d="M562.4 373l8.3-2.2 1.9-3.1-8.3 1.5z"/><path class="c36" d="M570.7 370.8l8.3-2.2 1.9-2.4-8.3 1.5z"/><path class="c34" d="M560.5 376l8.3-2.6 1.9-2.6-8.3 2.2z"/><path class="c35" d="M568.8 373.4l8.4-2.5 1.8-2.3-8.3 2.2z"/><path class="c34" d="M558.6 378.3l8.3-2.6 1.9-2.3-8.3 2.6z"/><path class="c35" d="M566.9 375.7l8.4-2.5 1.9-2.3-8.4 2.5z"/><path class="c33" d="M556.7 380l8.3-2.3 1.9-2-8.3 2.6z"/><path class="c34" d="M565 377.7l8.4-2.4 1.9-2.1-8.4 2.5z"/><path class="c33" d="M554.8 381.5l8.3-2.1 1.9-1.7-8.3 2.3z"/><path class="c34" d="M563.1 379.4l8.4-2 1.9-2.1-8.4 2.4z"/><path class="c33" d="M552.9 382.8l8.3-1.8 1.9-1.6-8.3 2.1z"/><path class="c34" d="M561.2 381l8.4-1.7 1.9-1.9-8.4 2z"/><path class="c32" d="M551 382.8l8.3-.4 1.9-1.4-8.3 1.8z"/><path class="c33" d="M559.3 382.4l8.3-.3 2-2.8-8.4 1.7zM549.9 382.6l16.9 1.2 1-1.7-17 .7zM548.9 382.2l16.9 3.5 1-1.9-16.9-1.2z"/><path class="c32" d="M548 381.3l16.8 6.7 1-2.3-16.9-3.5zM547.1 379.9l16.7 10.3 1-2.3-16.8-6.6z"/><path class="c33" d="M546.3 377.9l8.2 6.8 .9 .4-8.2-5.1z"/><path class="c32" d="M554.5 384.7l8.1 6.9 1-1.5-8.2-5z"/><path class="v35_31" d="M545.2 375l16.6 17.5 1-.8-16.6-13.9z"/><path class="v36_31" d="M544.3 371.5l16.5 19.4 1 1.6-16.6-17.5z"/><path class="v37_31" d="M543.4 368.1l16.6 19.6 .8 3.3-16.5-19.5z"/><path class="v38_33" d="M542.5 365.8l16.6 18.2 .8 3.7-16.5-19.6z"/><path class="v38_34" d="M541.5 364l16.7 15.8 .9 4.2-16.7-18.2z"/><path class="c38" d="M540.6 362.9l8.3 6.5 .9 2.5-8.2-7.8z"/><path class="c36" d="M548.9 369.4l8.3 6.5 .9 3.8-8.3-7.8z"/><path class="c38" d="M539.6 361.9l8.3 5.4 1 2.1-8.3-6.5z"/><path class="c37" d="M547.9 367.3l8.4 5.3 .9 3.3-8.3-6.5z"/><path class="c39" d="M538.6 361.1l8.4 4.5 .9 1.7-8.3-5.4z"/><path class="c38" d="M547 365.6l8.3 4.6 1 2.4-8.4-5.3z"/><path class="c39" d="M537.5 360.5l17 8 1 1.7-17-9.2zM536.5 360.2l17 7.5 1 .8-17-8zM535.4 360.1l17.1 7.1 1 .5-17-7.5z"/><path class="c40" d="M534.4 360.8l17.1 6 1 .4-17.1-7.1zM533.3 361.7l17.2 4.9 1 .2-17.1-6zM532.3 362.4l17.2 4 1 .2-17.1-4.9zM531.3 363.2l17.2 3.3 1-.1-17.2-4zM530.2 364l17.3 2.6 1-.2-17.2-3.2z"/><path class="c39" d="M529.2 364.8l17.2 2 1.1-.2-17.3-2.6zM528.1 365.7l17.3 1.1 1 0-17.2-2zM527 366.7l17.4 .2 1-.1-17.3-1.1zM526 367.7l17.3-.2 1.1-.6-17.4-.2zM524.9 368.9l17.3-.6 1.1-.8-17.3 .2zM523.8 371l17.4-1.7 1-1.1-17.3 .6z"/><path class="c38" d="M522.9 374l17-3.2 1.1-1.5-17 1.7z"/><path class="c37" d="M521.8 377.4l8.5-2.3 1.1-2.7-8.5 1.6z"/><path class="c38" d="M530.3 375.1l8.6-2.2 1-2.1-8.5 1.6z"/><path class="c36" d="M520.7 381.8l8.5-3.2 1.1-3.5-8.5 2.3z"/><path class="c38" d="M529.2 378.6l8.6-3.2 1.1-2.5-8.6 2.2z"/><path class="v37_34" d="M519.4 387.8l17.4-9.4 1.1-3.1-17.4 6.5z"/><path class="v37_32" d="M518.3 395.1l17.4-13 1.1-3.7-17.4 9.3z"/><path class="v36_30" d="M517.2 403.1l17.3-16.9 1.1-4.2-17.3 13z"/><path class="v35_27" d="M516.1 413.5l17.3-21.9 1.1-5.5-17.3 16.9z"/><path class="v33_23" d="M514.9 431.1l17.3-30.6 1.1-9-17.3 22z"/><path class="v31_16" d="M513.8 453.3l17.1-40.6 1.2-12.2-17.2 30.5z"/><path class="v28_8" d="M512.6 483l17.1-54.1 1.2-16.2-17.2 40.6z"/><path class="v22_6" d="M511.5 492.2l16.9-45.5 1.2-17.8-17 54.1z"/><path class="v18_5" d="M510.4 473.4l16.8-9.6 1.2-17.1-16.9 45.5z"/><path class="v18_10" d="M509.5 446.7l16.5 31.5 1.3-14.3-16.8 9.6z"/><path class="v22_7" d="M508.4 431.3l16.4 57 1.2-10.1-16.5-31.5z"/><path class="v27_7" d="M507.4 416.8l16.3 72.3 1.1-.8-16.4-57z"/><path class="v31_7" d="M506.3 399.6l16.5 69 .9 20.6-16.3-72.4z"/><path class="v37_13" d="M505.1 380.7l17.1 37.6 .6 50.3-16.6-69z"/></g></g>
<path d="M401.5 324.8L407.6 479.0M407.6 479.0L521.3 522.8M521.3 522.8L610.6 472.8M401.5 324.9L398.9 325.9M402.5 350.2L399.9 351.2M403.5 374.9L400.9 376.0M404.5 399.1L401.9 400.2M405.4 422.8L402.8 423.8M406.3 446.0L403.7 447.0M407.2 468.6L404.6 469.7M407.6 479.0L405.3 480.3M433.0 488.8L430.7 490.0M460.2 499.3L457.9 500.5M489.6 510.6L487.3 511.8M521.3 522.8L519.0 524.1M420.1 483.8L418.8 484.5M446.3 493.9L445.0 494.7M474.6 504.8L473.3 505.5M505.1 516.6L503.8 517.3M541.8 511.3L544.2 512.3M571.0 495.0L573.4 496.0M597.1 480.4L599.5 481.3M525.9 520.2L527.3 520.8M556.8 503.0L558.2 503.5M584.4 487.5L585.8 488.0" stroke="#111" stroke-width=".95" fill="none"/>
<text font-family="Liberation Sans, sans-serif" stroke="#000" stroke-width=".45" font-size="10" text-anchor="end" transform="matrix(0.636 -0.253 0.030 0.755 398.3 328.9)">0</text>
<text font-family="Liberation Sans, sans-serif" stroke="#000" stroke-width=".45" font-size="10" text-anchor="end" transform="matrix(0.636 -0.253 0.030 0.755 399.3 354.2)">-2</text>
<text font-family="Liberation Sans, sans-serif" stroke="#000" stroke-width=".45" font-size="10" text-anchor="end" transform="matrix(0.636 -0.253 0.030 0.755 400.3 379.0)">-4</text>
<text font-family="Liberation Sans, sans-serif" stroke="#000" stroke-width=".45" font-size="10" text-anchor="end" transform="matrix(0.636 -0.253 0.030 0.755 401.2 403.2)">-6</text>
<text font-family="Liberation Sans, sans-serif" stroke="#000" stroke-width=".45" font-size="10" text-anchor="end" transform="matrix(0.636 -0.253 0.030 0.755 402.2 426.8)">-8</text>
<text font-family="Liberation Sans, sans-serif" stroke="#000" stroke-width=".45" font-size="10" text-anchor="end" transform="matrix(0.636 -0.253 0.030 0.755 403.1 450.0)">-10</text>
<text font-family="Liberation Sans, sans-serif" stroke="#000" stroke-width=".45" font-size="10" text-anchor="end" transform="matrix(0.636 -0.253 0.030 0.755 404.0 472.7)">-12</text>
<text font-family="Liberation Sans, sans-serif" stroke="#000" stroke-width=".45" font-size="10" text-anchor="middle" transform="matrix(0.597 0.230 -0.531 0.297 401.5 482.4)">1</text>
<text font-family="Liberation Sans, sans-serif" stroke="#000" stroke-width=".45" font-size="10" text-anchor="middle" transform="matrix(0.597 0.230 -0.531 0.297 426.9 492.2)">2</text>
<text font-family="Liberation Sans, sans-serif" stroke="#000" stroke-width=".45" font-size="10" text-anchor="middle" transform="matrix(0.597 0.230 -0.531 0.297 454.1 502.7)">3</text>
<text font-family="Liberation Sans, sans-serif" stroke="#000" stroke-width=".45" font-size="10" text-anchor="middle" transform="matrix(0.597 0.230 -0.531 0.297 483.5 514.0)">4</text>
<text font-family="Liberation Sans, sans-serif" stroke="#000" stroke-width=".45" font-size="10" text-anchor="middle" transform="matrix(0.597 0.230 -0.531 0.297 515.2 526.2)">5</text>
<text font-family="Liberation Sans, sans-serif" stroke="#000" stroke-width=".45" font-size="10" text-anchor="middle" transform="matrix(0.558 -0.313 0.567 0.219 548.5 513.9)">5</text>
<text font-family="Liberation Sans, sans-serif" stroke="#000" stroke-width=".45" font-size="10" text-anchor="middle" transform="matrix(0.558 -0.313 0.567 0.219 577.6 497.6)">10</text>
<text font-family="Liberation Sans, sans-serif" stroke="#000" stroke-width=".45" font-size="10" text-anchor="middle" transform="matrix(0.558 -0.313 0.567 0.219 603.8 482.9)">15</text>
<text font-family="Liberation Sans, sans-serif" font-weight="bold" font-size="10" text-anchor="middle" transform="matrix(0.053 1.339 -1.164 0.290 379.1 406.5)">Reflection Loss (dB)</text>
<text font-family="Liberation Sans, sans-serif" font-weight="bold" font-size="10" text-anchor="middle" transform="matrix(1.036 0.399 -0.916 0.513 443.9 508.6)">Thickness (mm)</text>
<text font-family="Liberation Sans, sans-serif" font-weight="bold" font-size="10" text-anchor="middle" transform="matrix(0.838 -0.469 1.026 0.395 591.5 506.4)">Frequency (GHz)</text>
<text font-family="Liberation Sans, sans-serif" font-weight="bold" font-size="14.4" x="370.3" y="333.9">(b')</text>
<linearGradient id="cgb" x1="0" y1="0" x2="0" y2="1"><stop offset="0" stop-color="#34a864"/><stop offset=".5" stop-color="#ffff6e"/><stop offset="1" stop-color="#586afa"/></linearGradient>
<rect x="628.3" y="316" width="6.6" height="146.4" fill="url(#cgb)" stroke="#8c8c8c" stroke-width=".7"/>
<rect x="628.3" y="316" width="6.6" height="1.1" fill="#e8f4ec"/><rect x="628.3" y="461.2" width="6.6" height="1.2" fill="#111"/>
<g font-family="Liberation Sans, sans-serif" font-size="5.65" fill="#000" stroke="#000" stroke-width=".25">
<text x="640.2" y="320.0">0.00</text>
<text x="640.2" y="334.4">-1.23</text>
<text x="640.2" y="348.7">-2.46</text>
<text x="640.2" y="363.0">-3.69</text>
<text x="640.2" y="377.3">-4.92</text>
<text x="640.2" y="391.6">-6.15</text>
<text x="640.2" y="406.0">-7.38</text>
<text x="640.2" y="420.3">-8.61</text>
<text x="640.2" y="434.6">-9.84</text>
<text x="640.2" y="448.9">-11.07</text>
<text x="640.2" y="463.2">-12.30</text>
</g>
<path d="M634.9 318.0h2.8M634.9 332.3h2.8M634.9 346.6h2.8M634.9 361.0h2.8M634.9 375.3h2.8M634.9 389.6h2.8M634.9 403.9h2.8M634.9 418.2h2.8M634.9 432.6h2.8M634.9 446.9h2.8M634.9 461.2h2.8" stroke="#222" stroke-width=".8"/>
</g>
<g id="qc"><g filter="url(#bls)"><g stroke-width=".7" stroke-linejoin="round"><path class="v43_36" d="M509 579.3l14.5 26.6 2-.7-14.5-25.7z"/><path class="v43_36" d="M507.1 578.9l14.5 27.4 2-.4-14.5-26.6z"/><path class="v43_37" d="M505.1 577.9l14.6 26.7 1.9 1.7-14.5-27.5z"/><path class="v44_38" d="M503.1 576.9l14.6 25.8 2 1.9-14.6-26.7z"/><path class="v44_38" d="M501.1 575.9l14.6 23.8 2 3-14.6-25.8z"/><path class="v44_40" d="M500.1 575.3l14.7 23.4 .9 .9-14.6-23.7z"/><path class="v45_40" d="M499 574.9l14.7 23.1 1.1 .7-14.7-23.4z"/><path class="v45_40" d="M497 575.4l14.7 21.9 2 .6-14.7-23z"/><path class="v45_40" d="M495 576.3l14.7 20.2 2 .8-14.7-21.9z"/><path class="v45_40" d="M492.9 577.7l14.7 17.9 2.1 .9-14.7-20.2z"/><path class="v45_41" d="M490.8 578.2l14.8 16.6 2.1 .7-14.8-17.8z"/><path class="v45_41" d="M488.7 578.3l14.8 16 2.1 .5-14.8-16.6z"/><path class="v45_41" d="M486.6 578.5l14.8 15.2 2.1 .6-14.7-16z"/><path class="c44" d="M484.7 578.7l7.3 7.1 2.1 .3-7.3-7.5z"/><path class="c42" d="M492 585.8l7.3 7.1 2 .7-7.2-7.5z"/><path class="c44" d="M482.5 578.9l7.3 6.7 2.2 .2-7.3-7.1z"/><path class="c43" d="M489.8 585.6l7.3 6.6 2.2 .7-7.3-7.1z"/><path class="c44" d="M480.4 579.1l7.3 6.1 2.1 .4-7.3-6.7z"/><path class="c43" d="M487.7 585.2l7.3 6.2 2.1 .8-7.3-6.6z"/><path class="c45" d="M478.2 579.2l7.4 5.6 2.1 .4-7.3-6.1z"/><path class="c43" d="M485.6 584.8l7.3 5.5 2.1 1.1-7.3-6.2z"/><path class="c45" d="M476.1 579.2l7.3 4.9 2.2 .7-7.4-5.6z"/><path class="c44" d="M483.4 584.1l7.3 4.9 2.2 1.3-7.3-5.5z"/><path class="c45" d="M473.9 579.2l7.3 4.6 2.2 .3-7.3-4.9z"/><path class="c44" d="M481.2 583.8l7.3 4.5 2.2 .7-7.3-4.9z"/><path class="c45" d="M472.3 579.4l7.3 4.4 1.6 0-7.3-4.6z"/><path class="c44" d="M479.6 583.8l7.3 4.4 1.6 .1-7.3-4.5z"/><path class="c45" d="M471.6 579.4l14.9 8.8 .5 0-14.9-8.9zM469.4 579.9l14.9 8.5 2.2-.2-14.9-8.8zM467.2 580.3l14.9 8.9 2.2-.8-14.9-8.5zM465.1 580.9l7.3 4.6 2.2-.7-7.3-4.4z"/><path class="c44" d="M472.4 585.5l7.4 4.6 2.2-1-7.4-4.3z"/><path class="c45" d="M462.8 581.3l7.4 4.9 2.2-.7-7.3-4.6z"/><path class="c44" d="M470.2 586.2l7.3 4.8 2.3-.9-7.4-4.6z"/><path class="c45" d="M460.6 581.8l7.3 4.8 2.3-.4-7.4-4.9z"/><path class="c44" d="M467.9 586.6l7.4 4.8 2.2-.4-7.3-4.8z"/><path class="c45" d="M458.3 582.2l7.4 4.8 2.2-.4-7.3-4.8z"/><path class="c44" d="M465.7 587l7.4 4.9 2.2-.5-7.4-4.8z"/><path class="c45" d="M456 582.6l7.4 4.6 2.3-.2-7.4-4.8z"/><path class="c44" d="M463.4 587.2l7.4 4.6 2.3 .1-7.4-4.9z"/><path class="c45" d="M453.7 582.8l7.4 4.1 2.3 .3-7.4-4.6z"/><path class="c44" d="M461.1 586.9l7.4 4.2 2.3 .7-7.4-4.6z"/><path class="c45" d="M451.3 582.9l15 7.5 2.3 .7-15-8.4zM448.9 583l15 6.8 2.4 .5-15-7.4zM446.6 583.2l15 6 2.3 .6-15-6.8zM445.8 583.2l15 5.8 .8 .2-15-6.1zM444.2 583.4l15 5.3 1.6 .3-14.9-5.8z"/><path class="c46" d="M441.8 583.6l15 4.7 2.4 .4-15-5.4zM439.4 583.9l15 4.2 2.4 .2-15-4.7zM438.8 584l14.9 4 .7 0-15-4.1zM437 584.3l15 3.6 1.7 .1-14.9-4zM434.6 584.6l15 3.3 2.4 0-15-3.7zM432.2 584.9l14.9 3.1 2.5-.1-15-3.3zM431.2 585l14.9 3 1 0-14.9-3.1zM429.7 585.3l15 2.8 1.4-.1-14.9-3zM427.2 585.6l15 2.8 2.5-.3-15-2.9zM424.8 586l14.9 2.6 2.5-.3-15-2.7zM422.3 586.3l14.9 2.7 2.5-.4-14.9-2.6zM419.7 586.7l15 2.6 2.5-.4-14.9-2.6zM417.2 587.1l15 2.5 2.5-.3-15-2.6zM414.6 587.4l15 2.5 2.6-.3-15-2.5zM412.1 587.7l14.9 2.6 2.6-.4-15-2.5zM409.4 587.2l15 2.5 2.6 .5-14.9-2.5z"/><path class="c47" d="M406.8 586l15 2.5 2.6 1.2-15-2.5zM404.2 589l15 2.6 2.6-3.1-15-2.5z"/><path class="c46" d="M401.7 591.9l15 2.7 2.5-3.1-15-2.6zM399 592l15 2.7 2.7-.1-15-2.7zM396.3 591.4l15 2.7 2.7 .6-15-2.7z"/><path class="v43_36" d="M523.4 605.9l15-19.7 1.9-.4-15 19.4z"/><path class="v43_36" d="M521.4 606.3l15-19.6 2-.5-15 19.7z"/><path class="v43_36" d="M519.5 604.5l15-17.2 1.9-.6-14.9 19.6z"/><path class="v43_37" d="M517.5 602.6l15-14.3 2-1-15 17.3z"/><path class="v42_37" d="M515.5 599.6l15-9.8 2-1.5-15 14.4z"/><path class="c39" d="M514.7 598.6l7.4-4 .9 .1-7.4 4.8z"/><path class="c41" d="M522.1 594.6l7.4-4 .9-.7-7.4 4.8z"/><path class="c40" d="M513.6 597.8l7.4-3.1 1.1-.1-7.4 4z"/><path class="c41" d="M521 594.7l7.4-3 1.1-1.1-7.4 4z"/><path class="c40" d="M511.6 597.1l7.4-1.3 2-1.1-7.4 3.1z"/><path class="c41" d="M519 595.8l7.4-1.4 2-2.7-7.4 3z"/><path class="c40" d="M509.4 596.3l15.1 4.6 2.1-6.5-15.1 2.7zM507.6 595.4l7.4 4.6 2-1.4-7.4-2.2z"/><path class="c39" d="M515 600l7.4 4.6 2-3.7-7.4-2.3z"/><path class="c40" d="M505.5 594.7l7.4 5.7 2.1-.4-7.4-4.6z"/><path class="c39" d="M512.9 600.4l7.5 5.7 2-1.5-7.4-4.6z"/><path class="c40" d="M503.4 594.2l7.5 7.6 2-1.4-7.4-5.7z"/><path class="c38" d="M510.9 601.8l7.4 7.6 2.1-3.3-7.5-5.7z"/><path class="v41_35" d="M501.2 593.5l15.2 21.7 2.1-5.7-15.2-15.5z"/><path class="v41_34" d="M499.2 592.8l15.1 26.9 2.1-4.5-15.1-21.7z"/><path class="v42_34" d="M497.1 592.1l15.2 31 2-3.4-15.1-26.9z"/><path class="v42_34" d="M494.9 591.2l15.3 32.7 2.1-.8-15.2-31z"/><path class="v42_34" d="M492.8 590.2l15.3 32.8 2.1 .9-15.2-32.7z"/><path class="v42_35" d="M490.6 588.8l15.3 30.4 2.2 3.8-15.3-32.8z"/><path class="v43_36" d="M488.5 588.2l15.3 26.6 2.1 4.4-15.3-30.4z"/><path class="v43_37" d="M486.8 588l15.4 23.5 1.6 3.3-15.3-26.6z"/><path class="v43_38" d="M486.3 588l15.3 22.5 .6 1-15.4-23.5z"/><path class="v43_38" d="M484.1 588.2l15.3 19.6 2.2 2.7-15.3-22.5z"/><path class="v43_39" d="M481.9 589l15.4 18.8 2.1 0-15.3-19.6z"/><path class="v43_39" d="M479.7 590l15.4 18.2 2.2-.4-15.4-18.8z"/><path class="v43_39" d="M477.4 590.9l15.5 18.8 2.2-1.6-15.4-18.1z"/><path class="v43_38" d="M475.2 591.3l15.5 20.7 2.2-2.3-15.4-18.9z"/><path class="v43_37" d="M473 591.7l15.5 24.3 2.2-4-15.5-20.7z"/><path class="v43_36" d="M470.7 591.7l15.6 28.9 2.2-4.6-15.5-24.3z"/><path class="v43_36" d="M468.4 590.9l15.6 30.6 2.3-.9-15.6-29z"/><path class="v43_37" d="M466.1 590.2l15.6 27.4 2.3 3.8-15.6-30.5z"/><path class="v44_38" d="M463.7 589.6l15.6 23.5 2.4 4.5-15.6-27.5z"/><path class="v45_39" d="M461.3 589l15.7 19.4 2.3 4.6-15.6-23.4z"/><path class="v45_40" d="M460.6 588.8l15.6 18.3 .8 1.3-15.7-19.4z"/><path class="v45_41" d="M459 588.5l15.6 15.6 1.6 3-15.6-18.3z"/><path class="c44" d="M456.7 588.3l7.6 5.5 2.5 2.5-7.7-7.7z"/><path class="c43" d="M464.3 593.8l7.7 5.5 2.4 4.7-7.6-7.7z"/><path class="c45" d="M454.3 588l7.6 3.6 2.4 2.2-7.6-5.5z"/><path class="c44" d="M461.9 591.6l7.6 3.7 2.5 4-7.7-5.5z"/><path class="c45" d="M453.5 587.9l15.5 6.8 .7 .6-15.6-7.4zM451.7 587.8l15.6 6 1.7 .9-15.5-6.8zM449.3 587.8l15.5 5.5 2.5 .5-15.6-6zM446.9 587.9l15.5 5.3 2.4 .1-15.5-5.5z"/><path class="c46" d="M445.9 587.9l15.5 5.3 1 0-15.5-5.3zM444.4 588l15.5 5.3 1.5-.1-15.5-5.3zM441.9 588.3l15.6 4.9 2.5 0-15.6-5.2zM439.4 588.6l15.6 4.5 2.5 .1-15.6-4.9zM436.9 588.9l15.6 4.1 2.5 .1-15.6-4.5zM434.4 589.2l15.6 3.7 2.5 .1-15.6-4.1zM431.9 589.5l15.5 3.4 2.6 0-15.6-3.7zM429.3 589.9l15.6 3 2.5 0-15.5-3.4zM426.7 590.2l15.6 2.8 2.6-.1-15.6-3zM424.1 589.7l15.6 2.6 2.6 .7-15.6-2.8z"/><path class="c47" d="M421.5 588.5l15.5 2.6 2.7 1.2-15.6-2.6zM418.9 591.5l15.6 2.7 2.5-3.1-15.5-2.6z"/><path class="c46" d="M416.4 594.5l15.5 2.8 2.6-3.1-15.6-2.7zM413.7 594.7l15.6 2.7 2.6-.1-15.5-2.8zM411 594l15.6 2.8 2.7 .6-15.6-2.8z"/><path class="c43" d="M538.1 586.4l15.6-.7 2-.5-15.7 .7zM536.2 586.9l15.6-.7 1.9-.5-15.6 .6zM534.2 587.4l15.7-.6 1.9-.6-15.6 .7zM532.3 588.4l15.6-1 2-.7-15.7 .7zM530.3 589.9l15.6-1.9 2-.7-15.6 1.1zM529.3 590.6l15.7-2.2 .9-.4-15.6 1.9zM528.3 591.7l15.7-2.8 1-.5-15.7 2.2z"/><path class="c42" d="M526.4 594.4l7.7-2.2 2-1.9-7.7 1.4z"/><path class="c43" d="M534.1 592.2l7.7-2.1 2-1.2-7.7 1.4z"/><path class="c41" d="M524.4 600.9l7.7-4.5 2-4.2-7.7 2.2z"/><path class="c42" d="M532.1 596.4l7.7-4.6 2-1.7-7.7 2.1z"/><path class="c39" d="M522.4 604.6l5.1-3.6 2-3.1-5.1 3z"/><path class="c41" d="M527.5 601l5.1-3.6 2.1-2.5-5.2 3z"/><path class="c42" d="M532.6 597.4l5.2-3.6 2-2-5.1 3.1z"/><path class="c39" d="M520.4 606.1l5.1-3.6 2-1.5-5.1 3.6z"/><path class="c40" d="M525.5 602.5l5.1-3.6 2-1.5-5.1 3.6z"/><path class="c41" d="M530.6 598.9l5.1-3.6 2.1-1.5-5.2 3.6z"/><path class="c38" d="M518.3 609.4l5.2-4.2 2-2.7-5.1 3.6z"/><path class="c40" d="M523.5 605.2l5.1-4.2 2-2.1-5.1 3.6z"/><path class="c41" d="M528.6 601l5.1-4.2 2-1.5-5.1 3.6z"/><path class="v41_36" d="M516.2 615.2l15.6-17.2 2-1.3-15.6 12.8z"/><path class="v40_35" d="M514.2 619.7l15.5-20.1 2-1.6-15.5 17.2z"/><path class="c35" d="M512.2 622.9l3.8-5 2.1-3.3-3.8 5z"/><path class="c36" d="M516 617.9l3.8-5 2.1-3.3-3.8 5z"/><path class="c38" d="M519.8 612.9l3.9-5 2-3.2-3.8 4.9z"/><path class="c40" d="M523.7 607.9l3.8-5 2.1-3.2-3.9 5z"/><path class="v40_34" d="M510 623.8l15.5-16.7 2.1-4.3-15.5 20.2z"/><path class="v39_34" d="M507.9 622.9l15.5-9.9 2.1-5.9-15.5 16.7z"/><path class="c35" d="M506.9 620.9l7.7-1.2 1.1-1.8-7.7 4.9zM505.9 619l7.6 2.5 1.1-1.8-7.7 1.2z"/><path class="c36" d="M514.6 619.7l7.7-1.2 1-5.5-7.6 4.9z"/><path class="c35" d="M513.5 621.5l7.7 2.5 1.1-5.5-7.7 1.2z"/><path class="v36_28" d="M503.6 614.5l15.6 31 2.2-21.5-15.6-5.1z"/><path class="v38_0" d="M502.1 611.2l15.7 125.7 1.5-91.6-15.6-30.8z"/><path class="v38_0" d="M501.5 610.3l15.7 80.2 .6 46.4-15.7-125.7z"/><path class="v39_15" d="M499.3 607.5l15.7 32.9 2.2 50.1-15.7-80.2z"/><path class="v39_30" d="M497.1 607.5l15.7 19.9 2.2 13.1-15.7-32.9z"/><path class="v39_34" d="M494.9 607.9l15.7 15.8 2.2 3.7-15.7-19.8z"/><path class="c38" d="M492.8 609.6l7.8 6.5 2.1-.3-7.7-7.8z"/><path class="c36" d="M500.6 616.1l7.7 6.6 2.2 .9-7.8-7.8z"/><path class="c38" d="M490.6 611.9l7.8 5.4 2.2-1.2-7.8-6.5z"/><path class="c36" d="M498.4 617.3l7.7 5.3 2.2 .1-7.7-6.6z"/><path class="c37" d="M488.4 615.9l7.8 3.6 2.2-2.2-7.8-5.4z"/><path class="c36" d="M496.2 619.5l7.7 3.7 2.2-.6-7.7-5.3zM486.1 620.4l15.7 5.5 2.3-2.7-15.8-7.4z"/><path class="c35" d="M483.8 621.3l15.8 8.9 2.2-4.4-15.7-5.4z"/><path class="v37_33" d="M481.5 617.4l15.9 19.2 2.2-6.4-15.8-9z"/><path class="v39_29" d="M479.2 612.8l16 36.3 2.2-12.5-15.8-19.3z"/><path class="v40_21" d="M476.8 608.2l16.4 68.3 2-27.5-16-36.2z"/><path class="v41_18" d="M476.1 606.8l16.6 82.1 .5-12.4-16.4-68.3z"/><path class="v41_18" d="M474.4 603.9l16.4 59 1.9 26-16.6-82.1z"/><path class="v43_26" d="M472 599.2l16.2 36.1 2.6 27.6-16.4-59z"/><path class="v44_34" d="M469.5 595.1l16.1 22.3 2.6 17.9-16.3-36.1z"/><path class="v44_39" d="M468.8 594.6l16.1 20.2 .7 2.6-16.1-22.2z"/><path class="v45_40" d="M467 593.6l16.1 16.4 1.8 4.8-16.1-20.2z"/><path class="c44" d="M464.7 593.3l7.9 5.1 2.5 3.4-8-8.1z"/><path class="c43" d="M472.6 598.4l7.9 5.1 2.5 6.4-7.9-8.1z"/><path class="c45" d="M462.3 593.2l7.9 4.5 2.4 .7-7.9-5.1z"/><path class="c44" d="M470.2 597.7l7.9 4.5 2.4 1.3-7.9-5.1zM461.1 593.1l16.1 8.9 1 .3-16.1-9.2zM459.7 593.1l16.1 8.5 1.5 .4-16.2-8.9z"/><path class="c45" d="M457.2 593.1l16.1 8 2.5 .5-16.1-8.5zM454.7 593l16.2 7.7 2.4 .4-16.1-8zM452.2 592.9l16.2 7 2.5 .8-16.2-7.8zM449.7 592.8l16.1 6.2 2.6 .9-16.2-7z"/><path class="c46" d="M447.1 592.8l16.2 5.5 2.5 .7-16.1-6.2zM444.6 592.8l16.1 4.9 2.6 .6-16.2-5.5zM442 592.9l16.1 4 2.6 .8-16.1-4.9zM439.4 592.2l16.1 3.2 2.6 1.5-16.1-4z"/><path class="c47" d="M436.7 591.1l16.2 2.7 2.6 1.6-16.1-3.2zM434.2 594.2l16.1 2.8 2.6-3.2-16.2-2.8z"/><path class="c46" d="M431.6 597.3l16.2 2.8 2.5-3.2-16.1-2.8zM429 597.4l16.1 2.8 2.7-.1-16.2-2.9zM426.3 596.8l16.1 2.8 2.7 .6-16.1-2.8z"/><path class="c43" d="M553.4 585.7l16.1 2.7 1.9-.3-16-2.9z"/><path class="c44" d="M551.5 586.2l16.1 2.1 1.9 .1-16.1-2.8zM549.6 586.7l16.1 1.5 1.9 .1-16.1-2.1zM547.6 587.4l16.2 .2 1.9 .5-16.1-1.4zM545.6 588.1l16.3-1.1 1.9 .6-16.2-.2zM544.7 588.4l16.2-1.6 1 .2-16.3 1.1zM543.7 588.9l16.2-2.2 1 .1-16.2 1.6zM541.7 590.1l16.2-2.5 2-.9-16.2 2.2z"/><path class="c43" d="M539.6 591.9l16.3-2 2-2.3-16.2 2.5zM537.6 593.8l16.3-1.6 2-2.3-16.3 1.9zM535.6 595.4l16.3-1.8 2-1.4-16.3 1.6z"/><path class="c42" d="M533.6 596.8l16.2-2.1 2.1-1.1-16.3 1.7zM531.5 598.1l16.3-2.4 2-1.1-16.2 2.2zM529.4 599.7l16.3-2.9 2.1-1.1-16.3 2.4z"/><path class="c41" d="M527.5 602.9l8-2.5 2.1-2.1-8 1.4z"/><path class="c42" d="M535.5 600.4l8-2.5 2.1-1.1-8 1.5z"/><path class="c40" d="M525.4 607.2l8-3.9 2.1-2.9-8 2.5z"/><path class="c42" d="M533.4 603.3l8-3.8 2.1-1.6-8 2.5z"/><path class="v41_38" d="M523.2 613.1l16.3-10.5 2-3.2-16.2 7.9z"/><path class="v41_35" d="M521.1 624.1l16.2-15.1 2.1-6.5-16.2 10.5z"/><path class="v39_29" d="M519.1 645.5l16-28.4 2.2-8.2-16.2 15.1z"/><path class="v37_0" d="M517.8 736.9l15.7-111.3 1.6-8.6-16 28.2z"/><path class="v35_0" d="M517.1 690.5l15.8-62.7 .5-2.2-15.6 111.3z"/><path class="v34_15" d="M514.8 640.2l16-9.5 2.1-2.9-15.8 62.7z"/><path class="v36_30" d="M512.6 627.2l16.1-3.7 2.2 7.4-16.1 9.6z"/><path class="c35" d="M510.5 623.6l8-2.4 2.2 4.2-8 1.9z"/><path class="c36" d="M518.5 621.2l8-2.3 2.1 4.7-7.9 1.8zM508.3 622.7l8-3.8 2.2 2.3-8 2.4z"/><path class="c37" d="M516.3 618.9l8-3.8 2.2 3.8-8 2.3zM506.1 622.6l8-4.2 2.2 .5-8 3.8z"/><path class="c38" d="M514.1 618.4l8-4.3 2.2 1-8 3.8z"/><path class="c37" d="M503.9 623.2l8-5.6 2.2 .8-8 4.2z"/><path class="c39" d="M511.9 617.6l8-5.5 2.2 2-8 4.3z"/><path class="v40_35" d="M501.6 625.9l16.2-14.2 2.2 .3-16.2 11.3z"/><path class="v40_35" d="M499.4 630.2l16.1-18.2 2.3-.3-16.2 14.2z"/><path class="v39_33" d="M497.2 636.6l16.1-23.1 2.2-1.5-16.1 18.2z"/><path class="v39_30" d="M495.1 649.1l15.9-33.6 2.3-2-16.1 23.1z"/><path class="v39_22" d="M493.2 676.5l15.5-57.6 2.3-3.4-15.9 33.5z"/><path class="v38_18" d="M492.6 688.9l15.4-68.4 .7-1.6-15.5 57.6z"/><path class="v38_18" d="M490.7 662.8l15.7-37.4 1.6-4.9-15.4 68.4z"/><path class="v37_26" d="M488 635.1l16.3 2.3 2.2-12-15.8 37.5z"/><path class="v39_28" d="M485.5 617.2l16.5 43 2.3-22.8-16.3-2.3z"/><path class="v40_27" d="M484.8 614.6l16.6 48.5 .7-2.9-16.6-43z"/><path class="v41_27" d="M483 609.7l16.7 43.2 1.7 10.2-16.6-48.5z"/><path class="v43_30" d="M480.5 603.4l16.7 31.1 2.5 18.4-16.7-43.2z"/><path class="v43_35" d="M478 602.1l16.7 22.6 2.5 9.8-16.7-31.1z"/><path class="v44_38" d="M477 601.8l16.7 20.4 1 2.5-16.7-22.6z"/><path class="v44_39" d="M475.6 601.4l16.7 17.8 1.4 3-16.7-20.4z"/><path class="v44_40" d="M473.1 601l16.7 14.4 2.5 3.8-16.7-17.8z"/><path class="c43" d="M470.7 600.6l8.3 5.8 2.4 1.8-8.2-7.1z"/><path class="c42" d="M479 606.4l8.2 5.8 2.5 3.1-8.3-7.1z"/><path class="c44" d="M468.2 599.8l8.3 5 2.5 1.6-8.3-5.8z"/><path class="c43" d="M476.5 604.8l8.2 5 2.5 2.4-8.2-5.8z"/><path class="c44" d="M465.7 598.9l16.5 8.9 2.5 2-16.5-10zM463 598.2l16.8 6.8 2.5 2.9-16.7-9z"/><path class="c45" d="M460.4 597.6l16.8 5 2.6 2.4-16.8-6.8z"/><path class="c46" d="M457.9 596.8l16.7 4 2.6 1.8-16.8-5zM455.2 595.3l16.8 2.8 2.6 2.8-16.7-4z"/><path class="c47" d="M452.6 593.7l16.8 2.9 2.6 1.5-16.8-2.8zM450 596.9l16.8 2.9 2.6-3.2-16.8-2.9z"/><path class="c46" d="M447.5 600.1l16.7 2.9 2.6-3.2-16.8-3zM444.8 600.2l16.8 3 2.6-.2-16.7-3zM442.1 599.6l16.8 3 2.7 .6-16.8-3z"/><path class="c43" d="M569.4 588.3l8 6.6 1.9 .9-8-7.7z"/><path class="c41" d="M577.4 594.9l8.1 6.6 1.8 2.1-8-7.8z"/><path class="c43" d="M567.5 588.3l8.1 5.6 1.8 1-8-6.6z"/><path class="c41" d="M575.6 593.9l8.1 5.6 1.8 2-8.1-6.6z"/><path class="c43" d="M565.6 588.1l8.1 4.8 1.9 1-8.1-5.6z"/><path class="c42" d="M573.7 592.9l8.1 4.8 1.9 1.8-8.1-5.6z"/><path class="c43" d="M563.6 587.6l8.2 4 1.9 1.3-8.1-4.8z"/><path class="c42" d="M571.8 591.6l8.1 4 1.9 2.1-8.1-4.8z"/><path class="c43" d="M561.6 586.9l16.6 6.6 1.9 2.2-16.6-8.2z"/><path class="c44" d="M560.7 586.7l16.6 5.8 .9 1-16.6-6.6zM559.6 586.7l16.7 4.8 1 1-16.6-5.7zM557.6 587.6l16.8 3 1.9 .9-16.7-4.8zM555.6 589.9l16.8 1.6 2-1-16.8-2.9zM553.6 592.2l16.8 .9 2-1.7-16.8-1.5z"/><path class="c43" d="M551.6 593.6l16.8 .6 2-1.1-16.8-.9zM549.5 594.7l16.9 .3 2-.8-16.8-.6zM547.5 595.7l16.9 .2 2-.9-16.9-.4zM545.4 596.8l16.9 .2 2.1-1.1-16.9-.2zM543.4 598l16.9 .4 2-1.4-16.9-.2z"/><path class="c42" d="M541.3 599.5l16.9 .6 2.1-1.7-16.9-.5zM539.2 602.7l16.9-.4 2.1-2.2-16.9-.7z"/><path class="c41" d="M537.2 609l16.6-3.3 2.1-3.5-16.6 .4z"/><path class="c39" d="M536.1 613.1l8.3-2 1.1-3.7-8.3 1.6z"/><path class="c38" d="M535 617.2l8.3-2.3 1.1-3.8-8.3 2z"/><path class="c40" d="M544.4 611.1l8.3-1.9 1.1-3.5-8.3 1.7z"/><path class="c39" d="M543.3 614.9l8.3-2.3 1.1-3.4-8.3 1.9z"/><path class="v39_36" d="M533.3 625.9l16.9-9.5 1.6-3.9-16.9 4.7z"/><path class="v38_35" d="M532.8 628.1l16.8-10.9 .5-.8-16.8 9.5z"/><path class="c35" d="M530.7 630.9l5.6-4.3 2.1-2.2-5.5 3.6z"/><path class="c36" d="M536.3 626.6l5.5-4.2 2.2-1.6-5.6 3.6z"/><path class="c38" d="M541.8 622.4l5.6-4.2 2.1-1-5.5 3.6z"/><path class="v38_34" d="M528.5 623.6l16.9-6.8 2.1 1.3-16.8 12.9z"/><path class="c37" d="M526.5 618.9l8.3-2.3 2.1 3.6-8.3 3.4z"/><path class="c39" d="M534.8 616.6l8.3-2.2 2.1 2.5-8.3 3.3zM524.3 615.1l8.3-1.8 2.2 3.3-8.3 2.3z"/><path class="c40" d="M532.6 613.3l8.4-1.8 2.1 2.9-8.3 2.2z"/><path class="c39" d="M522.1 614.1l8.4-2.7 2.1 1.9-8.3 1.8z"/><path class="c41" d="M530.5 611.4l8.3-2.8 2.2 2.9-8.4 1.8z"/><path class="c40" d="M519.9 612.1l8.4-2.5 2.2 1.8-8.4 2.7z"/><path class="c41" d="M528.3 609.6l8.3-2.4 2.2 1.4-8.3 2.8z"/><path class="c40" d="M517.7 611.8l8.3-2 2.3-.2-8.4 2.5z"/><path class="c42" d="M526 609.8l8.4-2.1 2.2-.5-8.3 2.4z"/><path class="c41" d="M515.3 612.1l17-3.9 2.3-.5-17.1 4.2zM513.2 613.7l8.4-2.4 2.2-1.1-8.4 1.9z"/><path class="c42" d="M521.6 611.3l8.3-2.4 2.3-.7-8.4 2z"/><path class="c40" d="M510.9 615.6l8.4-3 2.3-1.3-8.4 2.4z"/><path class="c41" d="M519.3 612.6l8.4-2.9 2.2-.8-8.3 2.4z"/><path class="c40" d="M508.6 619l8.4-3.7 2.3-2.7-8.4 3z"/><path class="c41" d="M517 615.3l8.4-3.6 2.3-2-8.4 2.9z"/><path class="c39" d="M507.9 620.6l8.4-4.1 .7-1.2-8.4 3.7z"/><path class="c41" d="M516.3 616.5l8.4-4.2 .7-.6-8.4 3.6z"/><path class="v41_38" d="M506.3 625.7l16.9-11.7 1.6-1.7-17 8.4z"/><path class="v40_35" d="M504.1 637.6l16.8-19.8 2.3-3.9-17 11.7z"/><path class="v40_28" d="M501.9 660.2l16.7-36.4 2.3-6.1-16.9 19.8z"/><path class="v37_29" d="M501.3 663.1l16.6-36.8 .6-2.5-16.6 36.4z"/><path class="v38_27" d="M499.5 652.8l16.8-17.9 1.6-8.6-16.6 36.8z"/><path class="v36_31" d="M497 634.3l17 15.9 2.3-15.3-16.8 18z"/><path class="v38_28" d="M494.6 624.5l17 41.7 2.4-16.1-17-15.8z"/><path class="v39_27" d="M493.6 621.9l17.1 46.8 .9-2.5-17-41.7z"/><path class="v40_27" d="M492.1 618.9l17.2 43.1 1.4 6.7-17.1-46.8z"/><path class="v41_29" d="M489.6 615.2l17.2 34.9 2.5 11.9-17.2-43.1z"/><path class="v42_33" d="M487.1 612.1l17.3 27.4 2.4 10.6-17.2-34.9z"/><path class="v43_36" d="M484.6 609.7l17.3 19.7 2.5 10.1-17.3-27.4z"/><path class="v43_38" d="M482.1 607.7l17.3 11.8 2.5 9.9-17.3-19.7z"/><path class="c43" d="M480.9 606.4l8.5 4.7 1.3 2.5-8.5-5.8z"/><path class="c44" d="M479.6 605l8.6 3.6 1.2 2.5-8.5-4.7z"/><path class="c42" d="M489.4 611.1l8.6 4.7 1.2 3.7-8.5-5.9z"/><path class="c43" d="M488.2 608.6l8.5 3.6 1.3 3.6-8.6-4.7z"/><path class="c44" d="M476.9 602.5l17.4 8.4 2.5 1.3-17.3-7.3z"/><path class="c45" d="M474.3 600.8l17.4 4.9 2.6 5.2-17.4-8.4z"/><path class="c46" d="M471.7 598l17.4 3.1 2.6 4.6-17.4-4.9z"/><path class="c47" d="M469.1 596.5l17.4 3 2.6 1.6-17.4-3.1zM466.5 599.8l17.4 3 2.6-3.4-17.4-2.9z"/><path class="c46" d="M463.9 603l17.5 3.1 2.5-3.4-17.4-3zM461.3 603.1l17.4 3.1 2.7-.2-17.5-3.1zM458.6 602.5l17.5 3.1 2.6 .6-17.4-3.1z"/><path class="v40_35" d="M585.4 601.4l16.5 21.6 2-4.8-16.7-14.7z"/><path class="v41_34" d="M583.6 599.4l16.3 28.1 2-4.5-16.5-21.6z"/><path class="v41_33" d="M581.7 597.6l16.2 33.2 2-3.4-16.3-28z"/><path class="v42_33" d="M579.9 595.5l16.4 26 1.6 9.3-16.2-33.2z"/><path class="v43_36" d="M578 593.4l16.9 15.3 1.4 12.8-16.4-26z"/><path class="v43_39" d="M577.1 592.4l17 12.8 .7 3.6-16.8-15.4z"/><path class="c43" d="M576.2 591.5l8.4 5.4 1 1.9-8.4-6.3z"/><path class="c42" d="M584.6 596.9l8.4 5.4 .9 2.9-8.3-6.4z"/><path class="c44" d="M574.2 590.5l8.5 4.8 1.9 1.6-8.4-5.4z"/><path class="c42" d="M582.7 595.3l8.4 4.7 1.9 2.3-8.4-5.4z"/><path class="c43" d="M572.1 591.4l17.2 8.3 2 .4-17.2-9.7zM570.1 593l17.3 7.7 2-1-17.3-8.3zM568.1 594.1l17.3 7 2-.4-17.3-7.7zM566.1 595l17.3 5.7 2 .3-17.3-6.9zM564.1 595.9l17.4 4.2 1.9 .6-17.3-5.7zM562 597l17.5 3.4 2-.3-17.4-4.3zM560 598.4l17.4 2.7 2.1-.7-17.5-3.5zM557.9 600.1l17.5 2.1 2-1.1-17.4-2.7z"/><path class="c42" d="M555.8 602.2l17.5 1.5 2.1-1.6-17.5-2.1zM553.7 605.7l17.5 .5 2.1-2.6-17.5-1.4z"/><path class="c41" d="M551.6 612.6l17.3-2.7 2.2-3.8-17.3-.4z"/><path class="c40" d="M550 616.5l17.3-3.9 1.6-2.7-17.3 2.7z"/><path class="c39" d="M549.5 617.2l17.3-3.7 .5-.9-17.3 3.9zM547.2 618.2l17.6-3.2 2.1-1.5-17.6 3.8zM545.2 616.9l17.4-3 2 1.1-17.2 3.2z"/><path class="c40" d="M543.1 614.4l17.3-1.7 2.2 1.2-17.4 3z"/><path class="c41" d="M540.8 611.4l17.7 0 2.1 1.3-17.6 1.7zM538.7 608.6l17.6 1 2.2 1.8-17.7 .1z"/><path class="c42" d="M536.5 607.2l17.7 1.1 2.1 1.3-17.6-1zM534.3 607.7l17.7 .4 2.2 .2-17.7-1.1zM532 608.2l17.8-.1 2.2 0-17.7-.4zM529.8 608.9l17.7-.5 2.3-.3-17.8 .1zM527.5 609.7l17.8-.7 2.2-.6-17.7 .5zM525.2 611.7l17.8-2.2 2.3-.5-17.8 .7zM524.5 612.4l17.8-2.5 .7-.4-17.8 2.2zM522.9 614.1l17.8-2.9 1.6-1.3-17.8 2.4z"/><path class="c41" d="M520.8 617.9l8.7-2.5 2.3-2.8-8.7 1.4z"/><path class="c42" d="M529.5 615.4l8.8-2.5 2.3-1.7-8.8 1.4z"/><path class="c40" d="M518.5 623.9l8.7-4.1 2.3-4.4-8.7 2.5z"/><path class="c41" d="M527.2 619.8l8.8-4.1 2.3-2.8-8.8 2.5z"/><path class="c39" d="M517.8 626.4l8.8-4.9 .6-1.7-8.7 4.1z"/><path class="c41" d="M526.6 621.5l8.7-4.9 .7-.9-8.8 4.1z"/><path class="v41_37" d="M516.1 635.1l17.6-15.9 1.7-2.7-17.7 10z"/><path class="v40_33" d="M513.8 650.2l17.6-23.7 2.3-7.3-17.7 15.8z"/><path class="v38_29" d="M511.5 666.2l17.5-33.9 2.3-5.8-17.6 23.6z"/><path class="c29" d="M510.6 668.5l4.4-8.2 .9-2.6-4.3 8.4z"/><path class="c31" d="M515 660.3l4.3-8.3 .9-2.7-4.3 8.4z"/><path class="c34" d="M519.3 652l4.3-8.2 1-3-4.4 8.5z"/><path class="c36" d="M523.6 643.8l4.3-8.3 1-3.1-4.3 8.4z"/><path class="v37_27" d="M509.1 662l17.5-21.6 1.4-5-17.4 33.3z"/><path class="v36_30" d="M506.6 650l17.7-1.4 2.3-8.2-17.5 21.6z"/><path class="v36_31" d="M504.2 639.2l17.6 21.4 2.5-12-17.7 1.4z"/><path class="v38_31" d="M501.7 629.2l17.7 33.6 2.4-2.2-17.6-21.4z"/><path class="v41_31" d="M499.2 619.3l17.8 27.1 2.4 16.4-17.7-33.6z"/><path class="v43_35" d="M496.6 612l18 16.8 2.4 17.6-17.9-27z"/><path class="c43" d="M495.4 611.5l8.9 5.3 1.3 3.7-8.9-8.3zM494.2 610.8l8.8 2.4 1.3 3.6-8.9-5.3z"/><path class="c41" d="M504.3 616.8l8.9 5.4 1.2 6.6-8.8-8.3z"/><path class="c43" d="M503 613.2l8.9 2.4 1.3 6.6-8.9-5.4z"/><path class="c44" d="M491.4 605.6l18.1 5.5 2.5 4.5-18-4.8z"/><path class="c46" d="M488.8 601l18.1 3.3 2.6 6.9-18.1-5.5z"/><path class="c47" d="M486.2 599.4l18.2 3.1 2.5 1.9-18.1-3.4zM483.6 602.7l18.2 3.2 2.6-3.4-18.2-3.1z"/><path class="c46" d="M481.1 606l18.1 3.2 2.6-3.4-18.1-3.1zM478.4 606.2l18.2 3.2 2.6-.2-18.1-3.2zM475.8 605.6l18.1 3.2 2.7 .6-18.2-3.2z"/><path class="v39_36" d="M601.7 623l18.2-14.9 1.9-2.7-18.2 12.8z"/><path class="c35" d="M599.8 627.3l6-5.6 2-3.7-6 4.9z"/><path class="c37" d="M605.8 621.7l6-5.6 1.9-3-5.9 4.9z"/><path class="c39" d="M611.8 616.1l6-5.6 1.9-2.3-6 4.9z"/><path class="c34" d="M597.9 630.7l6-5.5 1.9-3.5-6 5.6z"/><path class="c36" d="M603.9 625.2l6-5.4 1.9-3.7-6 5.6z"/><path class="c38" d="M609.9 619.8l6-5.5 1.9-3.8-6 5.6z"/><path class="v38_33" d="M596.1 621.3l17.6 5.7 2.3-12.8-18.3 16.6z"/><path class="v39_29" d="M594.7 608.5l16.4 38 2.6-19.5-17.6-5.7z"/><path class="v41_25" d="M593.9 605l15.8 55.8 1.4-14.3-16.4-38z"/><path class="v41_25" d="M593 602.1l16.1 48.4 .6 10.3-15.8-55.8z"/><path class="v42_28" d="M591.1 599.9l17 26.9 1 23.7-16.2-48.4z"/><path class="v43_35" d="M589.1 599.5l17.3 19.5 1.7 7.8-17-26.9z"/><path class="v42_38" d="M587.1 600.6l17.4 19 2-.6-17.4-19.5z"/><path class="v42_39" d="M585.2 600.9l17.4 17.2 1.9 1.5-17.4-19.1z"/><path class="v43_38" d="M583.2 600.6l17.7 11.8 1.7 5.7-17.4-17.2z"/><path class="c42" d="M581.3 600l8.8 4.7 1.9 1.8-8.7-5.9z"/><path class="c41" d="M590.1 604.7l8.8 4.6 1.9 3-8.8-5.8z"/><path class="c42" d="M579.2 600.3l17.9 7.7 1.9 1.3-17.8-9.3zM577.1 601.1l18 6.4 2 .5-17.9-7.7zM575.1 602.1l18 5.6 2-.2-18-6.4zM573 603.6l18.1 4.6 2-.5-18-5.6zM570.9 606.1l18.2 2.6 2-.5-18.1-4.6zM568.8 610l18.2-.4 2.1-.9-18.2-2.6z"/><path class="c41" d="M567.2 612.6l18.2-1.9 1.6-1.1-18.2 .3zM566.6 613.5l18.3-2.4 .5-.4-18.2 1.9zM564.5 615.1l18.3-1.8 2.1-2.2-18.3 2.4zM562.4 613.9l18.3 .5 2.1-1.1-18.3 1.8zM560.3 612.7l18.3 2.4 2.1-.7-18.3-.5zM558.2 611.4l18.2 3.3 2.1 .4-18.2-2.4z"/><path class="c42" d="M556 609.6l18.3 4.3 2.1 .8-18.2-3.3zM553.9 608.2l18.3 4.6 2.1 1.1-18.3-4.3zM551.7 608.1l18.3 3.6 2.2 1.1-18.3-4.6z"/><path class="c43" d="M549.5 608.1l18.4 2.5 2.1 1.1-18.3-3.6zM547.2 608.4l18.5 2 2.2 .2-18.4-2.5zM545 609l18.5 1.9 2.2-.5-18.5-2zM542.7 609.5l18.5 2 2.3-.6-18.5-1.9zM542 609.9l18.5 1.8 .7-.2-18.5-2zM540.4 611.2l18.5 .9 1.6-.4-18.5-1.8zM538.1 612.9l18.6 .5 2.2-1.3-18.5-.9z"/><path class="c42" d="M535.8 615.7l18.6-.6 2.3-1.7-18.6-.5zM535.2 616.6l18.5-.9 .7-.6-18.6 .6zM533.5 619.3l18.5-2 1.7-1.6-18.5 .9z"/><path class="c41" d="M531.3 626.6l9.1-3.2 2.3-5.1-9.1 1z"/><path class="c42" d="M540.4 623.4l9.1-3.3 2.4-2.9-9.2 1.1z"/><path class="c39" d="M528.9 632.4l9.1-4.5 2.4-4.5-9.1 3.2z"/><path class="c41" d="M538 627.9l9.2-4.5 2.3-3.3-9.1 3.3z"/><path class="c38" d="M527.9 635.5l9.2-5.4 .9-2.2-9.1 4.5z"/><path class="c40" d="M537.1 630.1l9.1-5.4 1-1.3-9.2 4.5z"/><path class="v40_37" d="M526.4 640.6l18.5-13.9 1.4-2-18.5 10.9z"/><path class="v39_35" d="M524 648.7l18.5-17.5 2.4-4.5-18.5 13.9z"/><path class="v39_32" d="M521.7 660.6l18.4-23.8 2.4-5.7-18.5 17.6z"/><path class="v37_32" d="M519.2 662.8l18.4-16.5 2.4-9.5-18.4 23.7z"/><path class="v36_31" d="M516.8 646.2l18.3 15.1 2.5-15-18.4 16.5z"/><path class="v40_32" d="M514.3 628.7l18.4 28.1 2.4 4.5-18.3-15.1z"/><path class="v43_34" d="M511.8 615.4l18.6 16.5 2.3 24.9-18.4-28.1z"/><path class="v45_40" d="M509.2 611l18.8 5.7 2.4 15.3-18.7-16.5z"/><path class="c45" d="M508.1 607.7l18.5 4.5 1.2 4.6-18.4-5.7z"/><path class="c46" d="M506.8 604.4l18.5 3.2 1.3 4.6-18.5-4.5z"/><path class="c47" d="M504.1 602.4l18.9 3.2 2.5 2.1-18.9-3.3zM501.5 605.8l18.9 3.3 2.6-3.5-18.9-3.2z"/><path class="c46" d="M498.9 609.2l18.9 3.3 2.6-3.5-18.9-3.3zM496.3 609.3l18.9 3.4 2.6-.2-18.9-3.4zM493.6 608.7l19 3.4 2.6 .6-18.9-3.4z"/><path class="c41" d="M619.7 608.2l9.2-2.4 1.9-1.2-9.2 .9zM628.9 605.8l9.2-2.4 1.8 .3-9.1 .9z"/><path class="c40" d="M617.8 610.5l9.3-3.4 1.8-1.3-9.2 2.4z"/><path class="c41" d="M627.1 607.1l9.2-3.4 1.8-.3-9.2 2.4z"/><path class="c40" d="M615.9 614.3l9.3-5 1.9-2.2-9.3 3.4z"/><path class="c41" d="M625.2 609.3l9.3-5.1 1.8-.5-9.2 3.4z"/><path class="v42_36" d="M613.5 627.1l19.2-20.1 1.9-2.9-18.9 10.3z"/><path class="v41_30" d="M611 646.5l19.7-36.5 1.9-3.1-19.2 20.1z"/><path class="v40_26" d="M609.7 660.8l19.9-47.6 1-3.2-19.6 36.5z"/><path class="v40_26" d="M609 650.4l19.5-32.3 1.1-4.9-19.9 47.6z"/><path class="v38_29" d="M607.9 626.6l18.3 3.6 2.3-12-19.5 32.2z"/><path class="v38_33" d="M606.2 618.8l17.8 19.3 2.2-7.9-18.4-3.6z"/><path class="v38_33" d="M604.3 619.4l18 14.9 1.7 3.8-17.8-19.3z"/><path class="v38_34" d="M602.4 617.8l17.9 19.5 2-3-18-14.9z"/><path class="v40_34" d="M600.7 612.2l17.7 24.7 1.9 .4-17.9-19.5z"/><path class="v41_34" d="M598.8 609.1l17.9 22 1.7 5.8-17.7-24.7z"/><path class="v42_36" d="M596.9 607.8l18.1 17.2 1.7 6.1-17.9-21.9z"/><path class="v42_38" d="M594.9 607.4l18.3 13.4 1.8 4.2-18.1-17.2z"/><path class="c41" d="M593 607.7l9.1 4.9 1.9 1.5-9-6.6z"/><path class="c40" d="M602.1 612.6l9.1 4.9 1.9 3.2-9.1-6.6z"/><path class="c41" d="M590.8 608.1l18.7 7.2 1.9 2.2-18.5-9.9z"/><path class="c42" d="M588.8 608.6l18.7 5.4 2 1.3-18.7-7.2zM586.7 609.6l18.8 5.2 2-.9-18.7-5.3zM585.1 610.7l18.8 5.3 1.6-1.2-18.8-5.2z"/><path class="c41" d="M584.6 611.1l18.8 5.4 .5-.5-18.8-5.3zM582.5 613.3l18.8 6.1 2.1-2.9-18.8-5.4zM580.4 614.3l18.8 5.7 2.1-.6-18.8-6.1zM578.3 615l18.8 4.6 2.1 .3-18.8-5.6zM576.1 614.6l19 4.4 2 .6-18.8-4.6zM574 613.8l19 4.4 2.1 .8-19-4.3z"/><path class="c42" d="M571.9 612.7l19 4.7 2.1 .8-19-4.4zM569.8 611.6l19 5.1 2.1 .7-19-4.7z"/><path class="c43" d="M567.6 610.6l19 5.4 2.2 .7-19-5.1zM565.4 610.3l19.1 5.2 2.1 .5-19-5.4zM563.2 610.9l19.1 4.3 2.2 .3-19.1-5.2zM560.9 611.5l19.2 3.5 2.2 .2-19.1-4.3zM560.2 611.6l19.2 3.4 .7 0-19.2-3.5zM558.7 612l19.2 3.3 1.5-.3-19.2-3.4zM556.4 613.4l19.2 2.5 2.3-.6-19.2-3.3zM554.1 615.1l19.3 1.4 2.2-.6-19.2-2.5zM553.4 615.7l19.3 1 .7-.2-19.3-1.4zM551.7 617.3l19.4 .2 1.6-.8-19.3-1zM549.4 620.2l19.3-1.3 2.4-1.4-19.4-.3z"/><path class="c42" d="M547 623.5l19.4-2.4 2.3-2.3-19.3 1.3zM546 624.8l19.4-2.7 1-1.1-19.4 2.5z"/><path class="c41" d="M544.6 626.8l19.4-3.1 1.4-1.6-19.4 2.7z"/><path class="c40" d="M542.4 631.2l9.5-2.8 2.4-3.2-9.5 1.6z"/><path class="c41" d="M551.9 628.4l9.6-2.9 2.4-1.8-9.6 1.5z"/><path class="c39" d="M540 636.9l9.5-4.2 2.4-4.3-9.5 2.8z"/><path class="c41" d="M549.5 632.7l9.6-4.2 2.4-3-9.6 2.9z"/><path class="v40_37" d="M537.4 646.5l19.4-13 2.4-5.1-19.4 8.5z"/><path class="v39_33" d="M534.9 661.3l19.4-18.1 2.4-9.8-19.3 13z"/><path class="v37_33" d="M532.5 656.7l19.2 3.1 2.5-16.6-19.3 18.1z"/><path class="v40_34" d="M530.2 631.8l19.1 24.1 2.3 3.9-19.1-3.1z"/><path class="v44_35" d="M527.8 616.7l19.3 14 2.1 25.2-19.1-24.1z"/><path class="v46_41" d="M525.2 607.5l19.6 3.5 2.3 19.8-19.4-14z"/><path class="c47" d="M522.7 605.6l19.6 3.3 2.5 2.2-19.6-3.5zM520.1 609l19.7 3.4 2.5-3.5-19.6-3.4z"/><path class="c46" d="M517.5 612.5l19.7 3.5 2.6-3.6-19.7-3.4zM514.9 612.7l19.7 3.5 2.6-.3-19.7-3.5zM512.3 612.1l19.7 3.5 2.6 .6-19.7-3.5z"/></g></g>
<path d="M396.0 581.8L404.0 749.6M404.0 749.6L531.1 797.4M531.1 797.4L633.7 743.0M396.4 590.7L393.8 591.7M398.1 626.1L395.5 627.1M399.8 660.6L397.1 661.6M401.4 694.2L398.7 695.2M402.9 726.9L400.3 727.9M404.0 749.6L401.7 750.8M432.3 760.3L430.0 761.5M462.8 771.7L460.5 772.9M495.6 784.1L493.3 785.3M531.1 797.4L528.8 798.6M417.9 754.8L416.6 755.5M447.3 765.9L446.0 766.6M478.9 777.8L477.6 778.5M513.0 790.6L511.7 791.3M556.7 783.8L559.1 784.7M590.0 766.2L592.4 767.1M619.9 750.3L622.3 751.3M538.6 793.4L540.0 793.9M573.8 774.8L575.2 775.3M605.3 758.1L606.7 758.6" stroke="#111" stroke-width=".95" fill="none"/>
<text font-family="Liberation Sans, sans-serif" stroke="#000" stroke-width=".45" font-size="10" text-anchor="end" transform="matrix(0.639 -0.244 0.036 0.755 393.2 594.7)">0</text>
<text font-family="Liberation Sans, sans-serif" stroke="#000" stroke-width=".45" font-size="10" text-anchor="end" transform="matrix(0.639 -0.244 0.036 0.755 394.9 630.1)">-10</text>
<text font-family="Liberation Sans, sans-serif" stroke="#000" stroke-width=".45" font-size="10" text-anchor="end" transform="matrix(0.639 -0.244 0.036 0.755 396.5 664.6)">-20</text>
<text font-family="Liberation Sans, sans-serif" stroke="#000" stroke-width=".45" font-size="10" text-anchor="end" transform="matrix(0.639 -0.244 0.036 0.755 398.1 698.2)">-30</text>
<text font-family="Liberation Sans, sans-serif" stroke="#000" stroke-width=".45" font-size="10" text-anchor="end" transform="matrix(0.639 -0.244 0.036 0.755 399.7 730.9)">-40</text>
<text font-family="Liberation Sans, sans-serif" stroke="#000" stroke-width=".45" font-size="10" text-anchor="middle" transform="matrix(0.655 0.246 -0.588 0.312 397.5 753.1)">1</text>
<text font-family="Liberation Sans, sans-serif" stroke="#000" stroke-width=".45" font-size="10" text-anchor="middle" transform="matrix(0.655 0.246 -0.588 0.312 425.8 763.7)">2</text>
<text font-family="Liberation Sans, sans-serif" stroke="#000" stroke-width=".45" font-size="10" text-anchor="middle" transform="matrix(0.655 0.246 -0.588 0.312 456.3 775.2)">3</text>
<text font-family="Liberation Sans, sans-serif" stroke="#000" stroke-width=".45" font-size="10" text-anchor="middle" transform="matrix(0.655 0.246 -0.588 0.312 489.1 787.5)">4</text>
<text font-family="Liberation Sans, sans-serif" stroke="#000" stroke-width=".45" font-size="10" text-anchor="middle" transform="matrix(0.655 0.246 -0.588 0.312 524.6 800.9)">5</text>
<text font-family="Liberation Sans, sans-serif" stroke="#000" stroke-width=".45" font-size="10" text-anchor="middle" transform="matrix(0.618 -0.328 0.622 0.234 563.8 786.5)">5</text>
<text font-family="Liberation Sans, sans-serif" stroke="#000" stroke-width=".45" font-size="10" text-anchor="middle" transform="matrix(0.618 -0.328 0.622 0.234 597.0 768.9)">10</text>
<text font-family="Liberation Sans, sans-serif" stroke="#000" stroke-width=".45" font-size="10" text-anchor="middle" transform="matrix(0.618 -0.328 0.622 0.234 626.9 753.0)">15</text>
<text font-family="Liberation Sans, sans-serif" font-weight="bold" font-size="10" text-anchor="middle" transform="matrix(0.072 1.508 -1.203 0.300 371.4 673.4)">Reflection Loss (dB)</text>
<text font-family="Liberation Sans, sans-serif" font-weight="bold" font-size="10" text-anchor="middle" transform="matrix(1.184 0.445 -1.016 0.539 435.6 787.5)">Thickness (mm)</text>
<text font-family="Liberation Sans, sans-serif" font-weight="bold" font-size="10" text-anchor="middle" transform="matrix(0.963 -0.511 1.076 0.405 611.9 778.7)">Frequency (GHz)</text>
<text font-family="Liberation Sans, sans-serif" font-weight="bold" font-size="15.8" x="362.7" y="591.4">(c')</text>
<linearGradient id="cgc" x1="0" y1="0" x2="0" y2="1"><stop offset="0" stop-color="#34a864"/><stop offset=".5" stop-color="#ffff6e"/><stop offset="1" stop-color="#586afa"/></linearGradient>
<rect x="652.9" y="572.1" width="7.6" height="159.4" fill="url(#cgc)" stroke="#8c8c8c" stroke-width=".7"/>
<rect x="652.9" y="572.1" width="7.6" height="1.1" fill="#e8f4ec"/><rect x="652.9" y="730.3" width="7.6" height="1.2" fill="#111"/>
<g font-family="Liberation Sans, sans-serif" font-size="6.2" fill="#000" stroke="#000" stroke-width=".25">
<text x="666.4" y="577.0">0.80</text>
<text x="666.4" y="592.6">-4.02</text>
<text x="666.4" y="608.1">-8.84</text>
<text x="666.4" y="623.7">-13.66</text>
<text x="666.4" y="639.2">-18.48</text>
<text x="666.4" y="654.7">-23.30</text>
<text x="666.4" y="670.3">-28.12</text>
<text x="666.4" y="685.8">-32.94</text>
<text x="666.4" y="701.4">-37.76</text>
<text x="666.4" y="716.9">-42.58</text>
<text x="666.4" y="732.4">-47.40</text>
</g>
<path d="M660.5 574.8h2.8M660.5 590.3h2.8M660.5 605.9h2.8M660.5 621.4h2.8M660.5 637.0h2.8M660.5 652.5h2.8M660.5 668.0h2.8M660.5 683.6h2.8M660.5 699.1h2.8M660.5 714.7h2.8M660.5 730.2h2.8" stroke="#222" stroke-width=".8"/>
<g font-family="Liberation Sans, sans-serif" font-weight="bold" font-size="10.2"><text x="535" y="685.6">RL<tspan font-size="7" dy="2">min</tspan><tspan dy="-2">= - 47.87 dB</tspan></text><text x="535" y="703.6">EAB= 4.78 dB</text><text x="535" y="717.6">(d= 2.5 mm)</text></g></g>
<g id="qd"><g filter="url(#bls)"><g stroke-width=".7" stroke-linejoin="round"><path class="c1" d="M506.7 1004.8l2.7-5.7 .9 1.7-2.7 6z"/><path class="c2" d="M505.8 1002.8l2.7-5.4 .9 1.7-2.7 5.7z"/><path class="c4" d="M509.4 999.1l2.7-5.7 .9 1.4-2.7 6z"/><path class="c5" d="M508.5 997.4l2.6-5.4 1 1.4-2.7 5.7z"/><path class="c6" d="M512.1 993.4l2.7-5.7 .9 1.1-2.7 6z"/><path class="c7" d="M511.1 992l2.7-5.4 1 1.1-2.7 5.7z"/><path class="c9" d="M514.8 987.7l2.7-5.7 .9 .8-2.7 6zM513.8 986.6l2.7-5.5 1 .9-2.7 5.7z"/><path class="c11" d="M517.5 982l2.7-5.7 .9 .6-2.7 5.9zM516.5 981.1l2.7-5.4 1 .6-2.7 5.7z"/><path class="c3" d="M504.8 998.8l2.7-5.1 1 3.7-2.7 5.4z"/><path class="c5" d="M503.9 994.8l2.7-4.8 .9 3.7-2.7 5.1z"/><path class="c6" d="M507.5 993.7l2.7-5.2 .9 3.5-2.6 5.4z"/><path class="c7" d="M506.6 990l2.7-4.9 .9 3.4-2.7 5.2z"/><path class="c8" d="M510.2 988.5l2.7-5.1 .9 3.2-2.7 5.4z"/><path class="c9" d="M509.3 985.1l2.7-4.9 .9 3.2-2.7 5.1z"/><path class="c10" d="M512.9 983.4l2.7-5.2 .9 2.9-2.7 5.5z"/><path class="c11" d="M512 980.2l2.7-4.9 .9 2.9-2.7 5.2z"/><path class="c12" d="M515.6 978.2l2.7-5.1 .9 2.6-2.7 5.4z"/><path class="c13" d="M514.7 975.3l2.7-4.9 .9 2.7-2.7 5.1z"/><path class="c7" d="M503 990.9l2.7-4.8 .9 3.9-2.7 4.8z"/><path class="c8" d="M502 986.9l2.7-4.6 1 3.8-2.7 4.8z"/><path class="c9" d="M505.7 986.1l2.7-4.7 .9 3.7-2.7 4.9z"/><path class="c10" d="M504.7 982.3l2.7-4.5 1 3.6-2.7 4.7zM508.4 981.4l2.7-4.7 .9 3.5-2.7 4.9z"/><path class="c12" d="M507.4 977.8l2.7-4.6 1 3.5-2.7 4.7zM511.1 976.7l2.7-4.7 .9 3.3-2.7 4.9z"/><path class="c14" d="M510.1 973.2l2.7-4.6 1 3.4-2.7 4.7zM513.8 972l2.7-4.7 .9 3.1-2.7 4.9z"/><path class="c16" d="M512.8 968.6l2.8-4.5 .9 3.2-2.7 4.7z"/><path class="c9" d="M501.4 983.9l2.7-4.4 .6 2.8-2.7 4.6z"/><path class="c11" d="M500.7 981l2.8-4.3 .6 2.8-2.7 4.4z"/><path class="c12" d="M500.1 978l2.7-4.1 .7 2.8-2.8 4.3z"/><path class="c11" d="M504.1 979.5l2.7-4.4 .6 2.7-2.7 4.5z"/><path class="c12" d="M503.5 976.7l2.7-4.3 .6 2.7-2.7 4.4z"/><path class="c13" d="M502.8 973.9l2.7-4.2 .7 2.7-2.7 4.3zM506.8 975.1l2.7-4.4 .6 2.5-2.7 4.6z"/><path class="c14" d="M506.2 972.4l2.7-4.3 .6 2.6-2.7 4.4z"/><path class="c15" d="M505.5 969.7l2.8-4.1 .6 2.5-2.7 4.3zM509.5 970.7l2.7-4.5 .6 2.4-2.7 4.6z"/><path class="c16" d="M508.9 968.1l2.7-4.2 .6 2.3-2.7 4.5z"/><path class="c17" d="M508.3 965.6l2.7-4.1 .6 2.4-2.7 4.2zM512.2 966.2l2.7-4.4 .7 2.3-2.8 4.5z"/><path class="c18" d="M511.6 963.9l2.7-4.3 .6 2.2-2.7 4.4zM511 961.5l2.7-4.2 .6 2.3-2.7 4.3z"/><path class="c13" d="M499.2 975.4l2.7-4 .9 2.5-2.7 4.1z"/><path class="c14" d="M498.2 972.7l2.7-3.8 1 2.5-2.7 4zM501.9 971.4l2.7-4 .9 2.3-2.7 4.2z"/><path class="c15" d="M500.9 968.9l2.7-3.9 1 2.4-2.7 4z"/><path class="c16" d="M504.6 967.4l2.7-4 1 2.2-2.8 4.1z"/><path class="c17" d="M503.6 965l2.8-3.8 .9 2.2-2.7 4z"/><path class="c18" d="M507.3 963.4l2.7-4 1 2.1-2.7 4.1z"/><path class="c19" d="M506.4 961.2l2.7-3.8 .9 2-2.7 4zM510 959.4l2.7-4 1 1.9-2.7 4.2z"/><path class="c20" d="M509.1 957.4l2.7-3.9 .9 1.9-2.7 4z"/><path class="c15" d="M496.3 971.7l2.7-3.7 1.9 .9-2.7 3.8z"/><path class="c16" d="M499 968l2.7-3.6 1.9 .6-2.7 3.9z"/><path class="c18" d="M501.7 964.4l2.7-3.7 2 .5-2.8 3.8z"/><path class="c19" d="M504.4 960.7l2.8-3.7 1.9 .4-2.7 3.8z"/><path class="c21" d="M507.2 957l2.7-3.7 1.9 .2-2.7 3.9z"/><path class="c14" d="M494.4 974.6l2.7-3.4 1.9-3.2-2.7 3.7z"/><path class="c16" d="M497.1 971.2l2.7-3.4 1.9-3.4-2.7 3.6z"/><path class="c17" d="M499.8 967.8l2.7-3.5 1.9-3.6-2.7 3.7z"/><path class="c19" d="M502.5 964.3l2.7-3.4 2-3.9-2.8 3.7z"/><path class="c20" d="M505.2 960.9l2.8-3.4 1.9-4.2-2.7 3.7z"/><path class="c13" d="M493.4 978l2.7-3.3 1-3.5-2.7 3.4z"/><path class="c12" d="M492.4 981.5l2.8-3.4 .9-3.4-2.7 3.3z"/><path class="c15" d="M496.1 974.7l2.7-3.4 1-3.5-2.7 3.4z"/><path class="c14" d="M495.2 978.1l2.7-3.3 .9-3.5-2.7 3.4z"/><path class="c16" d="M498.8 971.3l2.8-3.4 .9-3.6-2.7 3.5z"/><path class="c15" d="M497.9 974.8l2.7-3.4 1-3.5-2.8 3.4z"/><path class="c18" d="M501.6 967.9l2.7-3.4 .9-3.6-2.7 3.4z"/><path class="c16" d="M500.6 971.4l2.7-3.3 1-3.6-2.7 3.4z"/><path class="c19" d="M504.3 964.5l2.7-3.4 1-3.6-2.8 3.4z"/><path class="c18" d="M503.3 968.1l2.7-3.4 1-3.6-2.7 3.4z"/><path class="c11" d="M491.5 985.4l2.7-3.2 1-4.1-2.8 3.4z"/><path class="c10" d="M490.5 989.4l2.7-3.1 1-4.1-2.7 3.2z"/><path class="c12" d="M494.2 982.2l2.7-3.2 1-4.2-2.7 3.3z"/><path class="c11" d="M493.2 986.3l2.7-3.1 1-4.2-2.7 3.2z"/><path class="c14" d="M496.9 979l2.7-3.3 1-4.3-2.7 3.4z"/><path class="c12" d="M495.9 983.2l2.8-3.1 .9-4.4-2.7 3.3z"/><path class="c15" d="M499.6 975.7l2.7-3.2 1-4.4-2.7 3.3z"/><path class="c14" d="M498.7 980.1l2.7-3.1 .9-4.5-2.7 3.2z"/><path class="c17" d="M502.3 972.5l2.7-3.2 1-4.6-2.7 3.4z"/><path class="c15" d="M501.4 977l2.7-3.1 .9-4.6-2.7 3.2z"/><path class="c9" d="M489.9 992.3l2.7-3 .6-3-2.7 3.1z"/><path class="c8" d="M489.3 995.2l2.7-2.8 .6-3.1-2.7 3z"/><path class="c7" d="M488.6 998.2l2.7-2.8 .7-3-2.7 2.8z"/><path class="c10" d="M492.6 989.3l2.7-3 .6-3.1-2.7 3.1z"/><path class="c9" d="M492 992.4l2.7-2.9 .6-3.2-2.7 3z"/><path class="c8" d="M491.3 995.4l2.7-2.7 .7-3.2-2.7 2.9z"/><path class="c11" d="M495.3 986.3l2.7-3 .7-3.2-2.8 3.1z"/><path class="c10" d="M494.7 989.5l2.7-2.9 .6-3.3-2.7 3z"/><path class="c9" d="M494 992.7l2.7-2.8 .7-3.3-2.7 2.9z"/><path class="c13" d="M498 983.3l2.7-2.9 .7-3.4-2.7 3.1z"/><path class="c11" d="M497.4 986.6l2.7-2.8 .6-3.4-2.7 2.9z"/><path class="c10" d="M496.7 989.9l2.7-2.7 .7-3.4-2.7 2.8z"/><path class="c14" d="M500.7 980.4l2.7-3 .7-3.5-2.7 3.1z"/><path class="c13" d="M500.1 983.8l2.7-2.9 .6-3.5-2.7 3z"/><path class="c12" d="M499.4 987.2l2.7-2.8 .7-3.5-2.7 2.9z"/><path class="c6" d="M487.7 1001.9l3.3-3.3 1-3.9-3.4 3.5z"/><path class="c4" d="M486.7 1005.7l3.4-3.2 .9-3.9-3.3 3.3z"/><path class="c7" d="M491 998.6l3.4-3.3 1-4-3.4 3.4z"/><path class="c6" d="M490.1 1002.5l3.3-3.2 1-4-3.4 3.3z"/><path class="c9" d="M494.4 995.3l3.4-3.3 .9-4.1-3.3 3.4z"/><path class="c7" d="M493.4 999.3l3.4-3.3 1-4-3.4 3.3z"/><path class="c10" d="M497.8 992l3.3-3.4 1-4.2-3.4 3.5z"/><path class="c9" d="M496.8 996l3.4-3.2 .9-4.2-3.3 3.4z"/><path class="c3" d="M484.7 1008.3l3.4-3 2-2.8-3.4 3.2z"/><path class="c5" d="M488.1 1005.3l3.4-3 1.9-3-3.3 3.2z"/><path class="c6" d="M491.5 1002.3l3.3-3 2-3.3-3.4 3.3z"/><path class="c8" d="M494.8 999.3l3.4-2.9 2-3.6-3.4 3.2z"/><path class="c4" d="M482.8 1006.5l3.3-2.8 2 1.6-3.4 3z"/><path class="c5" d="M486.1 1003.7l3.4-2.8 2 1.4-3.4 3z"/><path class="c6" d="M489.5 1000.9l3.4-2.7 1.9 1.1-3.3 3z"/><path class="c8" d="M492.9 998.2l3.3-2.8 2 1-3.4 2.9z"/><path class="c5" d="M480.7 1003.8l3.4-2.7 2 2.6-3.3 2.8z"/><path class="c6" d="M484.1 1001.1l3.4-2.6 2 2.4-3.4 2.8z"/><path class="c7" d="M487.5 998.5l3.4-2.6 2 2.3-3.4 2.7z"/><path class="c8" d="M490.9 995.9l3.3-2.7 2 2.2-3.3 2.8z"/><path class="c5" d="M478.7 1003.3l3.4-3.2 2 1-3.4 2.7z"/><path class="c7" d="M482.1 1000.1l3.4-3.1 2 1.5-3.4 2.6z"/><path class="c8" d="M485.5 997l3.4-3.1 2 2-3.4 2.6z"/><path class="c9" d="M488.9 993.9l3.3-3.2 2 2.5-3.3 2.7z"/><path class="c6" d="M476.7 1001.4l3.4-3.3 2 2-3.4 3.2z"/><path class="c8" d="M480.1 998.1l3.4-3.2 2 2.1-3.4 3.1z"/><path class="c9" d="M483.5 994.9l3.3-3.3 2.1 2.3-3.4 3.1z"/><path class="c10" d="M486.8 991.6l3.4-3.3 2 2.4-3.3 3.2z"/><path class="c7" d="M474.6 999.1l3.4-3.2 2.1 2.2-3.4 3.3z"/><path class="c9" d="M478 995.9l3.4-3.1 2.1 2.1-3.4 3.2z"/><path class="c10" d="M481.4 992.8l3.4-3.2 2 2-3.3 3.3z"/><path class="c11" d="M484.8 989.6l3.4-3.2 2 1.9-3.4 3.3z"/><path class="c8" d="M472.6 997.2l3.4-2.6 2 1.3-3.4 3.2z"/><path class="c9" d="M476 994.6l3.4-2.7 2 .9-3.4 3.1z"/><path class="c11" d="M479.4 991.9l3.4-2.7 2 .4-3.4 3.2z"/><path class="c12" d="M482.8 989.2l3.3-2.7 2.1-.1-3.4 3.2z"/><path class="c9" d="M470.5 996l3.4-2 2.1 .6-3.4 2.6z"/><path class="c10" d="M473.9 994l3.4-2.1 2.1 0-3.4 2.7z"/><path class="c11" d="M477.3 991.9l3.4-2.1 2.1-.6-3.4 2.7z"/><path class="c12" d="M480.7 989.8l3.4-2.1 2-1.2-3.3 2.7z"/><path class="c10" d="M468.4 992.5l4.5-1 2.1 1.8-4.5 2.7z"/><path class="c11" d="M472.9 991.5l4.6-1 2.1 0-4.6 2.8z"/><path class="c12" d="M477.5 990.5l4.5-.9 2.1-1.9-4.5 2.8z"/><path class="c11" d="M466.3 989.3l6.8 1.6 2.1 .1-6.8 1.5z"/><path class="c12" d="M473.1 990.9l6.9 1.6 2-2.9-6.8 1.4zM464 986.7l14 7.4 2.1-1.5-14-3.3zM463.1 984.1l6.8 4.8 1.1 1.5-6.9-3.7z"/><path class="c13" d="M462 981.6l6.9 5.9 1 1.4-6.8-4.8z"/><path class="c12" d="M469.9 988.9l6.9 4.8 1.1 .3-6.9-3.6zM468.9 987.5l6.9 5.8 1 .4-6.9-4.8z"/><path class="c15" d="M459.8 977.6l4.6 4.6 2.2 3.3-4.6-3.9z"/><path class="c14" d="M464.4 982.2l4.6 4.6 2.2 2.6-4.6-3.9z"/><path class="c13" d="M469 986.8l4.6 4.6 2.2 1.9-4.6-3.9z"/><path class="c16" d="M457.6 975l4.6 4.8 2.2 2.4-4.6-4.6z"/><path class="c15" d="M462.2 979.8l4.7 4.8 2.1 2.2-4.6-4.6z"/><path class="c14" d="M466.9 984.6l4.6 4.8 2.1 2-4.6-4.6z"/><path class="c17" d="M455.4 974.8l4.7 4.2 2.1 .8-4.6-4.8z"/><path class="c16" d="M460.1 979l4.6 4.1 2.2 1.5-4.7-4.8z"/><path class="c14" d="M464.7 983.1l4.6 4.2 2.2 2.1-4.6-4.8z"/><path class="c17" d="M453.3 976.2l6.9 5.3 2.2-.4-7-6.3z"/><path class="c15" d="M460.2 981.5l7 5.4 2.1 .4-6.9-6.2z"/><path class="c16" d="M451.1 978l6.9 5.4 2.2-1.9-6.9-5.3z"/><path class="c15" d="M458 983.4l7 5.4 2.2-1.9-7-5.4z"/><path class="c16" d="M448.9 979.6l7 6 2.1-2.2-6.9-5.4z"/><path class="c15" d="M455.9 985.6l6.9 6.1 2.2-2.9-7-5.4z"/><path class="c16" d="M446.7 978.6l4.6 4.9 2.3 .1-4.7-4z"/><path class="c15" d="M451.3 983.5l4.7 5 2.2-.8-4.6-4.1z"/><path class="c14" d="M456 988.5l4.7 5 2.1-1.8-4.6-4z"/><path class="c17" d="M444.4 975.3l3.5 4.8 2.3 2.2-3.5-3.7z"/><path class="c16" d="M447.9 980.1l3.5 4.8 2.3 1.1-3.5-3.7z"/><path class="c15" d="M451.4 984.9l3.5 4.7 2.3 .2-3.5-3.8z"/><path class="c14" d="M454.9 989.6l3.6 4.8 2.2-.9-3.5-3.7z"/><path class="c18" d="M443.2 972.5l2.8 4.3 1.2 2.3-2.8-3.8z"/><path class="c19" d="M442 969.7l2.9 4.7 1.1 2.4-2.8-4.3z"/><path class="c17" d="M446 976.8l2.9 4.3 1.1 1.9-2.8-3.9z"/><path class="c18" d="M444.9 974.4l2.8 4.8 1.2 1.9-2.9-4.3z"/><path class="c16" d="M448.9 981.1l2.8 4.2 1.1 1.5-2.8-3.8z"/><path class="c17" d="M447.7 979.2l2.8 4.7 1.2 1.4-2.8-4.2z"/><path class="c15" d="M451.7 985.3l2.8 4.3 1.1 1-2.8-3.8zM450.5 983.9l2.9 4.8 1.1 .9-2.8-4.3z"/><path class="c14" d="M454.5 989.6l2.8 4.3 1.2 .5-2.9-3.8zM453.4 988.7l2.8 4.7 1.1 .5-2.8-4.3z"/><path class="c20" d="M440.8 966.2l2.9 5.2 1.2 3-2.9-4.7z"/><path class="c21" d="M439.6 962.6l2.9 5.7 1.2 3.1-2.9-5.2z"/><path class="c19" d="M443.7 971.4l2.8 5.2 1.2 2.6-2.8-4.8z"/><path class="c20" d="M442.5 968.3l2.8 5.8 1.2 2.5-2.8-5.2z"/><path class="c17" d="M446.5 976.6l2.9 5.3 1.1 2-2.8-4.7z"/><path class="c18" d="M445.3 974.1l2.9 5.7 1.2 2.1-2.9-5.3z"/><path class="c16" d="M449.4 981.9l2.8 5.2 1.2 1.6-2.9-4.8z"/><path class="c17" d="M448.2 979.8l2.9 5.7 1.1 1.6-2.8-5.2z"/><path class="c15" d="M452.2 987.1l2.9 5.2 1.1 1.1-2.8-4.7zM451.1 985.5l2.8 5.7 1.2 1.1-2.9-5.2z"/><path class="c22" d="M438.4 959.9l2.9 6 1.2 2.4-2.9-5.7z"/><path class="c23" d="M437.2 957.1l2.9 6.4 1.2 2.4-2.9-6z"/><path class="c21" d="M441.3 965.9l2.9 6.1 1.1 2.1-2.8-5.8z"/><path class="c22" d="M440.1 963.5l2.9 6.3 1.2 2.2-2.9-6.1z"/><path class="c19" d="M444.2 972l2.8 6 1.2 1.8-2.9-5.7z"/><path class="c20" d="M443 969.8l2.9 6.4 1.1 1.8-2.8-6z"/><path class="c17" d="M447 978l2.9 6 1.2 1.5-2.9-5.7z"/><path class="c18" d="M445.9 976.2l2.8 6.3 1.2 1.5-2.9-6z"/><path class="c16" d="M449.9 984l2.9 6.1 1.1 1.1-2.8-5.7zM448.7 982.5l2.9 6.4 1.2 1.2-2.9-6.1z"/><path class="c24" d="M436 954.9l2.9 6.6 1.2 2-2.9-6.4z"/><path class="c25" d="M434.8 952.6l2.9 6.8 1.2 2.1-2.9-6.6z"/><path class="c22" d="M438.9 961.5l2.9 6.6 1.2 1.7-2.9-6.3z"/><path class="c23" d="M437.7 959.4l2.9 6.9 1.2 1.8-2.9-6.6z"/><path class="c21" d="M441.8 968.1l2.9 6.6 1.2 1.5-2.9-6.4zM440.6 966.3l2.9 6.9 1.2 1.5-2.9-6.6z"/><path class="c19" d="M444.7 974.7l2.9 6.6 1.1 1.2-2.8-6.3zM443.5 973.2l2.9 6.9 1.2 1.2-2.9-6.6z"/><path class="c17" d="M447.6 981.3l2.9 6.6 1.1 1-2.9-6.4zM446.4 980.1l2.9 6.9 1.2 .9-2.9-6.6z"/><path class="c26" d="M432.4 949.6l2.9 7.1 2.4 2.7-2.9-6.8z"/><path class="c24" d="M435.3 956.7l2.9 7.1 2.4 2.5-2.9-6.9z"/><path class="c22" d="M438.2 963.8l3 7.1 2.3 2.3-2.9-6.9z"/><path class="c20" d="M441.2 970.9l2.9 7.1 2.3 2.1-2.9-6.9z"/><path class="c18" d="M444.1 978l2.9 7.1 2.3 1.9-2.9-6.9z"/><path class="c27" d="M430.1 949.3l2.9 7.1 2.3 .3-2.9-7.1z"/><path class="c25" d="M433 956.4l2.9 7.1 2.3 .3-2.9-7.1z"/><path class="c23" d="M435.9 963.5l2.9 7 2.4 .4-3-7.1z"/><path class="c21" d="M438.8 970.5l2.9 7.1 2.4 .4-2.9-7.1z"/><path class="c19" d="M441.7 977.6l3 7 2.3 .5-2.9-7.1z"/><path class="c27" d="M427.7 949.1l2.9 7.1 2.4 .2-2.9-7.1z"/><path class="c25" d="M430.6 956.2l3 7.2 2.3 .1-2.9-7.1z"/><path class="c23" d="M433.6 963.4l2.9 7.1 2.3 0-2.9-7z"/><path class="c21" d="M436.5 970.5l2.9 7.2 2.3-.1-2.9-7.1z"/><path class="c19" d="M439.4 977.7l2.9 7.2 2.4-.3-3-7z"/><path class="c27" d="M425.3 948.4l2.9 7.5 2.4 .3-2.9-7.1z"/><path class="c25" d="M428.2 955.9l3 7.4 2.4 .1-3-7.2z"/><path class="c23" d="M431.2 963.3l2.9 7.5 2.4-.3-2.9-7.1z"/><path class="c21" d="M434.1 970.8l3 7.5 2.3-.6-2.9-7.2z"/><path class="c19" d="M437.1 978.3l2.9 7.4 2.3-.8-2.9-7.2z"/><path class="c28" d="M422.9 947.1l2.9 7.9 2.4 .9-2.9-7.5z"/><path class="c26" d="M425.8 955l3 8 2.4 .3-3-7.4z"/><path class="c23" d="M428.8 963l2.9 7.9 2.4-.1-2.9-7.5z"/><path class="c21" d="M431.7 970.9l3 8 2.4-.6-3-7.5z"/><path class="c19" d="M434.7 978.9l3 7.9 2.3-1.1-2.9-7.4z"/><path class="c29" d="M420.4 943.8l3 8.4 2.4 2.8-2.9-7.9z"/><path class="c26" d="M423.4 952.2l2.9 8.4 2.5 2.4-3-8z"/><path class="c24" d="M426.3 960.6l3 8.4 2.4 1.9-2.9-7.9z"/><path class="c22" d="M429.3 969l3 8.4 2.4 1.5-3-8z"/><path class="c19" d="M432.3 977.4l3 8.4 2.4 1-3-7.9z"/><path class="c30" d="M419.1 941.2l3 8.5 1.3 2.5-3-8.4zM417.8 938.5l3 8.8 1.3 2.4-3-8.5z"/><path class="c27" d="M422.1 949.7l3 8.6 1.2 2.3-2.9-8.4z"/><path class="c28" d="M420.8 947.3l3 8.7 1.3 2.3-3-8.6z"/><path class="c25" d="M425.1 958.3l3 8.5 1.2 2.2-3-8.4z"/><path class="c26" d="M423.8 956l3 8.7 1.3 2.1-3-8.5z"/><path class="c22" d="M428.1 966.8l2.9 8.6 1.3 2-3-8.4z"/><path class="c23" d="M426.8 964.7l3 8.7 1.2 2-2.9-8.6z"/><path class="c20" d="M431 975.4l3 8.5 1.3 1.9-3-8.4z"/><path class="c21" d="M429.8 973.4l3 8.7 1.2 1.8-3-8.5z"/><path class="c31" d="M416.5 935.4l3 8.9 1.3 3-3-8.8z"/><path class="c32" d="M415.2 932.2l3 9.2 1.3 2.9-3-8.9z"/><path class="c29" d="M419.5 944.3l3 9 1.3 2.7-3-8.7z"/><path class="c30" d="M418.2 941.4l3 9.2 1.3 2.7-3-9z"/><path class="c26" d="M422.5 953.3l3 9 1.3 2.4-3-8.7z"/><path class="c27" d="M421.2 950.6l3 9.2 1.3 2.5-3-9z"/><path class="c24" d="M425.5 962.3l3 8.9 1.3 2.2-3-8.7z"/><path class="c25" d="M424.2 959.8l3.1 9.3 1.2 2.1-3-8.9z"/><path class="c21" d="M428.5 971.2l3 9 1.3 1.9-3-8.7z"/><path class="c22" d="M427.3 969.1l3 9.2 1.2 1.9-3-9z"/><path class="c33" d="M413.9 929.7l3 9.3 1.3 2.4-3-9.2z"/><path class="c34" d="M412.6 927.3l3 9.3 1.3 2.4-3-9.3z"/><path class="c31" d="M416.9 939l3 9.3 1.3 2.3-3-9.2z"/><path class="c32" d="M415.6 936.6l3 9.3 1.3 2.4-3-9.3z"/><path class="c28" d="M419.9 948.3l3.1 9.3 1.2 2.2-3-9.2z"/><path class="c29" d="M418.6 945.9l3.1 9.4 1.3 2.3-3.1-9.3z"/><path class="c25" d="M423 957.6l3 9.2 1.3 2.3-3.1-9.3z"/><path class="c26" d="M421.7 955.3l3 9.3 1.3 2.2-3-9.2z"/><path class="c23" d="M426 966.8l3 9.3 1.3 2.2-3-9.2z"/><path class="c24" d="M424.7 964.6l3.1 9.4 1.2 2.1-3-9.3z"/><path class="c35" d="M411.2 924.5l3.1 9.2 1.3 2.9-3-9.3z"/><path class="c36" d="M409.9 921.7l3.1 9 1.3 3-3.1-9.2z"/><path class="c32" d="M414.3 933.7l3 9.2 1.3 3-3-9.3z"/><path class="c33" d="M413 930.7l3 9.1 1.3 3.1-3-9.2z"/><path class="c30" d="M417.3 942.9l3.1 9.2 1.3 3.2-3.1-9.4z"/><path class="c31" d="M416 939.8l3 9.1 1.4 3.2-3.1-9.2z"/><path class="c27" d="M420.4 952.1l3 9.2 1.3 3.3-3-9.3z"/><path class="c28" d="M419 948.9l3.1 9 1.3 3.4-3-9.2z"/><path class="c25" d="M423.4 961.3l3 9.2 1.4 3.5-3.1-9.4z"/><path class="c26" d="M422.1 957.9l3 9.1 1.3 3.5-3-9.2z"/><path class="c37" d="M408.6 919.1l3 8.7 1.4 2.9-3.1-9z"/><path class="c38" d="M407.3 916.6l3 8.3 1.3 2.9-3-8.7z"/><path class="c34" d="M411.6 927.8l3.1 8.7 1.3 3.3-3-9.1z"/><path class="c35" d="M410.3 924.9l3 8.3 1.4 3.3-3.1-8.7z"/><path class="c32" d="M414.7 936.5l3 8.7 1.3 3.7-3-9.1z"/><path class="c33" d="M413.3 933.2l3.1 8.3 1.3 3.7-3-8.7z"/><path class="c29" d="M417.7 945.2l3 8.7 1.4 4-3.1-9z"/><path class="c31" d="M416.4 941.5l3 8.3 1.3 4.1-3-8.7z"/><path class="c27" d="M420.7 953.9l3.1 8.7 1.3 4.4-3-9.1z"/><path class="c28" d="M419.4 949.8l3 8.3 1.4 4.5-3.1-8.7z"/><path class="c39" d="M405.9 915l3.1 7.7 1.3 2.2-3-8.3zM404.6 913.4l3 7.1 1.4 2.2-3.1-7.7z"/><path class="c36" d="M409 922.7l3 7.7 1.3 2.8-3-8.3z"/><path class="c37" d="M407.6 920.5l3 7.1 1.4 2.8-3-7.7z"/><path class="c34" d="M412 930.4l3 7.7 1.4 3.4-3.1-8.3z"/><path class="c35" d="M410.6 927.6l3.1 7.1 1.3 3.4-3-7.7z"/><path class="c32" d="M415 938.1l3 7.7 1.4 4-3-8.3z"/><path class="c33" d="M413.7 934.7l3 7.1 1.3 4-3-7.7z"/><path class="c30" d="M418 945.8l3.1 7.7 1.3 4.6-3-8.3z"/><path class="c31" d="M416.7 941.8l3 7.1 1.4 4.6-3.1-7.7z"/><path class="c40" d="M403.2 910.1l3 6.8 1.4 3.6-3-7.1z"/><path class="c41" d="M401.9 906.8l3 6.5 1.3 3.6-3-6.8z"/><path class="c38" d="M406.2 916.9l3.1 6.8 1.3 3.9-3-7.1z"/><path class="c39" d="M404.9 913.3l3 6.5 1.4 3.9-3.1-6.8z"/><path class="c36" d="M409.3 923.7l3 6.8 1.4 4.2-3.1-7.1z"/><path class="c38" d="M407.9 919.8l3 6.5 1.4 4.2-3-6.8z"/><path class="c34" d="M412.3 930.5l3 6.8 1.4 4.5-3-7.1z"/><path class="c36" d="M410.9 926.3l3 6.5 1.4 4.5-3-6.8z"/><path class="c33" d="M415.3 937.3l3 6.8 1.4 4.8-3-7.1z"/><path class="c34" d="M413.9 932.8l3 6.5 1.4 4.8-3-6.8z"/><path class="c42" d="M400.9 904.6l3 6.2 1 2.5-3-6.5z"/><path class="c43" d="M400 902.5l3 5.9 .9 2.4-3-6.2z"/><path class="c44" d="M399.1 900.3l3 5.6 .9 2.5-3-5.9z"/><path class="c40" d="M403.9 910.8l3 6.2 1 2.8-3-6.5z"/><path class="c41" d="M403 908.4l3 5.9 .9 2.7-3-6.2z"/><path class="c42" d="M402.1 905.9l3 5.7 .9 2.7-3-5.9z"/><path class="c39" d="M406.9 917l3 6.2 1 3.1-3-6.5z"/><path class="c40" d="M406 914.3l3 5.9 .9 3-3-6.2zM405.1 911.6l3 5.6 .9 3-3-5.9z"/><path class="c37" d="M409.9 923.2l3.1 6.3 .9 3.3-3-6.5z"/><path class="c38" d="M409 920.2l3 5.9 1 3.4-3.1-6.3z"/><path class="c39" d="M408.1 917.2l3 5.6 .9 3.3-3-5.9z"/><path class="c35" d="M413 929.5l3 6.2 .9 3.6-3-6.5z"/><path class="c36" d="M412 926.1l3 5.9 1 3.7-3-6.2z"/><path class="c37" d="M411.1 922.8l3 5.6 .9 3.6-3-5.9z"/><path class="c44" d="M398.1 897.8l3 5.4 1 2.7-3-5.6z"/><path class="c45" d="M397.2 895.4l3 5 .9 2.8-3-5.4z"/><path class="c46" d="M396.2 892.9l3 4.7 1 2.8-3-5z"/><path class="c43" d="M401.1 903.2l3 5.3 1 3.1-3-5.7z"/><path class="c44" d="M400.2 900.4l2.9 5 1 3.1-3-5.3z"/><path class="c45" d="M399.2 897.6l3 4.8 .9 3-2.9-5z"/><path class="c41" d="M404.1 908.5l3 5.3 1 3.4-3-5.6z"/><path class="c42" d="M403.1 905.4l3 5 1 3.4-3-5.3z"/><path class="c43" d="M402.2 902.4l3 4.7 .9 3.3-3-5z"/><path class="c40" d="M407.1 913.8l3 5.3 1 3.7-3-5.6z"/><path class="c41" d="M406.1 910.4l3 5.1 1 3.6-3-5.3z"/><path class="c42" d="M405.2 907.1l3 4.7 .9 3.7-3-5.1z"/><path class="c39" d="M410.1 919.1l3 5.3 1 4-3-5.6z"/><path class="c40" d="M409.1 915.5l3 5 1 3.9-3-5.3z"/><path class="c41" d="M408.2 911.8l2.9 4.7 1 4-3-5z"/><path class="c13" d="M519.2 975.7l4.7-2.8 1.8 1.3-4.6 2.7z"/><path class="c14" d="M523.9 972.9l4.7-2.9 1.8 1.5-4.7 2.7z"/><path class="c16" d="M528.6 970l4.7-2.8 1.8 1.7-4.7 2.6z"/><path class="c14" d="M518.3 973.1l4.7-2.9 .9 2.7-4.7 2.8z"/><path class="c15" d="M517.4 970.4l4.7-2.9 .9 2.7-4.7 2.9zM523 970.2l4.7-2.9 .9 2.7-4.7 2.9z"/><path class="c16" d="M522.1 967.5l4.7-2.9 .9 2.7-4.7 2.9z"/><path class="c17" d="M527.7 967.3l4.7-2.9 .9 2.8-4.7 2.8z"/><path class="c18" d="M526.8 964.6l4.7-2.9 .9 2.7-4.7 2.9z"/><path class="c16" d="M516.5 967.3l4.7-2.9 .9 3.1-4.7 2.9z"/><path class="c17" d="M515.6 964.1l4.7-2.9 .9 3.2-4.7 2.9zM521.2 964.4l4.7-2.9 .9 3.1-4.7 2.9z"/><path class="c19" d="M520.3 961.2l4.7-2.8 .9 3.1-4.7 2.9zM525.9 961.5l4.7-2.9 .9 3.1-4.7 2.9z"/><path class="c20" d="M525 958.4l4.7-2.9 .9 3.1-4.7 2.9z"/><path class="c19" d="M514.6 960.7l4.7-2.9 1 3.4-4.7 2.9z"/><path class="c20" d="M513.7 957.3l4.7-2.8 .9 3.3-4.7 2.9zM519.3 957.8l4.7-2.8 1 3.4-4.7 2.8z"/><path class="c21" d="M518.4 954.5l4.7-2.9 .9 3.4-4.7 2.8zM524 955l4.8-2.9 .9 3.4-4.7 2.9z"/><path class="c22" d="M523.1 951.6l4.7-2.9 1 3.4-4.8 2.9z"/><path class="c21" d="M511.8 953.5l4.7-2.9 1.9 3.9-4.7 2.8z"/><path class="c23" d="M516.5 950.6l4.8-2.9 1.8 3.9-4.7 2.9z"/><path class="c24" d="M521.3 947.7l4.7-2.9 1.8 3.9-4.7 2.9z"/><path class="c22" d="M509.9 953.3l4.7-3.2 1.9 .5-4.7 2.9z"/><path class="c23" d="M514.6 950.1l4.8-3.1 1.9 .7-4.8 2.9z"/><path class="c25" d="M519.4 947l4.7-3.2 1.9 1-4.7 2.9z"/><path class="c22" d="M508 957.5l4.7-3.7 1.9-3.7-4.7 3.2z"/><path class="c23" d="M512.7 953.8l4.7-3.7 2-3.1-4.8 3.1z"/><path class="c25" d="M517.4 950.1l4.8-3.6 1.9-2.7-4.7 3.2z"/><path class="c20" d="M507 961.1l3.5-2.9 1-3.5-3.5 2.8z"/><path class="c19" d="M506 964.7l3.6-3.1 .9-3.4-3.5 2.9z"/><path class="c22" d="M510.5 958.2l3.6-2.9 1-3.3-3.6 2.7z"/><path class="c21" d="M509.6 961.6l3.5-3.1 1-3.2-3.6 2.9z"/><path class="c23" d="M514.1 955.3l3.5-3 1-3.1-3.5 2.8z"/><path class="c22" d="M513.1 958.5l3.6-3 .9-3.2-3.5 3z"/><path class="c24" d="M517.6 952.3l3.6-2.9 1-2.9-3.6 2.7z"/><path class="c23" d="M516.7 955.5l3.5-3.1 1-3-3.6 2.9z"/><path class="c18" d="M505 969.3l3.6-3.3 1-4.4-3.6 3.1z"/><path class="c17" d="M504.1 973.9l3.5-3.5 1-4.4-3.6 3.3z"/><path class="c19" d="M508.6 966l3.5-3.2 1-4.3-3.5 3.1z"/><path class="c18" d="M507.6 970.4l3.5-3.4 1-4.2-3.5 3.2z"/><path class="c21" d="M512.1 962.8l3.6-3.3 1-4-3.6 3z"/><path class="c19" d="M511.1 967l3.6-3.4 1-4.1-3.6 3.3z"/><path class="c22" d="M515.7 959.5l3.5-3.2 1-3.9-3.5 3.1z"/><path class="c21" d="M514.7 963.6l3.5-3.4 1-3.9-3.5 3.2z"/><path class="c15" d="M503.4 977.4l3.6-3.5 .6-3.5-3.5 3.5z"/><path class="c14" d="M502.8 980.9l3.5-3.5 .7-3.5-3.6 3.5z"/><path class="c13" d="M502.1 984.4l3.6-3.5 .6-3.5-3.5 3.5z"/><path class="c17" d="M507 973.9l3.5-3.4 .6-3.5-3.5 3.4z"/><path class="c16" d="M506.3 977.4l3.5-3.5 .7-3.4-3.5 3.4z"/><path class="c14" d="M505.7 980.9l3.5-3.6 .6-3.4-3.5 3.5z"/><path class="c18" d="M510.5 970.5l3.5-3.5 .7-3.4-3.6 3.4z"/><path class="c17" d="M509.8 973.9l3.6-3.5 .6-3.4-3.5 3.5z"/><path class="c16" d="M509.2 977.3l3.5-3.5 .7-3.4-3.6 3.5z"/><path class="c20" d="M514 967l3.6-3.5 .6-3.3-3.5 3.4z"/><path class="c19" d="M513.4 970.4l3.5-3.5 .7-3.4-3.6 3.5z"/><path class="c17" d="M512.7 973.8l3.5-3.6 .7-3.3-3.5 3.5z"/><path class="c12" d="M501.1 988.6l2.9-3.1 .9-3.9-2.8 2.8z"/><path class="c10" d="M500.2 992.8l2.8-3.3 1-4-2.9 3.1z"/><path class="c13" d="M504 985.5l2.8-3.1 1-3.6-2.9 2.8z"/><path class="c12" d="M503 989.5l2.8-3.4 1-3.7-2.8 3.1z"/><path class="c14" d="M506.8 982.4l2.8-3.1 1-3.4-2.8 2.9z"/><path class="c13" d="M505.8 986.1l2.8-3.3 1-3.5-2.8 3.1z"/><path class="c15" d="M509.6 979.3l2.8-3.1 1-3.1-2.8 2.8z"/><path class="c14" d="M508.6 982.8l2.8-3.4 1-3.2-2.8 3.1z"/><path class="c17" d="M512.4 976.2l2.8-3.1 1-2.9-2.8 2.9z"/><path class="c16" d="M511.4 979.4l2.9-3.4 .9-2.9-2.8 3.1z"/><path class="c9" d="M498.2 996.4l2.8-3.7 2-3.2-2.8 3.3z"/><path class="c11" d="M501 992.7l2.8-3.6 2-3-2.8 3.4z"/><path class="c12" d="M503.8 989.1l2.9-3.6 1.9-2.7-2.8 3.3z"/><path class="c14" d="M506.7 985.5l2.8-3.6 1.9-2.5-2.8 3.4z"/><path class="c15" d="M509.5 981.9l2.8-3.7 2-2.2-2.9 3.4z"/><path class="c9" d="M496.2 995.4l2.9-3.7 1.9 1-2.8 3.7z"/><path class="c11" d="M499.1 991.7l2.8-3.6 1.9 1-2.8 3.6z"/><path class="c12" d="M501.9 988.1l2.8-3.7 2 1.1-2.9 3.6z"/><path class="c13" d="M504.7 984.4l2.8-3.6 2 1.1-2.8 3.6z"/><path class="c15" d="M507.5 980.8l2.8-3.7 2 1.1-2.8 3.7z"/><path class="c10" d="M494.2 993.2l2.9-3.5 2 2-2.9 3.7z"/><path class="c11" d="M497.1 989.7l2.8-3.6 2 2-2.8 3.6z"/><path class="c13" d="M499.9 986.1l2.8-3.5 2 1.8-2.8 3.7z"/><path class="c14" d="M502.7 982.6l2.8-3.6 2 1.8-2.8 3.6z"/><path class="c16" d="M505.5 979l2.8-3.5 2 1.6-2.8 3.7z"/><path class="c11" d="M492.2 990.7l2.9-3.4 2 2.4-2.9 3.5z"/><path class="c12" d="M495.1 987.3l2.8-3.5 2 2.3-2.8 3.6z"/><path class="c14" d="M497.9 983.8l2.8-3.4 2 2.2-2.8 3.5z"/><path class="c15" d="M500.7 980.4l2.8-3.5 2 2.1-2.8 3.6z"/><path class="c17" d="M503.5 976.9l2.8-3.4 2 2-2.8 3.5z"/><path class="c12" d="M490.2 988.3l2.8-3.4 2.1 2.4-2.9 3.4z"/><path class="c13" d="M493 984.9l2.9-3.4 2 2.3-2.8 3.5z"/><path class="c15" d="M495.9 981.5l2.8-3.3 2 2.2-2.8 3.4z"/><path class="c16" d="M498.7 978.2l2.8-3.4 2 2.1-2.8 3.5z"/><path class="c17" d="M501.5 974.8l2.8-3.4 2 2.1-2.8 3.4z"/><path class="c13" d="M488.2 986.4l2.8-3.3 2 1.8-2.8 3.4z"/><path class="c14" d="M491 983.1l2.8-3.3 2.1 1.7-2.9 3.4z"/><path class="c16" d="M493.8 979.8l2.9-3.2 2 1.6-2.8 3.3z"/><path class="c17" d="M496.7 976.6l2.8-3.3 2 1.5-2.8 3.4z"/><path class="c18" d="M499.5 973.3l2.8-3.3 2 1.4-2.8 3.4z"/><path class="c13" d="M486.1 986.5l2.9-3.4 2 0-2.8 3.3z"/><path class="c15" d="M489 983.1l2.8-3.3 2 0-2.8 3.3z"/><path class="c16" d="M491.8 979.8l2.8-3.4 2.1 .2-2.9 3.2z"/><path class="c17" d="M494.6 976.4l2.8-3.3 2.1 .2-2.8 3.3z"/><path class="c19" d="M497.4 973.1l2.9-3.4 2 .3-2.8 3.3z"/><path class="c13" d="M484.1 987.7l2.8-3.4 2.1-1.2-2.9 3.4z"/><path class="c15" d="M486.9 984.3l2.8-3.3 2.1-1.2-2.8 3.3z"/><path class="c16" d="M489.7 981l2.9-3.4 2-1.2-2.8 3.4z"/><path class="c17" d="M492.6 977.6l2.8-3.3 2-1.2-2.8 3.3z"/><path class="c19" d="M495.4 974.3l2.8-3.4 2.1-1.2-2.9 3.4z"/><path class="c13" d="M482 989.6l2.9-3.3 2-2-2.8 3.4z"/><path class="c14" d="M484.9 986.3l2.8-3.2 2-2.1-2.8 3.3z"/><path class="c16" d="M487.7 983.1l2.8-3.3 2.1-2.2-2.9 3.4z"/><path class="c17" d="M490.5 979.8l2.8-3.3 2.1-2.2-2.8 3.3z"/><path class="c18" d="M493.3 976.5l2.9-3.2 2-2.4-2.8 3.4z"/><path class="c12" d="M480 992.5l2.8-3.1 2.1-3.1-2.9 3.3z"/><path class="c14" d="M482.8 989.4l2.8-3.2 2.1-3.1-2.8 3.2z"/><path class="c15" d="M485.6 986.2l2.8-3.2 2.1-3.2-2.8 3.3z"/><path class="c16" d="M488.4 983l2.9-3.1 2-3.4-2.8 3.3z"/><path class="c18" d="M491.3 979.9l2.8-3.2 2.1-3.4-2.9 3.2z"/><path class="c12" d="M477.9 994l2.8-3.1 2.1-1.5-2.8 3.1z"/><path class="c13" d="M480.7 990.9l2.8-3.1 2.1-1.6-2.8 3.2z"/><path class="c15" d="M483.5 987.8l2.9-3.1 2-1.7-2.8 3.2z"/><path class="c16" d="M486.4 984.7l2.8-3.1 2.1-1.7-2.9 3.1z"/><path class="c17" d="M489.2 981.6l2.8-3.1 2.1-1.8-2.8 3.2z"/><path class="c12" d="M475.8 993.3l3.5-3.7 2.1 .5-3.5 3.9z"/><path class="c14" d="M479.3 989.6l3.5-3.8 2.1 .4-3.5 3.9z"/><path class="c15" d="M482.8 985.8l3.6-3.8 2.1 .3-3.6 3.9z"/><path class="c17" d="M486.4 982l3.5-3.7 2.1 .2-3.5 3.8z"/><path class="c13" d="M473.6 991.4l3.6-3.6 2.1 1.8-3.5 3.7z"/><path class="c14" d="M477.2 987.8l3.5-3.6 2.1 1.6-3.5 3.8z"/><path class="c16" d="M480.7 984.2l3.5-3.6 2.2 1.4-3.6 3.8z"/><path class="c17" d="M484.2 980.6l3.6-3.6 2.1 1.3-3.5 3.7z"/><path class="c14" d="M471.5 989.4l3.5-3.6 2.2 2-3.6 3.6z"/><path class="c15" d="M475 985.8l3.6-3.6 2.1 2-3.5 3.6z"/><path class="c17" d="M478.6 982.2l3.5-3.6 2.1 2-3.5 3.6z"/><path class="c18" d="M482.1 978.6l3.5-3.6 2.2 2-3.6 3.6z"/><path class="c15" d="M469.3 987.3l3.6-3.4 2.1 1.9-3.5 3.6z"/><path class="c16" d="M472.9 983.9l3.5-3.5 2.2 1.8-3.6 3.6z"/><path class="c18" d="M476.4 980.4l3.5-3.4 2.2 1.6-3.5 3.6z"/><path class="c19" d="M479.9 977l3.6-3.5 2.1 1.5-3.5 3.6z"/><path class="c15" d="M467.2 986.9l3.5-3.2 2.2 .2-3.6 3.4z"/><path class="c17" d="M470.7 983.7l3.5-3.3 2.2 0-3.5 3.5z"/><path class="c18" d="M474.2 980.4l3.6-3.2 2.1-.2-3.5 3.4z"/><path class="c19" d="M477.8 977.2l3.5-3.3 2.2-.4-3.6 3.5z"/><path class="c15" d="M465 988.8l3.5-3.4 2.2-1.7-3.5 3.2z"/><path class="c17" d="M468.5 985.4l3.6-3.4 2.1-1.6-3.5 3.3z"/><path class="c18" d="M472.1 982l3.5-3.5 2.2-1.3-3.6 3.2z"/><path class="c19" d="M475.6 978.5l3.6-3.4 2.1-1.2-3.5 3.3z"/><path class="c15" d="M462.8 991.7l3.6-3.6 2.1-2.7-3.5 3.4z"/><path class="c16" d="M466.4 988.1l3.5-3.6 2.2-2.5-3.6 3.4z"/><path class="c18" d="M469.9 984.5l3.5-3.7 2.2-2.3-3.5 3.5z"/><path class="c19" d="M473.4 980.8l3.6-3.6 2.2-2.1-3.6 3.4z"/><path class="c14" d="M460.7 993.5l3.5-3.4 2.2-2-3.6 3.6z"/><path class="c16" d="M464.2 990.1l3.5-3.4 2.2-2.2-3.5 3.6z"/><path class="c17" d="M467.7 986.7l3.6-3.3 2.1-2.6-3.5 3.7z"/><path class="c19" d="M471.3 983.4l3.5-3.4 2.2-2.8-3.6 3.6z"/><path class="c14" d="M458.5 994.4l3.5-2.9 2.2-1.4-3.5 3.4z"/><path class="c15" d="M462 991.5l3.5-2.8 2.2-2-3.5 3.4z"/><path class="c17" d="M465.5 988.7l3.6-2.9 2.2-2.4-3.6 3.3z"/><path class="c18" d="M469.1 985.8l3.5-2.9 2.2-2.9-3.5 3.4z"/><path class="c14" d="M456.2 993.4l3.6-2.1 2.2 .2-3.5 2.9z"/><path class="c15" d="M459.8 991.3l3.5-2.2 2.2-.4-3.5 2.8z"/><path class="c16" d="M463.3 989.1l3.5-2.1 2.3-1.2-3.6 2.9z"/><path class="c17" d="M466.8 987l3.6-2.1 2.2-2-3.5 2.9z"/><path class="c15" d="M453.9 991.2l4.8-1.7 2.2 1.1-4.7 2.8z"/><path class="c16" d="M458.7 989.5l4.7-1.8 2.3 0-4.8 2.9z"/><path class="c17" d="M463.4 987.7l4.8-1.7 2.2-1.1-4.7 2.8z"/><path class="c16" d="M451.6 988.9l7.2-1 2.2 .7-7.1 2.6z"/><path class="c17" d="M458.8 987.9l7.1-1 2.3-.9-7.2 2.6zM449.3 987l7.2 .3 2.3 .6-7.2 1zM456.5 987.3l7.1 .3 2.3-.7-7.1 1zM446.8 985.1l14.7 2.7 2.3-.2-14.6-.6z"/><path class="c18" d="M444.5 984.6l14.7 3.5 2.3-.3-14.7-2.7zM442.2 984.8l14.7 4.6 2.3-1.3-14.7-3.5zM439.9 985.7l14.7 6.2 2.3-2.6-14.7-4.5z"/><path class="c17" d="M437.5 986.8l14.8 7.8 2.3-2.7-14.7-6.3z"/><path class="c18" d="M435.3 985.8l7.2 6.2 2.4-1.4-7.2-3.8z"/><path class="c17" d="M442.5 992l7.3 6.3 2.3-3.8-7.2-3.9z"/><path class="c18" d="M432.8 982.1l4.9 5.8 2.4 2-4.8-4.1z"/><path class="c17" d="M437.7 987.9l4.9 5.9 2.4 .3-4.9-4.2z"/><path class="c16" d="M442.6 993.8l4.9 5.8 2.3-1.3-4.8-4.2z"/><path class="c20" d="M430.3 978.3l3.7 5.4 2.5 2.8-3.7-4.4z"/><path class="c19" d="M434 983.7l3.7 5.4 2.4 1.7-3.6-4.3z"/><path class="c17" d="M437.7 989.1l3.7 5.4 2.4 .7-3.7-4.4z"/><path class="c16" d="M441.4 994.5l3.7 5.4 2.4-.3-3.7-4.4z"/><path class="c21" d="M427.8 974l3.7 6.1 2.5 3.6-3.7-5.4z"/><path class="c20" d="M431.5 980.1l3.7 6.1 2.5 2.9-3.7-5.4z"/><path class="c18" d="M435.2 986.2l3.7 6.2 2.5 2.1-3.7-5.4z"/><path class="c17" d="M438.9 992.4l3.8 6.1 2.4 1.4-3.7-5.4z"/><path class="c22" d="M426.4 970.5l3.8 6.1 1.3 3.5-3.7-6.1z"/><path class="c24" d="M425.1 967l3.8 6 1.3 3.6-3.8-6.1z"/><path class="c21" d="M430.2 976.6l3.7 6 1.3 3.6-3.7-6.1z"/><path class="c22" d="M428.9 973l3.7 6.1 1.3 3.5-3.7-6z"/><path class="c19" d="M433.9 982.6l3.7 6.1 1.3 3.7-3.7-6.2z"/><path class="c21" d="M432.6 979.1l3.7 6 1.3 3.6-3.7-6.1z"/><path class="c18" d="M437.6 988.7l3.8 6.1 1.3 3.7-3.8-6.1z"/><path class="c19" d="M436.3 985.1l3.8 6 1.3 3.7-3.8-6.1z"/><path class="c25" d="M424.2 964.1l3.8 5.9 .9 3-3.8-6z"/><path class="c26" d="M423.3 961.1l3.8 5.8 .9 3.1-3.8-5.9z"/><path class="c27" d="M422.4 958.1l3.8 5.8 .9 3-3.8-5.8z"/><path class="c23" d="M428 970l3.7 5.9 .9 3.2-3.7-6.1z"/><path class="c24" d="M427.1 966.9l3.7 5.9 .9 3.1-3.7-5.9z"/><path class="c25" d="M426.2 963.9l3.7 5.8 .9 3.1-3.7-5.9z"/><path class="c22" d="M431.7 975.9l3.8 6 .8 3.2-3.7-6z"/><path class="c23" d="M430.8 972.8l3.8 5.8 .9 3.3-3.8-6z"/><path class="c24" d="M429.9 969.7l3.8 5.7 .9 3.2-3.8-5.8z"/><path class="c20" d="M435.5 981.9l3.7 5.9 .9 3.3-3.8-6z"/><path class="c21" d="M434.6 978.6l3.7 5.9 .9 3.3-3.7-5.9z"/><path class="c22" d="M433.7 975.4l3.7 5.8 .9 3.3-3.7-5.9z"/><path class="c28" d="M421.5 955.1l3.8 5.5 .9 3.3-3.8-5.8z"/><path class="c29" d="M420.6 952l3.8 5.3 .9 3.3-3.8-5.5z"/><path class="c30" d="M419.7 948.9l3.7 5.2 1 3.2-3.8-5.3z"/><path class="c26" d="M425.3 960.6l3.7 5.6 .9 3.5-3.7-5.8z"/><path class="c27" d="M424.4 957.3l3.7 5.4 .9 3.5-3.7-5.6z"/><path class="c28" d="M423.4 954.1l3.8 5.1 .9 3.5-3.7-5.4z"/><path class="c25" d="M429 966.2l3.8 5.5 .9 3.7-3.8-5.7z"/><path class="c26" d="M428.1 962.7l3.8 5.3 .9 3.7-3.8-5.5z"/><path class="c27" d="M427.2 959.2l3.7 5.1 1 3.7-3.8-5.3z"/><path class="c23" d="M432.8 971.7l3.7 5.6 .9 3.9-3.7-5.8z"/><path class="c25" d="M431.9 968l3.7 5.4 .9 3.9-3.7-5.6z"/><path class="c26" d="M430.9 964.3l3.8 5.2 .9 3.9-3.7-5.4z"/><path class="c31" d="M418.8 945.7l3.7 5 .9 3.4-3.7-5.2z"/><path class="c32" d="M417.8 942.5l3.8 4.8 .9 3.4-3.7-5z"/><path class="c33" d="M416.9 939.3l3.8 4.6 .9 3.4-3.8-4.8z"/><path class="c30" d="M422.5 950.7l3.8 5 .9 3.5-3.8-5.1z"/><path class="c31" d="M421.6 947.3l3.7 4.8 1 3.6-3.8-5z"/><path class="c32" d="M420.7 943.9l3.7 4.7 .9 3.5-3.7-4.8z"/><path class="c28" d="M426.3 955.7l3.7 4.9 .9 3.7-3.7-5.1z"/><path class="c29" d="M425.3 952.1l3.8 4.8 .9 3.7-3.7-4.9z"/><path class="c31" d="M424.4 948.6l3.8 4.7 .9 3.6-3.8-4.8z"/><path class="c27" d="M430 960.6l3.8 5 .9 3.9-3.8-5.2z"/><path class="c28" d="M429.1 956.9l3.7 4.9 1 3.8-3.8-5z"/><path class="c29" d="M428.2 953.3l3.7 4.6 .9 3.9-3.7-4.9z"/><path class="c34" d="M416 935.7l5 6 .9 3.8-5-6.2z"/><path class="c35" d="M415 932l5 5.8 1 3.9-5-6z"/><path class="c36" d="M414.1 928.4l5 5.6 .9 3.8-5-5.8z"/><path class="c32" d="M421 941.7l5 6 .9 4-5-6.2z"/><path class="c34" d="M420 937.8l5 5.8 1 4.1-5-6z"/><path class="c35" d="M419.1 934l5 5.6 .9 4-5-5.8z"/><path class="c31" d="M426 947.7l5 6 .9 4.2-5-6.2z"/><path class="c32" d="M425 943.6l5 5.8 1 4.3-5-6z"/><path class="c33" d="M424.1 939.6l5 5.6 .9 4.2-5-5.8z"/><path class="c37" d="M413.1 924.4l5 5.7 1 3.9-5-5.6z"/><path class="c38" d="M412.1 920.5l5 5.8 1 3.8-5-5.7z"/><path class="c40" d="M411.1 916.5l5.1 5.9 .9 3.9-5-5.8z"/><path class="c36" d="M418.1 930.1l5 5.7 1 3.8-5-5.6z"/><path class="c37" d="M417.1 926.3l5.1 5.8 .9 3.7-5-5.7z"/><path class="c38" d="M416.2 922.4l5 5.9 1 3.8-5.1-5.8z"/><path class="c35" d="M423.1 935.8l5.1 5.7 .9 3.7-5-5.6z"/><path class="c36" d="M422.2 932.1l5 5.8 1 3.6-5.1-5.7z"/><path class="c37" d="M421.2 928.3l5.1 5.9 .9 3.7-5-5.8z"/><path class="c16" d="M533.3 967.2l14.4 4.9 1.7 2.1-14.3-5.3z"/><path class="c17" d="M532.4 964.4l14.4 4.9 .9 2.8-14.4-4.9z"/><path class="c18" d="M531.5 961.7l14.4 4.7 .9 2.9-14.4-4.9z"/><path class="c19" d="M530.6 958.6l14.4 4.7 .9 3.1-14.4-4.7z"/><path class="c20" d="M529.7 955.5l14.5 4.7 .8 3.1-14.4-4.7z"/><path class="c22" d="M528.8 952.1l14.5 4.6 .9 3.5-14.5-4.7z"/><path class="c23" d="M527.8 948.7l14.6 4.6 .9 3.4-14.5-4.6z"/><path class="c24" d="M526 944.8l14.6 4.5 1.8 4-14.6-4.6z"/><path class="c25" d="M524 943.8l14.9 4.4 1.8 1.1-14.9-4.5zM522 946.4l14.9 4 2-2.2-14.9-4.5zM521.2 949.4l14.6 4 1-3-14.6-3.9z"/><path class="c24" d="M520.2 952.4l14.6 4 1-3-14.6-4z"/><path class="c23" d="M519.2 956.3l14.6 3.5 1-3.4-14.6-4z"/><path class="c22" d="M518.2 960.2l14.6 3 1-3.4-14.6-3.5z"/><path class="c20" d="M517.2 965.2l14.6 2.2 1-4.2-14.6-3z"/><path class="c19" d="M516.2 970.2l14.6 1.4 1-4.2-14.6-2.2z"/><path class="c18" d="M515.2 973.1l14.6 1.9 1-3.4-14.6-1.4z"/><path class="c17" d="M514.3 976l14.5 2.4 1-3.4-14.6-1.9z"/><path class="c16" d="M512.1 978.2l14.9 2.8 2-2.6-14.9-2.4zM510.2 977.1l14.9 2.8 1.9 1.1-14.9-2.8z"/><path class="c17" d="M508.2 975.5l14.9 2.2 2 2.2-14.9-2.8zM506.3 973.5l14.7 2.1 2 2.1-14.7-2.2z"/><path class="c18" d="M504.3 971.4l14.7 2.1 2 2.1-14.7-2.1z"/><path class="c19" d="M502.2 970l15 1.9 2 1.6-15-2.1z"/><path class="c20" d="M500.1 969.7l15 1.1 2.1 1.2-15-2zM498.1 970.9l15 0 2-.1-15-1.1z"/><path class="c19" d="M496.2 973.3l7.3-.9 2.1-1.5-7.4 0z"/><path class="c20" d="M503.5 972.4l7.4-.8 2.1-.7-7.4 0z"/><path class="c19" d="M494.1 976.7l7.4-1.7 2-2.6-7.3 .9z"/><path class="c20" d="M501.5 975l7.3-1.8 2.1-1.6-7.4 .8z"/><path class="c18" d="M492 978.5l7.4-2.3 2.1-1.2-7.4 1.7z"/><path class="c20" d="M499.4 976.2l7.3-2.3 2.1-.7-7.3 1.8z"/><path class="c18" d="M489.9 978.3l7.4-2.6 2.1 .5-7.4 2.3z"/><path class="c20" d="M497.3 975.7l7.4-2.6 2 .8-7.3 2.3z"/><path class="c19" d="M487.8 977l7.4-2.8 2.1 1.5-7.4 2.6z"/><path class="c20" d="M495.2 974.2l7.4-2.8 2.1 1.7-7.4 2.6zM485.6 975l7.4-2.7 2.2 1.9-7.4 2.8z"/><path class="c21" d="M493 972.3l7.4-2.7 2.2 1.8-7.4 2.8z"/><path class="c20" d="M483.5 973.5l7.4-2.9 2.1 1.7-7.4 2.7z"/><path class="c22" d="M490.9 970.6l7.4-3 2.1 2-7.4 2.7z"/><path class="c21" d="M481.3 973.9l7.4-3 2.2-.3-7.4 2.9z"/><path class="c22" d="M488.7 970.9l7.4-3 2.2-.3-7.4 3z"/><path class="c21" d="M479.2 975.1l7.4-3 2.1-1.2-7.4 3z"/><path class="c22" d="M486.6 972.1l7.4-3 2.1-1.2-7.4 3z"/><path class="c20" d="M477 977.2l4.9-2.2 2.2-1.9-4.9 2z"/><path class="c21" d="M481.9 975l5-2.2 2.1-1.7-4.9 2z"/><path class="c22" d="M486.9 972.8l4.9-2.1 2.2-1.6-5 2z"/><path class="c20" d="M474.8 980l4.9-2.5 2.2-2.5-4.9 2.2z"/><path class="c21" d="M479.7 977.5l5-2.4 2.2-2.3-5 2.2z"/><path class="c22" d="M484.7 975.1l4.9-2.5 2.2-1.9-4.9 2.1z"/><path class="c19" d="M472.6 982.9l4.9-2.6 2.2-2.8-4.9 2.5z"/><path class="c20" d="M477.5 980.3l5-2.6 2.2-2.6-5 2.4z"/><path class="c22" d="M482.5 977.7l4.9-2.6 2.2-2.5-4.9 2.5z"/><path class="c19" d="M470.4 984.9l4.9-2.6 2.2-2-4.9 2.6z"/><path class="c20" d="M475.3 982.3l5-2.5 2.2-2.1-5 2.6z"/><path class="c21" d="M480.3 979.8l4.9-2.6 2.2-2.1-4.9 2.6z"/><path class="c18" d="M468.2 986l4.9-2.4 2.2-1.3-4.9 2.6z"/><path class="c20" d="M473.1 983.6l4.9-2.4 2.3-1.4-5 2.5z"/><path class="c21" d="M478 981.2l5-2.4 2.2-1.6-4.9 2.6z"/><path class="c18" d="M465.9 986.9l4.9-2.4 2.3-.9-4.9 2.4z"/><path class="c19" d="M470.8 984.5l5-2.3 2.2-1-4.9 2.4z"/><path class="c21" d="M475.8 982.2l4.9-2.3 2.3-1.1-5 2.4z"/><path class="c18" d="M463.6 987.6l5-2.3 2.2-.8-4.9 2.4z"/><path class="c19" d="M468.6 985.3l4.9-2.4 2.3-.7-5 2.3z"/><path class="c20" d="M473.5 982.9l4.9-2.3 2.3-.7-4.9 2.3z"/><path class="c18" d="M461.4 987.8l4.9-2.2 2.3-.3-5 2.3z"/><path class="c19" d="M466.3 985.6l4.9-2.3 2.3-.4-4.9 2.4z"/><path class="c21" d="M471.2 983.3l5-2.3 2.2-.4-4.9 2.3z"/><path class="c18" d="M459.1 988l4.9-2.2 2.3-.2-4.9 2.2z"/><path class="c20" d="M464 985.8l4.9-2.3 2.3-.2-4.9 2.3z"/><path class="c21" d="M468.9 983.5l5-2.3 2.3-.2-5 2.3z"/><path class="c18" d="M456.7 989.3l5-2.4 2.3-1.1-4.9 2.2z"/><path class="c20" d="M461.7 986.9l4.9-2.5 2.3-.9-4.9 2.3z"/><path class="c21" d="M466.6 984.4l5-2.4 2.3-.8-5 2.3z"/><path class="c18" d="M454.4 991.9l5-2.7 2.3-2.3-5 2.4z"/><path class="c19" d="M459.4 989.2l4.9-2.7 2.3-2.1-4.9 2.5z"/><path class="c21" d="M464.3 986.5l4.9-2.7 2.4-1.8-5 2.4z"/><path class="c18" d="M452.1 994.5l5-2.6 2.3-2.7-5 2.7z"/><path class="c19" d="M457.1 991.9l4.9-2.5 2.3-2.9-4.9 2.7z"/><path class="c20" d="M462 989.4l4.9-2.6 2.3-3-4.9 2.7z"/><path class="c17" d="M449.8 998.3l5-2.5 2.3-3.9-5 2.6z"/><path class="c18" d="M454.8 995.8l4.9-2.4 2.3-4-4.9 2.5z"/><path class="c19" d="M459.7 993.4l4.9-2.5 2.3-4.1-4.9 2.6z"/><path class="c16" d="M447.5 999.6l4.9-1.9 2.4-1.9-5 2.5z"/><path class="c17" d="M452.4 997.7l4.9-1.9 2.4-2.4-4.9 2.4z"/><path class="c18" d="M457.3 995.8l5-1.9 2.3-3-4.9 2.5z"/><path class="c16" d="M445.1 999.9l7.4-2.2 2.4-1-7.4 2.9z"/><path class="c18" d="M452.5 997.7l7.4-2.1 2.4-1.7-7.4 2.8z"/><path class="c17" d="M442.7 998.5l7.4-1.5 2.4 .7-7.4 2.2z"/><path class="c18" d="M450.1 997l7.4-1.5 2.4 .1-7.4 2.1zM441.4 994.8l7.4-1 1.3 3.2-7.4 1.5z"/><path class="c19" d="M440.1 991.1l7.4-.5 1.3 3.2-7.4 1zM448.8 993.8l7.4-1 1.3 2.7-7.4 1.5z"/><path class="c20" d="M447.5 990.6l7.5-.4 1.2 2.6-7.4 1zM439.2 987.8l14.9-.9 .9 3.3-14.9 .9z"/><path class="c21" d="M438.3 984.5l15-.9 .8 3.3-14.9 .9z"/><path class="c22" d="M437.4 981.2l15-.9 .9 3.3-15 .9z"/><path class="c23" d="M436.5 977.3l15-.6 .9 3.6-15 .9z"/><path class="c25" d="M435.6 973.4l15-.2 .9 3.5-15 .6z"/><path class="c26" d="M434.7 969.5l15 .1 .9 3.6-15 .2z"/><path class="c27" d="M433.8 965.6l15 1 .9 3-15-.1z"/><path class="c28" d="M432.8 961.8l15.2 1.9 .8 2.9-15-1z"/><path class="c29" d="M431.9 957.9l15.2 2.8 .9 3-15.2-1.9z"/><path class="c30" d="M431 953.7l15.2 2.7 .9 4.3-15.2-2.8z"/><path class="c32" d="M430 949.4l15.2 2.7 1 4.3-15.2-2.7z"/><path class="c33" d="M429.1 945.2l15.2 2.6 .9 4.3-15.2-2.7z"/><path class="c34" d="M428.2 941.5l15.2 2.6 .9 3.7-15.2-2.6z"/><path class="c35" d="M427.2 937.9l15.3 2.4 .9 3.8-15.2-2.6z"/><path class="c36" d="M426.3 934.2l15.2 2.4 1 3.7-15.3-2.4z"/><path class="c16" d="M547.7 972.1l14.9 1.8 1.7 2.1-14.9-1.8z"/><path class="c17" d="M546.8 969.3l14.9 1.7 .9 2.9-14.9-1.8z"/><path class="c18" d="M545.9 966.4l15 1.7 .8 2.9-14.9-1.7z"/><path class="c19" d="M545 963.3l15 1.7 .9 3.1-15-1.7z"/><path class="c20" d="M544.2 960.2l15 1.6 .8 3.2-15-1.7z"/><path class="c22" d="M543.3 956.7l15 1.6 .9 3.5-15-1.6z"/><path class="c23" d="M542.4 953.3l15.1 1.5 .8 3.5-15-1.6z"/><path class="c24" d="M540.6 949.3l15.1 1.5 1.8 4-15.1-1.5z"/><path class="c25" d="M538.6 948.1l15.4 1.5 1.9 1.2-15.5-1.5zM536.6 950.4l15.5 1.5 1.9-2.3-15.4-1.5zM535.8 953.4l15.1 1.5 1-3-15.1-1.5z"/><path class="c24" d="M534.8 956.4l15.1 1.5 1-3-15.1-1.5z"/><path class="c23" d="M533.8 959.8l15.1 1.6 1-3.5-15.1-1.5z"/><path class="c22" d="M532.8 963.2l15.1 1.7 1-3.5-15.1-1.6z"/><path class="c21" d="M531.8 967.4l15.1 1.8 1-4.3-15.1-1.7z"/><path class="c19" d="M530.8 971.6l15.1 1.9 1-4.3-15.1-1.8z"/><path class="c18" d="M529.8 975l15.1 1.9 1-3.4-15.1-1.9z"/><path class="c17" d="M528.8 978.4l15.1 2 1-3.5-15.1-1.9z"/><path class="c16" d="M526.7 981l15.4 2 1.9-2.6-15.3-2zM524.8 979.8l15.4 2.1 1.9 1.1-15.4-2.1z"/><path class="c17" d="M523 977.7l15.1 2 1.9 2.2-15.1-2.1z"/><path class="c18" d="M521 975.6l15.1 2 2 2.1-15.1-2z"/><path class="c19" d="M519 973.5l15.2 1.9 1.9 2.2-15.1-2z"/><path class="c20" d="M516.9 971.9l15.5 2 1.9 1.5-15.4-1.9zM514.8 970.8l15.6 1.9 2 1.2-15.5-2z"/><path class="c21" d="M512.8 970.9l15.6 2 2-.2-15.6-1.9zM510.7 971.6l15.6 2 2.1-.8-15.6-1.9zM508.7 973.2l15.5 2 2.1-1.7-15.5-1.9zM506.6 973.9l15.6 2 2.1-.7-15.6-2zM504.5 973l15.6 2 2.1 .9-15.6-2zM502.4 971.4l15.6 2 2.1 1.7-15.6-2z"/><path class="c22" d="M500.4 969.6l15.4 2 2.1 1.8-15.3-2z"/><path class="c23" d="M498.3 967.6l15.4 1.9 2.1 2.1-15.4-2z"/><path class="c24" d="M496 967.9l15.7 .6 2.1 1-15.7-1.9zM493.8 969.1l15.7 1 2.2-1.6-15.7-.6z"/><path class="c23" d="M491.6 970.7l15.8 1.4 2.1-2-15.7-1zM489.4 972.6l15.8 1.1 2.2-1.6-15.8-1.5zM487.4 975.1l15.4-.5 2.2-.9-15.4-1.1z"/><path class="c22" d="M485.2 977.2l7.7-1 2.2-1.3-7.7 .2z"/><path class="c23" d="M492.9 976.2l7.7-1 2.2-.6-7.7 .3z"/><path class="c22" d="M483 978.8l7.7-1.6 2.2-1-7.7 1z"/><path class="c23" d="M490.7 977.2l7.7-1.7 2.2-.3-7.7 1z"/><path class="c22" d="M480.7 979.9l7.7-2.1 2.3-.6-7.7 1.6z"/><path class="c23" d="M488.4 977.8l7.7-2.1 2.3-.2-7.7 1.7z"/><path class="c22" d="M478.4 980.6l7.8-2.5 2.2-.3-7.7 2.1z"/><path class="c23" d="M486.2 978.1l7.7-2.5 2.2 .1-7.7 2.1z"/><path class="c22" d="M476.2 981l7.7-2.8 2.3-.1-7.8 2.5z"/><path class="c23" d="M483.9 978.2l7.7-2.8 2.3 .2-7.7 2.5z"/><path class="c22" d="M473.9 981.2l7.7-2.8 2.3-.2-7.7 2.8z"/><path class="c23" d="M481.6 978.4l7.7-2.8 2.3-.2-7.7 2.8z"/><path class="c22" d="M471.6 982l7.7-2.8 2.3-.8-7.7 2.8z"/><path class="c23" d="M479.3 979.2l7.7-2.8 2.3-.8-7.7 2.8z"/><path class="c22" d="M469.2 983.8l7.8-2.9 2.3-1.7-7.7 2.8z"/><path class="c23" d="M477 980.9l7.7-2.9 2.3-1.6-7.7 2.8z"/><path class="c21" d="M466.9 986.8l5.2-2.3 2.3-2.6-5.2 1.9z"/><path class="c22" d="M472.1 984.5l5.1-2.4 2.3-2.1-5.1 1.9z"/><path class="c23" d="M477.2 982.1l5.2-2.3 2.3-1.8-5.2 2z"/><path class="c20" d="M464.6 990.9l5.2-3 2.3-3.4-5.2 2.3z"/><path class="c22" d="M469.8 987.9l5.1-3 2.3-2.8-5.1 2.4z"/><path class="c23" d="M474.9 984.9l5.1-3 2.4-2.1-5.2 2.3z"/><path class="c20" d="M462.3 993.9l5.1-3.6 2.4-2.4-5.2 3z"/><path class="c21" d="M467.4 990.3l5.1-3.5 2.4-1.9-5.1 3z"/><path class="c22" d="M472.5 986.8l5.2-3.6 2.3-1.3-5.1 3z"/><path class="c19" d="M459.9 995.6l3.8-3.1 2.4-1.3-3.8 2.7z"/><path class="c20" d="M463.7 992.5l3.9-3.2 2.4-.8-3.9 2.7z"/><path class="c21" d="M467.6 989.3l3.8-3.1 2.4-.3-3.8 2.6z"/><path class="c23" d="M471.4 986.2l3.9-3.2 2.4 .2-3.9 2.7z"/><path class="c19" d="M457.5 995.5l3.8-3.6 2.4 .6-3.8 3.1z"/><path class="c20" d="M461.3 991.9l3.9-3.5 2.4 .9-3.9 3.2z"/><path class="c22" d="M465.2 988.4l3.8-3.6 2.4 1.4-3.8 3.1z"/><path class="c23" d="M469 984.8l3.9-3.5 2.4 1.7-3.9 3.2z"/><path class="c20" d="M456.2 992.8l3.9-3.4 1.2 2.5-3.8 3.6z"/><path class="c21" d="M455 990.2l3.8-3.3 1.3 2.5-3.9 3.4zM460.1 989.4l3.8-3.4 1.3 2.4-3.9 3.5z"/><path class="c22" d="M458.8 986.9l3.9-3.4 1.2 2.5-3.8 3.4zM463.9 986l3.9-3.5 1.2 2.3-3.8 3.6z"/><path class="c23" d="M462.7 983.5l3.8-3.3 1.3 2.3-3.9 3.5z"/><path class="c24" d="M467.8 982.5l3.8-3.4 1.3 2.2-3.9 3.5z"/><path class="c25" d="M466.5 980.2l3.9-3.3 1.2 2.2-3.8 3.4z"/><path class="c22" d="M453.7 985.2l3.8-2.9 1.3 4.6-3.8 3.3z"/><path class="c23" d="M452.4 980.3l3.9-2.5 1.2 4.5-3.8 2.9zM457.5 982.3l3.9-2.9 1.3 4.1-3.9 3.4z"/><path class="c24" d="M456.3 977.8l3.8-2.5 1.3 4.1-3.9 2.9zM461.4 979.4l3.9-2.9 1.2 3.7-3.8 3.3z"/><path class="c26" d="M460.1 975.3l3.9-2.5 1.3 3.7-3.9 2.9zM465.3 976.5l3.8-2.9 1.3 3.3-3.9 3.3z"/><path class="c27" d="M464 972.8l3.9-2.5 1.2 3.3-3.8 2.9z"/><path class="c25" d="M451.5 976.7l5.2-2.8 .8 3-5.1 3.4z"/><path class="c26" d="M450.6 973.2l5.2-2.4 .9 3.1-5.2 2.8z"/><path class="c27" d="M449.7 969.6l5.2-1.9 .9 3.1-5.2 2.4z"/><path class="c26" d="M456.7 973.9l5.1-2.9 .9 2.6-5.2 3.3z"/><path class="c27" d="M455.8 970.8l5.2-2.4 .8 2.6-5.1 2.9z"/><path class="c28" d="M454.9 967.7l5.2-1.9 .9 2.6-5.2 2.4z"/><path class="c27" d="M461.8 971l5.2-2.8 .9 2.1-5.2 3.3z"/><path class="c28" d="M461 968.4l5.2-2.4 .8 2.2-5.2 2.8z"/><path class="c29" d="M460.1 965.8l5.2-1.9 .9 2.1-5.2 2.4z"/><path class="c28" d="M448.4 965.2l7.8-2.2 1.3 3.7-7.8 2.9z"/><path class="c30" d="M447.1 960.7l7.8-1.5 1.3 3.8-7.8 2.2zM456.2 963l7.8-2.2 1.3 3.1-7.8 2.8z"/><path class="c31" d="M454.9 959.2l7.8-1.5 1.3 3.1-7.8 2.2zM446.2 956.4l7.8-.7 .9 3.5-7.8 1.5z"/><path class="c32" d="M445.2 952.1l7.9 0 .9 3.6-7.8 .7z"/><path class="c33" d="M444.3 947.8l7.9 .8 .9 3.5-7.9 0z"/><path class="c32" d="M454 955.7l7.9-.8 .8 2.8-7.8 1.5z"/><path class="c33" d="M453.1 952.1l7.9 .1 .9 2.7-7.9 .8z"/><path class="c34" d="M452.2 948.6l7.9 .8 .9 2.8-7.9-.1zM443.4 944.1l15.8 3.2 .9 2.1-15.8-1.6z"/><path class="c35" d="M442.5 940.3l15.8 4.9 .9 2.1-15.8-3.2z"/><path class="c36" d="M441.5 936.6l16 6.5 .8 2.1-15.8-4.9z"/><path class="c16" d="M562.4 973.9l15.7 3.6 1.7 2.1-15.6-3.6z"/><path class="c17" d="M561.7 971l15.4 3.5 .8 3-15.3-3.6z"/><path class="c18" d="M560.9 968.1l15.4 3.5 .8 2.9-15.4-3.5z"/><path class="c20" d="M560 965l15.5 3.4 .8 3.2-15.4-3.5z"/><path class="c21" d="M559.2 961.8l15.5 3.4 .8 3.2-15.5-3.4z"/><path class="c22" d="M558.3 958.3l15.6 3.3 .8 3.6-15.5-3.4z"/><path class="c23" d="M557.5 954.8l15.5 3.2 .9 3.6-15.6-3.3z"/><path class="c25" d="M555.7 950.8l15.6 3.2 1.7 4-15.5-3.2z"/><path class="c26" d="M553.7 949.6l15.9 3.2 1.8 1.2-15.8-3.3zM551.8 951.9l15.9 3.3 1.9-2.4-15.9-3.3z"/><path class="c25" d="M550.9 954.9l15.7 3.3 1-3.1-15.7-3.2z"/><path class="c24" d="M549.9 957.9l15.7 3.4 1-3.1-15.7-3.3z"/><path class="c23" d="M548.9 961.4l15.7 3.5 1-3.6-15.7-3.4z"/><path class="c22" d="M547.9 964.9l15.6 3.5 1.1-3.5-15.7-3.5z"/><path class="c21" d="M546.9 969.2l15.6 3.5 1-4.3-15.6-3.5z"/><path class="c20" d="M545.9 973.5l15.6 3.6 1-4.4-15.6-3.5z"/><path class="c18" d="M544.9 976.9l15.6 3.7 1-3.5-15.6-3.6z"/><path class="c17" d="M543.9 980.4l15.5 3.7 1.1-3.5-15.6-3.7zM541.8 983l15.8 3.9 2-2.7-15.9-3.9zM539.9 981.8l15.8 3.9 1.9 1.1-15.8-3.8zM537.9 979.6l16 3.9 1.8 2.2-15.8-3.9z"/><path class="c18" d="M536 977.5l16 3.9 1.8 2.1-15.9-3.8z"/><path class="c19" d="M534.1 975.4l15.9 3.8 1.9 2.2-15.9-3.8z"/><path class="c20" d="M532.1 973.8l16 3.8 1.9 1.6-16-3.8z"/><path class="c21" d="M530.1 972.7l16 3.8 2 1.1-16-3.8zM528.1 972.8l16 3.8 2-.1-16-3.8zM526 973.5l16.1 3.8 2-.7-16-3.8zM524 975.1l16 3.9 2.1-1.7-16.1-3.8zM521.9 975.8l16.1 3.9 2-.7-16-3.9zM519.8 975l16.2 3.9 2 .8-16.1-3.9z"/><path class="c22" d="M517.7 973.4l16.2 3.8 2.1 1.7-16.2-3.9zM515.6 971.5l16.2 3.9 2.1 1.9-16.2-3.9z"/><path class="c23" d="M513.5 969.5l16.3 3.8 2 2.1-16.2-3.9z"/><path class="c24" d="M511.4 968.4l16.3 3.9 2.1 1-16.3-3.8zM509.2 970.1l16.3 3.8 2.2-1.6-16.3-3.9zM507.1 972.1l16.2 3.9 2.2-2.1-16.3-3.9z"/><path class="c23" d="M504.9 973.7l16.3 4 2.1-1.7-16.2-4zM502.7 974.6l16.3 4 2.2-1-16.3-3.9zM500.5 975.1l16.3 3.8 2.2-.3-16.3-4zM498.2 975.5l16.4 3.1 2.2 .2-16.3-3.7z"/><path class="c24" d="M496 975.7l16.4 2.1 2.2 .8-16.4-3.1zM493.7 975.6l16.4 1 2.3 1.2-16.4-2.1zM491.5 975.4l16.4 .7 2.2 .5-16.4-1z"/><path class="c25" d="M489.2 975.6l16.4 .3 2.3 .2-16.4-.7zM486.9 976.4l16.4-.3 2.3-.2-16.4-.3zM484.7 978l16.1-1.2 2.3-.7-16.1 .3z"/><path class="c24" d="M482.4 979.8l8-1.1 2.4-1.3-8.1 .6z"/><path class="c25" d="M490.4 978.7l8.1-1.1 2.3-.8-8 .6z"/><path class="c24" d="M480 981.9l8.1-1.8 2.3-1.4-8 1.1z"/><path class="c25" d="M488.1 980.1l8.1-1.7 2.3-.8-8.1 1.1z"/><path class="c24" d="M477.7 983.2l8-2.7 2.4-.4-8.1 1.8z"/><path class="c25" d="M485.7 980.5l8.1-2.7 2.4 .6-8.1 1.7z"/><path class="c24" d="M475.3 983l8-3.2 2.4 .7-8 2.7z"/><path class="c25" d="M483.3 979.8l8.1-3.2 2.4 1.2-8.1 2.7z"/><path class="c24" d="M472.9 981.3l8-3.4 2.4 1.9-8 3.2z"/><path class="c26" d="M480.9 977.9l8.1-3.5 2.4 2.2-8.1 3.2zM470.4 976.9l8.1-2.8 2.4 3.8-8 3.4z"/><path class="c27" d="M478.5 974.1l8.1-2.8 2.4 3.1-8.1 3.5zM469.1 973.6l8.1-2.4 1.3 2.9-8.1 2.8z"/><path class="c28" d="M467.9 970.3l8.1-2.1 1.2 3-8.1 2.4zM477.2 971.2l8.1-2.5 1.3 2.6-8.1 2.8z"/><path class="c29" d="M476 968.2l8.1-2.1 1.2 2.6-8.1 2.5zM466.6 967.1l8.1-1.8 1.3 2.9-8.1 2.1z"/><path class="c30" d="M465.3 963.9l8.2-1.5 1.2 2.9-8.1 1.8zM474.7 965.3l8.2-1.8 1.2 2.6-8.1 2.1z"/><path class="c31" d="M473.5 962.4l8.1-1.5 1.3 2.6-8.2 1.8zM464 960.8l8.2-1.6 1.3 3.2-8.2 1.5z"/><path class="c32" d="M462.7 957.7l8.2-1.6 1.3 3.1-8.2 1.6zM472.2 959.2l8.1-1.5 1.3 3.2-8.1 1.5z"/><path class="c33" d="M470.9 956.1l8.2-1.5 1.2 3.1-8.1 1.5zM461.4 953.5l8.2-.8 1.3 3.4-8.2 1.6z"/><path class="c34" d="M460.1 949.4l8.2-.1 1.3 3.4-8.2 .8zM469.6 952.7l8.2-.8 1.3 2.7-8.2 1.5z"/><path class="c35" d="M468.3 949.3l8.2-.1 1.3 2.7-8.2 .8zM458.8 946.3l16.4 .7 1.3 2.2-16.4 .2z"/><path class="c36" d="M457.5 943.1l16.4 1.7 1.3 2.2-16.4-.7z"/><path class="c16" d="M577.8 977.4l16.2 3.7 1.6 2.2-16.1-3.7z"/><path class="c17" d="M577.1 974.5l15.9 3.6 .8 3-15.9-3.6z"/><path class="c18" d="M576.3 971.6l15.9 3.6 .8 2.9-15.9-3.6z"/><path class="c20" d="M575.5 968.4l16 3.5 .7 3.3-15.9-3.6z"/><path class="c21" d="M574.7 965.2l16 3.5 .8 3.2-16-3.5z"/><path class="c22" d="M573.9 961.6l16 3.5 .8 3.6-16-3.5z"/><path class="c23" d="M573 958l16.1 3.4 .8 3.7-16-3.5z"/><path class="c25" d="M571.3 954l16.1 3.3 1.7 4.1-16.1-3.4z"/><path class="c26" d="M569.3 952.8l16.5 3.4 1.8 1.1-16.4-3.3zM567.4 955.1l16.5 3.5 1.9-2.4-16.5-3.4z"/><path class="c25" d="M566.6 958.2l16.1 3.5 1-3.2-16.1-3.4z"/><path class="c24" d="M565.6 961.3l16.1 3.5 1-3.1-16.1-3.5z"/><path class="c23" d="M564.6 964.9l16.1 3.5 1-3.6-16.1-3.5z"/><path class="c22" d="M563.5 968.4l16.2 3.6 1-3.6-16.1-3.5z"/><path class="c21" d="M562.5 972.7l16.1 3.7 1.1-4.4-16.2-3.6z"/><path class="c20" d="M561.5 977.1l16.1 3.7 1-4.4-16.1-3.7z"/><path class="c18" d="M560.5 980.6l16 3.8 1.1-3.6-16.1-3.7z"/><path class="c17" d="M559.4 984.1l16.1 3.9 1-3.6-16-3.8zM557.3 986.8l16.4 4 2-2.8-16.4-3.9zM555.4 985.6l16.5 4 1.8 1.2-16.4-4zM553.6 983.4l16.4 4 1.9 2.3-16.5-4.1z"/><path class="c18" d="M551.7 981.3l16.5 4 1.8 2.1-16.4-3.9z"/><path class="c19" d="M549.7 979.1l16.6 4 1.8 2.2-16.4-4z"/><path class="c20" d="M547.8 977.5l16.6 4 1.9 1.6-16.6-4z"/><path class="c21" d="M545.8 976.4l16.6 3.9 2 1.2-16.6-3.9zM543.8 976.6l16.6 3.9 2-.2-16.6-3.9zM541.8 977.3l16.6 3.9 2.1-.7-16.7-4zM539.8 978.9l16.6 4.1 2-1.8-16.6-4zM537.7 979.7l16.7 4 2-.8-16.6-4zM535.7 978.8l16.7 4.1 2 .8-16.7-4.1z"/><path class="c22" d="M533.6 977.2l16.7 4 2.1 1.7-16.7-4.1zM531.6 975.3l16.7 4 2 1.9-16.7-4z"/><path class="c23" d="M529.5 973.3l16.8 3.9 2 2.2-16.8-4z"/><path class="c24" d="M527.4 972.2l16.8 4 2.1 1.1-16.8-4zM525.2 973.9l16.9 4 2.1-1.7-16.8-4zM523 976l16.9 4 2.2-2.1-16.9-4.1z"/><path class="c23" d="M520.9 977.6l16.8 4.1 2.2-1.7-16.8-4.1zM518.7 978.5l16.9 4.2 2.1-1-16.8-4.1zM516.5 978.8l16.9 3.3 2.2 .6-16.9-4.2z"/><path class="c24" d="M514.3 978.5l16.9 3.2 2.2 .4-16.9-3.3zM512.1 977.7l16.9 2.9 2.2 1.1-16.9-3.2z"/><path class="c25" d="M509.8 976.6l17 2.8 2.2 1.2-16.9-2.9zM507.6 976l17 2.5 2.2 .9-17-2.8zM505.3 975.9l17 2.2 2.3 .4-17-2.5z"/><path class="c26" d="M503 976l17.1 2.3 2.2-.2-17-2.2zM500.7 976.8l17.1 1.9 2.3-.4-17.1-2.3zM498.4 977.6l17.1 1.4 2.3-.3-17.1-1.9zM496 978.4l17.1 .4 2.4 .2-17.1-1.4zM493.8 977.8l16.9-.1 2.3 1.1-16.8-.4z"/><path class="c27" d="M491.4 976.6l16.9-1.1 2.4 2.2-16.9 .1zM489 974.4l8.5-1.5 2.4 3.2-8.5 .5z"/><path class="c28" d="M497.5 972.9l8.4-1.6 2.4 4.2-8.4 .6zM486.6 971.3l8.4-2.5 2.5 4.1-8.5 1.5z"/><path class="c30" d="M495 968.8l8.5-2.4 2.4 4.9-8.4 1.6z"/><path class="c29" d="M485.3 968.7l8.5-2.2 1.2 2.3-8.4 2.5z"/><path class="c30" d="M484.1 966.1l8.5-2 1.2 2.4-8.5 2.2z"/><path class="c31" d="M493.8 966.5l8.5-2.3 1.2 2.2-8.5 2.4zM492.6 964.1l8.5-2 1.2 2.1-8.5 2.3zM482.9 963.5l8.4-1.9 1.3 2.5-8.5 2z"/><path class="c32" d="M481.6 960.9l8.5-1.8 1.2 2.5-8.4 1.9zM491.3 961.6l8.5-1.9 1.3 2.4-8.5 2z"/><path class="c33" d="M490.1 959.1l8.5-1.8 1.2 2.4-8.5 1.9zM480.3 957.7l8.5-1.2 1.3 2.6-8.5 1.8z"/><path class="c34" d="M479.1 954.6l8.5-.7 1.2 2.6-8.5 1.2zM488.8 956.5l8.6-1.2 1.2 2-8.5 1.8zM487.6 953.9l8.5-.6 1.3 2-8.6 1.2z"/><path class="c35" d="M477.8 951.9l17.1-.8 1.2 2.2-17 1.3zM476.5 949.2l17.1-.3 1.3 2.2-17.1 .8z"/><path class="c36" d="M473.9 944.8l17.2 .6 2.5 3.5-17.1 .3z"/><path class="c16" d="M593.7 981.1l16.7 3.8 1.6 2.2-16.7-3.8z"/><path class="c17" d="M593 978.1l16.5 3.8 .7 3-16.4-3.8z"/><path class="c18" d="M592.2 975.2l16.5 3.7 .8 3-16.5-3.8z"/><path class="c20" d="M591.5 971.9l16.5 3.7 .7 3.3-16.5-3.7z"/><path class="c21" d="M590.7 968.7l16.5 3.6 .8 3.3-16.5-3.7z"/><path class="c22" d="M589.9 965.1l16.6 3.5 .7 3.7-16.5-3.6z"/><path class="c23" d="M589.1 961.4l16.6 3.5 .8 3.7-16.6-3.5z"/><path class="c25" d="M587.4 957.3l16.7 3.5 1.6 4.1-16.6-3.5z"/><path class="c26" d="M585.5 956.1l17 3.5 1.8 1.2-17-3.5zM583.6 958.5l17 3.6 1.9-2.5-17-3.5z"/><path class="c25" d="M582.7 961.7l16.8 3.5 1-3.2-16.8-3.5z"/><path class="c24" d="M581.7 964.8l16.7 3.6 1.1-3.2-16.8-3.5z"/><path class="c23" d="M580.7 968.4l16.7 3.7 1-3.7-16.7-3.6z"/><path class="c22" d="M579.7 972l16.7 3.8 1-3.7-16.7-3.7z"/><path class="c21" d="M578.6 976.4l16.7 3.8 1.1-4.4-16.7-3.8z"/><path class="c20" d="M577.6 980.8l16.6 3.9 1.1-4.5-16.7-3.8z"/><path class="c18" d="M576.5 984.4l16.7 4 1-3.7-16.6-3.9z"/><path class="c17" d="M575.5 988l16.7 4.1 1-3.7-16.7-4zM573.4 990.7l17 4.2 1.9-2.8-16.9-4.1zM571.6 989.6l17 4.1 1.8 1.1-17-4.1zM569.7 987.3l17.1 4.2 1.8 2.2-17-4.1z"/><path class="c18" d="M567.9 985.2l17 4.1 1.8 2.2-17-4.1z"/><path class="c19" d="M566 983l17.1 4.1 1.8 2.2-17-4.1z"/><path class="c20" d="M564.1 981.4l17.1 4.1 1.9 1.6-17.1-4.1z"/><path class="c21" d="M562.1 980.3l17.2 4 1.9 1.2-17.1-4.1zM560.2 980.4l17.2 4.1 1.9-.2-17.2-4zM558.2 981.2l17.2 4.1 2-.8-17.2-4.1zM556.1 982.9l17.3 4.1 2-1.7-17.2-4.2zM554.1 983.6l17.3 4.2 2-.8-17.3-4.1zM552.1 982.8l17.3 4.2 2 .8-17.3-4.2z"/><path class="c22" d="M550.1 981.1l17.3 4.2 2 1.7-17.3-4.2zM548 979.3l17.4 4.1 2 1.9-17.3-4.1z"/><path class="c23" d="M546 977.2l17.4 4.1 2 2.1-17.4-4.1z"/><path class="c24" d="M543.9 976.1l17.4 4.2 2.1 1-17.4-4.1zM541.8 977.8l17.4 4.2 2.1-1.7-17.4-4.2zM539.6 980l17.5 4.2 2.1-2.2-17.4-4.2z"/><path class="c23" d="M537.4 981.7l17.5 4.2 2.2-1.7-17.5-4.3zM535.3 982.6l17.5 4.3 2.1-1-17.4-4.3zM533.1 982l17.6 4.3 2.1 .6-17.5-4.3z"/><path class="c24" d="M530.9 981.6l17.6 4.5 2.2 .2-17.6-4.3zM528.7 980.6l17.6 4.8 2.2 .7-17.6-4.5z"/><path class="c25" d="M526.5 979.4l17.7 4.8 2.1 1.2-17.6-4.8zM524.3 978.5l17.7 4.8 2.2 .9-17.7-4.8z"/><path class="c26" d="M522.1 978l17.6 5.1 2.3 .2-17.7-4.8zM519.8 978.3l17.7 5.1 2.2-.3-17.6-5.1zM517.5 978.6l17.7 5.2 2.3-.4-17.7-5.1zM515.2 979l17.7 4.6 2.3 .1-17.7-5.1zM512.8 978.8l17.8 4.1 2.3 .7-17.7-4.6z"/><path class="c27" d="M510.5 977.6l17.8 3.1 2.3 2.2-17.8-4.1z"/><path class="c28" d="M508.3 975.5l17.6 1.9 2.3 3.3-17.5-3z"/><path class="c29" d="M505.9 971.3l17.6 1.9 2.4 4.2-17.6-1.9z"/><path class="c30" d="M504.7 968.8l17.7 1.7 1.1 2.7-17.6-1.9z"/><path class="c31" d="M503.5 966.4l17.7 1.5 1.2 2.6-17.7-1.7z"/><path class="c32" d="M502.3 964.2l17.7 1 1.2 2.7-17.7-1.5zM501.1 962.1l17.7 .4 1.2 2.7-17.7-1z"/><path class="c33" d="M498.6 957.3l17.8 .7 2.4 4.5-17.7-.4z"/><path class="c35" d="M497.4 955.3l17.8 0 1.2 2.7-17.8-.7zM496.1 953.3l17.8-.8 1.3 2.8-17.8 0z"/><path class="c36" d="M493.6 948.9l17.9-.9 2.4 4.5-17.8 .8z"/><path class="c37" d="M491.1 945.4l17.9 .8 2.5 1.8-17.9 .9z"/><path class="c16" d="M610.1 984.8l17.2 4 1.6 2.2-17.2-4z"/><path class="c17" d="M609.5 981.9l17 3.8 .7 3.1-17-3.9z"/><path class="c18" d="M608.7 978.9l17.1 3.8 .7 3-17-3.8z"/><path class="c20" d="M608 975.6l17.1 3.8 .7 3.3-17.1-3.8z"/><path class="c21" d="M607.2 972.3l17.2 3.7 .7 3.4-17.1-3.8z"/><path class="c22" d="M606.5 968.6l17.2 3.7 .7 3.7-17.2-3.7z"/><path class="c23" d="M605.7 964.9l17.3 3.7 .7 3.7-17.2-3.7z"/><path class="c25" d="M604.1 960.8l17.3 3.5 1.6 4.3-17.3-3.7z"/><path class="c26" d="M602.2 959.6l17.6 3.6 1.7 1.2-17.5-3.7zM600.3 962l17.6 3.7 1.9-2.5-17.6-3.7z"/><path class="c25" d="M599.5 965.2l17.3 3.7 1-3.3-17.3-3.6z"/><path class="c24" d="M598.4 968.4l17.4 3.7 1-3.2-17.3-3.7z"/><path class="c23" d="M597.4 972.1l17.3 3.8 1.1-3.8-17.4-3.7z"/><path class="c22" d="M596.4 975.8l17.3 3.8 1-3.7-17.3-3.8z"/><path class="c21" d="M595.3 980.2l17.3 4 1.1-4.6-17.3-3.8z"/><path class="c20" d="M594.2 984.7l17.3 4.1 1.1-4.6-17.3-4z"/><path class="c18" d="M593.2 988.4l17.3 4.1 1-3.7-17.3-4.1z"/><path class="c17" d="M592.2 992.1l17.2 4.1 1.1-3.7-17.3-4.1zM590.1 994.8l17.5 4.3 2-2.9-17.6-4.2zM588.3 993.6l17.5 4.3 1.8 1.2-17.5-4.3zM586.5 991.4l17.6 4.3 1.7 2.2-17.5-4.2z"/><path class="c18" d="M584.6 989.2l17.7 4.3 1.8 2.2-17.6-4.3z"/><path class="c19" d="M582.8 987l17.7 4.2 1.8 2.3-17.7-4.2z"/><path class="c20" d="M580.9 985.4l17.8 4.2 1.8 1.6-17.7-4.2z"/><path class="c21" d="M579 984.3l17.8 4.2 1.9 1.1-17.8-4.2zM577.1 984.4l17.8 4.3 1.9-.2-17.8-4.2zM575.1 985.2l17.8 4.3 2-.8-17.8-4.3zM573.1 987l17.8 4.3 2-1.9-17.8-4.2zM571.1 987.7l17.9 4.4 1.9-.9-17.8-4.3zM569.1 986.9l17.9 4.3 2 .9-17.9-4.4z"/><path class="c22" d="M567.1 985.2l18 4.4 1.9 1.6-17.9-4.3zM565.1 983.4l18 4.3 2 1.9-18-4.3z"/><path class="c23" d="M563.1 981.2l18.1 4.3 1.9 2.2-18-4.3z"/><path class="c24" d="M561.1 980.2l18 4.3 2.1 1.1-18.1-4.3zM558.9 981.9l18.1 4.4 2.2-1.8-18.1-4.3zM556.8 984.1l18.1 4.4 2.1-2.3-18.1-4.3z"/><path class="c23" d="M554.6 985.9l18.2 4.4 2.1-1.8-18.1-4.4zM552.5 986.9l18.2 4.4 2.1-1-18.1-4.5zM550.4 986.2l18.2 4.5 2.1 .6-18.2-4.5z"/><path class="c24" d="M548.2 986l18.2 4.4 2.2 .3-18.2-4.5zM546 985.3l18.3 4.3 2.1 .8-18.2-4.4z"/><path class="c25" d="M543.9 984.1l18.3 4.4 2.1 1.2-18.3-4.4zM541.7 983.2l18.3 4.4 2.2 .9-18.3-4.3z"/><path class="c26" d="M539.4 983l18.4 4.4 2.2 .2-18.3-4.4zM537.2 983.3l18.4 4.4 2.2-.3-18.4-4.4zM534.9 983.7l18.4 4.4 2.3-.4-18.4-4.4zM532.6 983.5l18.5 4.4 2.2 .2-18.4-4.4zM530.3 982.8l18.5 4.4 2.3 .7-18.5-4.4z"/><path class="c27" d="M528 980.6l18.6 4.3 2.2 2.3-18.5-4.4z"/><path class="c28" d="M525.7 977.4l18.6 4.2 2.3 3.3-18.6-4.3z"/><path class="c29" d="M523.5 973.2l18.4 4.1 2.2 4.3-18.2-4.2z"/><path class="c30" d="M522.4 970.5l18.3 4.1 1.2 2.7-18.4-4.1z"/><path class="c31" d="M521.2 967.9l18.4 3.9 1.1 2.8-18.3-4.1z"/><path class="c32" d="M520 965.2l18.4 3.9 1.2 2.7-18.4-3.9z"/><path class="c33" d="M518.8 962.5l18.4 3.8 1.2 2.8-18.4-3.9z"/><path class="c34" d="M516.4 958l18.5 3.8 2.3 4.5-18.4-3.8z"/><path class="c35" d="M515.2 955.3l18.5 3.7 1.2 2.8-18.5-3.8z"/><path class="c36" d="M513.9 952.5l18.6 3.6 1.2 2.9-18.5-3.7z"/><path class="c37" d="M511.5 948l18.6 3.5 2.4 4.6-18.6-3.6z"/><path class="c38" d="M508.8 946.2l19 3.2 2.4 2.1-18.9-3.6z"/></g></g>
<path d="M396.0 886.3L401.2 1049.4M401.2 1049.4L526.5 1095.7M526.5 1095.7L626.4 1042.8M396.7 906.5L394.0 907.5M397.7 937.8L395.1 938.8M398.7 968.4L396.0 969.4M399.6 998.3L397.0 999.3M400.5 1027.5L397.9 1028.5M401.2 1049.4L398.9 1050.6M429.2 1059.7L426.9 1061.0M459.3 1070.9L457.0 1072.1M491.6 1082.8L489.3 1084.0M526.5 1095.7L524.2 1096.9M415.0 1054.5L413.6 1055.2M444.0 1065.2L442.7 1065.9M475.2 1076.7L473.8 1077.4M508.7 1089.1L507.4 1089.8M550.2 1083.2L552.6 1084.1M581.3 1066.7L583.7 1067.6M609.4 1051.8L611.9 1052.7M533.4 1092.1L534.8 1092.6M566.2 1074.7L567.6 1075.2M595.7 1059.1L597.1 1059.6" stroke="#111" stroke-width=".95" fill="none"/>
<text font-family="Liberation Sans, sans-serif" stroke="#000" stroke-width=".45" font-size="10" text-anchor="end" transform="matrix(0.639 -0.243 0.024 0.756 393.4 910.5)">-1.0</text>
<text font-family="Liberation Sans, sans-serif" stroke="#000" stroke-width=".45" font-size="10" text-anchor="end" transform="matrix(0.639 -0.243 0.024 0.756 394.4 941.8)">-1.5</text>
<text font-family="Liberation Sans, sans-serif" stroke="#000" stroke-width=".45" font-size="10" text-anchor="end" transform="matrix(0.639 -0.243 0.024 0.756 395.4 972.4)">-2.0</text>
<text font-family="Liberation Sans, sans-serif" stroke="#000" stroke-width=".45" font-size="10" text-anchor="end" transform="matrix(0.639 -0.243 0.024 0.756 396.3 1002.3)">-2.5</text>
<text font-family="Liberation Sans, sans-serif" stroke="#000" stroke-width=".45" font-size="10" text-anchor="end" transform="matrix(0.639 -0.243 0.024 0.756 397.2 1031.5)">-3.0</text>
<text font-family="Liberation Sans, sans-serif" stroke="#000" stroke-width=".45" font-size="10" text-anchor="middle" transform="matrix(0.657 0.243 -0.588 0.311 394.7 1052.9)">1</text>
<text font-family="Liberation Sans, sans-serif" stroke="#000" stroke-width=".45" font-size="10" text-anchor="middle" transform="matrix(0.657 0.243 -0.588 0.311 422.7 1063.2)">2</text>
<text font-family="Liberation Sans, sans-serif" stroke="#000" stroke-width=".45" font-size="10" text-anchor="middle" transform="matrix(0.657 0.243 -0.588 0.311 452.8 1074.3)">3</text>
<text font-family="Liberation Sans, sans-serif" stroke="#000" stroke-width=".45" font-size="10" text-anchor="middle" transform="matrix(0.657 0.243 -0.588 0.311 485.1 1086.3)">4</text>
<text font-family="Liberation Sans, sans-serif" stroke="#000" stroke-width=".45" font-size="10" text-anchor="middle" transform="matrix(0.657 0.243 -0.588 0.311 520.0 1099.2)">5</text>
<text font-family="Liberation Sans, sans-serif" stroke="#000" stroke-width=".45" font-size="10" text-anchor="middle" transform="matrix(0.619 -0.328 0.624 0.230 557.3 1085.8)">5</text>
<text font-family="Liberation Sans, sans-serif" stroke="#000" stroke-width=".45" font-size="10" text-anchor="middle" transform="matrix(0.619 -0.328 0.624 0.230 588.4 1069.3)">10</text>
<text font-family="Liberation Sans, sans-serif" stroke="#000" stroke-width=".45" font-size="10" text-anchor="middle" transform="matrix(0.619 -0.328 0.624 0.230 616.5 1054.4)">15</text>
<text font-family="Liberation Sans, sans-serif" font-weight="bold" font-size="10" text-anchor="middle" transform="matrix(0.047 1.479 -1.203 0.300 364.2 973.4)">Reflection Loss (dB)</text>
<text font-family="Liberation Sans, sans-serif" font-weight="bold" font-size="10" text-anchor="middle" transform="matrix(1.144 0.423 -1.016 0.538 434.8 1085.0)">Thickness (mm)</text>
<text font-family="Liberation Sans, sans-serif" font-weight="bold" font-size="10" text-anchor="middle" transform="matrix(0.937 -0.496 1.079 0.399 605.6 1077.2)">Frequency (GHz)</text>
<text font-family="Liberation Sans, sans-serif" font-weight="bold" font-size="16" x="361.6" y="893.1">(d')</text>
<linearGradient id="cgd" x1="0" y1="0" x2="0" y2="1"><stop offset="0" stop-color="#34a864"/><stop offset=".5" stop-color="#ffff6e"/><stop offset="1" stop-color="#586afa"/></linearGradient>
<rect x="645.4" y="877.1" width="7.2" height="154.8" fill="url(#cgd)" stroke="#8c8c8c" stroke-width=".7"/>
<rect x="645.4" y="877.1" width="7.2" height="1.1" fill="#e8f4ec"/><rect x="645.4" y="1030.7" width="7.2" height="1.2" fill="#111"/>
<g font-family="Liberation Sans, sans-serif" font-size="6.2" fill="#000" stroke="#000" stroke-width=".25">
<text x="658.8" y="881.8">-0.78</text>
<text x="658.8" y="896.9">-1.04</text>
<text x="658.8" y="912.0">-1.29</text>
<text x="658.8" y="927.1">-1.55</text>
<text x="658.8" y="942.2">-1.80</text>
<text x="658.8" y="957.3">-2.06</text>
<text x="658.8" y="972.4">-2.31</text>
<text x="658.8" y="987.5">-2.57</text>
<text x="658.8" y="1002.6">-2.82</text>
<text x="658.8" y="1017.6">-3.08</text>
<text x="658.8" y="1032.7">-3.33</text>
</g>
<path d="M652.6 879.6h2.8M652.6 894.7h2.8M652.6 909.8h2.8M652.6 924.9h2.8M652.6 940.0h2.8M652.6 955.0h2.8M652.6 970.1h2.8M652.6 985.2h2.8M652.6 1000.3h2.8M652.6 1015.4h2.8M652.6 1030.5h2.8" stroke="#222" stroke-width=".8"/>
</g><g id="pa">
<defs><g id="ma0" fill="#000000"><rect x="-1.89" y="-1.89" width="3.78" height="3.78"/></g><marker id="kma0" markerUnits="userSpaceOnUse" markerWidth="12" markerHeight="12" refX="0" refY="0" viewBox="-6 -6 12 12" overflow="visible" orient="0"><g fill="#000000"><rect x="-1.89" y="-1.89" width="3.78" height="3.78"/></g></marker><g id="ma1" fill="#ff0000"><circle r="2.10"/></g><marker id="kma1" markerUnits="userSpaceOnUse" markerWidth="12" markerHeight="12" refX="0" refY="0" viewBox="-6 -6 12 12" overflow="visible" orient="0"><g fill="#ff0000"><circle r="2.10"/></g></marker><g id="ma2" fill="#0000ff"><path d="M0 -2.42L2.42 1.93L-2.42 1.93z"/></g><marker id="kma2" markerUnits="userSpaceOnUse" markerWidth="12" markerHeight="12" refX="0" refY="0" viewBox="-6 -6 12 12" overflow="visible" orient="0"><g fill="#0000ff"><path d="M0 -2.42L2.42 1.93L-2.42 1.93z"/></g></marker><g id="ma3" fill="#35a56f"><path d="M0 2.42L2.42 -1.93L-2.42 -1.93z"/></g><marker id="kma3" markerUnits="userSpaceOnUse" markerWidth="12" markerHeight="12" refX="0" refY="0" viewBox="-6 -6 12 12" overflow="visible" orient="0"><g fill="#35a56f"><path d="M0 2.42L2.42 -1.93L-2.42 -1.93z"/></g></marker><g id="ma4" fill="#b184e4"><path d="M0 -2.52L2.52 0L0 2.52L-2.52 0z"/></g><marker id="kma4" markerUnits="userSpaceOnUse" markerWidth="12" markerHeight="12" refX="0" refY="0" viewBox="-6 -6 12 12" overflow="visible" orient="0"><g fill="#b184e4"><path d="M0 -2.52L2.52 0L0 2.52L-2.52 0z"/></g></marker><g id="ma5" fill="#c8960c"><path d="M-2.42 0L1.93 -2.42L1.93 2.42z"/></g><marker id="kma5" markerUnits="userSpaceOnUse" markerWidth="12" markerHeight="12" refX="0" refY="0" viewBox="-6 -6 12 12" overflow="visible" orient="0"><g fill="#c8960c"><path d="M-2.42 0L1.93 -2.42L1.93 2.42z"/></g></marker><g id="ma6" fill="#0cc6c6"><path d="M2.42 0L-1.93 -2.42L-1.93 2.42z"/></g><marker id="kma6" markerUnits="userSpaceOnUse" markerWidth="12" markerHeight="12" refX="0" refY="0" viewBox="-6 -6 12 12" overflow="visible" orient="0"><g fill="#0cc6c6"><path d="M2.42 0L-1.93 -2.42L-1.93 2.42z"/></g></marker><g id="ma7" fill="#80524f"><circle r="2.21"/></g><marker id="kma7" markerUnits="userSpaceOnUse" markerWidth="12" markerHeight="12" refX="0" refY="0" viewBox="-6 -6 12 12" overflow="visible" orient="0"><g fill="#80524f"><circle r="2.21"/></g></marker><g id="ma8" fill="#8c8c16"><path d="M0.00 -2.84L0.70 -0.96L2.70 -0.88L1.13 0.37L1.67 2.29L0.00 1.19L-1.67 2.29L-1.13 0.37L-2.70 -0.88L-0.70 -0.96z"/></g><marker id="kma8" markerUnits="userSpaceOnUse" markerWidth="12" markerHeight="12" refX="0" refY="0" viewBox="-6 -6 12 12" overflow="visible" orient="0"><g fill="#8c8c16"><path d="M0.00 -2.84L0.70 -0.96L2.70 -0.88L1.13 0.37L1.67 2.29L0.00 1.19L-1.67 2.29L-1.13 0.37L-2.70 -0.88L-0.70 -0.96z"/></g></marker></defs>
<clipPath id="cla"><rect x="54.3" y="44.1" width="225.09999999999997" height="182.20000000000002"/></clipPath>

<g clip-path="url(#cla)" fill="none" stroke-linejoin="round">
<path d="M57.3 66.6l2.2 0.9l2.2 1.7l2.1 3l2.2 2.7l2.2 0.5l2.2 0.5l2.2 1.7l2.2 2.5l2.1 2.8l2.2 3.2l2.2 3.1l2.2 3.1l2.2 2.7l2.2 2.6l2.1 2.3l2.2 2.4l2.2 2.4l2.2 2.4l2.2 2.2l2.1 2.2l2.2 2.5l2.2 2.6l2.2 3.1l2.2 3.2l2.2 3.5l2.1 3.6l2.2 3.4l2.2 3.4l2.2 3.5l2.2 3.4l2.2 3.1l2.1 2.7l2.2 2.3l2.2 2.1l2.2 2.1l2.2 1.7l2.1 1.2l2.2 1.1l2.2 0.9l2.2 0.8l2.2 0.8l2.2 0.6l2.1 0.6l2.2 0.6l2.2 0.7l2.2 0.8l2.2 0.7l2.2 0.7l2.1 0.7l2.2 0.8l2.2 0.9l2.2 1l2.2 0.8l2.1 0.5l2.2 0.3l1.4 0.1l0.8 0l2.2-0.5l2.2-0.6l2.2-0.9l2.1-0.6l2.2 0l2.2 0l2.2 0.2l2.2 0.2l2.2 0.7l2.1 0.9l2.2 1.5l2.2 1.5l2.2 1.2l2.2 1.2l2.2 1.2l2.1 1l2.2 0.8l2.2 0.5l0.1 0l2.1-0.3l2.2-0.7l2.1-1.4l2.2-2.5l2.2-3.2l2.2-3.7l2.2-3.9l2.2-3.6l2.1-3.2l2.2-2.8l2.2-2.6l2.2-1.4l2.2 0l2.2 0l2.1 1.1l2.2 2.5l2.2 3.1l2.2 3.7l2.2 3.8l2.1 3.8l2.2 3.8l2.2 3.2l2.2 2.3l2.2 1.8l2.2 1.5l2.1 1.3" stroke="#000000" stroke-width="1.0"/>
<path d="M57.3 66.6l4.4 2.6l4.3 5.7l4.4 1l4.4 4.2l4.3 6l4.4 6.2l4.4 5.3l4.3 4.7l4.4 4.8l4.3 4.4l4.4 5.1l4.4 6.3l4.3 7.1l4.4 6.8l4.4 6.9l4.3 5.8l4.4 4.4l4.4 3.8l4.3 2.3l4.4 1.7l4.4 1.4l4.3 1.2l4.4 1.5l4.4 1.4l4.3 1.5l4.4 1.9l4.3 1.3l4.4 0.4l4.4-1.1l4.3-1.5l4.4 0l4.4 0.4l4.3 1.6l4.4 3l4.4 2.4l4.3 2.2l4.4 1.3l4.4-1l4.3-3.9l4.4-6.9l4.4-7.5l4.3-6l4.4-4l4.4 0l4.3 3.6l4.4 6.8l4.3 7.6l4.4 7l4.4 4.1l4.3 2.8" marker-start="url(#kma0)" marker-mid="url(#kma0)" marker-end="url(#kma0)"/>
<path d="M57.3 77l2.2 2.1l2.2 3.1l2.1 4.5l2.2 4.6l2.2 2.4l2.2 2.5l2.2 4.3l2.2 5.6l2.1 7.1l2.2 7.8l2.2 7.5l2.2 7.5l2.2 7.5l2.2 7.3l2.1 7l2.2 6.9l2.2 7.1l2.2 6.6l2.2 5.4l2.1 4.4l2.2 3.8l2.2 2.7l2.2 1.6l2.2 0.8l2.2 0l2.1 0l2.2-0.5l2.2-0.8l2.2-0.8l2.2-1l2.2-1.5l2.1-1.7l2.2-1.6l2.2-1.8l2.2-2.1l2.2-2.3l2.1-2l2.2-2.1l2.2-2.3l2.2-2.1l2.2-1.8l2.2-1.6l2.1-1.7l2.2-1.5l2.2-1.4l2.2-0.8l2.2-0.2l2.2-0.1l2.1 0.3l2.2 0.5l2.2 0.4l2.2 0.2l2.2 0.2l1.6 0.1l0.5 0l2.2-0.4l2.2-0.5l2.2-0.7l2.2-0.8l2.2-0.9l2.1-0.7l2.2-0.4l1.9-0.1l0.3 0l2.2 0l2.2 0.2l2.2 0.9l2.1 1.3l2.2 1.6l2.2 1.6l2.2 1.5l2.2 1.3l2.2 1.3l2.1 1l2.2 0.8l2.2 0.4l0.1 0l2.1-0.2l2.2-0.6l2.1-1.1l2.2-2.3l2.2-2.7l2.2-3.3l2.2-3.7l2.2-3.5l2.1-3.1l2.2-2.5l2.2-2.4l2.2-1.3l2.2-0.1l2.2 0l0.2 0l1.9 0.9l2.2 2.2l2.2 3.5l2.2 4l2.2 3.4l2.1 3.4l2.2 3.7l2.2 3.2l2.2 2.4l2.2 1.9l2.2 1.6l2.1 1.3" stroke="#ff0000" stroke-width="1.0"/>
<path d="M57.3 77l4.4 5.2l4.3 9.1l4.4 4.9l4.4 9.9l4.3 14.9l4.4 15l4.4 14.8l4.3 13.9l4.4 13.7l4.3 9.8l4.4 6.5l4.4 2.4l4.3 0l4.4-1.3l4.4-1.8l4.3-3.2l4.4-3.4l4.4-4.4l4.3-4.1l4.4-4.4l4.4-3.4l4.3-3.2l4.4-2.2l4.4-0.3l4.3 0.8l4.4 0.6l4.3 0.3l4.4-0.9l4.4-1.5l4.3-1.6l4.4-0.5l4.4 0.2l4.3 2.2l4.4 3.2l4.4 2.8l4.3 2.3l4.4 1.2l4.4-0.8l4.3-3.4l4.4-6l4.4-7.2l4.3-5.6l4.4-3.7l4.4-0.1l4.3 3.1l4.4 7.5l4.3 6.8l4.4 6.9l4.4 4.3l4.3 2.9" marker-start="url(#kma1)" marker-mid="url(#kma1)" marker-end="url(#kma1)"/>
<path d="M57.3 91.8l2.2 3.6l2.2 4.8l2.1 6.4l2.2 7.1l2.2 5.8l2.2 6.3l2.2 8.6l2.2 10.2l2.1 12.4l2.2 12.5l2.2 10.5l2.2 9.3l2.2 8.7l2.2 7.1l2.1 5.4l2.2 3.2l2.2 1l2.2 0.3l2.2-1.8l2.1-3.6l2.2-4.7l2.2-5.2l2.2-4.9l2.2-4.6l2.2-4.3l2.1-3.9l2.2-3.1l2.2-2.6l2.2-2.2l2.2-2l2.2-2.1l2.1-2.1l2.2-2.2l2.2-2.2l2.2-2.1l2.2-2l2.1-1.8l2.2-1.6l2.2-1.4l2.2-1.1l2.2-1l2.2-0.8l2.1-0.7l2.2-0.5l2.2 0l2.2 0l2.2 0.3l2.2 0.6l2.1 0.6l2.2 0.9l2.2 0.9l2.2 0.8l2.2 0.9l2.1 0.9l2.2 0.7l1.4 0.1l0.8 0l2.2-0.5l2.2-0.7l2.2-0.6l2.1-0.3l2.2 0.2l2.2 0.4l2.2 0.5l2.2 0.7l2.2 1.1l2.1 1.6l2.2 1.6l2.2 1.4l2.2 1.5l2.2 1.5l2.2 1.4l2.1 1.2l2.2 1.1l2.2 0.7l0.1 0l2.1-0.1l2.2-0.3l2.1-0.9l2.2-1.9l2.2-2.7l2.2-3.4l2.2-3.8l2.2-3.6l2.1-3l2.2-2.6l2.2-2.4l2.2-1.3l2.2 0l2.2 0l2.1 1l2.2 2.2l2.2 3l2.2 3.6l2.2 3.6l2.1 3.8l2.2 4l2.2 3.6l2.2 2.5l2.2 2l2.2 1.6l2.1 1.2" stroke="#0000ff" stroke-width="1.0"/>
<path d="M57.3 91.8l4.4 8.4l4.3 13.5l4.4 12.1l4.4 18.8l4.3 24.9l4.4 19.8l4.4 15.8l4.3 8.6l4.4 1.3l4.3-5.4l4.4-9.9l4.4-9.5l4.3-8.2l4.4-5.7l4.4-4.2l4.3-4.2l4.4-4.4l4.4-4.1l4.3-3.4l4.4-2.5l4.4-1.8l4.3-1.2l4.4 0l4.4 0.9l4.3 1.5l4.4 1.7l4.3 1.8l4.4 0.8l4.4-1.2l4.3-0.9l4.4 0.6l4.4 1.2l4.3 2.7l4.4 3l4.4 3l4.3 2.6l4.4 1.8l4.4-0.4l4.3-2.8l4.4-6.1l4.4-7.4l4.3-5.6l4.4-3.7l4.4 0l4.3 3.2l4.4 6.6l4.3 7.4l4.4 7.6l4.4 4.5l4.3 2.8" marker-start="url(#kma2)" marker-mid="url(#kma2)" marker-end="url(#kma2)"/>
<path d="M57.3 108.9l2.2 6l2.2 6.6l2.1 7.5l2.2 8.3l2.2 9l2.2 10.2l2.2 12.7l2.2 12.6l2.1 10.5l2.2 8.4l2.2 6.9l2.2 3.9l2.2 0.7l2.2 0.2l2.1-2.4l2.2-4.6l2.2-5.3l2.2-6l2.2-6.2l2.1-6.1l2.2-5.5l2.2-5l2.2-4.3l2.2-3.5l2.2-2.7l2.1-2l2.2-1.6l2.2-1.2l2.2-0.7l2.2-0.5l2.2-0.5l2.1-0.4l2.2-0.4l2.2-0.5l2.2-0.6l2.2-0.6l2.1-0.7l2.2-0.8l2.2-0.7l2.2-0.6l2.2-0.7l2.2-0.6l2.1-0.4l2.2-0.1l2.2 0.6l2.2 0.9l2.2 0.4l2.2 0.4l2.1 0.7l2.2 0.9l2.2 0.9l2.2 0.8l2.2 0.9l2.1 0.9l2.2 0.6l1.4 0.2l0.8-0.1l2.2-0.4l2.2-0.7l2.2-0.6l2.1-0.3l2.2 0.1l2.2 0.4l2.2 0.6l2.2 0.6l2.2 1.2l2.1 1.5l2.2 1.7l2.2 1.4l2.2 1.5l2.2 1.5l2.2 1.4l2.1 1.2l2.2 1.1l2.2 0.7l0.1 0l2.1-0.1l2.2-0.4l2.1-0.8l2.2-2l2.2-2.6l2.2-3.4l2.2-3.8l2.2-3.7l2.1-3l2.2-2.5l2.2-2.4l2.2-1.3l2.2 0l2.2 0l2.1 1l2.2 2.2l2.2 3l2.2 3.6l2.2 3.6l2.1 3.8l2.2 4l2.2 3.5l2.2 2.5l2.2 2l2.2 1.6l2.1 1.3" stroke="#35a56f" stroke-width="1.0"/>
<path d="M57.3 108.9l4.4 12.6l4.3 15.8l4.4 19.2l4.4 25.3l4.3 18.9l4.4 10.8l4.4 0.9l4.3-7l4.4-11.3l4.3-12.3l4.4-10.5l4.4-7.8l4.3-4.7l4.4-2.8l4.4-1.2l4.3-0.9l4.4-0.9l4.4-1.2l4.3-1.5l4.4-1.3l4.4-1.3l4.3-0.5l4.4 1.5l4.4 0.8l4.3 1.6l4.4 1.7l4.3 1.8l4.4 0.7l4.4-1.1l4.3-0.9l4.4 0.5l4.4 1.2l4.3 2.7l4.4 3.1l4.4 3l4.3 2.6l4.4 1.8l4.4-0.5l4.3-2.8l4.4-6l4.4-7.5l4.3-5.5l4.4-3.7l4.4 0l4.3 3.2l4.4 6.6l4.3 7.4l4.4 7.5l4.4 4.5l4.3 2.9" marker-start="url(#kma3)" marker-mid="url(#kma3)" marker-end="url(#kma3)"/>
<path d="M57.3 123.6l2.2 7l2.2 7.5l2.1 8l2.2 8.7l2.2 9.9l2.2 10.1l2.2 10l2.2 8.4l2.1 6.4l2.2 3.2l2.2-0.2l2.2-0.7l2.2-3.1l2.2-5.1l2.1-5.4l2.2-5.8l2.2-5.3l2.2-5.1l2.2-4.5l2.1-4.1l2.2-3.8l2.2-3.2l2.2-2.5l2.2-1.9l2.2-1.3l2.1-0.8l2.2-0.5l2.2-0.3l2.2 0l2.2 0l2.2 0.1l2.1 0.1l2.2 0.2l2.2 0.2l2.2 0l2.2 0l2.1 0l2.2-0.1l2.2-0.1l2.2-0.2l2.2-0.3l2.2-0.1l2.1-0.2l2.2-0.1l2.2 0.3l2.2 0.5l2.2 0.4l2.2 0.4l2.1 0.7l2.2 0.8l2.2 1l2.2 0.8l2.2 0.9l2.1 0.9l2.2 0.6l1.4 0.2l0.8-0.1l2.2-0.4l2.2-0.7l2.2-0.6l2.1-0.3l2.2 0.1l2.2 0.4l2.2 0.6l2.2 0.6l2.2 1.2l2.1 1.5l2.2 1.6l2.2 1.5l2.2 1.5l2.2 1.5l2.2 1.4l2.1 1.2l2.2 1.1l2.2 0.6l0.1 0l2.1-0.1l2.2-0.3l2.1-0.9l2.2-1.9l2.2-2.6l2.2-3.5l2.2-3.8l2.2-3.6l2.1-3l2.2-2.5l2.2-2.5l2.2-1.2l2.2 0l2.2 0l2.1 0.9l2.2 2.3l2.2 3l2.2 3.5l2.2 3.7l2.1 3.8l2.2 4l2.2 3.5l2.2 2.5l2.2 2l2.2 1.6l2.1 1.3" stroke="#b184e4" stroke-width="1.0"/>
<path d="M57.3 123.6l4.4 14.5l4.3 16.7l4.4 20l4.4 18.4l4.3 9.6l4.4-0.9l4.4-8.2l4.3-11.2l4.4-10.4l4.3-8.6l4.4-7l4.4-4.4l4.3-2.1l4.4-0.8l4.4 0l4.3 0.2l4.4 0.4l4.4 0l4.3-0.1l4.4-0.3l4.4-0.4l4.3-0.3l4.4 0.8l4.4 0.8l4.3 1.5l4.4 1.8l4.3 1.8l4.4 0.7l4.4-1.1l4.3-0.9l4.4 0.5l4.4 1.2l4.3 2.7l4.4 3.1l4.4 3l4.3 2.6l4.4 1.7l4.4-0.4l4.3-2.8l4.4-6.1l4.4-7.4l4.3-5.5l4.4-3.7l4.4 0l4.3 3.2l4.4 6.5l4.3 7.5l4.4 7.5l4.4 4.5l4.3 2.9" marker-start="url(#kma4)" marker-mid="url(#kma4)" marker-end="url(#kma4)"/>
<path d="M57.3 132.9l2.2 6.7l2.2 7.2l2.1 7.8l2.2 8l2.2 8.7l2.2 7.9l2.2 6.6l2.2 3.9l2.1 0.8l2.2 0.3l2.2-1.9l2.2-3.6l2.2-4.1l2.2-4.6l2.1-4.5l2.2-4.2l2.2-3.7l2.2-3.4l2.2-3.2l2.1-2.8l2.2-2.4l2.2-1.6l2.2-0.9l2.2-0.4l2.2 0l2.1 0l2.2 0.2l2.2 0.3l2.2 0.2l2.2 0.1l2.2 0.1l2.1 0.2l2.2 0.1l2.2 0.1l0.8 0l1.4 0l2.2 0l2.1-0.1l2.2-0.1l2.2-0.1l2.2-0.1l2.2-0.2l2.2-0.2l2.1-0.2l2.2 0l2.2 0l2.2 0.1l2.2 0.3l2.2 0.5l2.1 0.6l2.2 0.9l2.2 0.9l2.2 0.9l2.2 0.9l2.1 0.9l2.2 0.6l1.4 0.1l0.8 0l2.2-0.5l2.2-0.7l2.2-0.6l2.1-0.3l2.2 0.2l2.2 0.4l2.2 0.5l2.2 0.7l2.2 1.1l2.1 1.6l2.2 1.6l2.2 1.5l2.2 1.5l2.2 1.5l2.2 1.4l2.1 1.1l2.2 1.2l2.2 0.6l0.1 0l2.1-0.1l2.2-0.3l2.1-0.9l2.2-1.9l2.2-2.7l2.2-3.4l2.2-3.8l2.2-3.6l2.1-3l2.2-2.6l2.2-2.4l2.2-1.2l2.2 0l2.2 0l2.1 0.9l2.2 2.2l2.2 3l2.2 3.6l2.2 3.7l2.1 3.7l2.2 4.1l2.2 3.5l2.2 2.5l2.2 2l2.2 1.6l2.1 1.2" stroke="#c8960c" stroke-width="1.0"/>
<path d="M57.3 132.9l4.4 13.9l4.3 15.8l4.4 16.6l4.4 10.5l4.3 1.1l4.4-5.5l4.4-8.7l4.3-8.7l4.4-7.1l4.3-6l4.4-4l4.4-1.3l4.3 0l4.4 0.5l4.4 0.3l4.3 0.3l4.4 0.2l4.4 0l4.3-0.2l4.4-0.2l4.4-0.4l4.3-0.2l4.4 0.1l4.4 0.8l4.3 1.5l4.4 1.8l4.3 1.8l4.4 0.7l4.4-1.2l4.3-0.9l4.4 0.6l4.4 1.2l4.3 2.7l4.4 3.1l4.4 3l4.3 2.5l4.4 1.8l4.4-0.4l4.3-2.8l4.4-6.1l4.4-7.4l4.3-5.6l4.4-3.6l4.4 0l4.3 3.1l4.4 6.6l4.3 7.4l4.4 7.6l4.4 4.5l4.3 2.8" marker-start="url(#kma5)" marker-mid="url(#kma5)" marker-end="url(#kma5)"/>
<path d="M57.3 135.5l2.2 6.9l2.2 7.1l2.1 7.9l2.2 7.3l2.2 5.7l2.2 4.4l2.2 3.3l2.2 1.6l2.1-0.1l2.2-0.4l2.2-1.8l2.2-2.9l2.2-2.8l2.2-3l2.1-3.1l2.2-3l2.2-2.7l2.2-2.2l2.2-1.7l2.1-1.2l2.2-1.1l2.2-0.7l2.2-0.6l2.2-0.3l2.2 0l2.1 0l2.2 0l2.2 0.1l2.2 0.1l2.2 0.1l2.2-0.1l2.1 0l2.2-0.1l2.2-0.1l2.2-0.1l2.2-0.1l2.1-0.2l2.2-0.2l2.2-0.2l2.2-0.3l2.2-0.3l2.2-0.4l2.1-0.2l2.2-0.1l2.2 0l2.2 0.1l2.2 0.3l2.2 0.5l2.1 0.6l2.2 0.9l2.2 0.9l2.2 0.9l2.2 0.9l2.1 0.9l2.2 0.6l1.4 0.1l0.8 0l2.2-0.5l2.2-0.6l2.2-0.7l2.1-0.3l2.2 0.2l2.2 0.4l2.2 0.5l2.2 0.7l2.2 1.1l2.1 1.6l2.2 1.6l2.2 1.5l2.2 1.5l2.2 1.5l2.2 1.4l2.1 1.1l2.2 1.2l2.2 0.6l0.1 0l2.1-0.1l2.2-0.3l2.1-0.9l2.2-1.9l2.2-2.7l2.2-3.4l2.2-3.8l2.2-3.6l2.1-3l2.2-2.6l2.2-2.4l2.2-1.2l2.2 0l2.2 0l2.1 0.9l2.2 2.2l2.2 3l2.2 3.6l2.2 3.7l2.1 3.8l2.2 4l2.2 3.5l2.2 2.5l2.2 2l2.2 1.6l2.1 1.3" stroke="#0cc6c6" stroke-width="1.0"/>
<path d="M57.3 135.5l4.4 14l4.3 15.2l4.4 10.1l4.4 4.9l4.3-0.5l4.4-4.7l4.4-5.8l4.3-6.1l4.4-4.9l4.3-2.9l4.4-1.8l4.4-0.9l4.3 0l4.4 0.1l4.4 0.2l4.3-0.1l4.4-0.2l4.4-0.2l4.3-0.4l4.4-0.5l4.4-0.7l4.3-0.3l4.4 0.1l4.4 0.8l4.3 1.5l4.4 1.8l4.3 1.8l4.4 0.7l4.4-1.1l4.3-1l4.4 0.6l4.4 1.2l4.3 2.7l4.4 3.1l4.4 3l4.3 2.5l4.4 1.8l4.4-0.4l4.3-2.8l4.4-6.1l4.4-7.4l4.3-5.6l4.4-3.6l4.4 0l4.3 3.1l4.4 6.6l4.3 7.5l4.4 7.5l4.4 4.5l4.3 2.9" marker-start="url(#kma6)" marker-mid="url(#kma6)" marker-end="url(#kma6)"/>
<path d="M57.3 136.9l2.2 6.5l2.2 6.1l2.1 6l2.2 5.3l2.2 4.9l2.2 3.6l2.2 1.9l2.2 0.9l2.1-0.3l2.2-0.7l2.2-1.2l2.2-1.5l2.2-1.6l2.2-1.6l2.1-1.6l2.2-1.5l2.2-1.4l2.2-1.3l2.2-0.9l2.1-0.8l2.2-0.9l2.2-0.8l2.2-0.4l2.2-0.3l2.2-0.3l2.1-0.2l2.2-0.3l2.2-0.2l2.2-0.2l2.2-0.2l2.2-0.2l2.1-0.2l2.2-0.3l2.2-0.2l2.2-0.3l2.2-0.3l2.1-0.3l2.2-0.3l2.2-0.3l2.2-0.3l2.2-0.3l2.2-0.3l2.1-0.2l2.2-0.1l2.2 0l2.2 0l2.2 0.2l2.2 0.6l2.1 0.7l2.2 0.8l2.2 0.9l2.2 0.9l2.2 0.9l2.1 0.9l2.2 0.6l1.4 0.1l0.8 0l2.2-0.5l2.2-0.6l2.2-0.7l2.1-0.2l2.2 0.1l2.2 0.4l2.2 0.5l2.2 0.7l2.2 1.1l2.1 1.6l2.2 1.6l2.2 1.5l2.2 1.5l2.2 1.5l2.2 1.4l2.1 1.1l2.2 1.2l2.2 0.6l0.1 0l2.1-0.1l2.2-0.3l2.1-0.9l2.2-1.9l2.2-2.7l2.2-3.4l2.2-3.8l2.2-3.6l2.1-3l2.2-2.5l2.2-2.5l2.2-1.2l2.2 0l2.2 0l2.1 0.9l2.2 2.3l2.2 2.9l2.2 3.6l2.2 3.7l2.1 3.8l2.2 4l2.2 3.5l2.2 2.5l2.2 2l2.2 1.6l2.1 1.3" stroke="#80524f" stroke-width="1.0"/>
<path d="M57.3 136.9l4.4 12.6l4.3 11.3l4.4 8.5l4.4 2.8l4.3-1l4.4-2.7l4.4-3.2l4.3-3.1l4.4-2.7l4.3-1.7l4.4-1.7l4.4-0.7l4.3-0.5l4.4-0.5l4.4-0.4l4.3-0.4l4.4-0.5l4.4-0.6l4.3-0.6l4.4-0.6l4.4-0.6l4.3-0.3l4.4 0l4.4 0.8l4.3 1.5l4.4 1.8l4.3 1.8l4.4 0.7l4.4-1.1l4.3-0.9l4.4 0.5l4.4 1.2l4.3 2.7l4.4 3.1l4.4 3l4.3 2.5l4.4 1.8l4.4-0.4l4.3-2.8l4.4-6.1l4.4-7.4l4.3-5.5l4.4-3.7l4.4 0l4.3 3.2l4.4 6.5l4.3 7.5l4.4 7.5l4.4 4.5l4.3 2.9" marker-start="url(#kma7)" marker-mid="url(#kma7)" marker-end="url(#kma7)"/>
<path d="M57.3 137.6l2.2 4.6l2.2 4.6l2.1 5.1l2.2 4.6l2.2 4l2.2 3l2.2 2l2.2 0.9l2.1 0l2.2 0l2.2-0.2l2.2-0.5l2.2-0.6l2.2-0.8l2.1-1l2.2-1.1l2.2-0.8l2.2-0.9l2.2-0.9l2.1-0.8l2.2-0.8l2.2-0.6l2.2-0.6l2.2-0.5l2.2-0.4l2.1-0.3l2.2-0.2l2.2-0.2l2.2-0.2l2.2-0.2l2.2-0.3l2.1-0.3l2.2-0.3l2.2-0.4l2.2-0.3l2.2-0.4l2.1-0.4l2.2-0.3l2.2-0.3l2.2-0.3l2.2-0.3l2.2-0.3l2.1-0.2l2.2-0.2l2.2-0.1l2.2-0.1l2.2 0.2l2.2 0.6l2.1 0.7l2.2 0.8l2.2 0.9l2.2 0.9l2.2 0.9l2.1 0.9l2.2 0.6l1.4 0.1l0.8 0l2.2-0.5l2.2-0.6l2.2-0.7l2.1-0.2l2.2 0.1l2.2 0.4l2.2 0.5l2.2 0.7l2.2 1.1l2.1 1.6l2.2 1.6l2.2 1.5l2.2 1.5l2.2 1.5l2.2 1.4l2.1 1.1l2.2 1.2l2.2 0.6l0.1 0l2.1-0.1l2.2-0.3l2.1-0.9l2.2-1.9l2.2-2.7l2.2-3.4l2.2-3.8l2.2-3.6l2.1-3l2.2-2.5l2.2-2.5l2.2-1.2l2.2 0l2.2 0l2.1 0.9l2.2 2.3l2.2 2.9l2.2 3.6l2.2 3.7l2.1 3.8l2.2 4l2.2 3.5l2.2 2.5l2.2 2l2.2 1.6l2.1 1.3" stroke="#8c8c16" stroke-width="1.0"/>
<path d="M57.3 137.6l4.4 9.2l4.3 9.7l4.4 7l4.4 2.9l4.3 0l4.4-0.7l4.4-1.4l4.3-2.1l4.4-1.7l4.3-1.7l4.4-1.4l4.4-1.1l4.3-0.7l4.4-0.4l4.4-0.4l4.3-0.6l4.4-0.7l4.4-0.7l4.3-0.7l4.4-0.6l4.4-0.6l4.3-0.4l4.4-0.2l4.4 0.8l4.3 1.5l4.4 1.8l4.3 1.8l4.4 0.7l4.4-1.1l4.3-0.9l4.4 0.5l4.4 1.2l4.3 2.7l4.4 3.1l4.4 3l4.3 2.5l4.4 1.8l4.4-0.4l4.3-2.8l4.4-6.1l4.4-7.4l4.3-5.5l4.4-3.7l4.4 0l4.3 3.2l4.4 6.5l4.3 7.5l4.4 7.5l4.4 4.5l4.3 2.9" marker-start="url(#kma8)" marker-mid="url(#kma8)" marker-end="url(#kma8)"/>
</g>
<path d="M57.3 44.1H276.4V226.3" fill="none" stroke="#1a1a1a" stroke-width="1"/>
<path d="M57.3 44.1V226.3H276.4" fill="none" stroke="#000" stroke-width="1.3"/>
<path d="M57.3 226.3v3.2M84.6 226.3v3.2M111.9 226.3v3.2M139.1 226.3v3.2M166.4 226.3v3.2M193.7 226.3v3.2M221.0 226.3v3.2M248.3 226.3v3.2M275.5 226.3v3.2M70.9 226.3v1.8M98.2 226.3v1.8M125.5 226.3v1.8M152.8 226.3v1.8M180.1 226.3v1.8M207.3 226.3v1.8M234.6 226.3v1.8M261.9 226.3v1.8M57.3 57.2h-3.2M57.3 83.2h-3.2M57.3 109.2h-3.2M57.3 135.2h-3.2M57.3 161.2h-3.2M57.3 187.2h-3.2M57.3 213.2h-3.2M57.3 44.2h-1.8M57.3 70.2h-1.8M57.3 96.2h-1.8M57.3 122.2h-1.8M57.3 148.2h-1.8M57.3 174.2h-1.8M57.3 200.2h-1.8M57.3 226.2h-1.8" stroke="#000" stroke-width="1" fill="none"/>
<g font-family="Liberation Sans, sans-serif" font-weight="bold" font-size="8.5" fill="#000">
<text x="57.3" y="240.7" text-anchor="middle">2</text>
<text x="84.6" y="240.7" text-anchor="middle">4</text>
<text x="111.9" y="240.7" text-anchor="middle">6</text>
<text x="139.1" y="240.7" text-anchor="middle">8</text>
<text x="166.4" y="240.7" text-anchor="middle">10</text>
<text x="193.7" y="240.7" text-anchor="middle">12</text>
<text x="221.0" y="240.7" text-anchor="middle">14</text>
<text x="248.3" y="240.7" text-anchor="middle">16</text>
<text x="275.5" y="240.7" text-anchor="middle">18</text>
<text x="51.8" y="60.3" text-anchor="end">0.0</text>
<text x="51.8" y="86.3" text-anchor="end">-0.5</text>
<text x="51.8" y="112.3" text-anchor="end">-1.0</text>
<text x="51.8" y="138.3" text-anchor="end">-1.5</text>
<text x="51.8" y="164.3" text-anchor="end">-2.0</text>
<text x="51.8" y="190.3" text-anchor="end">-2.5</text>
<text x="51.8" y="216.3" text-anchor="end">-3.0</text>
</g>
<text font-family="Liberation Sans, sans-serif" font-weight="bold" font-size="12.28" text-anchor="middle" transform="translate(31.5,135) rotate(-90)">Reflection Loss (dB)</text>
<text font-family="Liberation Sans, sans-serif" font-weight="bold" font-size="11" text-anchor="middle" x="168.5" y="256.7">Frequency (GHz)</text>
<text font-family="Liberation Sans, sans-serif" font-weight="bold" font-size="13" x="15.6" y="53.9">(a)</text>
<g font-family="Liberation Sans, sans-serif" font-weight="bold" font-size="8.15">
<path d="M189.7 52.9H208.3" stroke="#000000" stroke-width="1.0"/><use href="#ma0" x="199.0" y="52.9"/>
<text x="210.3" y="55.8">1.0 mm</text>
<path d="M189.7 64.5H208.3" stroke="#ff0000" stroke-width="1.0"/><use href="#ma1" x="199.0" y="64.5"/>
<text x="210.3" y="67.4">1.5 mm</text>
<path d="M189.7 76.1H208.3" stroke="#0000ff" stroke-width="1.0"/><use href="#ma2" x="199.0" y="76.1"/>
<text x="210.3" y="79.0">2.0 mm</text>
<path d="M189.7 87.7H208.3" stroke="#35a56f" stroke-width="1.0"/><use href="#ma3" x="199.0" y="87.7"/>
<text x="210.3" y="90.6">2.5 mm</text>
<path d="M189.7 99.3H208.3" stroke="#b184e4" stroke-width="1.0"/><use href="#ma4" x="199.0" y="99.3"/>
<text x="210.3" y="102.2">3.0 mm</text>
<path d="M189.7 110.8H208.3" stroke="#c8960c" stroke-width="1.0"/><use href="#ma5" x="199.0" y="110.8"/>
<text x="210.3" y="113.8">3.5 mm</text>
<path d="M189.7 122.4H208.3" stroke="#0cc6c6" stroke-width="1.0"/><use href="#ma6" x="199.0" y="122.4"/>
<text x="210.3" y="125.4">4.0 mm</text>
<path d="M189.7 134.0H208.3" stroke="#80524f" stroke-width="1.0"/><use href="#ma7" x="199.0" y="134.0"/>
<text x="210.3" y="137.0">4.5 mm</text>
<path d="M189.7 145.6H208.3" stroke="#8c8c16" stroke-width="1.0"/><use href="#ma8" x="199.0" y="145.6"/>
<text x="210.3" y="148.6">5.0 mm</text>
</g>
</g>
<g id="pb">
<defs><g id="mb0" fill="#000000"><rect x="-2.16" y="-2.16" width="4.32" height="4.32"/></g><marker id="kmb0" markerUnits="userSpaceOnUse" markerWidth="12" markerHeight="12" refX="0" refY="0" viewBox="-6 -6 12 12" overflow="visible" orient="0"><g fill="#000000"><rect x="-2.16" y="-2.16" width="4.32" height="4.32"/></g></marker><g id="mb1" fill="#ff0000"><circle r="2.40"/></g><marker id="kmb1" markerUnits="userSpaceOnUse" markerWidth="12" markerHeight="12" refX="0" refY="0" viewBox="-6 -6 12 12" overflow="visible" orient="0"><g fill="#ff0000"><circle r="2.40"/></g></marker><g id="mb2" fill="#0000ff"><path d="M0 -2.76L2.76 2.21L-2.76 2.21z"/></g><marker id="kmb2" markerUnits="userSpaceOnUse" markerWidth="12" markerHeight="12" refX="0" refY="0" viewBox="-6 -6 12 12" overflow="visible" orient="0"><g fill="#0000ff"><path d="M0 -2.76L2.76 2.21L-2.76 2.21z"/></g></marker><g id="mb3" fill="#35a56f"><path d="M0 2.76L2.76 -2.21L-2.76 -2.21z"/></g><marker id="kmb3" markerUnits="userSpaceOnUse" markerWidth="12" markerHeight="12" refX="0" refY="0" viewBox="-6 -6 12 12" overflow="visible" orient="0"><g fill="#35a56f"><path d="M0 2.76L2.76 -2.21L-2.76 -2.21z"/></g></marker><g id="mb4" fill="#b184e4"><path d="M0 -2.88L2.88 0L0 2.88L-2.88 0z"/></g><marker id="kmb4" markerUnits="userSpaceOnUse" markerWidth="12" markerHeight="12" refX="0" refY="0" viewBox="-6 -6 12 12" overflow="visible" orient="0"><g fill="#b184e4"><path d="M0 -2.88L2.88 0L0 2.88L-2.88 0z"/></g></marker><g id="mb5" fill="#c8960c"><path d="M-2.76 0L2.21 -2.76L2.21 2.76z"/></g><marker id="kmb5" markerUnits="userSpaceOnUse" markerWidth="12" markerHeight="12" refX="0" refY="0" viewBox="-6 -6 12 12" overflow="visible" orient="0"><g fill="#c8960c"><path d="M-2.76 0L2.21 -2.76L2.21 2.76z"/></g></marker><g id="mb6" fill="#0cc6c6"><path d="M2.76 0L-2.21 -2.76L-2.21 2.76z"/></g><marker id="kmb6" markerUnits="userSpaceOnUse" markerWidth="12" markerHeight="12" refX="0" refY="0" viewBox="-6 -6 12 12" overflow="visible" orient="0"><g fill="#0cc6c6"><path d="M2.76 0L-2.21 -2.76L-2.21 2.76z"/></g></marker><g id="mb7" fill="#80524f"><circle r="2.52"/></g><marker id="kmb7" markerUnits="userSpaceOnUse" markerWidth="12" markerHeight="12" refX="0" refY="0" viewBox="-6 -6 12 12" overflow="visible" orient="0"><g fill="#80524f"><circle r="2.52"/></g></marker><g id="mb8" fill="#8c8c16"><path d="M0.00 -3.24L0.80 -1.10L3.08 -1.00L1.29 0.42L1.90 2.62L0.00 1.36L-1.90 2.62L-1.29 0.42L-3.08 -1.00L-0.80 -1.10z"/></g><marker id="kmb8" markerUnits="userSpaceOnUse" markerWidth="12" markerHeight="12" refX="0" refY="0" viewBox="-6 -6 12 12" overflow="visible" orient="0"><g fill="#8c8c16"><path d="M0.00 -3.24L0.80 -1.10L3.08 -1.00L1.29 0.42L1.90 2.62L0.00 1.36L-1.90 2.62L-1.29 0.42L-3.08 -1.00L-0.80 -1.10z"/></g></marker></defs>
<clipPath id="clb"><rect x="54.3" y="298.1" width="252.2" height="205.29999999999995"/></clipPath>

<g clip-path="url(#clb)" fill="none" stroke-linejoin="round">
<path d="M57.3 312.4l2.5 0.1l2.4 0.1l2.5 0.1l2.4 0.1l2.5 0.1l2.5 0.1l2.4 0.1l2.5 0.1l2.4 0.1l2.5 0.2l2.5 0.1l2.4 0.1l2.5 0.2l2.5 0.1l2.4 0.2l2.5 0.2l2.4 0.2l2.5 0.2l2.5 0.2l2.4 0.2l2.5 0.2l2.4 0.2l2.5 0.2l2.5 0.3l2.4 0.2l2.5 0.2l2.4 0.2l2.5 0.2l2.5 0.2l2.4 0.3l2.5 0.2l2.4 0.2l2.5 0.3l2.5 0.3l2.4 0.3l2.5 0.3l2.4 0.4l2.5 0.4l2.5 0.5l2.4 0.6l2.5 0.6l2.5 0.8l2.4 0.8l2.5 0.8l2.4 0.9l2.5 1.1l2.5 1.1l2.4 1.3l2.5 1.5l2.4 1.7l2.5 2l2.5 2.2l2.4 2.1l2.5 1.9l2.4 1.6l2.5 1.5l2.5 1.5l2.4 1.6l2.5 1.8l2.4 2l2.5 2.1l2.5 2.1l2.4 2.2l2.5 2.2l2.5 2.3l2.4 2.6l2.5 3.2l2.4 3.7l2.5 3.4l2.5 3.3l2.4 3.4l2.5 3.3l2.4 3.5l2.5 3.5l2.5 3.5l2.4 3.2l2.5 3.1l2.4 2.8l2.5 2.7l2.5 2.6l2.4 2.5l2.5 2.4l2.4 2.3l2.5 2.3l2.5 2.2l2.4 2.3l2.5 2.1l2.5 1.9l2.4 1.6l2.5 1.5l2.4 1.2l2.5 1.1l2.5 0.9l2.4 0.7l2.5 0.1l2.4 0l2.5-0.3l2.5-0.7l2.4-1.6l2.5-2.6" stroke="#000000" stroke-width="1.0"/>
<path d="M57.3 312.4l4.9 0.2l4.9 0.2l5 0.2l4.9 0.2l4.9 0.3l4.9 0.2l5 0.3l4.9 0.4l4.9 0.4l4.9 0.4l4.9 0.4l5 0.5l4.9 0.4l4.9 0.4l4.9 0.5l4.9 0.4l5 0.6l4.9 0.6l4.9 0.8l4.9 1.1l5 1.4l4.9 1.6l4.9 2l4.9 2.4l4.9 3.2l5 4.2l4.9 4l4.9 3.1l4.9 3.1l4.9 3.8l5 4.2l4.9 4.4l4.9 4.9l4.9 6.9l5 6.7l4.9 6.7l4.9 7l4.9 6.7l4.9 5.9l5 5.3l4.9 4.9l4.9 4.6l4.9 4.5l5 4l4.9 3.1l4.9 2.3l4.9 1.6l4.9 0.1l5-1l4.9-4.2" marker-start="url(#kmb0)" marker-mid="url(#kmb0)" marker-end="url(#kmb0)"/>
<path d="M57.3 312.9l2.5 0l2.4 0.1l2.5 0.1l2.4 0.2l2.5 0.2l2.5 0.3l2.4 0.2l2.5 0.4l2.4 0.4l2.5 0.5l2.5 0.6l2.4 0.8l2.5 0.8l2.5 0.8l2.4 0.9l2.5 0.9l2.4 1l2.5 0.9l2.5 1l2.4 1l2.5 1.1l2.4 1l2.5 1.1l2.5 1l2.4 1.1l2.5 1.2l2.4 1.3l2.5 1.4l2.5 1.7l2.4 2.2l2.5 3.8l2.4 5l2.5 5.4l2.5 6.2l2.4 7.3l2.5 8.6l2.4 9.9l2.5 10.7l2.5 11.3l2.4 10.6l2.5 8.8l2.5 7.3l2.4 6l2.5 4.4l2.4 2.7l2.5 1.2l2.5 0l2.4 0l2.5-1.5l2.4-2.8l2.5-2.7l2.5-3.3l2.4-4.5l2.5-5.2l2.4-5.7l2.5-5.8l2.5-5.6l2.4-5.6l2.5-5.7l2.4-5.4l2.5-4.7l2.5-3.6l2.4-2.3l2.5-1.7l2.5-1.4l2.4-0.6l2.5 0l2.4 0l2.5-0.2l2.5-0.3l2.4-0.1l2.5-0.2l2.4-0.4l2.5-0.6l2.5-0.7l2.4-0.7l2.5-0.9l2.4-1.1l2.5-1.5l2.5-1.7l2.4-1.5l2.5-1.5l2.4-1.8l2.5-1.9l2.5-1.6l2.4-1.3l2.5-1l2.5-0.6l2.4-0.1l2.5-0.1l2.4 0.2l2.5 0.3l2.5 0.5l2.4 0.5l2.5 0.4l2.4 0.3l2.5 0.2l2.5 0.1l2.4 0.1l2.5 0" stroke="#ff0000" stroke-width="1.0"/>
<path d="M57.3 312.9l4.9 0.1l4.9 0.3l5 0.5l4.9 0.6l4.9 0.9l4.9 1.4l5 1.6l4.9 1.8l4.9 1.9l4.9 2l4.9 2.1l5 2.1l4.9 2.3l4.9 2.7l4.9 3.9l4.9 8.8l5 11.6l4.9 15.9l4.9 20.6l4.9 21.9l5 16.1l4.9 10.4l4.9 3.9l4.9 0l4.9-4.3l5-6l4.9-9.7l4.9-11.5l4.9-11.2l4.9-11.1l5-8.3l4.9-4l4.9-2l4.9 0l5-0.5l4.9-0.3l4.9-1l4.9-1.4l4.9-2l5-3.2l4.9-3l4.9-3.7l4.9-2.9l5-1.6l4.9-0.2l4.9 0.5l4.9 1l4.9 0.7l5 0.3l4.9 0.1" marker-start="url(#kmb1)" marker-mid="url(#kmb1)" marker-end="url(#kmb1)"/>
<path d="M57.3 313.8l2.5 0.1l2.4 0.3l2.5 0.3l2.4 0.5l2.5 0.6l2.5 0.5l2.4 0.7l2.5 0.9l2.4 1.1l2.5 1.3l2.5 2l2.4 2.4l2.5 2.5l2.5 2.8l2.4 3.2l2.5 3.7l2.4 4.5l2.5 5.1l2.5 5.3l2.4 5.8l2.5 5.9l2.4 6.1l2.5 6.2l2.5 6.5l2.4 6.9l2.5 7.6l2.4 9.3l2.5 11l2.5 13.3l2.4 14.8l2.5 17.4l2.4 13.5l1.3 2.5l1.2-1.8l2.5-9.5l2.4-15.9l2.5-18.4l2.4-14.5l2.5-12.1l2.5-9.4l2.4-7.6l2.5-6.2l2.5-5.1l2.4-4.4l2.5-3.4l2.4-2.5l2.5-1.9l2.5-1.3l2.4-1.2l2.5-1l2.4-1.2l2.5-1.4l2.5-1.8l2.4-1.7l2.5-1.4l2.4-1.2l2.5-1.1l2.5-1.1l2.4-1l2.5-0.9l2.4-0.8l2.5-0.8l2.5-0.8l2.4-0.7l2.5-0.9l2.5-0.6l1.5-0.2l0.9 0.1l2.5 0.3l2.4 0.5l2.5 0.4l2.5 0.3l2.4 0.3l2.5 0.2l2.4 0.2l2.5 0.2l2.5 0.1l2.4-0.3l2.5-0.7l2.4-0.8l2.5-0.8l2.5-0.9l2.4-0.8l2.5-0.6l2.4-0.5l2.5-0.4l2.5-0.2l2.4-0.2l2.5-0.1l1.2 0l1.3 0.1l2.4 0.3l2.5 0.6l2.4 1.2l2.5 1.9l2.5 1.7l2.4 1.8l2.5 1.7l2.4 1.6l2.5 1.2l2.5 1.1l2.4 0.9l2.5 0.7" stroke="#0000ff" stroke-width="1.0"/>
<path d="M57.3 313.8l4.9 0.4l4.9 0.8l5 1.1l4.9 1.6l4.9 2.4l4.9 4.4l5 5.3l4.9 6.9l4.9 9.6l4.9 11.1l4.9 12l5 12.7l4.9 14.5l4.9 20.3l4.9 28.1l4.9 30.9l5-8.8l4.9-34.3l4.9-26.6l4.9-17l5-11.3l4.9-7.8l4.9-4.4l4.9-2.5l4.9-2.2l5-3.2l4.9-3.1l4.9-2.3l4.9-2.1l4.9-1.7l5-1.6l4.9-1.6l4.9-0.7l4.9 0.8l5 0.7l4.9 0.5l4.9 0.4l4.9-0.2l4.9-1.5l5-1.7l4.9-1.4l4.9-0.9l4.9-0.4l5 0l4.9 0.9l4.9 3.1l4.9 3.5l4.9 3.3l5 2.3l4.9 1.6" marker-start="url(#kmb2)" marker-mid="url(#kmb2)" marker-end="url(#kmb2)"/>
<path d="M57.3 314.4l2.5 2.3l2.4 2l2.5 1.5l2.4 1l2.5 0.5l2.5 0.5l2.4 1l2.5 1.8l2.4 3.7l2.5 5.1l2.5 5.4l2.4 6.5l2.5 8.1l2.5 10l2.4 12.4l2.5 14.6l2.4 16.5l2.5 16.9l2.5 16.8l2.4 11.6l2.5 4.3l2.1 1.5l0.3-0.1l2.5-2.6l2.5-4.4l2.4-5.6l2.5-6.9l2.4-8.1l2.5-9l2.5-9.8l2.4-9.9l2.5-9.3l2.4-8.7l2.5-7.8l2.5-7.1l2.4-6.1l2.5-5.1l2.4-3.8l2.5-2.9l2.5-2.3l2.4-2l2.5-1.7l2.5-1.4l2.4-1l2.5-0.8l2.4-0.5l2.5-0.4l2.5-0.4l2.4-0.4l2.5-0.3l2.4-0.3l2.5-0.3l2.5-0.3l2.4-0.3l2.5-0.3l2.4-0.3l2.5-0.2l2.5-0.3l2.4-0.3l2.5-0.3l2.4-0.2l2.5-0.1l2.5 0l2.4 0l2.5 0l2.5 0.4l2.4 0.8l2.5 0.9l2.4 0.8l2.5 1.2l2.5 1.2l2.4 1.2l2.5 1l2.4 0.9l2.5 0.8l2.5 0.7l2.4 0.5l2.5 0.1l2.4 0.1l2.5 0.1l2.5 0.1l2.4 0.1l2.5 0.3l2.4 0.4l2.5 0.5l2.5 0.7l2.4 0.9l2.5 1.1l2.5 1.2l2.4 1.5l2.5 1.7l2.4 1.7l2.5 1.9l2.5 1.9l2.4 1.9l2.5 2.1l2.4 1.9l2.5 1.6l2.5 1.4l2.4 1.1l2.5 0.9" stroke="#35a56f" stroke-width="1.0"/>
<path d="M57.3 314.4l4.9 4.3l4.9 2.5l5 1l4.9 2.8l4.9 8.8l4.9 11.9l5 18.1l4.9 27l4.9 33.4l4.9 28.4l4.9 5.7l5-7l4.9-12.5l4.9-17.1l4.9-19.7l4.9-18l5-14.9l4.9-11.2l4.9-6.7l4.9-4.3l5-3.1l4.9-1.8l4.9-0.9l4.9-0.8l4.9-0.6l5-0.6l4.9-0.6l4.9-0.5l4.9-0.6l4.9-0.5l5-0.1l4.9 0l4.9 1.2l4.9 1.7l5 2.4l4.9 2.2l4.9 1.7l4.9 1.2l4.9 0.2l5 0.2l4.9 0.4l4.9 0.9l4.9 1.6l5 2.3l4.9 3.2l4.9 3.6l4.9 3.8l4.9 4l5 3l4.9 2" marker-start="url(#kmb3)" marker-mid="url(#kmb3)" marker-end="url(#kmb3)"/>
<path d="M57.3 317.9l2.5 1.9l2.4 2.4l2.5 3.1l2.4 3l2.5 1.8l2.5 2.1l2.4 4l2.5 6.2l2.4 10.9l2.5 14.3l2.5 14.8l2.4 17.1l2.5 24.4l2.5 21.1l2.4 10.7l1.6 2.7l0.9-1.4l2.4-12.7l2.5-15.4l2.5-12.9l2.4-11.3l2.5-8l2.4-6.5l2.5-5.5l2.5-4.9l2.4-4.5l2.5-4.3l2.4-3.9l2.5-3.7l2.5-3.8l2.4-3.6l2.5-3.5l2.4-3.2l2.5-2.7l2.5-2.3l2.4-1.5l2.5-1.3l2.4-1.3l2.5-1.1l2.5-0.8l2.4-0.7l2.5-0.5l2.5-0.5l2.4-0.3l2.5-0.2l2.4 0l2.5-0.1l2.5 0l2.4 0l0.3 0l2.2 0.1l2.4 0.4l2.5 0.6l2.5 0.6l2.4 0.6l2.5 0.5l2.4 0.5l2.5 0.4l2.5 0.4l2.4 0.5l2.5 0.5l2.4 0.5l2.5 0.6l2.5 0.7l2.4 0.8l2.5 1.1l2.5 1.3l2.4 1.3l2.5 1.4l2.4 1.4l2.5 1.4l2.5 1.4l2.4 1.3l2.5 1.3l2.4 1.3l2.5 1.1l2.5 1l2.4 1l2.5 0.8l2.4 0.7l2.5 0.6l2.5 0.6l2.4 0.2l2.5 0.1l2.4 0l2.5 0l2.5 0l2.4 0l2.5 0l2.5 0l2.4 0.3l2.5 0.3l2.4 0.5l2.5 0.7l2.5 0.8l2.4 0.9l2.5 1.1l2.4 1.1l2.5 0.8l2.5 0.5l2.4 0.5l2.5 0.3" stroke="#b184e4" stroke-width="1.0"/>
<path d="M57.3 317.9l4.9 4.3l4.9 6.1l5 3.9l4.9 10.2l4.9 25.2l4.9 31.9l5 45.5l4.9 12l4.9-28.1l4.9-24.2l4.9-14.5l5-10.4l4.9-8.8l4.9-7.6l4.9-7.4l4.9-6.7l5-5l4.9-2.8l4.9-2.4l4.9-1.5l5-1l4.9-0.5l4.9-0.1l4.9 0l4.9 0.5l5 1.2l4.9 1.1l4.9 0.9l4.9 0.9l4.9 1l5 1.3l4.9 1.9l4.9 2.6l4.9 2.8l5 2.8l4.9 2.6l4.9 2.4l4.9 2l4.9 1.5l5 1.2l4.9 0.3l4.9 0l4.9 0l5 0l4.9 0.6l4.9 1.2l4.9 1.7l4.9 2.2l5 1.3l4.9 0.8" marker-start="url(#kmb4)" marker-mid="url(#kmb4)" marker-end="url(#kmb4)"/>
<path d="M57.3 323.1l2.5 3.2l2.4 4.2l2.5 5.5l2.4 6.4l2.5 6.4l2.5 8.1l2.4 13.5l2.5 19.4l2.4 34.6l2.5 24.1l2.5 10l0.6 0.6l1.8-1.4l2.5-12.3l2.5-21.8l2.4-16.8l2.5-14.1l2.4-10.3l2.5-8.1l2.5-6.4l2.4-4.8l2.5-3.2l2.4-2.5l2.5-2.5l2.5-2.2l2.4-2.2l2.5-2.2l2.4-2.4l2.5-2.1l2.5-1.4l2.4-1.4l2.5-1.3l2.4-1.1l2.5-0.8l2.5-0.6l2.4-0.4l2.5-0.3l2.4-0.2l1.3 0l1.2 0l2.5 0l2.4 0l2.5 0.1l2.5 0.1l2.4 0.1l2.5 0.1l2.4 0.6l2.5 0.9l2.5 1.1l2.4 1.2l2.5 1.2l2.4 1.5l2.5 1.4l2.5 1.4l2.4 1.3l2.5 1.3l2.4 1.3l2.5 1l2.5 0.9l2.4 0.8l2.5 0.7l2.4 0.8l2.5 0.8l2.5 0.8l2.4 0.8l2.5 0.8l2.5 0.6l2.4 0.7l2.5 0.6l2.4 0.6l2.5 0.6l2.5 0.7l2.4 0.5l2.5 0.4l2.4 0.4l2.5 0.2l2.5 0.3l2.4 0.1l0.6 0l1.9-0.1l2.4-0.2l2.5-0.3l2.5-0.4l2.4-0.5l2.5-0.8l2.4-0.8l2.5-0.7l2.5-0.6l2.4-0.5l2.5-0.4l1.2-0.1l1.3 0.1l2.4 0.3l2.5 0.6l2.4 0.7l2.5 1.2l2.5 1.4l2.4 1.4l2.5 1.2l2.4 1.2l2.5 1.1l2.5 0.9l2.4 0.9l2.5 0.8" stroke="#c8960c" stroke-width="1.0"/>
<path d="M57.3 323.1l4.9 7.4l4.9 11.9l5 14.5l4.9 32.9l4.9 58.7l4.9 9.2l5-34.1l4.9-30.9l4.9-18.4l4.9-11.2l4.9-5.7l5-4.7l4.9-4.4l4.9-4.5l4.9-2.8l4.9-2.4l5-1.4l4.9-0.7l4.9-0.2l4.9 0l5 0.2l4.9 0.2l4.9 1.5l4.9 2.3l4.9 2.7l5 2.8l4.9 2.6l4.9 2.3l4.9 1.7l4.9 1.5l5 1.6l4.9 1.6l4.9 1.3l4.9 1.2l5 1.3l4.9 0.9l4.9 0.6l4.9 0.4l4.9-0.3l5-0.7l4.9-1.3l4.9-1.5l4.9-1.1l5-0.4l4.9 0.9l4.9 1.9l4.9 2.8l4.9 2.4l5 2l4.9 1.7" marker-start="url(#kmb5)" marker-mid="url(#kmb5)" marker-end="url(#kmb5)"/>
<path d="M57.3 331.5l2.5 8l2.4 9.1l2.5 9.5l2.4 11.8l2.5 17.7l2.5 24.5l2.4 45.7l2.5 14.2l0.3 0.1l2.1-11.1l2.5-22.5l2.5-20l2.4-18.4l2.5-14.5l2.5-11.3l2.4-7.7l2.5-5.8l2.4-4.8l2.5-3.9l2.5-2.9l2.4-2.3l2.5-1.7l2.4-1.4l2.5-1.2l2.5-1.1l2.4-1l2.5-0.9l2.4-1.3l2.5-1.1l2.5-0.6l2.4-0.5l2.5-0.2l2.4-0.2l2.5 0.3l2.5 0.7l2.4 0.7l2.5 0.8l2.4 1l2.5 1.3l2.5 2.1l2.4 2.4l2.5 1.9l2.5 1.6l2.4 1.6l2.5 1.5l2.4 1.4l2.5 1.3l2.5 1.3l2.4 1.3l2.5 1.4l2.4 1.5l2.5 1.4l2.5 0.9l2.4 0.7l2.5 0.6l2.4 0.4l1.6 0.1l0.9 0l2.5-0.7l2.4-1.1l2.5-1.4l2.4-2.2l2.5-2.1l2.5-1.5l2.4-1.1l2.5-0.9l2.5-0.6l1.5-0.2l0.9 0.1l2.5 0.1l2.4 0.2l2.5 0.3l2.5 0.5l2.4 0.5l2.5 0.3l2.4 0l2.5 0l2.5 0l2.4-0.4l2.5-0.7l2.4-0.8l2.5-0.7l2.5-0.8l2.4-0.4l0.6-0.1l1.9 0.1l2.4 0.1l2.5 0.3l2.5 0.3l2.4 0.7l2.5 0.8l2.5 1l2.4 1.2l2.5 1.5l2.4 1.4l2.5 1.6l2.5 1.7l2.4 1.5l2.5 1.5l2.4 1.4l2.5 1l2.5 0.8l2.4 0.6l2.5 0.3" stroke="#0cc6c6" stroke-width="1.0"/>
<path d="M57.3 331.5l4.9 17.1l4.9 21.3l5 42.2l4.9 59.9l4.9-33.5l4.9-38.4l5-25.8l4.9-13.5l4.9-8.7l4.9-5.2l4.9-3.1l5-2.3l4.9-1.9l4.9-2.4l4.9-1.1l4.9-0.4l5 1l4.9 1.5l4.9 2.3l4.9 4.5l5 3.5l4.9 3.1l4.9 2.7l4.9 2.6l4.9 2.9l5 2.3l4.9 1.3l4.9 0.5l4.9-1.8l4.9-3.6l5-3.6l4.9-2l4.9-0.7l4.9 0.3l5 0.8l4.9 0.8l4.9 0l4.9-0.4l4.9-1.5l5-1.5l4.9-0.4l4.9 0.4l4.9 1l5 1.8l4.9 2.7l4.9 3l4.9 3.2l4.9 2.9l5 1.8l4.9 0.9" marker-start="url(#kmb6)" marker-mid="url(#kmb6)" marker-end="url(#kmb6)"/>
<path d="M57.3 348.6l2.5 18.8l2.4 17.6l2.5 15.2l2.4 16.3l2.5 28.4l2.5 20.7l0.9 1l1.5-10.4l2.5-31.2l2.4-22.8l2.5-17.6l2.5-10.2l2.4-7.7l2.5-7.1l2.5-5.5l2.4-4l2.5-3.2l2.4-2.6l2.5-1.9l2.5-0.8l2.4-0.7l2.5-0.7l2.4-0.6l2.5-0.5l2.5-0.5l2.4-0.5l2.5-0.5l2.4-0.6l2.5-0.3l2.5 0.3l2.4 0.6l2.5 0.9l2.4 1.1l2.5 1.2l2.5 1.6l2.4 2.1l2.5 2.7l2.4 3.8l2.5 4l2.5 3.2l2.4 2.6l2.5 1.8l2.5 1.2l2.4 0.7l2.5 0.5l2.4 0.5l2.5 0.2l2.5-0.3l2.4-0.5l2.5-0.4l2.4-0.5l2.5-0.5l2.5-0.6l2.4-0.9l2.5-1l2.4-1.3l2.5-1.3l2.5-1.6l2.4-1.9l2.5-1.9l2.4-1.8l2.5-1.8l2.5-1.4l1.2-0.2l1.2 0l2.5 0.1l2.5 0.1l2.4 0.3l2.5 0.9l2.4 1.2l2.5 1l2.5 0.9l2.4 0.8l2.5 0.6l2.4 0.5l2.5 0.4l2.5 0.3l2.4 0.1l0.6 0l1.9 0l2.4-0.2l2.5-0.2l2.5-0.3l2.4-0.2l2.5-0.1l2.4-0.1l2.5-0.1l0.9 0l1.6 0.1l2.4 0.3l2.5 0.5l2.5 0.6l2.4 0.9l2.5 1.1l2.4 1.2l2.5 1.6l2.5 1.7l2.4 1.5l2.5 1.3l2.4 1.2l2.5 1l2.5 0.8l2.4 0.7l2.5 0.6" stroke="#80524f" stroke-width="1.0"/>
<path d="M57.3 348.6l4.9 36.4l4.9 31.5l5 49.1l4.9-40.6l4.9-40.4l4.9-17.9l5-12.6l4.9-7.2l4.9-4.5l4.9-1.5l4.9-1.3l5-1l4.9-1l4.9-0.9l4.9 0.9l4.9 2l5 2.8l4.9 4.8l4.9 7.8l4.9 5.8l5 3l4.9 1.2l4.9 0.7l4.9-0.8l4.9-0.9l5-1.1l4.9-1.9l4.9-2.6l4.9-3.5l4.9-3.7l5-3.2l4.9-0.1l4.9 0.4l4.9 2.1l5 1.9l4.9 1.4l4.9 0.9l4.9 0.4l4.9-0.2l5-0.5l4.9-0.3l4.9-0.2l4.9 0.4l5 1.1l4.9 2l4.9 2.8l4.9 3.2l4.9 2.5l5 1.8l4.9 1.3" marker-start="url(#kmb7)" marker-mid="url(#kmb7)" marker-end="url(#kmb7)"/>
<path d="M57.3 381.2l2.5 50.8l2.4 22l1.3 1.6l1.2-1.9l2.4-10.1l2.5-14.2l2.5-17l2.4-17.6l2.5-15.8l2.4-11.7l2.5-8.4l2.5-5l2.4-3.7l2.5-3.2l2.5-2.7l2.4-2.1l2.5-1.7l2.4-1.1l2.5-0.8l2.5-0.5l2.4-0.2l2.5 0.2l2.4 0.2l2.5 0.2l2.5 0.1l2.4 0.3l2.5 0.4l2.4 0.5l2.5 0.7l2.5 0.8l2.4 1.1l2.5 2l2.4 2.8l2.5 3.6l2.5 4.2l2.4 4.6l2.5 4.2l2.4 3.6l2.5 2l2.5-0.5l2.4-1.1l2.5-2l2.5-2l2.4-1.6l2.5-1.4l2.4-1.3l2.5-1.1l2.5-0.6l2.4-0.6l2.5-0.8l2.4-0.8l2.5-0.8l2.5-0.8l2.4-0.9l2.5-0.9l2.4-0.9l2.5-0.9l2.5-0.9l2.4-1l2.5-0.9l2.4-0.4l2.5 0l2.5 0l2.4 0l2.5 0.1l2.5 0.6l2.4 1.3l2.5 1.4l2.4 1.2l2.5 1.2l2.5 1.2l2.4 1.2l2.5 0.8l2.4 0.7l2.5 0.7l2.5 0.6l2.4 0.2l0.6 0l1.9 0l2.4 0l2.5-0.1l2.5-0.1l2.4-0.4l2.5-0.6l2.4-0.6l2.5-0.4l2.5-0.1l2.4 0l2.5 0l2.5 0.1l2.4 0.6l2.5 1l2.4 1.1l2.5 1.4l2.5 1.6l2.4 1.4l2.5 1.1l2.4 1.1l2.5 0.8l2.5 0.7l2.4 0.6l2.5 0.4" stroke="#8c8c16" stroke-width="1.0"/>
<path d="M57.3 381.2l4.9 72.8l4.9-10.4l5-31.2l4.9-33.4l4.9-20.1l4.9-8.7l5-5.9l4.9-3.8l4.9-1.9l4.9-0.7l4.9 0.4l5 0.3l4.9 0.7l4.9 1.2l4.9 1.9l4.9 4.8l5 7.8l4.9 8.8l4.9 5.6l4.9-1.6l5-4l4.9-3l4.9-2.4l4.9-1.2l4.9-1.6l5-1.6l4.9-1.8l4.9-1.8l4.9-1.9l4.9-1.3l5 0l4.9 0.1l4.9 1.9l4.9 2.6l5 2.4l4.9 2l4.9 1.4l4.9 0.8l4.9 0l5-0.2l4.9-1l4.9-1l4.9-0.1l5 0.1l4.9 1.6l4.9 2.5l4.9 3l4.9 2.2l5 1.5l4.9 1" marker-start="url(#kmb8)" marker-mid="url(#kmb8)" marker-end="url(#kmb8)"/>
</g>
<path d="M57.3 298.1H303.5V503.4" fill="none" stroke="#1a1a1a" stroke-width="1"/>
<path d="M57.3 298.1V503.4H303.5" fill="none" stroke="#000" stroke-width="1.3"/>
<path d="M57.3 503.4v3.9M88.1 503.4v3.9M118.8 503.4v3.9M149.6 503.4v3.9M180.3 503.4v3.9M211.1 503.4v3.9M241.9 503.4v3.9M272.6 503.4v3.9M303.4 503.4v3.9M72.7 503.4v2.1M103.4 503.4v2.1M134.2 503.4v2.1M165.0 503.4v2.1M195.7 503.4v2.1M226.5 503.4v2.1M257.2 503.4v2.1M288.0 503.4v2.1M57.3 311.9h-3.9M57.3 339.3h-3.9M57.3 366.7h-3.9M57.3 394.0h-3.9M57.3 421.4h-3.9M57.3 448.8h-3.9M57.3 476.2h-3.9M57.3 503.6h-3.9M57.3 325.6h-2.1M57.3 353.0h-2.1M57.3 380.3h-2.1M57.3 407.7h-2.1M57.3 435.1h-2.1M57.3 462.5h-2.1M57.3 489.9h-2.1" stroke="#000" stroke-width="1" fill="none"/>
<g font-family="Liberation Sans, sans-serif" font-weight="bold" font-size="10" fill="#000">
<text x="57.3" y="518.8" text-anchor="middle">2</text>
<text x="88.1" y="518.8" text-anchor="middle">4</text>
<text x="118.8" y="518.8" text-anchor="middle">6</text>
<text x="149.6" y="518.8" text-anchor="middle">8</text>
<text x="180.3" y="518.8" text-anchor="middle">10</text>
<text x="211.1" y="518.8" text-anchor="middle">12</text>
<text x="241.9" y="518.8" text-anchor="middle">14</text>
<text x="272.6" y="518.8" text-anchor="middle">16</text>
<text x="303.4" y="518.8" text-anchor="middle">18</text>
<text x="51.0" y="315.5" text-anchor="end">0</text>
<text x="51.0" y="342.9" text-anchor="end">-2</text>
<text x="51.0" y="370.3" text-anchor="end">-4</text>
<text x="51.0" y="397.6" text-anchor="end">-6</text>
<text x="51.0" y="425.0" text-anchor="end">-8</text>
<text x="51.0" y="452.4" text-anchor="end">-10</text>
<text x="51.0" y="479.8" text-anchor="end">-12</text>
<text x="51.0" y="507.2" text-anchor="end">-14</text>
</g>
<text font-family="Liberation Sans, sans-serif" font-weight="bold" font-size="14.1" text-anchor="middle" transform="translate(31,400.1) rotate(-90)">Reflection Loss (dB)</text>
<text font-family="Liberation Sans, sans-serif" font-weight="bold" font-size="12.4" text-anchor="middle" x="180.2" y="534.3">Frequency (GHz)</text>
<text font-family="Liberation Sans, sans-serif" font-weight="bold" font-size="15.5" x="18" y="312">(b)</text>
<g font-family="Liberation Sans, sans-serif" font-weight="bold" font-size="7.1">
<path d="M207.3 412.6H223.6" stroke="#000000" stroke-width="1.0"/><use href="#mb0" x="215.4" y="412.6"/>
<text x="225.4" y="415.2">1.0 mm</text>
<path d="M207.3 422.9H223.6" stroke="#ff0000" stroke-width="1.0"/><use href="#mb1" x="215.4" y="422.9"/>
<text x="225.4" y="425.5">1.5 mm</text>
<path d="M207.3 433.3H223.6" stroke="#0000ff" stroke-width="1.0"/><use href="#mb2" x="215.4" y="433.3"/>
<text x="225.4" y="435.8">2.0 mm</text>
<path d="M207.3 443.6H223.6" stroke="#35a56f" stroke-width="1.0"/><use href="#mb3" x="215.4" y="443.6"/>
<text x="225.4" y="446.1">2.5 mm</text>
<path d="M207.3 453.9H223.6" stroke="#b184e4" stroke-width="1.0"/><use href="#mb4" x="215.4" y="453.9"/>
<text x="225.4" y="456.5">3.0 mm</text>
<path d="M207.3 464.2H223.6" stroke="#c8960c" stroke-width="1.0"/><use href="#mb5" x="215.4" y="464.2"/>
<text x="225.4" y="466.8">3.5 mm</text>
<path d="M207.3 474.6H223.6" stroke="#0cc6c6" stroke-width="1.0"/><use href="#mb6" x="215.4" y="474.6"/>
<text x="225.4" y="477.1">4.0 mm</text>
<path d="M207.3 484.9H223.6" stroke="#80524f" stroke-width="1.0"/><use href="#mb7" x="215.4" y="484.9"/>
<text x="225.4" y="487.5">4.5 mm</text>
<path d="M207.3 495.2H223.6" stroke="#8c8c16" stroke-width="1.0"/><use href="#mb8" x="215.4" y="495.2"/>
<text x="225.4" y="497.8">5.0 mm</text>
</g>
</g>
<g id="pc">
<defs><g id="mc0" fill="#000000"><rect x="-1.98" y="-1.98" width="3.96" height="3.96"/></g><marker id="kmc0" markerUnits="userSpaceOnUse" markerWidth="12" markerHeight="12" refX="0" refY="0" viewBox="-6 -6 12 12" overflow="visible" orient="0"><g fill="#000000"><rect x="-1.98" y="-1.98" width="3.96" height="3.96"/></g></marker><g id="mc1" fill="#ff0000"><circle r="2.20"/></g><marker id="kmc1" markerUnits="userSpaceOnUse" markerWidth="12" markerHeight="12" refX="0" refY="0" viewBox="-6 -6 12 12" overflow="visible" orient="0"><g fill="#ff0000"><circle r="2.20"/></g></marker><g id="mc2" fill="#0000ff"><path d="M0 -2.53L2.53 2.02L-2.53 2.02z"/></g><marker id="kmc2" markerUnits="userSpaceOnUse" markerWidth="12" markerHeight="12" refX="0" refY="0" viewBox="-6 -6 12 12" overflow="visible" orient="0"><g fill="#0000ff"><path d="M0 -2.53L2.53 2.02L-2.53 2.02z"/></g></marker><g id="mc3" fill="#35a56f"><path d="M0 2.53L2.53 -2.02L-2.53 -2.02z"/></g><marker id="kmc3" markerUnits="userSpaceOnUse" markerWidth="12" markerHeight="12" refX="0" refY="0" viewBox="-6 -6 12 12" overflow="visible" orient="0"><g fill="#35a56f"><path d="M0 2.53L2.53 -2.02L-2.53 -2.02z"/></g></marker><g id="mc4" fill="#b184e4"><path d="M0 -2.64L2.64 0L0 2.64L-2.64 0z"/></g><marker id="kmc4" markerUnits="userSpaceOnUse" markerWidth="12" markerHeight="12" refX="0" refY="0" viewBox="-6 -6 12 12" overflow="visible" orient="0"><g fill="#b184e4"><path d="M0 -2.64L2.64 0L0 2.64L-2.64 0z"/></g></marker><g id="mc5" fill="#c8960c"><path d="M-2.53 0L2.02 -2.53L2.02 2.53z"/></g><marker id="kmc5" markerUnits="userSpaceOnUse" markerWidth="12" markerHeight="12" refX="0" refY="0" viewBox="-6 -6 12 12" overflow="visible" orient="0"><g fill="#c8960c"><path d="M-2.53 0L2.02 -2.53L2.02 2.53z"/></g></marker><g id="mc6" fill="#0cc6c6"><path d="M2.53 0L-2.02 -2.53L-2.02 2.53z"/></g><marker id="kmc6" markerUnits="userSpaceOnUse" markerWidth="12" markerHeight="12" refX="0" refY="0" viewBox="-6 -6 12 12" overflow="visible" orient="0"><g fill="#0cc6c6"><path d="M2.53 0L-2.02 -2.53L-2.02 2.53z"/></g></marker><g id="mc7" fill="#80524f"><circle r="2.31"/></g><marker id="kmc7" markerUnits="userSpaceOnUse" markerWidth="12" markerHeight="12" refX="0" refY="0" viewBox="-6 -6 12 12" overflow="visible" orient="0"><g fill="#80524f"><circle r="2.31"/></g></marker><g id="mc8" fill="#8c8c16"><path d="M0.00 -2.97L0.73 -1.01L2.82 -0.92L1.19 0.39L1.75 2.40L0.00 1.25L-1.75 2.40L-1.19 0.39L-2.82 -0.92L-0.73 -1.01z"/></g><marker id="kmc8" markerUnits="userSpaceOnUse" markerWidth="12" markerHeight="12" refX="0" refY="0" viewBox="-6 -6 12 12" overflow="visible" orient="0"><g fill="#8c8c16"><path d="M0.00 -2.97L0.73 -1.01L2.82 -0.92L1.19 0.39L1.75 2.40L0.00 1.25L-1.75 2.40L-1.19 0.39L-2.82 -0.92L-0.73 -1.01z"/></g></marker></defs>
<clipPath id="clc"><rect x="48.5" y="578.9" width="248.5" height="201.70000000000005"/></clipPath>
<path d="M51.5 629.1H294" stroke="#ff0000" stroke-width="1.2" stroke-dasharray="4.5 2.2" fill="none"/><g font-family="Liberation Sans, sans-serif" font-weight="bold" font-size="10.5"><text transform="translate(212.8,731) scale(.925,1)">RL<tspan font-size="7.2" dy="2.2">min</tspan><tspan dy="-2.2">= - 47.87 dB</tspan></text><text transform="translate(212.8,749.6) scale(.925,1)">EAB= 4.78 dB</text><text transform="translate(218.3,765) scale(.925,1)">(d= 2.5 mm)</text></g>
<g clip-path="url(#clc)" fill="none" stroke-linejoin="round">
<path d="M51.5 595.9l2.4 0.6l2.4 0.4l2.5 0.2l2.4 0.1l2.4-0.9l2.4-1.4l2.5-1.5l2.4-0.9l2.4 0.7l2.4 0.8l2.5 0.8l2.4 0.2l2.4 0.1l2.4 0l2.5 0.1l2.4 0l2.4 0.1l2.4 0l2.5 0l2.4 0.1l2.4 0l2.4 0l2.5 0.1l2.4 0l2.4 0l2.4 0.1l2.4 0l2.5 0.1l2.4 0l2.4 0.1l2.4 0l2.5 0.1l2.4 0l2.4 0.1l2.4 0l2.5 0.1l2.4 0.1l2.4 0.1l2.4 0.1l2.5 0.1l2.4 0.1l2.4 0.2l2.4 0.1l2.5 0.1l2.4 0.2l2.4 0.1l2.4 0.1l2.5 0.1l2.4 0.1l2.4 0l2.4 0l2.4-0.1l2.5 0l2.4 0l2.4 0l2.4-0.1l2.5 0l2.4-0.1l2.4 0l2.4 0l2.5-0.1l2.4 0l1.2 0l1.2 0l2.4 0.1l2.5 0.2l2.4 0.2l2.4 0.2l2.4 0.2l2.5 0.2l2.4 0.1l2.4 0.1l2.4 0.1l2.5 0.1l2.4 0.1l2.4 0.1l2.4 0.2l2.4 0.1l2.5 0.1l2.4 0.2l2.4 0.1l2.4 0l0.6 0l1.9-0.2l2.4-0.5l2.4-0.5l2.4-0.3l2.5-0.3l2.4-0.2l1.2 0l1.2 0.1l2.4 0.6l2.5 0.8l2.4 0.8l2.4 0.7l2.4 0.8l2.5 0.8l2.4 0.7l2.4 0.7l2.4 0.5l2.5 0.4l2.4 0.3l2.4 0.2" stroke="#000000" stroke-width="1.0"/>
<path d="M51.5 595.9l4.8 1l4.9 0.3l4.8-2.3l4.9-2.4l4.8 1.5l4.9 1l4.8 0.1l4.9 0.1l4.8 0.1l4.9 0.1l4.8 0l4.9 0.1l4.8 0.1l4.9 0.1l4.8 0.1l4.9 0.1l4.8 0.1l4.9 0.1l4.8 0.2l4.9 0.2l4.8 0.3l4.9 0.2l4.8 0.3l4.9 0.2l4.8 0.1l4.8-0.1l4.9 0l4.8-0.1l4.9-0.1l4.8 0l4.9-0.1l4.8 0.1l4.9 0.4l4.8 0.4l4.9 0.3l4.8 0.2l4.9 0.2l4.8 0.3l4.9 0.2l4.8 0.3l4.9-0.2l4.8-1l4.9-0.6l4.8-0.1l4.9 1.4l4.8 1.5l4.9 1.6l4.8 1.4l4.9 0.9l4.8 0.5" marker-start="url(#kmc0)" marker-mid="url(#kmc0)" marker-end="url(#kmc0)"/>
<path d="M51.5 595.9l2.4 0.6l2.4 0.4l2.5 0.2l2.4 0.1l2.4-0.9l2.4-1.4l2.5-1.5l2.4-0.9l2.4 0.7l2.4 0.8l2.5 0.8l2.4 0.2l2.4 0l2.4 0.1l2.5 0.1l2.4 0l2.4 0.1l2.4 0.1l2.5 0l2.4 0.1l2.4 0.1l2.4 0l2.5 0.1l2.4 0.1l2.4 0.1l2.4 0.1l2.4 0.1l2.5 0.2l2.4 0.1l2.4 0.2l2.4 0.2l2.5 0.3l2.4 0.2l2.4 0.4l2.4 0.3l2.5 0.4l2.4 0.3l2.4 0.4l2.4 0.5l2.5 0.5l2.4 0.5l2.4 0.5l2.4 0.5l2.5 0.5l2.4 0.6l2.4 0.6l2.4 0.7l2.5 0.5l2.4 0.4l2.4 0.1l2.4 0l2.4 0l2.5 0l2.4 0l2.4-0.1l2.4-0.3l2.5-0.3l2.4-0.3l2.4-0.2l2.4-0.1l2.5 0l2.4 0.2l2.4 0.2l2.4 0.4l2.5 0.5l2.4 0.6l2.4 0.9l2.4 0.9l2.5 0.9l2.4 0.7l2.4 0.7l2.4 0.6l2.5 0.6l2.4 0.7l2.4 0.6l2.4 0.5l2.4 0.5l2.5 0.6l2.4 0.5l2.4 0.5l2.4 0.6l2.5 0.6l2.4 0.7l2.4 0.8l2.4 0.7l2.5 0.6l2.4 0.5l2.4 0.7l2.4 1l2.5 1.3l2.4 1.8l2.4 2l2.4 1.4l2.5 1.2l2.4 1.2l2.4 1.2l2.4 0l2.5 0l2.4-0.1l2.4-0.2" stroke="#ff0000" stroke-width="1.0"/>
<path d="M51.5 595.9l4.8 1l4.9 0.3l4.8-2.3l4.9-2.4l4.8 1.5l4.9 1l4.8 0.1l4.9 0.1l4.8 0.2l4.9 0.1l4.8 0.1l4.9 0.2l4.8 0.2l4.9 0.3l4.8 0.3l4.9 0.5l4.8 0.6l4.9 0.7l4.8 0.7l4.9 1l4.8 1l4.9 1l4.8 1.2l4.9 1.2l4.8 0.5l4.8 0l4.9 0l4.8-0.4l4.9-0.6l4.8-0.3l4.9 0.2l4.8 0.6l4.9 1.1l4.8 1.8l4.9 1.6l4.8 1.3l4.9 1.3l4.8 1.1l4.9 1.1l4.8 1l4.9 1.2l4.8 1.5l4.9 1.3l4.8 1.2l4.9 2.3l4.8 3.8l4.9 2.6l4.8 2.4l4.9 0l4.8-0.3" marker-start="url(#kmc1)" marker-mid="url(#kmc1)" marker-end="url(#kmc1)"/>
<path d="M51.5 595.9l2.4 0.6l2.4 0.4l2.5 0.2l2.4 0.1l2.4-0.9l2.4-1.4l2.5-1.5l2.4-0.9l2.4 0.7l2.4 0.8l2.5 0.8l2.4 0.3l2.4 0.2l2.4 0.2l2.5 0.2l2.4 0.2l2.4 0.2l2.4 0.3l2.5 0.2l2.4 0.3l2.4 0.2l2.4 0.3l2.5 0.3l2.4 0.3l2.4 0.3l2.4 0.2l2.4 0.2l2.5 0.2l2.4 0.3l2.4 0.3l2.4 0.3l2.5 0.6l2.4 0.8l2.4 1.1l2.4 2l2.5 2.4l2.4 2.5l2.4 2.6l2.4 2.4l2.5 2.4l2.4 2.5l2.4 2.5l2.4 2.6l2.5 2.5l2.4 2.8l2.4 1.6l2.4-0.1l2.5-0.2l2.4-1.6l2.4-2.5l2.4-1.9l2.4-1.6l2.5-1.1l2.4-0.8l2.4-0.6l2.4-0.4l0.6 0l1.9 0l2.4 0.1l2.4 0.3l2.4 0.3l2.5 1.1l2.4 2.2l2.4 2.2l2.4 2.6l2.5 2.6l2.4 2.6l2.4 2.4l2.4 2.1l2.5 1l2.4 0.5l2.4-0.1l2.4-0.2l2.5-1l2.4-2l2.4-2l2.4-2.2l2.4-2.8l2.5-2.7l2.4-1.8l2.4-1.1l2.4-0.6l2.5-0.6l2.4-1.4l2.4-2.1l2.4-3.2l2.5-3.1l2.4-1.5l2.4-1l2.4-0.8l2.5-0.7l2.4-0.5l2.4-0.6l2.4-0.4l2.5-0.2l2.4-0.1l2.4-0.1l2.4 0l2.5-0.1l2.4 0l2.4 0" stroke="#0000ff" stroke-width="1.0"/>
<path d="M51.5 595.9l4.8 1l4.9 0.3l4.8-2.3l4.9-2.4l4.8 1.5l4.9 1.1l4.8 0.4l4.9 0.4l4.8 0.5l4.9 0.5l4.8 0.5l4.9 0.6l4.8 0.5l4.9 0.4l4.8 0.6l4.9 0.9l4.8 1.9l4.9 4.4l4.8 5.1l4.9 4.8l4.8 5l4.9 5.1l4.8 4.4l4.9-0.3l4.8-4.1l4.8-3.5l4.9-1.9l4.8-1l4.9 0.1l4.8 0.6l4.9 3.3l4.8 4.8l4.9 5.2l4.8 4.5l4.9 1.5l4.8-0.3l4.9-3l4.8-4.2l4.9-5.5l4.8-2.9l4.9-1.2l4.8-3.5l4.9-6.3l4.8-2.5l4.9-1.5l4.8-1.1l4.9-0.6l4.8-0.2l4.9-0.1l4.8 0" marker-start="url(#kmc2)" marker-mid="url(#kmc2)" marker-end="url(#kmc2)"/>
<path d="M51.5 595.9l2.4 0.6l2.4 0.4l2.5 0.2l2.4 0.1l2.4-0.9l2.4-1.4l2.5-1.5l2.4-0.9l2.4 0.6l2.4 1.3l2.5 1.1l2.4 0.7l2.4 0.6l2.4 0.6l2.5 0.5l2.4 0.6l2.4 0.5l2.4 0.5l2.5 0.7l2.4 0.6l2.4 0.7l2.4 0.5l2.5 0.5l2.4 0.5l2.4 0.4l2.4 0.5l2.4 0.5l2.5 0.6l2.4 0.7l2.4 1l2.4 2.8l2.5 3.8l2.4 3.3l2.4 4.4l2.4 7.5l2.5 10.4l2.4 12.7l2.4 15.5l2.4 23.4l0.9 3.7l1.6-12.6l2.4-15.6l2.4-11.5l2.4-7l2.5-4.8l2.4-3.3l2.4-2.5l2.4-2.1l2.5-1.6l2.4-1.4l2.4-0.7l2.4 0l2.4 0l2.5 0.3l2.4 0.4l2.4 0.5l2.4 0.9l2.5 1.6l2.4 2.7l2.4 5l2.4 9l2.5 16l2.4 37.4l1.2 51l1.2-30.1l2.4-67.9l2.5-13.5l2.4-8l2.4-6.3l2.4-4.4l2.5-3l2.4-2.4l2.4-2.2l2.4-1.7l2.5-1.7l2.4-1.1l2.4-0.7l2.4-0.5l2.4-0.4l2.5-0.5l2.4-0.5l2.4-0.5l2.4-0.6l2.5-0.6l2.4-0.7l2.4-0.8l2.4-0.8l2.5-0.6l2.4-0.5l2.4-0.3l2.4-0.2l2.5-0.2l2.4-0.2l2.4-0.1l2.4-0.1l2.5-0.1l2.4-0.1l2.4-0.1l2.4 0l2.5-0.1l2.4 0l2.4 0" stroke="#35a56f" stroke-width="1.0"/>
<path d="M51.5 595.9l4.8 1l4.9 0.3l4.8-2.3l4.9-2.4l4.8 1.9l4.9 1.8l4.8 1.2l4.9 1.1l4.8 1l4.9 1.3l4.8 1.2l4.9 1l4.8 0.9l4.9 1.1l4.8 1.7l4.9 6.6l4.8 7.7l4.9 17.9l4.8 28.2l4.9 14.5l4.8-27.1l4.9-11.8l4.8-5.8l4.9-3.7l4.8-2.1l4.8 0l4.9 0.7l4.8 1.4l4.9 4.3l4.8 14l4.9 53.4l4.8-47l4.9-21.5l4.8-10.7l4.9-5.4l4.8-3.9l4.9-2.8l4.8-1.2l4.9-0.9l4.8-1l4.9-1.2l4.8-1.5l4.9-1.4l4.8-0.8l4.9-0.4l4.8-0.3l4.9-0.2l4.8-0.2l4.9-0.1l4.8 0" marker-start="url(#kmc3)" marker-mid="url(#kmc3)" marker-end="url(#kmc3)"/>
<path d="M51.5 595.9l2.4 0.6l2.4 0.4l2.5 0.2l2.4 0.1l2.4-0.9l2.4-1.4l2.5-1.5l2.4-0.9l2.4 0.6l2.4 1.2l2.5 1.5l2.4 1.4l2.4 1.1l2.4 1l2.5 1.3l2.4 1.4l2.4 1.5l2.4 1.5l2.5 1.2l2.4 1.2l2.4 1.3l2.4 1.4l2.5 1.6l2.4 1.8l2.4 1.9l2.4 2.2l2.4 2.5l2.5 3.2l2.4 4.3l2.4 5.6l2.4 8.7l2.5 9.6l2.4 8.9l1.1 1.6l1.3-2.7l2.4-10.5l2.5-10.9l2.4-6.3l2.4-4.5l2.4-3.4l2.5-2.4l2.4-1.6l2.4-1.1l2.4-0.8l2.5-0.6l2.4-0.6l2.4-0.4l2.4 0.1l2.5 0.2l2.4 0.3l2.4 0.4l2.4 1.2l2.4 1.3l2.5 0.7l2.4 0.8l2.4 1.9l2.4 2.4l2.5 2.5l2.4 2.7l2.4 4.6l2.4 3.3l2.5-0.7l2.4-1.6l2.4-5l2.4-5.3l2.5-4l2.4-3.6l2.4-3.4l2.4-2.5l2.5-1.7l2.4-1l2.4-0.6l2.4-0.5l2.5-0.3l2.4-0.3l2.4-0.4l2.4-0.3l2.4-0.3l2.5-0.3l2.4-0.3l2.4-0.3l2.4-0.4l2.5-0.5l2.4-0.9l2.4-1l2.4-1l2.5-0.9l2.4-0.5l1.2 0l1.2 0l2.4 0.3l2.5 0.4l2.4 0.5l2.4 0.5l2.4 0.6l2.5 0.5l2.4 0.3l2.4 0.3l2.4 0.2l2.5 0.2l2.4 0.2l2.4 0" stroke="#b184e4" stroke-width="1.0"/>
<path d="M51.5 595.9l4.8 1l4.9 0.3l4.8-2.3l4.9-2.4l4.8 1.8l4.9 2.9l4.8 2.1l4.9 2.7l4.8 3l4.9 2.4l4.8 2.7l4.9 3.4l4.8 4.1l4.9 5.7l4.8 9.9l4.9 18.3l4.8 7.8l4.9-21.4l4.8-10.8l4.9-5.8l4.8-2.7l4.9-1.4l4.8-1l4.9 0.3l4.8 0.7l4.8 2.5l4.9 1.5l4.8 4.3l4.9 5.2l4.8 7.9l4.9-2.3l4.8-10.3l4.9-7.6l4.8-5.9l4.9-2.7l4.8-1.1l4.9-0.6l4.8-0.7l4.9-0.6l4.8-0.6l4.9-0.9l4.8-1.9l4.9-1.9l4.8-0.5l4.9 0.7l4.8 1l4.9 1.1l4.8 0.6l4.9 0.4l4.8 0.2" marker-start="url(#kmc4)" marker-mid="url(#kmc4)" marker-end="url(#kmc4)"/>
<path d="M51.5 595.9l2.4 0.6l2.4 0.4l2.5 0.2l2.4 0.1l2.4-0.9l2.4-1.4l2.5-1.5l2.4-0.9l2.4 0.6l2.4 1.3l2.5 2l2.4 2.5l2.4 2.9l2.4 2.2l2.5 0.8l2.4 0.9l2.4 2.9l2.4 4.2l2.5 4.6l2.4 4.9l2.4 4.9l2.4 5l2.5 5.1l2.4 5.4l2.4 5.8l2.4 6l2.4 6.5l0.5 0.3l2-2l2.4-6.4l2.4-8.2l2.4-7.1l2.5-6.5l2.4-5.5l2.4-4.3l2.4-2.9l2.5-2.2l2.4-1.7l2.4-1.3l2.4-1l2.5-0.7l2.4-0.9l2.4-0.5l2.4-0.1l2.5-0.1l2.4-0.1l2.4 0l2.4 0l2.5 0l2.4 0l2.4 0l2.4 0.5l2.4 1.4l2.5 1.6l2.4 1.6l2.4 1.6l2.4 1.7l2.5 1.5l2.4 1.5l2.4 1.1l2.4 0.7l2.3 0.3l0.2 0l2.4-0.7l2.4-1.5l2.4-2.5l2.5-3l2.4-3.3l2.4-1.7l2.4-1.1l2.5-0.9l2.4-0.8l2.4-0.6l2.4-0.5l2.5-0.5l2.4-0.5l2.4-0.3l2.4-0.3l2.4-0.2l2.5-0.2l2.4-0.2l2.4-0.2l2.4-0.2l2.5-0.4l2.4-0.6l2.4-0.6l2.4-0.4l1.6-0.1l0.9 0l2.4 0.6l2.4 0.8l2.4 1.2l2.5 1.3l2.4 1.3l2.4 1.3l2.4 1.3l2.5 1.3l2.4 1.2l2.4 1.2l2.4 1.2l2.5 1.2l2.4 1.4l2.4 1.3" stroke="#c8960c" stroke-width="1.0"/>
<path d="M51.5 595.9l4.8 1l4.9 0.3l4.8-2.3l4.9-2.4l4.8 1.9l4.9 4.5l4.8 5.1l4.9 1.7l4.8 7.1l4.9 9.5l4.8 9.9l4.9 10.5l4.8 11.8l4.9 4.8l4.8-14.6l4.9-13.6l4.8-9.8l4.9-5.1l4.8-3l4.9-1.7l4.8-1.4l4.9-0.2l4.8-0.1l4.9 0l4.8 0l4.8 1.9l4.9 3.2l4.8 3.3l4.9 3l4.8 1.8l4.9-0.4l4.8-4l4.9-6.3l4.8-2.8l4.9-1.7l4.8-1.1l4.9-1l4.8-0.6l4.9-0.4l4.8-0.4l4.9-0.6l4.8-1.2l4.9-0.5l4.8 1.4l4.9 2.5l4.8 2.6l4.9 2.6l4.8 2.4l4.9 2.4l4.8 2.7" marker-start="url(#kmc5)" marker-mid="url(#kmc5)" marker-end="url(#kmc5)"/>
<path d="M51.5 595.9l2.4 0.6l2.4 0.4l2.5 0.2l2.4 0.1l2.4-0.9l2.4-1.4l2.5-1.5l2.4-0.9l2.4 0.6l2.4 1.5l2.5 2.8l2.4 3.6l2.4 2l2.4 2.4l2.5 5.1l2.4 7.1l2.4 7.9l2.4 8.3l2.5 8.5l2.4 7.1l1.5 2.8l0.9-0.5l2.4-3.6l2.5-5l2.4-5.2l2.4-3.5l2.4-3.3l2.4-3.5l2.5-3.2l2.4-2.4l2.4-2.4l2.4-3.2l2.5-2.9l2.4-1.5l2.4-1.2l2.4-1.1l2.5-0.9l2.4-0.6l2.4-0.5l2.4-0.6l2.5-0.4l2.4 0l2.4 0l2.4 0l2.5 0l2.4 0.1l2.4 0.1l2.4 0.2l2.5 0.3l2.4 0.3l2.4 0.4l2.4 0.7l2.4 1l2.5 1.2l2.4 1l2.4 0.9l2.4 0.9l2.5 0.9l2.4 0.7l2.4 0.9l2.4 0.8l1.6 0.1l0.9-0.1l2.4-1l2.4-1.4l2.4-1.5l2.5-1.7l2.4-1.4l2.4-1.1l2.4-0.8l2.5-0.6l2.4-0.4l2.4-0.3l2.4-0.2l2.5-0.1l2.4-0.2l2.4 0l2.4 0.2l2.4 0.6l2.5 0.5l2.4 0.4l2.4 0.4l2.4 0.2l0.6 0.1l1.9-0.1l2.4-0.3l2.4-0.3l0.9 0l1.5 0.1l2.5 0.8l2.4 1.1l2.4 1.6l2.4 2.9l2.5 4l2.4 6.3l2.4 7l2.4 6.7l2.5 3.4l0.9 0.3l1.5-0.7l2.4-2.5l2.4-2l2.5-2l2.4-2.1l2.4-2.2" stroke="#0cc6c6" stroke-width="1.0"/>
<path d="M51.5 595.9l4.8 1l4.9 0.3l4.8-2.3l4.9-2.4l4.8 2.1l4.9 6.4l4.8 4.4l4.9 12.2l4.8 16.2l4.9 15.6l4.8-1.3l4.9-10.2l4.8-6.8l4.9-6.7l4.8-4.8l4.9-6.1l4.8-2.7l4.9-2l4.8-1.1l4.9-1l4.8 0l4.9 0l4.8 0.2l4.9 0.5l4.8 0.7l4.8 1.7l4.9 2.2l4.8 1.8l4.9 1.6l4.8 1.7l4.9-1l4.8-2.9l4.9-3.1l4.8-1.9l4.9-1l4.8-0.5l4.9-0.3l4.8 0.2l4.9 1.1l4.8 0.8l4.9 0.2l4.8-0.6l4.9 0.9l4.8 2.7l4.9 6.9l4.8 13.3l4.9 10.1l4.8-2.9l4.9-4l4.8-4.3" marker-start="url(#kmc6)" marker-mid="url(#kmc6)" marker-end="url(#kmc6)"/>
<path d="M51.5 595.9l2.4 0.6l2.4 0.4l2.5 0.2l2.4 0.1l2.4-0.9l2.4-1.4l2.5-1.5l2.4-0.9l2.4 0.6l2.4 1.6l2.5 3.3l2.4 5l2.4 6l2.4 7.6l2.5 11.4l2.4 10.9l2.4 7.4l1.2 1.4l1.2-4l2.5-6.9l2.4-5.7l2.4-4.4l2.4-3.4l2.5-2.4l2.4-2l2.4-1.8l2.4-1.6l2.4-1.2l2.5-1.1l2.4-1.2l2.4-1.2l2.4-1.1l2.5-0.9l2.4-0.8l2.4-0.6l2.4-0.5l2.5-0.5l2.4-0.5l2.4-0.2l2.4 0l2.5 0l2.4 0l2.4 0l2.4 0l2.5 0l2.4 0.3l2.4 0.5l2.4 0.7l2.5 0.7l2.4 0.8l2.4 0.7l2.4 0.8l2.4 0.8l2.5 0.7l2.4 0.6l2.4 0.5l2.4 0.4l0.6 0l1.9-0.1l2.4-0.1l2.4-0.1l2.4-0.3l2.5-0.7l2.4-0.8l2.4-0.5l2.4-0.5l2.5-0.3l2.4 0l2.4 0l2.4 0l2.5 0l2.4 0l2.4 0.2l2.4 0.1l2.5 0.4l2.4 0.6l2.4 0.7l2.4 1.1l2.4 1.5l2.5 1.9l2.4 3l2.4 3l2.4 1.5l2.5 0.6l2.4 0l2.4 0l2.4 2.4l2.5 5.8l2.4 10.9l2.4 13.3l2.4 10.9l0.2 0l2.3-14.2l2.4-10.6l2.4-8.4l2.4-7l2.5-5l2.4-2l2.4-1.3l2.4-1l2.5-0.8l2.4-1.1l2.4-1.1" stroke="#80524f" stroke-width="1.0"/>
<path d="M51.5 595.9l4.8 1l4.9 0.3l4.8-2.3l4.9-2.4l4.8 2.2l4.9 8.3l4.8 13.6l4.9 22.3l4.8 4.8l4.9-12.6l4.8-7.8l4.9-4.4l4.8-3.4l4.9-2.3l4.8-2.4l4.9-2l4.8-1.4l4.9-1l4.8-0.7l4.9 0l4.8 0l4.9 0l4.8 0.8l4.9 1.4l4.8 1.5l4.8 1.6l4.9 1.3l4.8 0.9l4.9-0.2l4.8-0.4l4.9-1.5l4.8-1l4.9-0.3l4.8 0l4.9 0l4.8 0.3l4.9 1l4.8 1.8l4.9 3.4l4.8 6l4.9 2.1l4.8 0l4.9 8.2l4.8 24.2l4.9-3.3l4.8-19l4.9-12l4.8-3.3l4.9-1.8l4.8-2.2" marker-start="url(#kmc7)" marker-mid="url(#kmc7)" marker-end="url(#kmc7)"/>
<path d="M51.5 595.9l2.4 0.6l2.4 0.4l2.5 0.2l2.4 0.1l2.4-0.9l2.4-1.4l2.5-1.5l2.4-0.9l2.4 0.6l2.4 1.7l2.5 5.2l2.4 11.8l2.4 11.7l2.4 10.3l2.5 8.1l0.7 0.8l1.7-4.8l2.4-7.2l2.4-6.3l2.5-4.6l2.4-3.2l2.4-2.2l2.4-1.6l2.5-1.1l2.4-0.9l2.4-0.5l2.4-0.5l2.4-0.8l2.5-0.9l2.4-0.8l2.4-0.6l2.4-0.4l2.5-0.3l2.4-0.2l2.4-0.1l2.4 0l2.5 0l2.4 0l2.4 0l2.4 0.1l2.5 0.2l2.4 0.3l2.4 0.4l2.4 0.4l2.5 0.4l2.4 0.4l2.4 0.6l2.4 0.5l2.5 0.6l2.4 0.6l2.4 0.6l2.4 0.6l2.4 0.7l2.5 0.6l2.4 0.6l2.4 0.6l2.4 0.5l2.5 0.4l2.4 0.5l2.4 0.2l0.9 0l1.5-0.2l2.5-1l2.4-1.1l2.4-0.6l2.4-0.4l2.5-0.3l1.5-0.1l0.9 0.1l2.4 0.6l2.4 1.1l2.5 1.2l2.4 1.4l2.4 1.8l2.4 1.9l2.5 2.1l2.4 2.3l2.4 2.8l2.4 3.6l2.4 3.7l2.5 2.5l2.4 1.8l0.9 0.2l1.5-1l2.4-2.8l0.6-0.2l1.9 0.8l2.4 2.1l2.4 2.1l0.2 0l2.2-2.3l2.5-4.7l2.4-5.5l2.4-5.5l2.4-4.3l2.5-3.1l2.4-1.4l2.4-1.1l2.4-1.5l2.5-0.7l2.4 0l2.4 0l2.4 0l2.5 0.2l2.4 0.3l2.4 0.5" stroke="#8c8c16" stroke-width="1.0"/>
<path d="M51.5 595.9l4.8 1l4.9 0.3l4.8-2.3l4.9-2.4l4.8 2.3l4.9 17l4.8 22l4.9 4.1l4.8-13.5l4.9-7.8l4.8-3.8l4.9-2l4.8-1l4.9-1.7l4.8-1.4l4.9-0.7l4.8-0.3l4.9 0l4.8 0l4.9 0.3l4.8 0.7l4.9 0.8l4.8 1l4.9 1.1l4.8 1.2l4.8 1.3l4.9 1.2l4.8 1.1l4.9 0.9l4.8 0l4.9-2.1l4.8-1l4.9-0.3l4.8 1.7l4.9 2.6l4.8 3.7l4.9 4.4l4.8 6.4l4.9 6.2l4.8 1l4.9-2.2l4.8 4.2l4.9-7l4.8-11l4.9-7.4l4.8-2.5l4.9-2.2l4.8 0l4.9 0.2l4.8 0.8" marker-start="url(#kmc8)" marker-mid="url(#kmc8)" marker-end="url(#kmc8)"/>
</g>
<path d="M51.5 578.9H294V780.6" fill="none" stroke="#1a1a1a" stroke-width="1"/>
<path d="M51.5 578.9V780.6H294" fill="none" stroke="#000" stroke-width="1.3"/>
<path d="M51.5 780.6v3.2M81.8 780.6v3.2M112.1 780.6v3.2M142.4 780.6v3.2M172.7 780.6v3.2M203.0 780.6v3.2M233.3 780.6v3.2M263.6 780.6v3.2M293.9 780.6v3.2M66.7 780.6v1.8M97.0 780.6v1.8M127.2 780.6v1.8M157.6 780.6v1.8M187.8 780.6v1.8M218.2 780.6v1.8M248.5 780.6v1.8M278.8 780.6v1.8M51.5 595.2h-3.2M51.5 629.1h-3.2M51.5 663.0h-3.2M51.5 696.9h-3.2M51.5 730.8h-3.2M51.5 764.7h-3.2M51.5 612.2h-1.8M51.5 646.1h-1.8M51.5 680.0h-1.8M51.5 713.9h-1.8M51.5 747.8h-1.8M51.5 781.7h-1.8" stroke="#000" stroke-width="1" fill="none"/>
<g font-family="Liberation Sans, sans-serif" font-weight="bold" font-size="9" fill="#000">
<text x="51.5" y="796.0" text-anchor="middle">2</text>
<text x="81.8" y="796.0" text-anchor="middle">4</text>
<text x="112.1" y="796.0" text-anchor="middle">6</text>
<text x="142.4" y="796.0" text-anchor="middle">8</text>
<text x="172.7" y="796.0" text-anchor="middle">10</text>
<text x="203.0" y="796.0" text-anchor="middle">12</text>
<text x="233.3" y="796.0" text-anchor="middle">14</text>
<text x="263.6" y="796.0" text-anchor="middle">16</text>
<text x="293.9" y="796.0" text-anchor="middle">18</text>
<text x="45.1" y="598.4" text-anchor="end">0</text>
<text x="45.1" y="632.3" text-anchor="end">-10</text>
<text x="45.1" y="666.2" text-anchor="end">-20</text>
<text x="45.1" y="700.1" text-anchor="end">-30</text>
<text x="45.1" y="734.0" text-anchor="end">-40</text>
<text x="45.1" y="767.9" text-anchor="end">-50</text>
</g>
<text font-family="Liberation Sans, sans-serif" font-weight="bold" font-size="13.8" text-anchor="middle" transform="translate(26.3,679.3) rotate(-90)">Reflection Loss (dB)</text>
<text font-family="Liberation Sans, sans-serif" font-weight="bold" font-size="12.1" text-anchor="middle" x="172.5" y="817.9">Frequency (GHz)</text>
<text font-family="Liberation Sans, sans-serif" font-weight="bold" font-size="15.9" x="13.9" y="592.5">(c)</text>
<g font-family="Liberation Sans, sans-serif" font-weight="bold" font-size="6.4">
<path d="M64.8 692.1H80.4" stroke="#000000" stroke-width="1.0"/><use href="#mc0" x="72.6" y="692.1"/>
<text x="82.2" y="694.4">1.0 mm</text>
<path d="M64.8 701.6H80.4" stroke="#ff0000" stroke-width="1.0"/><use href="#mc1" x="72.6" y="701.6"/>
<text x="82.2" y="703.9">1.5 mm</text>
<path d="M64.8 711.1H80.4" stroke="#0000ff" stroke-width="1.0"/><use href="#mc2" x="72.6" y="711.1"/>
<text x="82.2" y="713.4">2.0 mm</text>
<path d="M64.8 720.6H80.4" stroke="#35a56f" stroke-width="1.0"/><use href="#mc3" x="72.6" y="720.6"/>
<text x="82.2" y="722.9">2.5 mm</text>
<path d="M64.8 730.1H80.4" stroke="#b184e4" stroke-width="1.0"/><use href="#mc4" x="72.6" y="730.1"/>
<text x="82.2" y="732.4">3.0 mm</text>
<path d="M64.8 739.6H80.4" stroke="#c8960c" stroke-width="1.0"/><use href="#mc5" x="72.6" y="739.6"/>
<text x="82.2" y="742.0">3.5 mm</text>
<path d="M64.8 749.2H80.4" stroke="#0cc6c6" stroke-width="1.0"/><use href="#mc6" x="72.6" y="749.2"/>
<text x="82.2" y="751.5">4.0 mm</text>
<path d="M64.8 758.7H80.4" stroke="#80524f" stroke-width="1.0"/><use href="#mc7" x="72.6" y="758.7"/>
<text x="82.2" y="761.0">4.5 mm</text>
<path d="M64.8 768.2H80.4" stroke="#8c8c16" stroke-width="1.0"/><use href="#mc8" x="72.6" y="768.2"/>
<text x="82.2" y="770.5">5.0 mm</text>
</g>
</g>
<g id="pd">
<defs><g id="md0" fill="#000000"><rect x="-2.07" y="-2.07" width="4.14" height="4.14"/></g><marker id="kmd0" markerUnits="userSpaceOnUse" markerWidth="12" markerHeight="12" refX="0" refY="0" viewBox="-6 -6 12 12" overflow="visible" orient="0"><g fill="#000000"><rect x="-2.07" y="-2.07" width="4.14" height="4.14"/></g></marker><g id="md1" fill="#ff0000"><circle r="2.30"/></g><marker id="kmd1" markerUnits="userSpaceOnUse" markerWidth="12" markerHeight="12" refX="0" refY="0" viewBox="-6 -6 12 12" overflow="visible" orient="0"><g fill="#ff0000"><circle r="2.30"/></g></marker><g id="md2" fill="#0000ff"><path d="M0 -2.64L2.64 2.12L-2.64 2.12z"/></g><marker id="kmd2" markerUnits="userSpaceOnUse" markerWidth="12" markerHeight="12" refX="0" refY="0" viewBox="-6 -6 12 12" overflow="visible" orient="0"><g fill="#0000ff"><path d="M0 -2.64L2.64 2.12L-2.64 2.12z"/></g></marker><g id="md3" fill="#35a56f"><path d="M0 2.64L2.64 -2.12L-2.64 -2.12z"/></g><marker id="kmd3" markerUnits="userSpaceOnUse" markerWidth="12" markerHeight="12" refX="0" refY="0" viewBox="-6 -6 12 12" overflow="visible" orient="0"><g fill="#35a56f"><path d="M0 2.64L2.64 -2.12L-2.64 -2.12z"/></g></marker><g id="md4" fill="#b184e4"><path d="M0 -2.76L2.76 0L0 2.76L-2.76 0z"/></g><marker id="kmd4" markerUnits="userSpaceOnUse" markerWidth="12" markerHeight="12" refX="0" refY="0" viewBox="-6 -6 12 12" overflow="visible" orient="0"><g fill="#b184e4"><path d="M0 -2.76L2.76 0L0 2.76L-2.76 0z"/></g></marker><g id="md5" fill="#c8960c"><path d="M-2.64 0L2.12 -2.64L2.12 2.64z"/></g><marker id="kmd5" markerUnits="userSpaceOnUse" markerWidth="12" markerHeight="12" refX="0" refY="0" viewBox="-6 -6 12 12" overflow="visible" orient="0"><g fill="#c8960c"><path d="M-2.64 0L2.12 -2.64L2.12 2.64z"/></g></marker><g id="md6" fill="#0cc6c6"><path d="M2.64 0L-2.12 -2.64L-2.12 2.64z"/></g><marker id="kmd6" markerUnits="userSpaceOnUse" markerWidth="12" markerHeight="12" refX="0" refY="0" viewBox="-6 -6 12 12" overflow="visible" orient="0"><g fill="#0cc6c6"><path d="M2.64 0L-2.12 -2.64L-2.12 2.64z"/></g></marker><g id="md7" fill="#80524f"><circle r="2.42"/></g><marker id="kmd7" markerUnits="userSpaceOnUse" markerWidth="12" markerHeight="12" refX="0" refY="0" viewBox="-6 -6 12 12" overflow="visible" orient="0"><g fill="#80524f"><circle r="2.42"/></g></marker><g id="md8" fill="#8c8c16"><path d="M0.00 -3.10L0.77 -1.06L2.95 -0.96L1.24 0.40L1.83 2.51L0.00 1.30L-1.83 2.51L-1.24 0.40L-2.95 -0.96L-0.77 -1.06z"/></g><marker id="kmd8" markerUnits="userSpaceOnUse" markerWidth="12" markerHeight="12" refX="0" refY="0" viewBox="-6 -6 12 12" overflow="visible" orient="0"><g fill="#8c8c16"><path d="M0.00 -3.10L0.77 -1.06L2.95 -0.96L1.24 0.40L1.83 2.51L0.00 1.30L-1.83 2.51L-1.24 0.40L-2.95 -0.96L-0.77 -1.06z"/></g></marker></defs>
<clipPath id="cld"><rect x="44.3" y="868.4" width="252.39999999999998" height="208.39999999999998"/></clipPath>

<g clip-path="url(#cld)" fill="none" stroke-linejoin="round">
<path d="M47.3 886.8l2.5 4l2.4 3.9l2.5 3.5l2.4 3.5l2.5 3.9l2.4 3.4l2.5 2l2.4 1.9l2.5 2.7l2.4 3.1l2.5 3.2l2.4 3.2l2.5 2.8l2.4 2.9l2.5 3.7l2.4 3.7l2.5 3.3l2.5 2.9l2.4 2.4l2.5 1.9l2.4 1.2l2.5 0.9l2.4 0.7l2.5 0.6l2.4 0.5l2.5 0.5l2.4 0.4l2.5 0.5l2.4 1.6l2.5 2.3l2.4 2.7l2.5 3.1l2.4 3.2l2.5 3.6l2.4 4.3l2.5 4.4l2.5 3.9l2.4 3.2l2.5 2.6l2.4 1.9l2.5 1.3l2.4 0.7l2.5-0.4l2.4-0.6l2.5-0.7l2.4-0.7l2.5-0.6l2.4-0.3l2.5 0.4l2.4 0.7l2.5 1.5l2.4 2.3l2.5 2.5l2.5 2.9l2.4 3.6l2.5 3.3l2.4 2l2.5 1.9l2.4 2.2l2.5 2.4l2.4 2.8l2.5 2.3l2.4 1.2l2.5 1.1l2.4 1.5l2.5 1.6l2.4 1.9l2.5 1.8l2.4 1.7l2.5 1.5l2.4 0.7l2.5 0.8l2.5 2l2.4 2.2l2.5 2l2.3 1.1l0.1 0l2.5-0.7l2.4-1.6l2.5-3.4l2.4-5.1l2.5-5.1l2.4-5l2.5-4.6l2.4-4.4l2.5-4.4l2.4-3.3l2.5-1.8l2.4-1l0.4 0l2.1 0.6l2.5 1.4l2.4 2.9l2.5 4.5l2.4 5.5l2.5 6.4l2.4 5.6l2.5 5.3l2.4 5.7l2.5 5.3l2.4 3.6l2.5 2.5" stroke="#000000" stroke-width="1.0"/>
<path d="M47.3 886.8l4.9 7.9l4.9 7l4.9 7.3l4.9 3.9l4.9 5.8l4.9 6.4l4.9 5.7l4.9 7.4l5 6.2l4.9 4.3l4.9 2.1l4.9 1.3l4.9 1l4.9 0.9l4.9 3.9l4.9 5.8l4.9 6.8l4.9 8.7l4.9 7.1l4.9 4.5l4.9 2l4.9-1l4.9-1.4l4.9-0.9l4.9 1.1l4.9 3.8l5 5.4l4.9 6.9l4.9 3.9l4.9 4.6l4.9 5.1l4.9 2.3l4.9 3.1l4.9 3.7l4.9 3.2l4.9 1.5l4.9 4.2l4.9 3.1l4.9-2.3l4.9-8.5l4.9-10.1l4.9-9l4.9-7.7l4.9-2.8l5 2l4.9 7.4l4.9 11.9l4.9 10.9l4.9 11l4.9 6.1" marker-start="url(#kmd0)" marker-mid="url(#kmd0)" marker-end="url(#kmd0)"/>
<path d="M47.3 907.6l2.5 6.4l2.4 6.2l2.5 6l2.4 5.7l2.5 5.3l2.4 5.2l2.5 5.2l2.4 5.1l2.5 5.2l2.4 4.9l2.5 4.3l2.4 3.8l2.5 2.9l2.4 2.5l2.5 2.5l2.4 2.4l2.5 2.6l2.5 2.2l2.4 1.3l2.5 0.6l2.4-0.2l2.5-0.2l2.4-0.1l2.5 0l2.4 0.1l2.5 0.4l2.4 0.5l2.5 0.8l2.4 1.3l2.5 1.6l2.4 1.5l2.5 1.5l2.4 1.7l2.5 1.7l2.4 1.8l2.5 1.5l2.5 1.3l2.4 0.7l2.5-0.1l2.4-0.1l2.5-0.5l2.4-0.7l2.5-1.3l2.4-1.2l2.5-0.9l2.4-0.5l2.5 0.4l2.4 0.9l2.5 1.4l2.4 1.8l2.5 1.6l2.4 1.6l2.5 1.6l2.5 1.4l2.4 1.1l2.3 0.5l0.2 0l2.4-0.3l2.5-0.5l2.4-1.2l2.5-1.5l2.4-0.8l2.5-0.6l2.4-0.4l2.5-0.2l0.1 0l2.3 0.2l2.5 0.5l2.4 1.3l2.5 1.8l2.4 1.8l2.5 1.9l2.4 2l2.5 1.8l2.5 1.9l2.4 1.5l2.5 1.4l2.3 0.7l0.1 0l2.5-1.1l2.4-2.3l2.5-3.9l2.4-5.5l2.5-6l2.4-6l2.5-5.4l2.4-4.8l2.5-4.5l2.4-3.5l2.5-2.7l2.4-1.6l0.4 0l2.1 0.3l2.5 0.7l2.4 1.9l2.5 3.3l2.4 4.1l2.5 4.8l2.4 4.4l2.5 4.2l2.4 4l2.5 3.2l2.4 1.5l2.5 0.7" stroke="#ff0000" stroke-width="1.0"/>
<path d="M47.3 907.6l4.9 12.6l4.9 11.7l4.9 10.5l4.9 10.3l4.9 10.1l4.9 8.1l4.9 5.4l4.9 4.9l5 4.8l4.9 1.9l4.9-0.4l4.9-0.1l4.9 0.5l4.9 1.3l4.9 2.9l4.9 3l4.9 3.4l4.9 3.3l4.9 2l4.9-0.2l4.9-1.2l4.9-2.5l4.9-1.4l4.9 1.3l4.9 3.2l4.9 3.2l5 3l4.9 1.6l4.9-0.8l4.9-2.7l4.9-1.4l4.9-0.6l4.9 0.7l4.9 3.1l4.9 3.7l4.9 3.8l4.9 3.4l4.9 2.1l4.9-3.4l4.9-9.4l4.9-12l4.9-10.2l4.9-8l4.9-4.3l5 1l4.9 5.2l4.9 8.9l4.9 8.6l4.9 7.2l4.9 2.2" marker-start="url(#kmd1)" marker-mid="url(#kmd1)" marker-end="url(#kmd1)"/>
<path d="M47.3 922.2l2.5 5.5l2.4 6.1l2.5 6.7l2.4 6.8l2.5 6.3l2.4 6.3l2.5 6.5l2.4 6.4l2.5 5.9l2.4 5.3l2.5 5.2l2.4 3.6l2.5 1.4l2.4 0.9l2.5 0.4l2.4 0.1l2.5-0.1l2.5-0.4l2.4-1.5l2.5-1.8l2.4-1.1l2.5-0.9l2.4-1.1l2.5-0.8l2.4-0.4l2.5-0.2l2.4 0.2l2.5 0.4l2.4 0.3l2.5 0.3l2.4 0l2.5 0l2.4-0.1l2.5-0.1l2.4-0.2l2.5-0.2l2.5-0.5l2.4-0.9l2.5-1.1l2.4-1.4l2.5-1.2l2.4-1.1l2.5-0.9l2.4-0.6l2.5-0.4l2.4-0.2l2.5 0.1l2.4 0.2l2.5 1l2.4 1.4l2.5 1.6l2.4 1.5l2.5 1.2l2.5 1l2.4 0.7l2.3 0.3l0.2 0l2.4-0.4l2.5-0.8l2.4-1.5l2.5-1.7l2.4-1.2l2.5-0.8l2.4-0.4l2.5-0.1l0.1 0l2.3 0.3l2.5 0.7l2.4 1.1l2.5 1.3l2.4 1.5l2.5 1.6l2.4 1.6l2.5 1.5l2.5 1.4l2.4 1.3l2.5 1.4l2.3 0.7l0.1 0l2.5-0.6l2.4-1.2l2.5-2.3l2.4-3.8l2.5-5.4l2.4-5.6l2.5-4.6l2.4-3.9l2.5-3.6l2.4-2.6l2.5-1.6l2.4-0.9l0.4 0l2.1 0.5l2.5 1.4l2.4 2.1l2.5 3.1l2.4 4l2.5 4.7l2.4 4.1l2.5 4l2.4 3.9l2.5 3.4l2.4 1.9l2.5 0.9" stroke="#0000ff" stroke-width="1.0"/>
<path d="M47.3 922.2l4.9 11.6l4.9 13.5l4.9 12.6l4.9 12.9l4.9 11.2l4.9 8.8l4.9 2.3l4.9 0.5l5-0.5l4.9-3.3l4.9-2l4.9-1.9l4.9-0.6l4.9 0.6l4.9 0.6l4.9 0l4.9-0.2l4.9-0.4l4.9-1.4l4.9-2.5l4.9-2.3l4.9-1.5l4.9-0.6l4.9 0.3l4.9 2.4l4.9 3.1l5 2.2l4.9 1l4.9-1.2l4.9-3.2l4.9-2l4.9-0.5l4.9 1l4.9 2.4l4.9 3.1l4.9 3.1l4.9 2.7l4.9 2.1l4.9-1.8l4.9-6.1l4.9-11l4.9-8.5l4.9-6.2l4.9-2.5l5 1.9l4.9 5.2l4.9 8.7l4.9 8.1l4.9 7.3l4.9 2.8" marker-start="url(#kmd2)" marker-mid="url(#kmd2)" marker-end="url(#kmd2)"/>
<path d="M47.3 921.2l2.5 5.6l2.4 6l2.5 6.9l2.4 6.6l2.5 5l2.4 4.7l2.5 5.7l2.4 5.9l2.5 5.9l2.4 5.2l2.5 3.9l2.4 2.4l2.5 0.7l2.4 0.3l2.5-0.4l2.4-0.6l2.5-1l2.5-1.3l2.4-1.7l2.5-1.8l2.4-1.3l2.5-1l2.4-0.8l2.5-0.4l2.4 0l2.5 0l2.4 0.2l2.5 0.4l2.4 0.2l2.5 0.1l2.4 0l2.5 0l2.4-0.1l2.5-0.2l2.4-0.4l2.5-0.6l2.5-0.7l2.4-0.8l2.5-1l2.4-0.9l2.5-0.8l2.4-0.6l2.5-0.5l2.4-0.5l2.5-0.3l2.4-0.2l2.5 0.1l2.4 0.3l2.5 1.2l2.4 1.8l2.5 1.4l2.4 1.3l2.5 1.3l2.5 1.2l2.4 1.1l2.5 0.6l2.4 0l2.5 0l2.4-0.5l2.5-0.5l2.4 0l2.5 0l2.4 0.2l2.5 0.4l2.4 0.8l2.5 1.2l2.4 1.2l2.5 1.3l2.4 1.6l2.5 1.6l2.4 1.6l2.5 1.6l2.5 1.7l2.4 1.5l2.5 1.4l2.3 0.7l0.1 0l2.5-0.7l2.4-1.5l2.5-2.9l2.4-4.2l2.5-4.6l2.4-4.4l2.5-3.7l2.4-3.5l2.5-3.6l2.4-2.6l2.5-1.2l2.4-0.7l0.4 0l2.1 0.6l2.5 1.4l2.4 2.2l2.5 3.1l2.4 4.1l2.5 4.7l2.4 4.1l2.5 3.9l2.4 4l2.5 3.6l2.4 2l2.5 1.2" stroke="#35a56f" stroke-width="1.0"/>
<path d="M47.3 921.2l4.9 11.6l4.9 13.5l4.9 9.7l4.9 11.6l4.9 11.1l4.9 6.3l4.9 1l4.9-1l5-2.3l4.9-3.5l4.9-2.3l4.9-1.2l4.9 0l4.9 0.6l4.9 0.3l4.9 0l4.9-0.3l4.9-1l4.9-1.5l4.9-1.9l4.9-1.4l4.9-1l4.9-0.5l4.9 0.4l4.9 3l4.9 2.7l5 2.5l4.9 1.7l4.9 0l4.9-1l4.9 0l4.9 0.6l4.9 2l4.9 2.5l4.9 3.2l4.9 3.2l4.9 3.2l4.9 2.1l4.9-2.2l4.9-7.1l4.9-9l4.9-7.2l4.9-6.2l4.9-1.9l5 2l4.9 5.3l4.9 8.8l4.9 8l4.9 7.6l4.9 3.2" marker-start="url(#kmd3)" marker-mid="url(#kmd3)" marker-end="url(#kmd3)"/>
<path d="M47.3 924.1l2.5 3.1l2.4 3.6l2.5 4.4l2.4 4.4l2.5 3.4l2.4 3.3l2.5 3.6l2.4 3.6l2.5 3.8l2.4 3.5l2.5 3l2.4 2.2l2.5 1.6l2.4 1l2.5 0.6l2.4 0.3l2.5-0.1l2.5-0.4l2.4-0.7l2.5-0.7l2.4-0.5l2.5-0.5l2.4-0.6l2.5-0.4l2.4 0l2.5 0l2.4 0.2l2.5 0.4l2.4 0.5l2.5 0.5l2.4 0.4l2.5 0.4l2.4 0.3l2.5 0.3l2.4 0.2l2.5 0.2l2.5 0.1l2.4 0.1l2.5-0.1l2.4-0.1l2.5-0.4l2.4-0.6l2.5-0.7l2.4-0.7l2.5-0.6l2.4-0.4l2.5 0.7l2.4 1.2l2.5 1.4l2.4 1.5l2.5 1.4l2.4 1.4l2.5 1.3l2.5 1.2l2.4 1.1l2.5 0.6l2.4 0l2.5 0l2.4-0.5l2.5-0.6l2.4 0l2.5 0l2.4 0.2l2.5 0.5l2.4 0.8l2.5 1.2l2.4 1.2l2.5 1.3l2.4 1.5l2.5 1.7l2.4 1.5l2.5 1.6l2.5 1.7l2.4 1.6l2.5 1.3l2.3 0.7l0.1 0l2.5-0.6l2.4-1.5l2.5-2.9l2.4-4.3l2.5-4.5l2.4-4.4l2.5-3.8l2.4-3.4l2.5-3.6l2.4-2.6l2.5-1.3l2.4-0.6l0.4 0l2.1 0.6l2.5 1.4l2.4 2.2l2.5 3.1l2.4 4l2.5 4.8l2.4 4.1l2.5 3.9l2.4 4l2.5 3.5l2.4 2.1l2.5 1.2" stroke="#b184e4" stroke-width="1.0"/>
<path d="M47.3 924.1l4.9 6.7l4.9 8.8l4.9 6.7l4.9 7.2l4.9 7.3l4.9 5.2l4.9 2.6l4.9 0.9l5-0.5l4.9-1.4l4.9-1l4.9-1l4.9 0l4.9 0.6l4.9 1l4.9 0.8l4.9 0.6l4.9 0.4l4.9 0.2l4.9-0.2l4.9-1l4.9-1.4l4.9-1l4.9 1.9l4.9 2.9l4.9 2.8l5 2.5l4.9 1.7l4.9 0l4.9-1.1l4.9 0l4.9 0.7l4.9 2l4.9 2.5l4.9 3.2l4.9 3.1l4.9 3.3l4.9 2l4.9-2.1l4.9-7.2l4.9-8.9l4.9-7.2l4.9-6.2l4.9-1.9l5 2l4.9 5.3l4.9 8.8l4.9 8l4.9 7.5l4.9 3.3" marker-start="url(#kmd4)" marker-mid="url(#kmd4)" marker-end="url(#kmd4)"/>
<path d="M47.3 922.2l2.5 2.3l2.4 2.5l2.5 2.8l2.4 3l2.5 3.4l2.4 3.4l2.5 2.9l2.4 2.9l2.5 3l2.4 2.8l2.5 2l2.4 1.8l2.5 1.6l2.4 1.3l2.5 1.1l2.4 0.9l2.5 0.8l2.5 0.5l2.4 0l2.5 0l2.4 0l2.5 0l2.4 0l2.5 0l2.4 0.2l2.5 0.4l2.4 0.4l2.5 0.6l2.4 0.6l2.5 0.7l2.4 0.9l2.5 1l2.4 0.9l2.5 0.7l2.4 0.6l2.5 0.5l2.5 0.3l2.4 0.2l2.5-0.1l2.4-0.1l2.5-0.4l2.4-0.6l2.5-0.7l2.4-0.7l2.5-0.6l2.4-0.4l2.5 0.7l2.4 1.2l2.5 1.4l2.4 1.5l2.5 1.4l2.4 1.4l2.5 1.3l2.5 1.2l2.4 1.1l2.5 0.6l2.4 0l2.5 0l2.4-0.5l2.5-0.6l2.4 0l2.5 0l2.4 0.2l2.5 0.5l2.4 0.8l2.5 1.2l2.4 1.2l2.5 1.3l2.4 1.5l2.5 1.7l2.4 1.5l2.5 1.6l2.5 1.7l2.4 1.6l2.5 1.3l2.3 0.7l0.1 0l2.5-0.6l2.4-1.5l2.5-2.9l2.4-4.3l2.5-4.5l2.4-4.4l2.5-3.8l2.4-3.4l2.5-3.6l2.4-2.6l2.5-1.3l2.4-0.6l0.4 0l2.1 0.6l2.5 1.4l2.4 2.2l2.5 3.1l2.4 4l2.5 4.8l2.4 4.1l2.5 3.9l2.4 4l2.5 3.5l2.4 2.1l2.5 1.2" stroke="#c8960c" stroke-width="1.0"/>
<path d="M47.3 922.2l4.9 4.8l4.9 5.8l4.9 6.8l4.9 5.8l4.9 5.8l4.9 3.8l4.9 2.9l4.9 2l5 1.3l4.9 0l4.9 0l4.9 0l4.9 0.6l4.9 1l4.9 1.3l4.9 1.9l4.9 1.6l4.9 1.1l4.9 0.5l4.9-0.2l4.9-1l4.9-1.4l4.9-1l4.9 1.9l4.9 2.9l4.9 2.8l5 2.5l4.9 1.7l4.9 0l4.9-1.1l4.9 0l4.9 0.7l4.9 2l4.9 2.5l4.9 3.2l4.9 3.1l4.9 3.3l4.9 2l4.9-2.1l4.9-7.2l4.9-8.9l4.9-7.2l4.9-6.2l4.9-1.9l5 2l4.9 5.3l4.9 8.8l4.9 8l4.9 7.5l4.9 3.3" marker-start="url(#kmd5)" marker-mid="url(#kmd5)" marker-end="url(#kmd5)"/>
<path d="M47.3 919.2l2.5 1.9l2.4 2l2.5 2.4l2.4 2.4l2.5 2.2l2.4 2.3l2.5 2.6l2.4 2.6l2.5 2.4l2.4 2.4l2.5 2.8l2.4 2.7l2.5 2.6l2.4 2.2l2.5 1.6l2.4 1.3l2.5 1.1l2.5 0.8l2.4 0.6l2.5 0.4l2.4 0.2l2.5 0.2l2.4 0.2l2.5 0.2l2.4 0.3l2.5 0.3l2.4 0.5l2.5 0.7l2.4 0.8l2.5 0.9l2.4 0.9l2.5 1l2.4 1l2.5 0.9l2.4 0.6l2.5 0.6l2.5 0.8l2.4 0.6l2.5-0.1l2.4-0.1l2.5-0.4l2.4-0.6l2.5-0.7l2.4-0.7l2.5-0.6l2.4-0.4l2.5 0.7l2.4 1.2l2.5 1.4l2.4 1.5l2.5 1.4l2.4 1.4l2.5 1.3l2.5 1.2l2.4 1.1l2.5 0.6l2.4 0l2.5 0l2.4-0.5l2.5-0.6l2.4 0l2.5 0l2.4 0.2l2.5 0.5l2.4 0.8l2.5 1.2l2.4 1.2l2.5 1.3l2.4 1.5l2.5 1.7l2.4 1.5l2.5 1.6l2.5 1.7l2.4 1.6l2.5 1.3l2.3 0.7l0.1 0l2.5-0.6l2.4-1.5l2.5-2.9l2.4-4.3l2.5-4.5l2.4-4.4l2.5-3.8l2.4-3.4l2.5-3.6l2.4-2.6l2.5-1.3l2.4-0.6l0.4 0l2.1 0.6l2.5 1.4l2.4 2.2l2.5 3.1l2.4 4l2.5 4.8l2.4 4.1l2.5 3.9l2.4 4l2.5 3.5l2.4 2.1l2.5 1.2" stroke="#0cc6c6" stroke-width="1.0"/>
<path d="M47.3 919.2l4.9 3.9l4.9 4.8l4.9 4.5l4.9 5.2l4.9 4.8l4.9 5.5l4.9 4.8l4.9 2.9l5 1.9l4.9 1l4.9 0.4l4.9 0.4l4.9 0.6l4.9 1.2l4.9 1.7l4.9 1.9l4.9 1.9l4.9 1.2l4.9 1.4l4.9-0.2l4.9-1l4.9-1.4l4.9-1l4.9 1.9l4.9 2.9l4.9 2.8l5 2.5l4.9 1.7l4.9 0l4.9-1.1l4.9 0l4.9 0.7l4.9 2l4.9 2.5l4.9 3.2l4.9 3.1l4.9 3.3l4.9 2l4.9-2.1l4.9-7.2l4.9-8.9l4.9-7.2l4.9-6.2l4.9-1.9l5 2l4.9 5.3l4.9 8.8l4.9 8l4.9 7.5l4.9 3.3" marker-start="url(#kmd6)" marker-mid="url(#kmd6)" marker-end="url(#kmd6)"/>
<path d="M47.3 916.5l2.5 0.8l2.4 1.4l2.5 2.1l2.4 2.7l2.5 2.9l2.4 2.9l2.5 2.4l2.4 2.4l2.5 2.8l2.4 3l2.5 2.9l2.4 2.8l2.5 2.6l2.4 2.2l2.5 2.1l2.4 1.8l2.5 1.6l2.5 1.3l2.4 0.8l2.5 0.7l2.4 0.5l2.5 0.4l2.4 0.3l2.5 0.2l2.4 0.2l2.5 0.3l2.4 0.4l2.5 0.5l2.4 0.8l2.5 1l2.4 0.9l2.5 1l2.4 0.8l2.5 0.7l2.4 0.5l2.5 0.6l2.5 0.8l2.4 0.6l2.5-0.1l2.4-0.1l2.5-0.4l2.4-0.6l2.5-0.7l2.4-0.7l2.5-0.6l2.4-0.4l2.5 0.7l2.4 1.2l2.5 1.4l2.4 1.5l2.5 1.4l2.4 1.4l2.5 1.3l2.5 1.2l2.4 1.1l2.5 0.6l2.4 0l2.5 0l2.4-0.5l2.5-0.6l2.4 0l2.5 0l2.4 0.2l2.5 0.5l2.4 0.8l2.5 1.2l2.4 1.2l2.5 1.3l2.4 1.5l2.5 1.7l2.4 1.5l2.5 1.6l2.5 1.7l2.4 1.6l2.5 1.3l2.3 0.7l0.1 0l2.5-0.6l2.4-1.5l2.5-2.9l2.4-4.3l2.5-4.5l2.4-4.4l2.5-3.8l2.4-3.4l2.5-3.6l2.4-2.6l2.5-1.3l2.4-0.6l0.4 0l2.1 0.6l2.5 1.4l2.4 2.2l2.5 3.1l2.4 4l2.5 4.8l2.4 4.1l2.5 3.9l2.4 4l2.5 3.5l2.4 2.1l2.5 1.2" stroke="#80524f" stroke-width="1.0"/>
<path d="M47.3 916.5l4.9 2.2l4.9 4.8l4.9 5.8l4.9 4.8l4.9 5.8l4.9 5.7l4.9 4.8l4.9 3.9l5 2.9l4.9 1.5l4.9 0.9l4.9 0.5l4.9 0.5l4.9 0.9l4.9 1.8l4.9 1.9l4.9 1.5l4.9 1.1l4.9 1.4l4.9-0.2l4.9-1l4.9-1.4l4.9-1l4.9 1.9l4.9 2.9l4.9 2.8l5 2.5l4.9 1.7l4.9 0l4.9-1.1l4.9 0l4.9 0.7l4.9 2l4.9 2.5l4.9 3.2l4.9 3.1l4.9 3.3l4.9 2l4.9-2.1l4.9-7.2l4.9-8.9l4.9-7.2l4.9-6.2l4.9-1.9l5 2l4.9 5.3l4.9 8.8l4.9 8l4.9 7.5l4.9 3.3" marker-start="url(#kmd7)" marker-mid="url(#kmd7)" marker-end="url(#kmd7)"/>
<path d="M47.3 915.8l2.5 1l2.4 1.5l2.5 2.2l2.4 2.6l2.5 2.9l2.4 2.9l2.5 2.4l2.4 2.5l2.5 2.8l2.4 3l2.5 2.9l2.4 2.9l2.5 2.5l2.4 2.3l2.5 2l2.4 1.8l2.5 1.7l2.5 1.3l2.4 0.9l2.5 0.6l2.4 0.6l2.5 0.4l2.4 0.2l2.5 0.2l2.4 0.3l2.5 0.2l2.4 0.5l2.5 0.5l2.4 0.8l2.5 0.9l2.4 1l2.5 1l2.4 0.8l2.5 0.7l2.4 0.6l2.5 0.6l2.5 0.8l2.4 0.6l2.5-0.1l2.4-0.1l2.5-0.4l2.4-0.6l2.5-0.7l2.4-0.7l2.5-0.6l2.4-0.4l2.5 0.7l2.4 1.2l2.5 1.4l2.4 1.5l2.5 1.4l2.4 1.4l2.5 1.3l2.5 1.2l2.4 1.1l2.5 0.6l2.4 0l2.5 0l2.4-0.5l2.5-0.6l2.4 0l2.5 0l2.4 0.2l2.5 0.5l2.4 0.8l2.5 1.2l2.4 1.2l2.5 1.3l2.4 1.5l2.5 1.7l2.4 1.5l2.5 1.6l2.5 1.7l2.4 1.6l2.5 1.3l2.3 0.7l0.1 0l2.5-0.6l2.4-1.5l2.5-2.9l2.4-4.3l2.5-4.5l2.4-4.4l2.5-3.8l2.4-3.4l2.5-3.6l2.4-2.6l2.5-1.3l2.4-0.6l0.4 0l2.1 0.6l2.5 1.4l2.4 2.2l2.5 3.1l2.4 4l2.5 4.8l2.4 4.1l2.5 3.9l2.4 4l2.5 3.5l2.4 2.1l2.5 1.2" stroke="#8c8c16" stroke-width="1.0"/>
<path d="M47.3 915.8l4.9 2.5l4.9 4.8l4.9 5.8l4.9 4.9l4.9 5.8l4.9 5.8l4.9 4.8l4.9 3.8l5 3l4.9 1.5l4.9 1l4.9 0.4l4.9 0.5l4.9 1l4.9 1.7l4.9 2l4.9 1.5l4.9 1.2l4.9 1.4l4.9-0.2l4.9-1l4.9-1.4l4.9-1l4.9 1.9l4.9 2.9l4.9 2.8l5 2.5l4.9 1.7l4.9 0l4.9-1.1l4.9 0l4.9 0.7l4.9 2l4.9 2.5l4.9 3.2l4.9 3.1l4.9 3.3l4.9 2l4.9-2.1l4.9-7.2l4.9-8.9l4.9-7.2l4.9-6.2l4.9-1.9l5 2l4.9 5.3l4.9 8.8l4.9 8l4.9 7.5l4.9 3.3" marker-start="url(#kmd8)" marker-mid="url(#kmd8)" marker-end="url(#kmd8)"/>
</g>
<path d="M47.3 868.4H293.7V1076.8" fill="none" stroke="#1a1a1a" stroke-width="1"/>
<path d="M47.3 868.4V1076.8H293.7" fill="none" stroke="#000" stroke-width="1.3"/>
<path d="M47.3 1076.8v3.5M78.0 1076.8v3.5M108.6 1076.8v3.5M139.3 1076.8v3.5M169.9 1076.8v3.5M200.6 1076.8v3.5M231.3 1076.8v3.5M261.9 1076.8v3.5M292.6 1076.8v3.5M62.6 1076.8v1.9M93.3 1076.8v1.9M124.0 1076.8v1.9M154.6 1076.8v1.9M185.3 1076.8v1.9M215.9 1076.8v1.9M246.6 1076.8v1.9M277.2 1076.8v1.9M47.3 868.4h-3.5M47.3 900.4h-3.5M47.3 932.5h-3.5M47.3 964.5h-3.5M47.3 996.6h-3.5M47.3 1028.7h-3.5M47.3 1060.7h-3.5M47.3 884.4h-1.9M47.3 916.5h-1.9M47.3 948.5h-1.9M47.3 980.6h-1.9M47.3 1012.6h-1.9M47.3 1044.7h-1.9M47.3 1076.7h-1.9" stroke="#000" stroke-width="1" fill="none"/>
<g font-family="Liberation Sans, sans-serif" font-weight="bold" font-size="9.7" fill="#000">
<text x="47.3" y="1092.5" text-anchor="middle">2</text>
<text x="78.0" y="1092.5" text-anchor="middle">4</text>
<text x="108.6" y="1092.5" text-anchor="middle">6</text>
<text x="139.3" y="1092.5" text-anchor="middle">8</text>
<text x="169.9" y="1092.5" text-anchor="middle">10</text>
<text x="200.6" y="1092.5" text-anchor="middle">12</text>
<text x="231.3" y="1092.5" text-anchor="middle">14</text>
<text x="261.9" y="1092.5" text-anchor="middle">16</text>
<text x="292.6" y="1092.5" text-anchor="middle">18</text>
<text x="41.1" y="871.9" text-anchor="end">-0.5</text>
<text x="41.1" y="903.9" text-anchor="end">-1.0</text>
<text x="41.1" y="936.0" text-anchor="end">-1.5</text>
<text x="41.1" y="968.0" text-anchor="end">-2.0</text>
<text x="41.1" y="1000.1" text-anchor="end">-2.5</text>
<text x="41.1" y="1032.1" text-anchor="end">-3.0</text>
<text x="41.1" y="1064.2" text-anchor="end">-3.5</text>
</g>
<text font-family="Liberation Sans, sans-serif" font-weight="bold" font-size="13.6" text-anchor="middle" transform="translate(13.4,969.4) rotate(-90)">Reflection Loss (dB)</text>
<text font-family="Liberation Sans, sans-serif" font-weight="bold" font-size="12.3" text-anchor="middle" x="169.9" y="1108.4">Frequency (GHz)</text>
<text font-family="Liberation Sans, sans-serif" font-weight="bold" font-size="15.9" x="0" y="873.1">(d)</text>
<g font-family="Liberation Sans, sans-serif" font-weight="bold" font-size="7.1">
<path d="M202.8 876.4H219.8" stroke="#000000" stroke-width="1.0"/><use href="#md0" x="211.3" y="876.4"/>
<text x="221.6" y="879.0">1.0 mm</text>
<path d="M202.8 886.8H219.8" stroke="#ff0000" stroke-width="1.0"/><use href="#md1" x="211.3" y="886.8"/>
<text x="221.6" y="889.4">1.5 mm</text>
<path d="M202.8 897.3H219.8" stroke="#0000ff" stroke-width="1.0"/><use href="#md2" x="211.3" y="897.3"/>
<text x="221.6" y="899.8">2.0 mm</text>
<path d="M202.8 907.7H219.8" stroke="#35a56f" stroke-width="1.0"/><use href="#md3" x="211.3" y="907.7"/>
<text x="221.6" y="910.2">2.5 mm</text>
<path d="M202.8 918.1H219.8" stroke="#b184e4" stroke-width="1.0"/><use href="#md4" x="211.3" y="918.1"/>
<text x="221.6" y="920.7">3.0 mm</text>
<path d="M202.8 928.5H219.8" stroke="#c8960c" stroke-width="1.0"/><use href="#md5" x="211.3" y="928.5"/>
<text x="221.6" y="931.1">3.5 mm</text>
<path d="M202.8 939.0H219.8" stroke="#0cc6c6" stroke-width="1.0"/><use href="#md6" x="211.3" y="939.0"/>
<text x="221.6" y="941.5">4.0 mm</text>
<path d="M202.8 949.4H219.8" stroke="#80524f" stroke-width="1.0"/><use href="#md7" x="211.3" y="949.4"/>
<text x="221.6" y="952.0">4.5 mm</text>
<path d="M202.8 959.8H219.8" stroke="#8c8c16" stroke-width="1.0"/><use href="#md8" x="211.3" y="959.8"/>
<text x="221.6" y="962.4">5.0 mm</text>
</g>
</g></svg></div></body></html>
